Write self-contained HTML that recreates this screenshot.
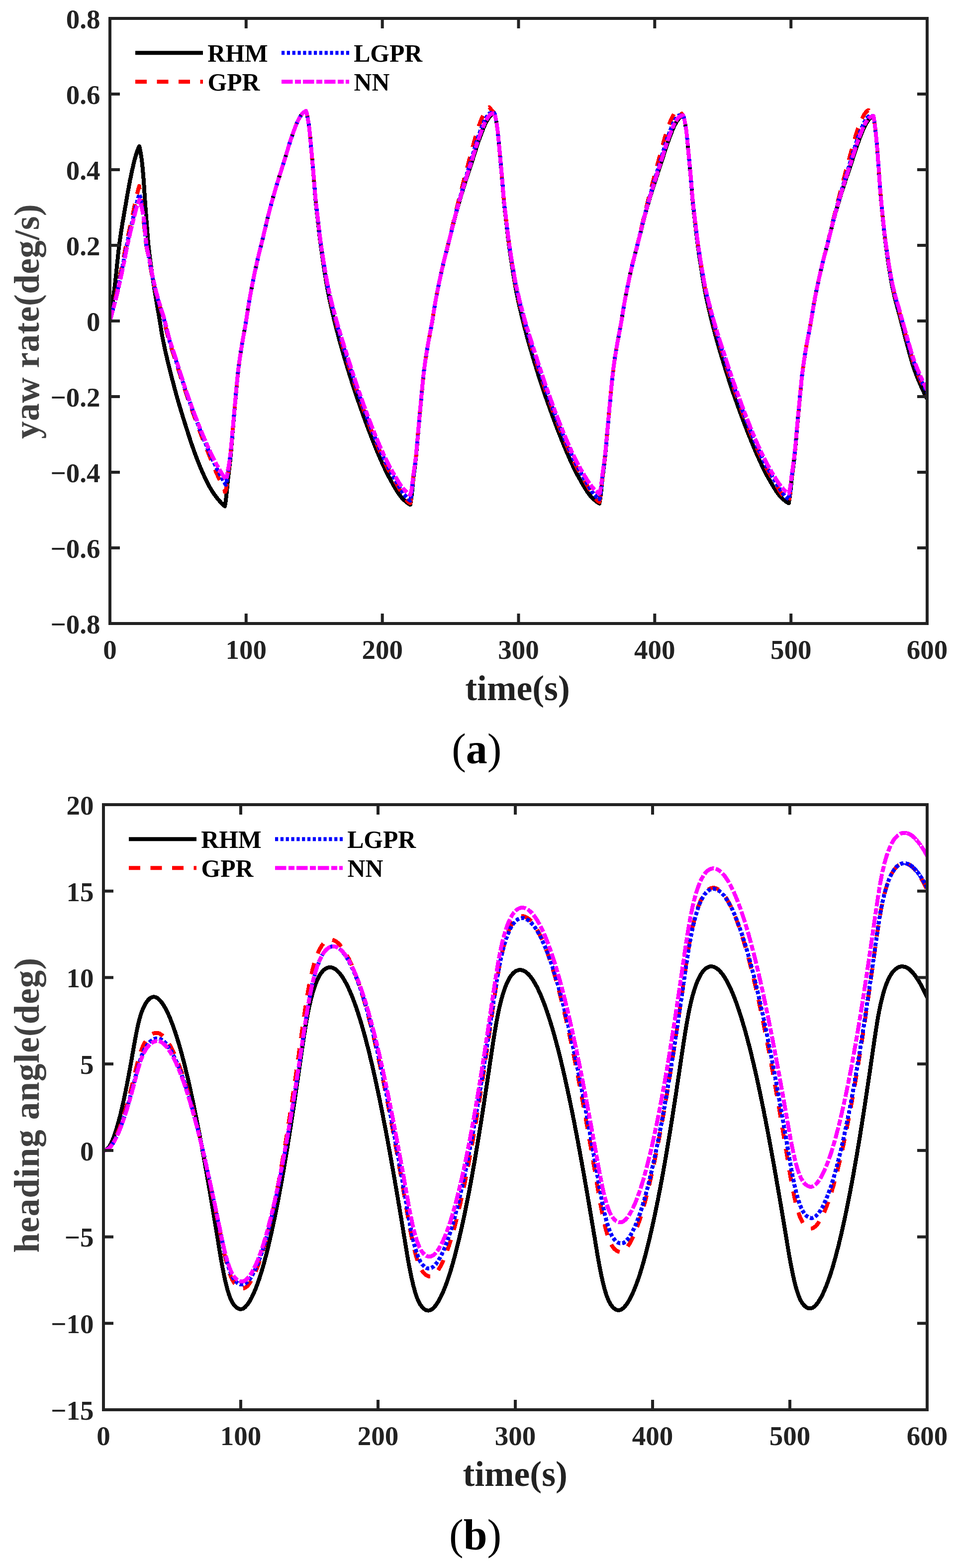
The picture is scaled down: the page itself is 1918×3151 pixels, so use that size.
<!DOCTYPE html>
<html><head><meta charset="utf-8"><title>yaw rate and heading angle</title>
<style>html,body{margin:0;padding:0;background:#fff;}body{width:1918px;height:3151px;overflow:hidden;}svg{display:block;}</style>
</head><body>
<svg width="1918" height="3151" viewBox="0 0 1918 3151">
<defs><clipPath id="ca"><rect x="221.0" y="33.0" width="1643.0" height="1224.0"/></clipPath><clipPath id="cb"><rect x="208.0" y="1613.0" width="1656.0" height="1224.0"/></clipPath></defs>
<path d="M221.0,645.0 L221.6,641.3 L222.1,637.6 L222.7,633.9 L223.2,630.1 L223.8,626.3 L224.3,622.4 L224.9,618.5 L225.4,614.5 L226.0,610.5 L226.6,606.4 L227.1,602.4 L227.7,598.3 L228.2,594.1 L228.8,589.9 L229.3,585.6 L229.9,581.3 L230.4,576.9 L231.0,572.4 L231.6,567.8 L232.1,562.9 L232.7,557.9 L233.2,552.7 L233.8,547.4 L234.3,541.9 L234.9,536.4 L235.4,530.9 L236.0,525.5 L236.6,520.0 L237.1,514.7 L237.7,509.6 L238.2,504.6 L238.8,499.8 L239.3,495.3 L239.9,491.0 L240.4,486.9 L241.0,482.9 L241.6,478.9 L242.1,475.1 L242.7,471.3 L243.2,467.7 L243.8,464.0 L244.3,460.5 L244.9,457.0 L245.4,453.6 L246.0,450.2 L246.5,446.8 L247.1,443.5 L247.7,440.2 L248.2,437.0 L248.8,433.7 L249.3,430.5 L249.9,427.3 L250.4,424.1 L251.0,420.9 L251.5,417.7 L252.1,414.5 L252.7,411.3 L253.2,408.1 L253.8,404.8 L254.3,401.6 L254.9,398.5 L255.4,395.3 L256.0,392.1 L256.5,389.0 L257.1,385.9 L257.7,382.8 L258.2,379.7 L258.8,376.7 L259.3,373.6 L259.9,370.7 L260.4,367.7 L261.0,364.8 L261.5,361.9 L262.1,359.1 L262.7,356.3 L263.2,353.6 L263.8,350.9 L264.3,348.2 L264.9,345.6 L265.4,343.1 L266.0,340.6 L266.5,338.2 L267.1,335.8 L267.7,333.4 L268.2,331.1 L268.8,328.8 L269.3,326.6 L269.9,324.3 L270.4,322.2 L271.0,320.1 L271.5,318.0 L272.1,316.0 L272.7,314.0 L273.2,312.1 L273.8,310.3 L274.3,308.6 L274.9,306.9 L275.4,305.2 L276.0,303.6 L276.5,302.1 L277.1,300.6 L277.7,299.1 L278.2,297.7 L278.8,296.4 L279.3,295.1 L279.9,293.9 L280.4,295.5 L281.0,297.6 L281.5,300.0 L282.1,302.8 L282.6,305.9 L283.2,309.2 L283.7,312.8 L284.3,316.5 L284.8,320.4 L285.4,324.8 L285.9,329.8 L286.5,335.3 L287.0,341.2 L287.6,347.4 L288.1,353.9 L288.7,360.5 L289.2,367.9 L289.8,376.1 L290.3,384.7 L290.9,393.3 L291.4,401.4 L292.0,409.0 L292.5,416.6 L293.1,424.0 L293.6,431.3 L294.2,438.5 L294.7,445.7 L295.3,453.1 L295.8,460.5 L296.4,467.9 L296.9,475.1 L297.5,481.8 L298.0,488.2 L298.6,493.9 L299.1,499.1 L299.7,504.0 L300.2,508.7 L300.8,513.1 L301.3,517.4 L301.9,521.6 L302.4,525.7 L303.0,529.8 L303.5,533.9 L304.1,537.9 L304.6,541.9 L305.2,545.8 L305.7,549.6 L306.3,553.4 L306.8,557.1 L307.4,560.8 L307.9,564.5 L308.5,568.1 L309.0,571.7 L309.6,575.3 L310.1,578.8 L310.7,582.3 L311.2,585.7 L311.8,589.1 L312.3,592.5 L312.9,595.9 L313.4,599.2 L314.0,602.5 L314.5,605.8 L315.1,609.1 L315.6,612.4 L316.2,615.6 L316.7,618.8 L317.3,622.0 L317.8,625.1 L318.4,628.3 L318.9,631.5 L319.5,634.7 L320.0,637.9 L320.6,641.1 L321.1,644.4 L321.7,647.8 L322.2,651.1 L322.8,654.5 L323.3,657.9 L323.9,661.3 L324.4,664.6 L325.0,667.9 L325.5,671.2 L326.1,674.3 L326.6,677.4 L327.2,680.3 L327.7,683.2 L328.3,686.0 L328.9,688.7 L329.4,691.4 L330.0,694.1 L330.5,696.7 L331.1,699.3 L331.6,701.8 L332.2,704.3 L332.7,706.8 L333.3,709.2 L333.8,711.6 L334.4,714.1 L334.9,716.4 L335.5,718.8 L336.0,721.2 L336.6,723.6 L337.1,725.9 L337.7,728.2 L338.2,730.5 L338.8,732.8 L339.3,735.0 L339.9,737.2 L340.4,739.4 L341.0,741.6 L341.5,743.8 L342.1,746.0 L342.6,748.1 L343.2,750.3 L343.7,752.4 L344.3,754.6 L344.8,756.7 L345.4,758.8 L345.9,760.9 L346.5,763.0 L347.0,765.1 L347.6,767.3 L348.1,769.4 L348.7,771.4 L349.2,773.5 L349.8,775.6 L350.3,777.7 L350.9,779.7 L351.4,781.8 L352.0,783.8 L352.5,785.9 L353.1,787.9 L353.6,789.9 L354.2,791.9 L354.7,793.9 L355.3,795.9 L355.8,797.8 L356.4,799.8 L356.9,801.7 L357.5,803.6 L358.0,805.5 L358.6,807.4 L359.1,809.3 L359.7,811.2 L360.2,813.1 L360.8,814.9 L361.3,816.8 L361.9,818.6 L362.4,820.5 L363.0,822.3 L363.5,824.1 L364.1,825.9 L364.6,827.8 L365.2,829.6 L365.7,831.4 L366.3,833.1 L366.8,834.9 L367.4,836.7 L367.9,838.5 L368.5,840.3 L369.0,842.0 L369.6,843.8 L370.1,845.5 L370.7,847.3 L371.2,849.0 L371.8,850.8 L372.3,852.5 L372.9,854.3 L373.4,856.0 L374.0,857.7 L374.5,859.4 L375.1,861.2 L375.6,862.9 L376.2,864.6 L376.7,866.4 L377.3,868.1 L377.8,869.8 L378.4,871.5 L378.9,873.2 L379.5,874.9 L380.0,876.6 L380.6,878.3 L381.1,880.0 L381.7,881.7 L382.2,883.4 L382.8,885.0 L383.3,886.7 L383.9,888.3 L384.4,890.0 L385.0,891.6 L385.5,893.2 L386.1,894.8 L386.6,896.4 L387.2,898.0 L387.7,899.6 L388.3,901.1 L388.8,902.7 L389.4,904.2 L389.9,905.7 L390.5,907.2 L391.0,908.8 L391.6,910.3 L392.1,911.8 L392.7,913.3 L393.2,914.8 L393.8,916.3 L394.3,917.7 L394.9,919.2 L395.4,920.7 L396.0,922.1 L396.5,923.6 L397.1,925.0 L397.6,926.4 L398.2,927.8 L398.7,929.2 L399.3,930.6 L399.8,932.0 L400.4,933.3 L400.9,934.7 L401.5,936.0 L402.0,937.4 L402.6,938.7 L403.1,940.0 L403.7,941.2 L404.2,942.5 L404.8,943.8 L405.3,945.0 L405.9,946.3 L406.4,947.5 L407.0,948.8 L407.5,950.0 L408.1,951.3 L408.6,952.5 L409.2,953.7 L409.7,954.9 L410.3,956.1 L410.8,957.3 L411.4,958.5 L411.9,959.7 L412.5,960.9 L413.0,962.1 L413.6,963.2 L414.1,964.4 L414.7,965.5 L415.2,966.6 L415.8,967.8 L416.3,968.9 L416.9,970.0 L417.4,971.0 L418.0,972.1 L418.5,973.2 L419.1,974.2 L419.6,975.2 L420.2,976.3 L420.7,977.3 L421.3,978.2 L421.8,979.2 L422.4,980.2 L422.9,981.1 L423.5,982.1 L424.1,983.0 L424.6,983.9 L425.2,984.8 L425.7,985.7 L426.3,986.5 L426.8,987.4 L427.4,988.3 L427.9,989.1 L428.5,989.9 L429.0,990.8 L429.6,991.6 L430.1,992.4 L430.7,993.2 L431.2,994.0 L431.8,994.7 L432.3,995.5 L432.9,996.3 L433.4,997.0 L434.0,997.8 L434.5,998.5 L435.1,999.2 L435.6,999.9 L436.2,1000.6 L436.7,1001.3 L437.3,1002.0 L437.8,1002.7 L438.4,1003.3 L438.9,1004.0 L439.5,1004.6 L440.0,1005.3 L440.6,1005.9 L441.1,1006.5 L441.7,1007.1 L442.2,1007.7 L442.8,1008.4 L443.3,1008.9 L443.9,1009.5 L444.4,1010.1 L445.0,1010.7 L445.5,1011.3 L446.1,1011.8 L446.6,1012.4 L447.2,1012.9 L447.7,1013.4 L448.3,1014.0 L448.8,1014.5 L449.4,1015.0 L449.9,1015.5 L450.5,1016.0 L451.0,1016.5 L451.6,1016.9 L452.1,1017.4 L452.6,1014.3 L453.2,1010.9 L453.7,1007.1 L454.2,1003.1 L454.8,998.9 L455.3,994.1 L455.8,988.8 L456.4,983.1 L456.9,977.4 L457.4,971.8 L458.0,966.5 L458.5,961.7 L459.0,957.1 L459.6,952.7 L460.1,948.3 L460.6,944.0 L461.1,939.6 L461.7,935.1 L462.2,930.4 L462.7,925.5 L463.3,920.2 L463.8,914.5 L464.3,908.6 L464.9,902.4 L465.4,896.1 L465.9,889.6 L466.5,883.1 L467.0,876.6 L467.5,870.2 L468.1,863.9 L468.6,857.7 L469.1,851.6 L469.6,845.4 L470.2,839.2 L470.7,833.0 L471.2,826.9 L471.8,820.8 L472.3,814.7 L472.8,808.7 L473.4,802.8 L473.9,796.8 L474.4,790.7 L475.0,784.7 L475.5,778.7 L476.0,772.8 L476.6,767.1 L477.1,761.6 L477.6,756.5 L478.1,751.7 L478.7,747.1 L479.2,742.7 L479.7,738.4 L480.3,734.3 L480.8,730.3 L481.3,726.4 L481.9,722.6 L482.4,718.9 L482.9,715.2 L483.5,711.7 L484.0,708.1 L484.5,704.7 L485.1,701.2 L485.6,697.8 L486.1,694.6 L486.6,691.4 L487.2,688.2 L487.7,685.2 L488.2,682.2 L488.8,679.2 L489.3,676.3 L489.8,673.3 L490.4,670.4 L490.9,667.5 L491.4,664.5 L492.0,661.6 L492.5,658.6 L493.0,655.5 L493.6,652.4 L494.1,649.2 L494.6,646.0 L495.1,642.7 L495.7,639.3 L496.2,635.9 L496.7,632.5 L497.3,629.1 L497.8,625.6 L498.3,622.2 L498.9,618.8 L499.4,615.4 L499.9,612.1 L500.5,608.8 L501.0,605.6 L501.5,602.5 L502.1,599.4 L502.6,596.5 L503.1,593.6 L503.6,590.7 L504.2,587.8 L504.7,584.9 L505.2,582.1 L505.8,579.3 L506.3,576.6 L506.8,573.8 L507.4,571.1 L507.9,568.4 L508.4,565.8 L509.0,563.1 L509.5,560.5 L510.0,557.9 L510.6,555.3 L511.1,552.8 L511.6,550.2 L512.1,547.7 L512.7,545.2 L513.2,542.7 L513.7,540.3 L514.3,537.8 L514.8,535.4 L515.3,533.0 L515.9,530.6 L516.4,528.2 L516.9,525.9 L517.5,523.6 L518.0,521.3 L518.5,519.0 L519.1,516.8 L519.6,514.6 L520.1,512.4 L520.6,510.3 L521.2,508.1 L521.7,506.0 L522.2,503.8 L522.8,501.7 L523.3,499.6 L523.8,497.5 L524.4,495.4 L524.9,493.2 L525.4,491.1 L526.0,489.0 L526.5,486.8 L527.0,484.7 L527.6,482.5 L528.1,480.3 L528.6,478.1 L529.1,475.8 L529.7,473.6 L530.2,471.3 L530.7,469.1 L531.3,466.8 L531.8,464.5 L532.3,462.2 L532.9,459.9 L533.4,457.6 L533.9,455.3 L534.5,453.0 L535.0,450.8 L535.5,448.5 L536.1,446.2 L536.6,444.0 L537.1,441.8 L537.6,439.6 L538.2,437.4 L538.7,435.2 L539.2,433.1 L539.8,431.0 L540.3,428.9 L540.8,426.8 L541.4,424.8 L541.9,422.7 L542.4,420.7 L543.0,418.7 L543.5,416.8 L544.0,414.8 L544.6,412.8 L545.1,410.9 L545.6,409.0 L546.1,407.0 L546.7,405.1 L547.2,403.2 L547.7,401.3 L548.3,399.5 L548.8,397.6 L549.3,395.7 L549.9,393.9 L550.4,392.0 L550.9,390.2 L551.5,388.3 L552.0,386.5 L552.5,384.7 L553.1,382.9 L553.6,381.1 L554.1,379.2 L554.6,377.4 L555.2,375.6 L555.7,373.8 L556.2,372.1 L556.8,370.3 L557.3,368.5 L557.8,366.8 L558.4,365.0 L558.9,363.3 L559.4,361.6 L560.0,359.8 L560.5,358.1 L561.0,356.4 L561.6,354.7 L562.1,353.0 L562.6,351.3 L563.1,349.6 L563.7,347.9 L564.2,346.3 L564.7,344.6 L565.3,342.9 L565.8,341.2 L566.3,339.5 L566.9,337.8 L567.4,336.2 L567.9,334.5 L568.5,332.8 L569.0,331.1 L569.5,329.4 L570.1,327.8 L570.6,326.1 L571.1,324.4 L571.6,322.7 L572.2,321.0 L572.7,319.3 L573.2,317.5 L573.8,315.8 L574.3,314.1 L574.8,312.3 L575.4,310.5 L575.9,308.8 L576.4,307.0 L577.0,305.2 L577.5,303.4 L578.0,301.7 L578.6,299.9 L579.1,298.1 L579.6,296.3 L580.1,294.6 L580.7,292.8 L581.2,291.1 L581.7,289.4 L582.3,287.7 L582.8,286.0 L583.3,284.4 L583.9,282.8 L584.4,281.2 L584.9,279.6 L585.5,278.1 L586.0,276.5 L586.5,275.0 L587.1,273.5 L587.6,272.0 L588.1,270.5 L588.6,269.0 L589.2,267.5 L589.7,266.0 L590.2,264.5 L590.8,263.0 L591.3,261.5 L591.8,260.1 L592.4,258.6 L592.9,257.2 L593.4,255.8 L594.0,254.4 L594.5,253.0 L595.0,251.7 L595.6,250.4 L596.1,249.1 L596.6,247.8 L597.1,246.6 L597.7,245.4 L598.2,244.2 L598.7,243.1 L599.3,242.0 L599.8,240.9 L600.3,239.9 L600.9,238.9 L601.4,238.0 L601.9,237.0 L602.5,236.1 L603.0,235.3 L603.5,234.4 L604.1,233.5 L604.6,232.7 L605.1,231.9 L605.6,231.2 L606.2,230.4 L606.7,229.7 L607.2,229.1 L607.8,228.4 L608.3,227.9 L608.8,227.3 L609.4,226.8 L609.9,226.4 L610.4,225.9 L611.0,225.5 L611.5,225.1 L612.0,224.7 L612.6,224.3 L613.1,224.0 L613.6,223.7 L614.1,223.4 L614.7,223.2 L615.2,223.0 L615.8,224.5 L616.3,226.3 L616.9,228.4 L617.4,230.9 L618.0,233.6 L618.5,236.6 L619.1,239.7 L619.6,243.1 L620.2,246.5 L620.7,250.1 L621.3,254.1 L621.8,258.6 L622.4,263.6 L622.9,269.1 L623.5,274.8 L624.0,280.8 L624.6,286.9 L625.1,293.0 L625.7,299.0 L626.2,304.8 L626.8,310.8 L627.3,316.8 L627.9,323.0 L628.4,329.2 L629.0,335.5 L629.5,341.9 L630.1,348.4 L630.6,354.9 L631.2,361.7 L631.7,368.8 L632.3,375.9 L632.8,383.0 L633.4,389.9 L633.9,396.5 L634.5,402.5 L635.0,408.1 L635.6,413.4 L636.1,418.4 L636.7,423.2 L637.2,428.0 L637.8,432.6 L638.3,437.3 L638.9,442.1 L639.4,447.0 L640.0,452.0 L640.5,457.0 L641.1,462.0 L641.6,466.9 L642.2,471.7 L642.7,476.3 L643.3,480.8 L643.8,485.1 L644.4,489.4 L644.9,493.5 L645.5,497.6 L646.0,501.6 L646.6,505.5 L647.1,509.4 L647.7,513.2 L648.2,516.9 L648.8,520.7 L649.3,524.4 L649.9,528.0 L650.4,531.7 L651.0,535.3 L651.5,539.0 L652.1,542.6 L652.6,546.2 L653.2,549.7 L653.7,553.3 L654.3,556.7 L654.8,560.2 L655.4,563.6 L655.9,566.9 L656.5,570.2 L657.0,573.4 L657.6,576.5 L658.1,579.6 L658.7,582.5 L659.2,585.4 L659.8,588.2 L660.3,591.0 L660.9,593.8 L661.4,596.5 L662.0,599.1 L662.5,601.7 L663.1,604.3 L663.6,606.8 L664.2,609.3 L664.7,611.8 L665.3,614.2 L665.8,616.7 L666.4,619.1 L666.9,621.5 L667.5,623.9 L668.0,626.2 L668.6,628.6 L669.1,631.0 L669.7,633.3 L670.2,635.7 L670.8,638.0 L671.3,640.3 L671.9,642.6 L672.4,644.9 L673.0,647.1 L673.5,649.4 L674.1,651.6 L674.6,653.8 L675.2,656.0 L675.7,658.2 L676.3,660.4 L676.8,662.5 L677.4,664.6 L677.9,666.8 L678.5,668.9 L679.0,671.0 L679.6,673.1 L680.1,675.1 L680.7,677.2 L681.2,679.2 L681.8,681.3 L682.3,683.3 L682.9,685.3 L683.4,687.3 L684.0,689.3 L684.5,691.2 L685.1,693.2 L685.6,695.2 L686.2,697.1 L686.7,699.0 L687.3,701.0 L687.8,702.9 L688.4,704.8 L688.9,706.7 L689.5,708.6 L690.0,710.5 L690.6,712.4 L691.1,714.2 L691.7,716.1 L692.2,718.0 L692.8,719.9 L693.3,721.7 L693.9,723.6 L694.4,725.4 L695.0,727.3 L695.5,729.1 L696.1,730.9 L696.6,732.8 L697.2,734.6 L697.7,736.4 L698.3,738.2 L698.8,740.1 L699.4,741.9 L699.9,743.7 L700.5,745.5 L701.0,747.3 L701.6,749.0 L702.1,750.8 L702.7,752.6 L703.2,754.4 L703.8,756.1 L704.3,757.9 L704.9,759.7 L705.4,761.4 L706.0,763.1 L706.5,764.9 L707.1,766.6 L707.6,768.3 L708.2,770.1 L708.7,771.8 L709.3,773.5 L709.8,775.2 L710.4,776.9 L710.9,778.6 L711.5,780.3 L712.0,781.9 L712.6,783.6 L713.1,785.3 L713.7,786.9 L714.2,788.6 L714.8,790.2 L715.3,791.8 L715.9,793.5 L716.4,795.1 L717.0,796.7 L717.5,798.3 L718.1,799.9 L718.6,801.5 L719.2,803.1 L719.7,804.6 L720.3,806.2 L720.8,807.8 L721.4,809.4 L721.9,810.9 L722.5,812.5 L723.0,814.1 L723.6,815.6 L724.1,817.2 L724.7,818.7 L725.2,820.3 L725.8,821.8 L726.3,823.4 L726.9,824.9 L727.4,826.5 L728.0,828.0 L728.5,829.6 L729.1,831.1 L729.6,832.7 L730.2,834.2 L730.7,835.8 L731.3,837.3 L731.8,838.8 L732.4,840.4 L732.9,841.9 L733.5,843.4 L734.0,844.9 L734.6,846.4 L735.1,847.9 L735.7,849.4 L736.2,850.9 L736.8,852.4 L737.3,853.9 L737.9,855.4 L738.4,856.8 L739.0,858.3 L739.5,859.7 L740.1,861.2 L740.6,862.6 L741.2,864.1 L741.7,865.5 L742.3,866.9 L742.8,868.4 L743.4,869.8 L743.9,871.2 L744.5,872.6 L745.0,874.1 L745.6,875.5 L746.1,876.9 L746.7,878.3 L747.2,879.7 L747.8,881.1 L748.3,882.5 L748.9,884.0 L749.4,885.3 L750.0,886.7 L750.5,888.1 L751.1,889.5 L751.6,890.9 L752.2,892.3 L752.7,893.6 L753.3,895.0 L753.8,896.4 L754.4,897.7 L754.9,899.1 L755.5,900.4 L756.0,901.8 L756.6,903.1 L757.1,904.5 L757.7,905.8 L758.2,907.1 L758.8,908.4 L759.3,909.7 L759.9,911.0 L760.4,912.3 L761.0,913.6 L761.5,914.9 L762.1,916.2 L762.6,917.4 L763.2,918.7 L763.7,919.9 L764.3,921.2 L764.8,922.4 L765.4,923.7 L765.9,924.9 L766.5,926.2 L767.0,927.4 L767.6,928.6 L768.1,929.8 L768.7,931.1 L769.2,932.3 L769.8,933.5 L770.3,934.7 L770.9,935.9 L771.4,937.1 L772.0,938.3 L772.5,939.5 L773.1,940.7 L773.6,941.8 L774.2,943.0 L774.7,944.2 L775.3,945.3 L775.8,946.4 L776.4,947.6 L776.9,948.7 L777.5,949.8 L778.0,950.9 L778.6,952.0 L779.1,953.1 L779.7,954.2 L780.2,955.3 L780.8,956.3 L781.3,957.4 L781.9,958.4 L782.4,959.4 L783.0,960.4 L783.5,961.4 L784.1,962.4 L784.6,963.4 L785.2,964.4 L785.7,965.4 L786.3,966.4 L786.8,967.4 L787.4,968.4 L787.9,969.3 L788.5,970.3 L789.0,971.3 L789.6,972.3 L790.1,973.3 L790.7,974.2 L791.2,975.2 L791.8,976.2 L792.3,977.1 L792.9,978.1 L793.4,979.0 L794.0,980.0 L794.5,980.9 L795.1,981.8 L795.6,982.7 L796.2,983.6 L796.7,984.5 L797.3,985.4 L797.8,986.3 L798.4,987.2 L798.9,988.0 L799.5,988.9 L800.0,989.7 L800.6,990.6 L801.1,991.4 L801.7,992.2 L802.2,993.0 L802.8,993.8 L803.3,994.5 L803.9,995.3 L804.4,996.0 L805.0,996.7 L805.5,997.4 L806.1,998.1 L806.6,998.8 L807.2,999.5 L807.7,1000.1 L808.3,1000.7 L808.8,1001.3 L809.4,1001.9 L809.9,1002.5 L810.5,1003.0 L811.0,1003.6 L811.6,1004.1 L812.1,1004.7 L812.7,1005.2 L813.3,1005.7 L813.8,1006.2 L814.4,1006.7 L814.9,1007.2 L815.5,1007.7 L816.0,1008.2 L816.6,1008.7 L817.1,1009.1 L817.7,1009.6 L818.2,1010.0 L818.8,1010.4 L819.3,1010.8 L819.9,1011.3 L820.4,1011.6 L821.0,1012.0 L821.5,1012.4 L822.1,1012.8 L822.6,1013.1 L823.2,1013.4 L823.7,1013.8 L824.3,1014.1 L824.8,1014.4 L825.4,1011.3 L825.9,1007.9 L826.5,1004.2 L827.0,1000.2 L827.6,996.0 L828.1,991.3 L828.7,986.0 L829.2,980.4 L829.8,974.7 L830.3,969.1 L830.9,963.9 L831.4,959.1 L832.0,954.6 L832.5,950.2 L833.1,945.9 L833.6,941.6 L834.2,937.3 L834.7,932.8 L835.3,928.2 L835.8,923.2 L836.4,918.0 L836.9,912.4 L837.5,906.5 L838.0,900.4 L838.6,894.1 L839.1,887.7 L839.7,881.3 L840.2,874.9 L840.8,868.5 L841.3,862.2 L841.9,856.1 L842.4,850.0 L843.0,843.9 L843.5,837.7 L844.1,831.6 L844.6,825.5 L845.2,819.5 L845.7,813.5 L846.3,807.5 L846.8,801.6 L847.4,795.7 L847.9,789.7 L848.5,783.7 L849.0,777.8 L849.6,771.9 L850.1,766.3 L850.7,760.9 L851.2,755.7 L851.8,751.0 L852.3,746.5 L852.9,742.1 L853.4,737.9 L854.0,733.8 L854.5,729.8 L855.1,725.9 L855.6,722.2 L856.2,718.5 L856.7,714.9 L857.3,711.3 L857.8,707.8 L858.4,704.4 L858.9,701.0 L859.5,697.6 L860.0,694.4 L860.6,691.2 L861.1,688.1 L861.7,685.1 L862.2,682.1 L862.8,679.2 L863.3,676.3 L863.9,673.3 L864.4,670.5 L865.0,667.6 L865.5,664.6 L866.1,661.7 L866.6,658.7 L867.2,655.7 L867.7,652.6 L868.3,649.5 L868.8,646.3 L869.4,643.0 L869.9,639.7 L870.5,636.3 L871.0,632.9 L871.6,629.5 L872.1,626.1 L872.7,622.7 L873.2,619.3 L873.8,615.9 L874.3,612.6 L874.9,609.4 L875.4,606.2 L876.0,603.1 L876.5,600.1 L877.1,597.2 L877.6,594.3 L878.2,591.4 L878.7,588.6 L879.3,585.7 L879.8,583.0 L880.4,580.2 L880.9,577.4 L881.5,574.7 L882.0,572.0 L882.6,569.4 L883.1,566.7 L883.7,564.1 L884.2,561.5 L884.8,558.9 L885.3,556.4 L885.9,553.8 L886.4,551.3 L887.0,548.8 L887.5,546.4 L888.1,543.9 L888.6,541.5 L889.2,539.0 L889.7,536.6 L890.3,534.2 L890.8,531.9 L891.4,529.5 L891.9,527.2 L892.5,524.9 L893.0,522.7 L893.6,520.4 L894.1,518.2 L894.7,516.0 L895.2,513.9 L895.8,511.7 L896.3,509.6 L896.9,507.5 L897.4,505.4 L898.0,503.3 L898.5,501.2 L899.1,499.1 L899.6,497.0 L900.2,494.9 L900.7,492.7 L901.3,490.6 L901.9,488.5 L902.4,486.4 L903.0,484.2 L903.5,482.0 L904.1,479.8 L904.6,477.6 L905.2,475.4 L905.7,473.2 L906.3,470.9 L906.8,468.6 L907.4,466.4 L907.9,464.1 L908.5,461.8 L909.0,459.6 L909.6,457.3 L910.1,455.0 L910.7,452.8 L911.2,450.5 L911.8,448.3 L912.3,446.1 L912.9,443.8 L913.4,441.7 L914.0,439.5 L914.5,437.3 L915.1,435.2 L915.6,433.1 L916.2,431.1 L916.7,429.0 L917.3,427.0 L917.8,425.0 L918.4,423.0 L918.9,421.0 L919.5,419.1 L920.0,417.1 L920.6,415.2 L921.1,413.2 L921.7,411.3 L922.2,409.4 L922.8,407.5 L923.3,405.7 L923.9,403.8 L924.4,401.9 L925.0,400.1 L925.5,398.2 L926.1,396.4 L926.6,394.5 L927.2,392.7 L927.7,390.9 L928.3,389.1 L928.8,387.3 L929.4,385.5 L929.9,383.7 L930.5,381.9 L931.0,380.1 L931.6,378.3 L932.1,376.5 L932.7,374.8 L933.2,373.0 L933.8,371.3 L934.3,369.5 L934.9,367.8 L935.4,366.1 L936.0,364.4 L936.5,362.7 L937.1,361.0 L937.6,359.3 L938.2,357.6 L938.7,355.9 L939.3,354.2 L939.8,352.5 L940.4,350.9 L940.9,349.2 L941.5,347.5 L942.0,345.8 L942.6,344.2 L943.1,342.5 L943.7,340.9 L944.2,339.2 L944.8,337.5 L945.3,335.9 L945.9,334.2 L946.4,332.5 L947.0,330.8 L947.5,329.2 L948.1,327.5 L948.6,325.8 L949.2,324.1 L949.7,322.4 L950.3,320.7 L950.8,319.0 L951.4,317.3 L951.9,315.5 L952.5,313.8 L953.0,312.0 L953.6,310.3 L954.1,308.5 L954.7,306.7 L955.2,305.0 L955.8,303.2 L956.3,301.5 L956.9,299.7 L957.4,298.0 L958.0,296.2 L958.5,294.5 L959.1,292.8 L959.6,291.2 L960.2,289.5 L960.7,287.9 L961.3,286.3 L961.8,284.7 L962.4,283.1 L962.9,281.6 L963.5,280.1 L964.0,278.6 L964.6,277.1 L965.1,275.6 L965.7,274.1 L966.2,272.6 L966.8,271.1 L967.3,269.6 L967.9,268.1 L968.4,266.7 L969.0,265.2 L969.5,263.8 L970.1,262.3 L970.6,260.9 L971.2,259.5 L971.7,258.1 L972.3,256.8 L972.8,255.5 L973.4,254.1 L973.9,252.9 L974.5,251.6 L975.0,250.4 L975.6,249.2 L976.1,248.0 L976.7,246.9 L977.2,245.8 L977.8,244.8 L978.3,243.8 L978.9,242.8 L979.4,241.9 L980.0,240.9 L980.5,240.1 L981.1,239.2 L981.7,238.3 L982.2,237.5 L982.8,236.7 L983.3,235.9 L983.9,235.1 L984.4,234.4 L985.0,233.7 L985.5,233.0 L986.1,232.4 L986.6,231.8 L987.2,231.3 L987.7,230.8 L988.3,230.4 L988.8,229.9 L989.4,229.5 L989.9,229.1 L990.5,228.7 L991.0,228.4 L991.6,228.0 L992.1,227.7 L992.7,227.4 L993.2,227.2 L993.8,227.0 L994.3,228.5 L994.9,230.3 L995.4,232.4 L996.0,234.9 L996.5,237.6 L997.1,240.5 L997.6,243.6 L998.2,246.9 L998.8,250.4 L999.3,253.9 L999.9,257.8 L1000.4,262.3 L1001.0,267.3 L1001.5,272.7 L1002.1,278.4 L1002.6,284.3 L1003.2,290.4 L1003.7,296.4 L1004.3,302.4 L1004.9,308.2 L1005.4,314.1 L1006.0,320.1 L1006.5,326.2 L1007.1,332.4 L1007.6,338.6 L1008.2,344.9 L1008.7,351.3 L1009.3,357.8 L1009.8,364.6 L1010.4,371.6 L1011.0,378.7 L1011.5,385.7 L1012.1,392.5 L1012.6,399.0 L1013.2,405.0 L1013.7,410.6 L1014.3,415.8 L1014.8,420.8 L1015.4,425.6 L1016.0,430.3 L1016.5,434.9 L1017.1,439.6 L1017.6,444.3 L1018.2,449.2 L1018.7,454.1 L1019.3,459.0 L1019.8,464.0 L1020.4,468.8 L1020.9,473.6 L1021.5,478.2 L1022.1,482.7 L1022.6,486.9 L1023.2,491.1 L1023.7,495.2 L1024.3,499.3 L1024.8,503.2 L1025.4,507.1 L1025.9,511.0 L1026.5,514.7 L1027.0,518.5 L1027.6,522.2 L1028.2,525.8 L1028.7,529.5 L1029.3,533.1 L1029.8,536.7 L1030.4,540.3 L1030.9,543.9 L1031.5,547.5 L1032.0,551.0 L1032.6,554.5 L1033.2,557.9 L1033.7,561.4 L1034.3,564.7 L1034.8,568.0 L1035.4,571.3 L1035.9,574.4 L1036.5,577.5 L1037.0,580.6 L1037.6,583.5 L1038.1,586.4 L1038.7,589.2 L1039.3,591.9 L1039.8,594.7 L1040.4,597.3 L1040.9,600.0 L1041.5,602.5 L1042.0,605.1 L1042.6,607.6 L1043.1,610.1 L1043.7,612.5 L1044.2,615.0 L1044.8,617.4 L1045.4,619.8 L1045.9,622.1 L1046.5,624.5 L1047.0,626.9 L1047.6,629.2 L1048.1,631.6 L1048.7,633.9 L1049.2,636.2 L1049.8,638.5 L1050.4,640.8 L1050.9,643.1 L1051.5,645.4 L1052.0,647.6 L1052.6,649.8 L1053.1,652.0 L1053.7,654.2 L1054.2,656.4 L1054.8,658.5 L1055.3,660.7 L1055.9,662.8 L1056.5,664.9 L1057.0,667.0 L1057.6,669.1 L1058.1,671.2 L1058.7,673.3 L1059.2,675.3 L1059.8,677.4 L1060.3,679.4 L1060.9,681.4 L1061.4,683.4 L1062.0,685.4 L1062.6,687.4 L1063.1,689.4 L1063.7,691.3 L1064.2,693.3 L1064.8,695.2 L1065.3,697.1 L1065.9,699.0 L1066.4,701.0 L1067.0,702.9 L1067.6,704.8 L1068.1,706.6 L1068.7,708.5 L1069.2,710.4 L1069.8,712.3 L1070.3,714.1 L1070.9,716.0 L1071.4,717.8 L1072.0,719.7 L1072.5,721.5 L1073.1,723.4 L1073.7,725.2 L1074.2,727.0 L1074.8,728.9 L1075.3,730.7 L1075.9,732.5 L1076.4,734.3 L1077.0,736.1 L1077.5,737.9 L1078.1,739.7 L1078.7,741.5 L1079.2,743.3 L1079.8,745.1 L1080.3,746.9 L1080.9,748.6 L1081.4,750.4 L1082.0,752.2 L1082.5,753.9 L1083.1,755.7 L1083.6,757.4 L1084.2,759.1 L1084.8,760.9 L1085.3,762.6 L1085.9,764.3 L1086.4,766.0 L1087.0,767.8 L1087.5,769.5 L1088.1,771.2 L1088.6,772.9 L1089.2,774.6 L1089.7,776.2 L1090.3,777.9 L1090.9,779.6 L1091.4,781.2 L1092.0,782.9 L1092.5,784.6 L1093.1,786.2 L1093.6,787.8 L1094.2,789.4 L1094.7,791.1 L1095.3,792.7 L1095.9,794.3 L1096.4,795.9 L1097.0,797.5 L1097.5,799.0 L1098.1,800.6 L1098.6,802.2 L1099.2,803.8 L1099.7,805.3 L1100.3,806.9 L1100.8,808.4 L1101.4,810.0 L1102.0,811.5 L1102.5,813.1 L1103.1,814.6 L1103.6,816.2 L1104.2,817.7 L1104.7,819.3 L1105.3,820.8 L1105.8,822.3 L1106.4,823.9 L1106.9,825.4 L1107.5,827.0 L1108.1,828.5 L1108.6,830.0 L1109.2,831.6 L1109.7,833.1 L1110.3,834.6 L1110.8,836.1 L1111.4,837.7 L1111.9,839.2 L1112.5,840.7 L1113.1,842.2 L1113.6,843.7 L1114.2,845.2 L1114.7,846.7 L1115.3,848.2 L1115.8,849.6 L1116.4,851.1 L1116.9,852.6 L1117.5,854.0 L1118.0,855.5 L1118.6,856.9 L1119.2,858.4 L1119.7,859.8 L1120.3,861.2 L1120.8,862.7 L1121.4,864.1 L1121.9,865.5 L1122.5,866.9 L1123.0,868.4 L1123.6,869.8 L1124.1,871.2 L1124.7,872.6 L1125.3,874.0 L1125.8,875.4 L1126.4,876.8 L1126.9,878.2 L1127.5,879.6 L1128.0,881.0 L1128.6,882.4 L1129.1,883.8 L1129.7,885.2 L1130.3,886.5 L1130.8,887.9 L1131.4,889.3 L1131.9,890.6 L1132.5,892.0 L1133.0,893.4 L1133.6,894.7 L1134.1,896.1 L1134.7,897.4 L1135.2,898.7 L1135.8,900.1 L1136.4,901.4 L1136.9,902.7 L1137.5,904.0 L1138.0,905.3 L1138.6,906.6 L1139.1,907.9 L1139.7,909.2 L1140.2,910.5 L1140.8,911.8 L1141.3,913.1 L1141.9,914.3 L1142.5,915.6 L1143.0,916.8 L1143.6,918.1 L1144.1,919.3 L1144.7,920.6 L1145.2,921.8 L1145.8,923.0 L1146.3,924.2 L1146.9,925.5 L1147.5,926.7 L1148.0,927.9 L1148.6,929.1 L1149.1,930.3 L1149.7,931.5 L1150.2,932.7 L1150.8,933.9 L1151.3,935.1 L1151.9,936.3 L1152.4,937.5 L1153.0,938.6 L1153.6,939.8 L1154.1,940.9 L1154.7,942.1 L1155.2,943.2 L1155.8,944.4 L1156.3,945.5 L1156.9,946.6 L1157.4,947.7 L1158.0,948.8 L1158.5,949.9 L1159.1,951.0 L1159.7,952.0 L1160.2,953.1 L1160.8,954.2 L1161.3,955.2 L1161.9,956.2 L1162.4,957.2 L1163.0,958.2 L1163.5,959.2 L1164.1,960.2 L1164.7,961.2 L1165.2,962.2 L1165.8,963.1 L1166.3,964.1 L1166.9,965.1 L1167.4,966.1 L1168.0,967.1 L1168.5,968.0 L1169.1,969.0 L1169.6,970.0 L1170.2,970.9 L1170.8,971.9 L1171.3,972.9 L1171.9,973.8 L1172.4,974.8 L1173.0,975.7 L1173.5,976.7 L1174.1,977.6 L1174.6,978.5 L1175.2,979.4 L1175.7,980.3 L1176.3,981.2 L1176.9,982.1 L1177.4,983.0 L1178.0,983.9 L1178.5,984.8 L1179.1,985.6 L1179.6,986.4 L1180.2,987.3 L1180.7,988.1 L1181.3,988.9 L1181.9,989.7 L1182.4,990.5 L1183.0,991.3 L1183.5,992.0 L1184.1,992.8 L1184.6,993.5 L1185.2,994.2 L1185.7,994.9 L1186.3,995.6 L1186.8,996.3 L1187.4,996.9 L1188.0,997.6 L1188.5,998.2 L1189.1,998.8 L1189.6,999.4 L1190.2,999.9 L1190.7,1000.5 L1191.3,1001.0 L1191.8,1001.6 L1192.4,1002.1 L1193.0,1002.6 L1193.5,1003.1 L1194.1,1003.7 L1194.6,1004.2 L1195.2,1004.6 L1195.7,1005.1 L1196.3,1005.6 L1196.8,1006.1 L1197.4,1006.5 L1197.9,1007.0 L1198.5,1007.4 L1199.1,1007.8 L1199.6,1008.2 L1200.2,1008.6 L1200.7,1009.0 L1201.3,1009.4 L1201.8,1009.8 L1202.4,1010.1 L1202.9,1010.5 L1203.5,1010.8 L1204.0,1011.1 L1204.6,1011.4 L1205.2,1011.7 L1205.7,1008.7 L1206.3,1005.3 L1206.8,1001.6 L1207.4,997.7 L1207.9,993.5 L1208.4,988.9 L1209.0,983.6 L1209.5,978.1 L1210.1,972.4 L1210.6,966.9 L1211.2,961.7 L1211.7,957.0 L1212.3,952.5 L1212.8,948.1 L1213.4,943.9 L1213.9,939.6 L1214.5,935.3 L1215.0,930.9 L1215.6,926.3 L1216.1,921.4 L1216.7,916.2 L1217.2,910.7 L1217.8,904.8 L1218.3,898.8 L1218.9,892.6 L1219.4,886.2 L1220.0,879.9 L1220.5,873.5 L1221.1,867.2 L1221.6,861.0 L1222.2,854.9 L1222.7,848.8 L1223.3,842.8 L1223.8,836.7 L1224.4,830.6 L1224.9,824.6 L1225.5,818.6 L1226.0,812.6 L1226.6,806.8 L1227.1,800.9 L1227.6,795.0 L1228.2,789.1 L1228.7,783.2 L1229.3,777.3 L1229.8,771.5 L1230.4,765.9 L1230.9,760.5 L1231.5,755.5 L1232.0,750.7 L1232.6,746.2 L1233.1,741.9 L1233.7,737.7 L1234.2,733.7 L1234.8,729.7 L1235.3,725.9 L1235.9,722.2 L1236.4,718.5 L1237.0,715.0 L1237.5,711.5 L1238.1,708.0 L1238.6,704.6 L1239.2,701.2 L1239.7,697.9 L1240.3,694.7 L1240.8,691.5 L1241.4,688.5 L1241.9,685.5 L1242.5,682.5 L1243.0,679.6 L1243.6,676.7 L1244.1,673.8 L1244.7,670.9 L1245.2,668.1 L1245.8,665.2 L1246.3,662.3 L1246.8,659.3 L1247.4,656.3 L1247.9,653.3 L1248.5,650.2 L1249.0,647.0 L1249.6,643.7 L1250.1,640.4 L1250.7,637.1 L1251.2,633.7 L1251.8,630.3 L1252.3,627.0 L1252.9,623.6 L1253.4,620.3 L1254.0,616.9 L1254.5,613.7 L1255.1,610.5 L1255.6,607.3 L1256.2,604.2 L1256.7,601.3 L1257.3,598.4 L1257.8,595.5 L1258.4,592.6 L1258.9,589.8 L1259.5,587.0 L1260.0,584.3 L1260.6,581.5 L1261.1,578.8 L1261.7,576.1 L1262.2,573.4 L1262.8,570.8 L1263.3,568.2 L1263.9,565.6 L1264.4,563.0 L1264.9,560.5 L1265.5,557.9 L1266.0,555.4 L1266.6,552.9 L1267.1,550.4 L1267.7,548.0 L1268.2,545.6 L1268.8,543.1 L1269.3,540.7 L1269.9,538.4 L1270.4,536.0 L1271.0,533.6 L1271.5,531.3 L1272.1,529.0 L1272.6,526.7 L1273.2,524.5 L1273.7,522.3 L1274.3,520.1 L1274.8,517.9 L1275.4,515.8 L1275.9,513.7 L1276.5,511.6 L1277.0,509.5 L1277.6,507.4 L1278.1,505.3 L1278.7,503.2 L1279.2,501.1 L1279.8,499.0 L1280.3,497.0 L1280.9,494.9 L1281.4,492.8 L1282.0,490.7 L1282.5,488.5 L1283.1,486.4 L1283.6,484.2 L1284.1,482.1 L1284.7,479.9 L1285.2,477.7 L1285.8,475.5 L1286.3,473.2 L1286.9,471.0 L1287.4,468.7 L1288.0,466.5 L1288.5,464.2 L1289.1,462.0 L1289.6,459.7 L1290.2,457.5 L1290.7,455.3 L1291.3,453.0 L1291.8,450.8 L1292.4,448.6 L1292.9,446.4 L1293.5,444.2 L1294.0,442.1 L1294.6,440.0 L1295.1,437.9 L1295.7,435.8 L1296.2,433.8 L1296.8,431.7 L1297.3,429.7 L1297.9,427.7 L1298.4,425.8 L1299.0,423.8 L1299.5,421.9 L1300.1,419.9 L1300.6,418.0 L1301.2,416.1 L1301.7,414.2 L1302.3,412.3 L1302.8,410.4 L1303.3,408.6 L1303.9,406.7 L1304.4,404.9 L1305.0,403.0 L1305.5,401.2 L1306.1,399.4 L1306.6,397.6 L1307.2,395.8 L1307.7,394.0 L1308.3,392.2 L1308.8,390.4 L1309.4,388.6 L1309.9,386.8 L1310.5,385.0 L1311.0,383.2 L1311.6,381.5 L1312.1,379.7 L1312.7,378.0 L1313.2,376.2 L1313.8,374.5 L1314.3,372.8 L1314.9,371.1 L1315.4,369.4 L1316.0,367.7 L1316.5,366.0 L1317.1,364.3 L1317.6,362.6 L1318.2,360.9 L1318.7,359.3 L1319.3,357.6 L1319.8,355.9 L1320.4,354.3 L1320.9,352.6 L1321.5,351.0 L1322.0,349.3 L1322.5,347.7 L1323.1,346.0 L1323.6,344.4 L1324.2,342.7 L1324.7,341.1 L1325.3,339.4 L1325.8,337.8 L1326.4,336.1 L1326.9,334.5 L1327.5,332.8 L1328.0,331.1 L1328.6,329.5 L1329.1,327.8 L1329.7,326.1 L1330.2,324.4 L1330.8,322.7 L1331.3,321.0 L1331.9,319.3 L1332.4,317.6 L1333.0,315.8 L1333.5,314.1 L1334.1,312.3 L1334.6,310.6 L1335.2,308.8 L1335.7,307.1 L1336.3,305.3 L1336.8,303.6 L1337.4,301.9 L1337.9,300.2 L1338.5,298.5 L1339.0,296.8 L1339.6,295.1 L1340.1,293.5 L1340.7,291.9 L1341.2,290.3 L1341.7,288.7 L1342.3,287.2 L1342.8,285.7 L1343.4,284.2 L1343.9,282.7 L1344.5,281.2 L1345.0,279.7 L1345.6,278.2 L1346.1,276.7 L1346.7,275.3 L1347.2,273.8 L1347.8,272.3 L1348.3,270.9 L1348.9,269.4 L1349.4,268.0 L1350.0,266.6 L1350.5,265.2 L1351.1,263.8 L1351.6,262.4 L1352.2,261.1 L1352.7,259.8 L1353.3,258.5 L1353.8,257.2 L1354.4,255.9 L1354.9,254.7 L1355.5,253.6 L1356.0,252.4 L1356.6,251.3 L1357.1,250.2 L1357.7,249.2 L1358.2,248.2 L1358.8,247.2 L1359.3,246.3 L1359.9,245.4 L1360.4,244.5 L1360.9,243.6 L1361.5,242.8 L1362.0,241.9 L1362.6,241.1 L1363.1,240.4 L1363.7,239.6 L1364.2,238.9 L1364.8,238.2 L1365.3,237.5 L1365.9,236.9 L1366.4,236.4 L1367.0,235.8 L1367.5,235.3 L1368.1,234.9 L1368.6,234.5 L1369.2,234.0 L1369.7,233.6 L1370.3,233.3 L1370.8,232.9 L1371.4,232.6 L1371.9,232.3 L1372.5,232.0 L1373.0,231.8 L1373.6,231.6 L1374.1,233.0 L1374.7,234.8 L1375.2,237.0 L1375.8,239.4 L1376.3,242.0 L1376.9,245.0 L1377.5,248.1 L1378.0,251.4 L1378.6,254.8 L1379.1,258.3 L1379.7,262.2 L1380.2,266.6 L1380.8,271.6 L1381.4,277.0 L1381.9,282.6 L1382.5,288.5 L1383.0,294.5 L1383.6,300.5 L1384.1,306.4 L1384.7,312.2 L1385.3,318.1 L1385.8,324.1 L1386.4,330.1 L1386.9,336.3 L1387.5,342.5 L1388.0,348.8 L1388.6,355.1 L1389.2,361.5 L1389.7,368.3 L1390.3,375.2 L1390.8,382.3 L1391.4,389.3 L1391.9,396.1 L1392.5,402.5 L1393.1,408.5 L1393.6,414.0 L1394.2,419.2 L1394.7,424.1 L1395.3,428.9 L1395.8,433.5 L1396.4,438.1 L1397.0,442.8 L1397.5,447.5 L1398.1,452.3 L1398.6,457.2 L1399.2,462.1 L1399.7,467.0 L1400.3,471.9 L1400.9,476.6 L1401.4,481.2 L1402.0,485.6 L1402.5,489.9 L1403.1,494.0 L1403.6,498.1 L1404.2,502.1 L1404.8,506.0 L1405.3,509.9 L1405.9,513.7 L1406.4,517.5 L1407.0,521.2 L1407.5,524.9 L1408.1,528.5 L1408.7,532.1 L1409.2,535.7 L1409.8,539.3 L1410.3,542.9 L1410.9,546.5 L1411.4,550.0 L1412.0,553.5 L1412.6,557.0 L1413.1,560.4 L1413.7,563.8 L1414.2,567.2 L1414.8,570.4 L1415.3,573.7 L1415.9,576.8 L1416.5,579.9 L1417.0,582.9 L1417.6,585.8 L1418.1,588.7 L1418.7,591.5 L1419.2,594.2 L1419.8,596.9 L1420.4,599.6 L1420.9,602.2 L1421.5,604.7 L1422.0,607.3 L1422.6,609.8 L1423.1,612.2 L1423.7,614.7 L1424.3,617.1 L1424.8,619.5 L1425.4,621.9 L1425.9,624.2 L1426.5,626.6 L1427.0,628.9 L1427.6,631.2 L1428.2,633.6 L1428.7,635.9 L1429.3,638.2 L1429.8,640.5 L1430.4,642.8 L1430.9,645.0 L1431.5,647.3 L1432.1,649.5 L1432.6,651.7 L1433.2,653.9 L1433.7,656.1 L1434.3,658.2 L1434.8,660.4 L1435.4,662.5 L1435.9,664.6 L1436.5,666.7 L1437.1,668.8 L1437.6,670.9 L1438.2,673.0 L1438.7,675.0 L1439.3,677.1 L1439.8,679.1 L1440.4,681.1 L1441.0,683.1 L1441.5,685.1 L1442.1,687.1 L1442.6,689.1 L1443.2,691.0 L1443.7,693.0 L1444.3,694.9 L1444.9,696.8 L1445.4,698.7 L1446.0,700.6 L1446.5,702.5 L1447.1,704.4 L1447.6,706.3 L1448.2,708.2 L1448.8,710.0 L1449.3,711.9 L1449.9,713.8 L1450.4,715.6 L1451.0,717.5 L1451.5,719.3 L1452.1,721.1 L1452.7,723.0 L1453.2,724.8 L1453.8,726.6 L1454.3,728.4 L1454.9,730.3 L1455.4,732.1 L1456.0,733.9 L1456.6,735.7 L1457.1,737.5 L1457.7,739.3 L1458.2,741.0 L1458.8,742.8 L1459.3,744.6 L1459.9,746.4 L1460.5,748.1 L1461.0,749.9 L1461.6,751.7 L1462.1,753.4 L1462.7,755.2 L1463.2,756.9 L1463.8,758.6 L1464.4,760.4 L1464.9,762.1 L1465.5,763.8 L1466.0,765.5 L1466.6,767.2 L1467.1,768.9 L1467.7,770.6 L1468.3,772.3 L1468.8,774.0 L1469.4,775.7 L1469.9,777.3 L1470.5,779.0 L1471.0,780.7 L1471.6,782.3 L1472.2,784.0 L1472.7,785.6 L1473.3,787.2 L1473.8,788.9 L1474.4,790.5 L1474.9,792.1 L1475.5,793.7 L1476.1,795.3 L1476.6,796.8 L1477.2,798.4 L1477.7,800.0 L1478.3,801.6 L1478.8,803.1 L1479.4,804.7 L1480.0,806.2 L1480.5,807.8 L1481.1,809.3 L1481.6,810.9 L1482.2,812.4 L1482.7,814.0 L1483.3,815.5 L1483.9,817.0 L1484.4,818.6 L1485.0,820.1 L1485.5,821.6 L1486.1,823.2 L1486.6,824.7 L1487.2,826.2 L1487.8,827.7 L1488.3,829.3 L1488.9,830.8 L1489.4,832.3 L1490.0,833.8 L1490.5,835.4 L1491.1,836.9 L1491.7,838.4 L1492.2,839.9 L1492.8,841.4 L1493.3,842.9 L1493.9,844.4 L1494.4,845.9 L1495.0,847.3 L1495.5,848.8 L1496.1,850.3 L1496.7,851.7 L1497.2,853.2 L1497.8,854.7 L1498.3,856.1 L1498.9,857.5 L1499.4,859.0 L1500.0,860.4 L1500.6,861.8 L1501.1,863.2 L1501.7,864.6 L1502.2,866.1 L1502.8,867.5 L1503.3,868.9 L1503.9,870.3 L1504.5,871.7 L1505.0,873.1 L1505.6,874.5 L1506.1,875.9 L1506.7,877.3 L1507.2,878.7 L1507.8,880.1 L1508.4,881.4 L1508.9,882.8 L1509.5,884.2 L1510.0,885.6 L1510.6,886.9 L1511.1,888.3 L1511.7,889.7 L1512.3,891.0 L1512.8,892.4 L1513.4,893.7 L1513.9,895.1 L1514.5,896.4 L1515.0,897.7 L1515.6,899.1 L1516.2,900.4 L1516.7,901.7 L1517.3,903.0 L1517.8,904.3 L1518.4,905.6 L1518.9,906.9 L1519.5,908.2 L1520.1,909.5 L1520.6,910.8 L1521.2,912.0 L1521.7,913.3 L1522.3,914.6 L1522.8,915.8 L1523.4,917.1 L1524.0,918.3 L1524.5,919.5 L1525.1,920.7 L1525.6,922.0 L1526.2,923.2 L1526.7,924.4 L1527.3,925.6 L1527.9,926.8 L1528.4,928.0 L1529.0,929.2 L1529.5,930.4 L1530.1,931.6 L1530.6,932.8 L1531.2,934.0 L1531.8,935.2 L1532.3,936.4 L1532.9,937.5 L1533.4,938.7 L1534.0,939.9 L1534.5,941.0 L1535.1,942.1 L1535.7,943.3 L1536.2,944.4 L1536.8,945.5 L1537.3,946.6 L1537.9,947.7 L1538.4,948.8 L1539.0,949.9 L1539.6,951.0 L1540.1,952.0 L1540.7,953.1 L1541.2,954.1 L1541.8,955.2 L1542.3,956.2 L1542.9,957.2 L1543.5,958.2 L1544.0,959.2 L1544.6,960.2 L1545.1,961.1 L1545.7,962.1 L1546.2,963.1 L1546.8,964.0 L1547.4,965.0 L1547.9,966.0 L1548.5,967.0 L1549.0,967.9 L1549.6,968.9 L1550.1,969.9 L1550.7,970.8 L1551.3,971.8 L1551.8,972.7 L1552.4,973.7 L1552.9,974.6 L1553.5,975.6 L1554.0,976.5 L1554.6,977.4 L1555.1,978.3 L1555.7,979.2 L1556.3,980.2 L1556.8,981.0 L1557.4,981.9 L1557.9,982.8 L1558.5,983.7 L1559.0,984.5 L1559.6,985.4 L1560.2,986.2 L1560.7,987.1 L1561.3,987.9 L1561.8,988.7 L1562.4,989.5 L1562.9,990.3 L1563.5,991.0 L1564.1,991.8 L1564.6,992.5 L1565.2,993.2 L1565.7,994.0 L1566.3,994.6 L1566.8,995.3 L1567.4,996.0 L1568.0,996.6 L1568.5,997.3 L1569.1,997.9 L1569.6,998.5 L1570.2,999.1 L1570.7,999.6 L1571.3,1000.2 L1571.9,1000.7 L1572.4,1001.3 L1573.0,1001.8 L1573.5,1002.3 L1574.1,1002.8 L1574.6,1003.3 L1575.2,1003.8 L1575.8,1004.3 L1576.3,1004.8 L1576.9,1005.3 L1577.4,1005.7 L1578.0,1006.2 L1578.5,1006.6 L1579.1,1007.0 L1579.7,1007.5 L1580.2,1007.9 L1580.8,1008.3 L1581.3,1008.6 L1581.9,1009.0 L1582.4,1009.4 L1583.0,1009.7 L1583.6,1010.1 L1584.1,1010.4 L1584.7,1010.7 L1585.2,1011.0 L1585.8,1011.3 L1586.3,1008.3 L1586.9,1004.9 L1587.4,1001.3 L1588.0,997.4 L1588.6,993.2 L1589.1,988.5 L1589.7,983.3 L1590.2,977.8 L1590.8,972.1 L1591.3,966.6 L1591.9,961.5 L1592.4,956.7 L1593.0,952.2 L1593.6,947.9 L1594.1,943.7 L1594.7,939.4 L1595.2,935.1 L1595.8,930.7 L1596.3,926.1 L1596.9,921.3 L1597.4,916.1 L1598.0,910.5 L1598.5,904.7 L1599.1,898.7 L1599.7,892.5 L1600.2,886.2 L1600.8,879.8 L1601.3,873.4 L1601.9,867.1 L1602.4,861.0 L1603.0,854.9 L1603.5,848.9 L1604.1,842.8 L1604.6,836.7 L1605.2,830.7 L1605.8,824.7 L1606.3,818.7 L1606.9,812.7 L1607.4,806.9 L1608.0,801.1 L1608.5,795.2 L1609.1,789.3 L1609.6,783.3 L1610.2,777.5 L1610.8,771.7 L1611.3,766.1 L1611.9,760.8 L1612.4,755.7 L1613.0,751.0 L1613.5,746.5 L1614.1,742.2 L1614.6,738.0 L1615.2,734.0 L1615.7,730.0 L1616.3,726.2 L1616.9,722.5 L1617.4,718.9 L1618.0,715.3 L1618.5,711.8 L1619.1,708.4 L1619.6,704.9 L1620.2,701.6 L1620.7,698.3 L1621.3,695.1 L1621.8,691.9 L1622.4,688.9 L1623.0,685.9 L1623.5,682.9 L1624.1,680.0 L1624.6,677.1 L1625.2,674.3 L1625.7,671.4 L1626.3,668.5 L1626.8,665.7 L1627.4,662.8 L1628.0,659.8 L1628.5,656.8 L1629.1,653.8 L1629.6,650.7 L1630.2,647.5 L1630.7,644.2 L1631.3,641.0 L1631.8,637.6 L1632.4,634.3 L1632.9,630.9 L1633.5,627.5 L1634.1,624.2 L1634.6,620.8 L1635.2,617.5 L1635.7,614.3 L1636.3,611.0 L1636.8,607.9 L1637.4,604.9 L1637.9,601.9 L1638.5,599.0 L1639.0,596.1 L1639.6,593.3 L1640.2,590.5 L1640.7,587.7 L1641.3,584.9 L1641.8,582.2 L1642.4,579.5 L1642.9,576.8 L1643.5,574.1 L1644.0,571.5 L1644.6,568.9 L1645.1,566.3 L1645.7,563.7 L1646.3,561.2 L1646.8,558.6 L1647.4,556.1 L1647.9,553.7 L1648.5,551.2 L1649.0,548.7 L1649.6,546.3 L1650.1,543.9 L1650.7,541.5 L1651.3,539.1 L1651.8,536.8 L1652.4,534.4 L1652.9,532.1 L1653.5,529.8 L1654.0,527.5 L1654.6,525.3 L1655.1,523.1 L1655.7,520.9 L1656.2,518.8 L1656.8,516.6 L1657.4,514.5 L1657.9,512.4 L1658.5,510.3 L1659.0,508.2 L1659.6,506.1 L1660.1,504.1 L1660.7,502.0 L1661.2,499.9 L1661.8,497.8 L1662.3,495.7 L1662.9,493.7 L1663.5,491.6 L1664.0,489.4 L1664.6,487.3 L1665.1,485.2 L1665.7,483.0 L1666.2,480.8 L1666.8,478.6 L1667.3,476.4 L1667.9,474.2 L1668.5,471.9 L1669.0,469.7 L1669.6,467.4 L1670.1,465.2 L1670.7,462.9 L1671.2,460.7 L1671.8,458.5 L1672.3,456.2 L1672.9,454.0 L1673.4,451.8 L1674.0,449.6 L1674.6,447.4 L1675.1,445.2 L1675.7,443.1 L1676.2,441.0 L1676.8,438.9 L1677.3,436.8 L1677.9,434.8 L1678.4,432.8 L1679.0,430.8 L1679.5,428.8 L1680.1,426.8 L1680.7,424.9 L1681.2,422.9 L1681.8,421.0 L1682.3,419.1 L1682.9,417.2 L1683.4,415.3 L1684.0,413.4 L1684.5,411.5 L1685.1,409.7 L1685.6,407.8 L1686.2,406.0 L1686.8,404.1 L1687.3,402.3 L1687.9,400.5 L1688.4,398.7 L1689.0,396.9 L1689.5,395.1 L1690.1,393.3 L1690.6,391.5 L1691.2,389.7 L1691.8,387.9 L1692.3,386.2 L1692.9,384.4 L1693.4,382.6 L1694.0,380.9 L1694.5,379.1 L1695.1,377.4 L1695.6,375.7 L1696.2,374.0 L1696.7,372.2 L1697.3,370.5 L1697.9,368.9 L1698.4,367.2 L1699.0,365.5 L1699.5,363.8 L1700.1,362.1 L1700.6,360.5 L1701.2,358.8 L1701.7,357.2 L1702.3,355.5 L1702.8,353.8 L1703.4,352.2 L1704.0,350.6 L1704.5,348.9 L1705.1,347.3 L1705.6,345.6 L1706.2,344.0 L1706.7,342.3 L1707.3,340.7 L1707.8,339.0 L1708.4,337.4 L1709.0,335.7 L1709.5,334.1 L1710.1,332.4 L1710.6,330.7 L1711.2,329.1 L1711.7,327.4 L1712.3,325.7 L1712.8,324.0 L1713.4,322.3 L1713.9,320.6 L1714.5,318.9 L1715.1,317.1 L1715.6,315.4 L1716.2,313.6 L1716.7,311.9 L1717.3,310.2 L1717.8,308.4 L1718.4,306.7 L1718.9,305.0 L1719.5,303.2 L1720.0,301.5 L1720.6,299.8 L1721.2,298.2 L1721.7,296.5 L1722.3,294.9 L1722.8,293.2 L1723.4,291.7 L1723.9,290.1 L1724.5,288.5 L1725.0,287.0 L1725.6,285.6 L1726.2,284.1 L1726.7,282.6 L1727.3,281.1 L1727.8,279.6 L1728.4,278.1 L1728.9,276.7 L1729.5,275.2 L1730.0,273.7 L1730.6,272.3 L1731.1,270.8 L1731.7,269.4 L1732.3,268.0 L1732.8,266.6 L1733.4,265.2 L1733.9,263.9 L1734.5,262.5 L1735.0,261.2 L1735.6,259.9 L1736.1,258.6 L1736.7,257.4 L1737.2,256.2 L1737.8,255.0 L1738.4,253.9 L1738.9,252.8 L1739.5,251.7 L1740.0,250.6 L1740.6,249.6 L1741.1,248.7 L1741.7,247.8 L1742.2,246.9 L1742.8,246.0 L1743.3,245.1 L1743.9,244.3 L1744.5,243.4 L1745.0,242.6 L1745.6,241.9 L1746.1,241.1 L1746.7,240.4 L1747.2,239.7 L1747.8,239.1 L1748.3,238.4 L1748.9,237.9 L1749.5,237.3 L1750.0,236.9 L1750.6,236.4 L1751.1,236.0 L1751.7,235.6 L1752.2,235.2 L1752.8,234.8 L1753.3,234.4 L1753.9,234.1 L1754.4,233.8 L1755.0,233.5 L1755.6,233.3 L1756.1,233.1 L1756.7,236.1 L1757.2,239.5 L1757.8,243.2 L1758.3,247.1 L1758.9,251.4 L1759.4,255.8 L1760.0,260.5 L1760.5,265.4 L1761.1,270.5 L1761.6,275.8 L1762.2,281.6 L1762.7,288.0 L1763.3,294.7 L1763.9,301.7 L1764.4,308.9 L1765.0,316.3 L1765.5,323.7 L1766.1,331.1 L1766.6,338.6 L1767.2,346.5 L1767.7,354.6 L1768.3,362.7 L1768.8,370.6 L1769.4,378.0 L1769.9,384.9 L1770.5,391.5 L1771.0,398.0 L1771.6,404.3 L1772.2,410.4 L1772.7,416.4 L1773.3,422.2 L1773.8,427.9 L1774.4,433.5 L1774.9,439.0 L1775.5,444.4 L1776.0,449.7 L1776.6,454.9 L1777.1,460.1 L1777.7,465.1 L1778.2,470.1 L1778.8,474.9 L1779.3,479.6 L1779.9,484.2 L1780.5,488.6 L1781.0,492.8 L1781.6,497.0 L1782.1,501.1 L1782.7,505.2 L1783.2,509.2 L1783.8,513.1 L1784.3,517.1 L1784.9,520.9 L1785.4,524.7 L1786.0,528.5 L1786.5,532.2 L1787.1,535.8 L1787.6,539.4 L1788.2,542.9 L1788.8,546.4 L1789.3,549.7 L1789.9,553.1 L1790.4,556.3 L1791.0,559.5 L1791.5,562.6 L1792.1,565.7 L1792.6,568.7 L1793.2,571.6 L1793.7,574.4 L1794.3,577.2 L1794.8,579.8 L1795.4,582.5 L1795.9,585.0 L1796.5,587.5 L1797.1,590.0 L1797.6,592.4 L1798.2,594.7 L1798.7,597.1 L1799.3,599.3 L1799.8,601.6 L1800.4,603.7 L1800.9,605.9 L1801.5,608.0 L1802.0,610.2 L1802.6,612.2 L1803.1,614.3 L1803.7,616.4 L1804.2,618.4 L1804.8,620.4 L1805.4,622.4 L1805.9,624.5 L1806.5,626.5 L1807.0,628.5 L1807.6,630.5 L1808.1,632.5 L1808.7,634.6 L1809.2,636.6 L1809.8,638.7 L1810.3,640.8 L1810.9,642.9 L1811.4,645.1 L1812.0,647.2 L1812.5,649.4 L1813.1,651.5 L1813.7,653.7 L1814.2,655.8 L1814.8,658.0 L1815.3,660.2 L1815.9,662.3 L1816.4,664.5 L1817.0,666.6 L1817.5,668.8 L1818.1,670.9 L1818.6,673.0 L1819.2,675.2 L1819.7,677.3 L1820.3,679.4 L1820.8,681.5 L1821.4,683.6 L1822.0,685.7 L1822.5,687.8 L1823.1,689.8 L1823.6,691.9 L1824.2,693.9 L1824.7,696.0 L1825.3,698.0 L1825.8,700.1 L1826.4,702.1 L1826.9,704.2 L1827.5,706.3 L1828.0,708.3 L1828.6,710.4 L1829.1,712.4 L1829.7,714.5 L1830.2,716.5 L1830.8,718.5 L1831.4,720.5 L1831.9,722.4 L1832.5,724.4 L1833.0,726.3 L1833.6,728.1 L1834.1,730.0 L1834.7,731.8 L1835.2,733.5 L1835.8,735.3 L1836.3,736.9 L1836.9,738.6 L1837.4,740.2 L1838.0,741.8 L1838.5,743.3 L1839.1,744.9 L1839.7,746.4 L1840.2,747.9 L1840.8,749.4 L1841.3,750.8 L1841.9,752.3 L1842.4,753.7 L1843.0,755.1 L1843.5,756.5 L1844.1,757.9 L1844.6,759.2 L1845.2,760.6 L1845.7,761.9 L1846.3,763.3 L1846.8,764.6 L1847.4,765.9 L1848.0,767.2 L1848.5,768.5 L1849.1,769.8 L1849.6,771.1 L1850.2,772.4 L1850.7,773.6 L1851.3,774.9 L1851.8,776.2 L1852.4,777.4 L1852.9,778.7 L1853.5,779.9 L1854.0,781.1 L1854.6,782.3 L1855.1,783.5 L1855.7,784.7 L1856.3,785.9 L1856.8,787.1 L1857.4,788.3 L1857.9,789.4 L1858.5,790.6 L1859.0,791.7 L1859.6,792.9 L1860.1,794.0 L1860.7,795.1 L1861.2,796.2 L1861.8,797.3 L1862.3,798.4 L1862.9,799.5 L1863.4,800.5 L1864.0,801.6" fill="none" stroke="#000000" stroke-width="8" stroke-linejoin="round" shape-rendering="crispEdges" clip-path="url(#ca)"/>
<path d="M221.0,645.0 L221.6,642.8 L222.1,640.5 L222.7,638.3 L223.2,636.0 L223.8,633.7 L224.3,631.4 L224.9,629.1 L225.4,626.8 L226.0,624.5 L226.6,622.1 L227.1,619.8 L227.7,617.4 L228.2,615.1 L228.8,612.7 L229.3,610.3 L229.9,607.9 L230.4,605.5 L231.0,603.1 L231.6,600.7 L232.1,598.3 L232.7,595.9 L233.2,593.4 L233.8,590.9 L234.3,588.4 L234.9,585.8 L235.4,583.3 L236.0,580.6 L236.6,577.9 L237.1,575.2 L237.7,572.5 L238.2,569.7 L238.8,566.9 L239.3,564.2 L239.9,561.4 L240.4,558.7 L241.0,556.0 L241.6,553.3 L242.1,550.6 L242.7,547.9 L243.2,545.2 L243.8,542.5 L244.3,539.8 L244.9,537.1 L245.4,534.4 L246.0,531.6 L246.5,528.9 L247.1,526.1 L247.7,523.2 L248.2,520.4 L248.8,517.4 L249.3,514.4 L249.9,511.4 L250.4,508.3 L251.0,505.2 L251.5,502.2 L252.1,499.2 L252.7,496.3 L253.2,493.5 L253.8,490.8 L254.3,488.1 L254.9,485.4 L255.4,482.9 L256.0,480.3 L256.5,477.8 L257.1,475.3 L257.7,472.8 L258.2,470.4 L258.8,467.9 L259.3,465.5 L259.9,463.1 L260.4,460.7 L261.0,458.2 L261.5,455.8 L262.1,453.4 L262.7,450.9 L263.2,448.5 L263.8,446.0 L264.3,443.4 L264.9,440.9 L265.4,438.3 L266.0,435.6 L266.5,432.9 L267.1,430.2 L267.7,427.5 L268.2,424.8 L268.8,422.0 L269.3,419.3 L269.9,416.6 L270.4,413.8 L271.0,411.1 L271.5,408.5 L272.1,405.8 L272.7,403.2 L273.2,400.7 L273.8,398.1 L274.3,395.7 L274.9,393.3 L275.4,391.0 L276.0,388.7 L276.5,386.5 L277.1,384.3 L277.7,382.1 L278.2,380.0 L278.8,377.9 L279.3,375.9 L279.9,373.8 L280.4,377.3 L281.0,380.9 L281.5,384.6 L282.1,388.4 L282.6,392.3 L283.2,396.3 L283.7,400.5 L284.3,404.7 L284.8,409.1 L285.4,413.5 L285.9,418.0 L286.5,422.6 L287.0,427.2 L287.6,432.0 L288.1,436.7 L288.7,441.5 L289.2,446.6 L289.8,452.1 L290.3,457.7 L290.9,463.5 L291.4,469.2 L292.0,474.9 L292.5,480.2 L293.1,485.2 L293.6,489.6 L294.2,493.4 L294.7,496.8 L295.3,499.8 L295.8,502.7 L296.4,505.3 L296.9,507.8 L297.5,510.2 L298.0,512.6 L298.6,515.0 L299.1,517.5 L299.7,520.1 L300.2,522.8 L300.8,525.8 L301.3,528.8 L301.9,531.9 L302.4,535.0 L303.0,538.2 L303.5,541.4 L304.1,544.5 L304.6,547.7 L305.2,550.7 L305.7,553.7 L306.3,556.6 L306.8,559.3 L307.4,562.0 L307.9,564.5 L308.5,567.1 L309.0,569.5 L309.6,572.0 L310.1,574.4 L310.7,576.8 L311.2,579.1 L311.8,581.4 L312.3,583.6 L312.9,585.8 L313.4,588.0 L314.0,590.2 L314.5,592.3 L315.1,594.5 L315.6,596.5 L316.2,598.6 L316.7,600.7 L317.3,602.7 L317.8,604.6 L318.4,606.5 L318.9,608.4 L319.5,610.2 L320.0,612.0 L320.6,613.8 L321.1,615.5 L321.7,617.3 L322.2,619.0 L322.8,620.7 L323.3,622.5 L323.9,624.2 L324.4,626.0 L325.0,627.7 L325.5,629.5 L326.1,631.3 L326.6,633.1 L327.2,635.0 L327.8,636.9 L328.3,638.8 L328.9,640.8 L329.4,642.9 L330.0,645.0 L330.5,647.2 L331.1,649.4 L331.6,651.7 L332.2,654.0 L332.7,656.3 L333.3,658.6 L333.8,661.0 L334.4,663.3 L334.9,665.6 L335.5,667.9 L336.0,670.1 L336.6,672.3 L337.1,674.5 L337.7,676.6 L338.2,678.6 L338.8,680.6 L339.3,682.5 L339.9,684.4 L340.4,686.2 L341.0,688.0 L341.5,689.8 L342.1,691.6 L342.6,693.3 L343.2,695.0 L343.7,696.7 L344.3,698.4 L344.8,700.0 L345.4,701.7 L345.9,703.3 L346.5,704.9 L347.0,706.5 L347.6,708.2 L348.1,709.8 L348.7,711.4 L349.2,713.1 L349.8,714.7 L350.3,716.4 L350.9,718.0 L351.4,719.7 L352.0,721.5 L352.5,723.2 L353.1,724.9 L353.6,726.6 L354.2,728.4 L354.7,730.1 L355.3,731.9 L355.8,733.6 L356.4,735.3 L356.9,737.1 L357.5,738.8 L358.0,740.6 L358.6,742.3 L359.1,744.1 L359.7,745.8 L360.2,747.6 L360.8,749.3 L361.3,751.1 L361.9,752.8 L362.4,754.5 L363.0,756.2 L363.5,758.0 L364.1,759.7 L364.6,761.4 L365.2,763.1 L365.7,764.8 L366.3,766.5 L366.8,768.2 L367.4,769.9 L367.9,771.6 L368.5,773.2 L369.0,774.9 L369.6,776.6 L370.1,778.3 L370.7,780.0 L371.2,781.7 L371.8,783.3 L372.3,785.0 L372.9,786.7 L373.4,788.3 L374.0,790.0 L374.5,791.6 L375.1,793.2 L375.6,794.9 L376.2,796.5 L376.7,798.1 L377.3,799.7 L377.8,801.3 L378.4,802.9 L378.9,804.5 L379.5,806.0 L380.0,807.6 L380.6,809.1 L381.1,810.7 L381.7,812.2 L382.2,813.8 L382.8,815.3 L383.3,816.8 L383.9,818.3 L384.4,819.8 L385.0,821.3 L385.5,822.8 L386.1,824.3 L386.6,825.8 L387.2,827.3 L387.7,828.8 L388.3,830.3 L388.8,831.8 L389.4,833.3 L389.9,834.8 L390.5,836.2 L391.0,837.7 L391.6,839.2 L392.1,840.7 L392.7,842.2 L393.2,843.7 L393.8,845.2 L394.3,846.7 L394.9,848.2 L395.4,849.7 L396.0,851.2 L396.5,852.7 L397.1,854.2 L397.6,855.7 L398.2,857.2 L398.7,858.7 L399.3,860.2 L399.8,861.7 L400.4,863.2 L400.9,864.6 L401.5,866.1 L402.0,867.6 L402.6,869.1 L403.1,870.5 L403.7,872.0 L404.2,873.4 L404.8,874.9 L405.3,876.3 L405.9,877.8 L406.4,879.2 L407.0,880.6 L407.5,882.0 L408.1,883.4 L408.6,884.8 L409.2,886.3 L409.7,887.7 L410.3,889.1 L410.8,890.4 L411.4,891.8 L411.9,893.2 L412.5,894.6 L413.0,896.0 L413.6,897.4 L414.1,898.7 L414.7,900.1 L415.2,901.5 L415.8,902.8 L416.3,904.2 L416.9,905.6 L417.4,906.9 L418.0,908.3 L418.5,909.7 L419.1,911.0 L419.7,912.4 L420.2,913.8 L420.8,915.1 L421.3,916.5 L421.9,917.8 L422.4,919.2 L423.0,920.6 L423.5,922.0 L424.1,923.3 L424.6,924.7 L425.2,926.1 L425.7,927.4 L426.3,928.8 L426.8,930.2 L427.4,931.5 L427.9,932.9 L428.5,934.3 L429.0,935.6 L429.6,937.0 L430.1,938.3 L430.7,939.6 L431.2,941.0 L431.8,942.3 L432.3,943.6 L432.9,944.9 L433.4,946.2 L434.0,947.5 L434.5,948.8 L435.1,950.1 L435.6,951.4 L436.2,952.6 L436.7,953.9 L437.3,955.1 L437.8,956.4 L438.4,957.6 L438.9,958.8 L439.5,960.0 L440.0,961.3 L440.6,962.5 L441.1,963.7 L441.7,964.9 L442.2,966.1 L442.8,967.3 L443.3,968.4 L443.9,969.6 L444.4,970.8 L445.0,972.0 L445.5,973.1 L446.1,974.3 L446.6,975.4 L447.2,976.6 L447.7,977.7 L448.3,978.8 L448.8,980.0 L449.4,981.1 L449.9,982.2 L450.5,983.3 L451.0,984.4 L451.6,985.5 L452.1,988.5 L452.6,988.1 L453.2,987.1 L453.7,985.6 L454.2,983.5 L454.8,981.1 L455.3,978.0 L455.8,974.2 L456.4,969.8 L456.9,965.3 L457.4,960.8 L458.0,956.6 L458.5,952.7 L459.0,948.9 L459.6,945.2 L460.1,941.6 L460.6,937.9 L461.1,934.1 L461.7,930.1 L462.2,925.9 L462.7,921.3 L463.3,916.4 L463.8,911.1 L464.3,905.5 L464.9,899.6 L465.4,893.5 L465.9,887.3 L466.5,881.0 L467.0,874.7 L467.5,868.5 L468.1,862.3 L468.6,856.3 L469.1,850.3 L469.6,844.2 L470.2,838.1 L470.7,832.0 L471.2,826.0 L471.8,820.0 L472.3,814.0 L472.8,808.0 L473.4,802.2 L473.9,796.2 L474.4,790.2 L475.0,784.2 L475.5,778.3 L476.0,772.4 L476.6,766.7 L477.1,761.3 L477.6,756.2 L478.1,751.4 L478.7,746.9 L479.2,742.5 L479.7,738.2 L480.3,734.1 L480.8,730.1 L481.3,726.2 L481.9,722.5 L482.4,718.8 L482.9,715.1 L483.5,711.6 L484.0,708.0 L484.5,704.6 L485.1,701.1 L485.6,697.8 L486.1,694.5 L486.6,691.3 L487.2,688.2 L487.7,685.1 L488.2,682.1 L488.8,679.2 L489.3,676.2 L489.8,673.3 L490.4,670.4 L490.9,667.5 L491.4,664.5 L492.0,661.6 L492.5,658.6 L493.0,655.5 L493.6,652.4 L494.1,649.2 L494.6,646.0 L495.1,642.7 L495.7,639.3 L496.2,635.9 L496.7,632.5 L497.3,629.1 L497.8,625.6 L498.3,622.2 L498.9,618.8 L499.4,615.4 L499.9,612.1 L500.5,608.8 L501.0,605.6 L501.5,602.5 L502.1,599.4 L502.6,596.5 L503.1,593.6 L503.6,590.7 L504.2,587.8 L504.7,584.9 L505.2,582.1 L505.8,579.3 L506.3,576.6 L506.8,573.8 L507.4,571.1 L507.9,568.4 L508.4,565.8 L509.0,563.1 L509.5,560.5 L510.0,557.9 L510.6,555.3 L511.1,552.8 L511.6,550.2 L512.1,547.7 L512.7,545.2 L513.2,542.7 L513.7,540.3 L514.3,537.8 L514.8,535.4 L515.3,533.0 L515.9,530.6 L516.4,528.2 L516.9,525.9 L517.5,523.6 L518.0,521.3 L518.5,519.0 L519.1,516.8 L519.6,514.6 L520.1,512.4 L520.6,510.3 L521.2,508.1 L521.7,506.0 L522.2,503.8 L522.8,501.7 L523.3,499.6 L523.8,497.5 L524.4,495.4 L524.9,493.2 L525.4,491.1 L526.0,489.0 L526.5,486.8 L527.0,484.7 L527.6,482.5 L528.1,480.3 L528.6,478.1 L529.1,475.8 L529.7,473.6 L530.2,471.3 L530.7,469.1 L531.3,466.8 L531.8,464.5 L532.3,462.2 L532.9,459.9 L533.4,457.6 L533.9,455.3 L534.5,453.0 L535.0,450.8 L535.5,448.5 L536.1,446.2 L536.6,444.0 L537.1,441.8 L537.6,439.6 L538.2,437.4 L538.7,435.2 L539.2,433.1 L539.8,431.0 L540.3,428.9 L540.8,426.8 L541.4,424.8 L541.9,422.7 L542.4,420.7 L543.0,418.7 L543.5,416.8 L544.0,414.8 L544.6,412.8 L545.1,410.9 L545.6,409.0 L546.1,407.0 L546.7,405.1 L547.2,403.2 L547.7,401.3 L548.3,399.5 L548.8,397.6 L549.3,395.7 L549.9,393.9 L550.4,392.0 L550.9,390.2 L551.5,388.3 L552.0,386.5 L552.5,384.7 L553.1,382.9 L553.6,381.1 L554.1,379.2 L554.6,377.4 L555.2,375.6 L555.7,373.8 L556.2,372.1 L556.8,370.3 L557.3,368.5 L557.8,366.8 L558.4,365.0 L558.9,363.3 L559.4,361.6 L560.0,359.8 L560.5,358.1 L561.0,356.4 L561.6,354.7 L562.1,353.0 L562.6,351.3 L563.1,349.6 L563.7,347.9 L564.2,346.3 L564.7,344.6 L565.3,342.9 L565.8,341.2 L566.3,339.5 L566.9,337.8 L567.4,336.2 L567.9,334.5 L568.5,332.8 L569.0,331.1 L569.5,329.4 L570.1,327.8 L570.6,326.1 L571.1,324.4 L571.6,322.7 L572.2,321.0 L572.7,319.3 L573.2,317.5 L573.8,315.8 L574.3,314.1 L574.8,312.3 L575.4,310.5 L575.9,308.8 L576.4,307.0 L577.0,305.2 L577.5,303.4 L578.0,301.7 L578.6,299.9 L579.1,298.1 L579.6,296.3 L580.1,294.6 L580.7,292.8 L581.2,291.1 L581.7,289.4 L582.3,287.7 L582.8,286.0 L583.3,284.4 L583.9,282.8 L584.4,281.2 L584.9,279.6 L585.5,278.1 L586.0,276.5 L586.5,275.0 L587.1,273.5 L587.6,272.0 L588.1,270.5 L588.6,269.0 L589.2,267.5 L589.7,266.0 L590.2,264.5 L590.8,263.0 L591.3,261.5 L591.8,260.1 L592.4,258.6 L592.9,257.2 L593.4,255.8 L594.0,254.4 L594.5,253.0 L595.0,251.7 L595.6,250.4 L596.1,249.1 L596.6,247.8 L597.1,246.6 L597.7,245.4 L598.2,244.2 L598.7,243.1 L599.3,242.0 L599.8,240.9 L600.3,239.9 L600.9,238.9 L601.4,238.0 L601.9,237.0 L602.5,236.1 L603.0,235.3 L603.5,234.4 L604.1,233.5 L604.6,232.7 L605.1,231.9 L605.6,231.2 L606.2,230.4 L606.7,229.7 L607.2,229.1 L607.8,228.4 L608.3,227.9 L608.8,227.3 L609.4,226.8 L609.9,226.4 L610.4,225.9 L611.0,225.5 L611.5,225.1 L612.0,224.7 L612.6,224.3 L613.1,224.0 L613.6,223.7 L614.1,223.4 L614.7,223.2 L615.2,223.0 L615.8,224.5 L616.3,226.3 L616.9,228.4 L617.4,230.9 L618.0,233.6 L618.5,236.5 L619.1,239.7 L619.6,243.0 L620.2,246.4 L620.7,250.0 L621.3,253.9 L621.8,258.4 L622.4,263.4 L622.9,268.8 L623.5,274.5 L624.0,280.5 L624.6,286.5 L625.1,292.6 L625.7,298.5 L626.2,304.4 L626.8,310.3 L627.3,316.3 L627.9,322.4 L628.4,328.5 L629.0,334.8 L629.5,341.1 L630.1,347.5 L630.6,354.0 L631.2,360.7 L631.7,367.7 L632.3,374.8 L632.8,381.8 L633.4,388.7 L633.9,395.2 L634.5,401.1 L635.0,406.6 L635.6,411.8 L636.1,416.8 L636.7,421.5 L637.2,426.2 L637.8,430.8 L638.3,435.4 L638.9,440.1 L639.4,444.9 L640.0,449.8 L640.5,454.7 L641.1,459.6 L641.6,464.4 L642.2,469.1 L642.7,473.7 L643.3,478.1 L643.8,482.3 L644.4,486.4 L644.9,490.5 L645.5,494.4 L646.0,498.3 L646.6,502.1 L647.1,505.9 L647.7,509.6 L648.2,513.3 L648.8,516.9 L649.3,520.5 L649.9,524.1 L650.4,527.6 L651.0,531.2 L651.5,534.7 L652.1,538.2 L652.6,541.7 L653.2,545.1 L653.7,548.5 L654.3,551.9 L654.8,555.3 L655.4,558.5 L655.9,561.8 L656.5,564.9 L657.0,568.0 L657.6,571.0 L658.1,574.0 L658.7,576.8 L659.2,579.6 L659.8,582.3 L660.3,585.0 L660.9,587.6 L661.4,590.2 L662.0,592.7 L662.5,595.2 L663.1,597.7 L663.6,600.1 L664.2,602.5 L664.7,604.9 L665.3,607.2 L665.8,609.5 L666.4,611.8 L666.9,614.1 L667.5,616.4 L668.0,618.6 L668.6,620.9 L669.1,623.1 L669.7,625.4 L670.2,627.6 L670.8,629.8 L671.3,632.0 L671.9,634.2 L672.4,636.4 L673.0,638.5 L673.5,640.7 L674.1,642.8 L674.6,644.9 L675.2,647.0 L675.7,649.1 L676.3,651.1 L676.8,653.2 L677.4,655.2 L677.9,657.2 L678.5,659.2 L679.0,661.2 L679.6,663.2 L680.1,665.2 L680.7,667.2 L681.2,669.1 L681.8,671.0 L682.3,673.0 L682.9,674.9 L683.4,676.8 L684.0,678.7 L684.5,680.6 L685.1,682.4 L685.6,684.3 L686.2,686.2 L686.7,688.0 L687.3,689.9 L687.8,691.7 L688.4,693.5 L688.9,695.4 L689.5,697.2 L690.0,699.0 L690.6,700.8 L691.1,702.6 L691.7,704.4 L692.2,706.2 L692.8,708.0 L693.3,709.8 L693.9,711.6 L694.4,713.4 L695.0,715.2 L695.5,717.0 L696.1,718.7 L696.6,720.5 L697.2,722.3 L697.7,724.1 L698.3,725.8 L698.8,727.6 L699.4,729.4 L699.9,731.1 L700.5,732.9 L701.0,734.6 L701.6,736.4 L702.1,738.1 L702.7,739.9 L703.2,741.6 L703.8,743.4 L704.3,745.1 L704.9,746.8 L705.4,748.6 L706.0,750.3 L706.5,752.0 L707.1,753.7 L707.6,755.4 L708.2,757.2 L708.7,758.9 L709.3,760.6 L709.8,762.3 L710.4,764.0 L710.9,765.7 L711.5,767.3 L712.0,769.0 L712.6,770.7 L713.1,772.4 L713.7,774.0 L714.2,775.7 L714.8,777.3 L715.3,778.9 L715.9,780.5 L716.4,782.2 L717.0,783.8 L717.5,785.4 L718.1,787.0 L718.6,788.6 L719.2,790.1 L719.7,791.7 L720.3,793.3 L720.8,794.9 L721.4,796.4 L721.9,798.0 L722.5,799.6 L723.0,801.1 L723.6,802.7 L724.1,804.3 L724.7,805.8 L725.2,807.4 L725.8,808.9 L726.3,810.5 L726.9,812.0 L727.4,813.6 L728.0,815.1 L728.5,816.7 L729.1,818.2 L729.6,819.8 L730.2,821.3 L730.7,822.8 L731.3,824.4 L731.8,825.9 L732.4,827.4 L732.9,829.0 L733.5,830.5 L734.0,832.0 L734.6,833.5 L735.1,835.0 L735.7,836.5 L736.2,838.0 L736.8,839.5 L737.3,841.0 L737.9,842.4 L738.4,843.9 L739.0,845.4 L739.5,846.8 L740.1,848.3 L740.6,849.7 L741.2,851.1 L741.7,852.6 L742.3,854.0 L742.8,855.4 L743.4,856.9 L743.9,858.3 L744.5,859.7 L745.0,861.1 L745.6,862.6 L746.1,864.0 L746.7,865.4 L747.2,866.8 L747.8,868.2 L748.3,869.6 L748.9,871.0 L749.4,872.4 L750.0,873.8 L750.5,875.2 L751.1,876.6 L751.6,878.0 L752.2,879.4 L752.7,880.7 L753.3,882.1 L753.8,883.5 L754.4,884.8 L754.9,886.2 L755.5,887.5 L756.0,888.9 L756.6,890.2 L757.1,891.5 L757.7,892.9 L758.2,894.2 L758.8,895.5 L759.3,896.8 L759.9,898.1 L760.4,899.4 L761.0,900.7 L761.5,902.0 L762.1,903.2 L762.6,904.5 L763.2,905.8 L763.7,907.0 L764.3,908.3 L764.8,909.5 L765.4,910.8 L765.9,912.0 L766.5,913.2 L767.0,914.5 L767.6,915.7 L768.1,916.9 L768.7,918.1 L769.2,919.4 L769.8,920.6 L770.3,921.8 L770.9,923.0 L771.4,924.2 L772.0,925.4 L772.5,926.6 L773.1,927.7 L773.6,928.9 L774.2,930.1 L774.7,931.2 L775.3,932.4 L775.8,933.5 L776.4,934.7 L776.9,935.8 L777.5,936.9 L778.0,938.0 L778.6,939.1 L779.1,940.2 L779.7,941.3 L780.2,942.3 L780.8,943.4 L781.3,944.5 L781.9,945.5 L782.4,946.5 L783.0,947.5 L783.5,948.5 L784.1,949.5 L784.6,950.5 L785.2,951.5 L785.7,952.5 L786.3,953.5 L786.8,954.5 L787.4,955.4 L787.9,956.4 L788.5,957.4 L789.0,958.4 L789.6,959.4 L790.1,960.3 L790.7,961.3 L791.2,962.3 L791.8,963.2 L792.3,964.2 L792.9,965.1 L793.4,966.1 L794.0,967.0 L794.5,968.0 L795.1,968.9 L795.6,969.8 L796.2,970.7 L796.7,971.7 L797.3,972.6 L797.8,973.6 L798.4,974.5 L798.9,975.5 L799.5,976.5 L800.0,977.5 L800.6,978.4 L801.1,979.4 L801.7,980.4 L802.2,981.4 L802.8,982.4 L803.3,983.4 L803.9,984.3 L804.4,985.3 L805.0,986.3 L805.5,987.2 L806.1,988.2 L806.6,989.1 L807.2,990.0 L807.7,990.9 L808.3,991.8 L808.8,992.7 L809.4,993.6 L809.9,994.4 L810.5,995.3 L811.0,996.1 L811.6,996.9 L812.1,997.7 L812.7,998.5 L813.3,999.3 L813.8,1000.1 L814.4,1000.8 L814.9,1001.6 L815.5,1002.3 L816.0,1003.0 L816.6,1003.7 L817.1,1004.4 L817.7,1005.1 L818.2,1005.7 L818.8,1006.3 L819.3,1006.9 L819.9,1007.5 L820.4,1008.0 L821.0,1008.5 L821.5,1009.0 L822.1,1009.5 L822.6,1009.9 L823.2,1010.3 L823.7,1010.7 L824.3,1011.0 L824.8,1011.3 L825.4,1008.5 L825.9,1005.3 L826.5,1001.8 L827.0,998.0 L827.6,994.0 L828.1,989.4 L828.7,984.3 L829.2,978.8 L829.8,973.2 L830.3,967.8 L830.9,962.7 L831.4,958.0 L832.0,953.5 L832.5,949.2 L833.1,945.0 L833.6,940.8 L834.2,936.5 L834.7,932.1 L835.3,927.5 L835.8,922.6 L836.4,917.4 L836.9,911.9 L837.5,906.0 L838.0,900.0 L838.6,893.7 L839.1,887.4 L839.7,881.0 L840.2,874.5 L840.8,868.2 L841.3,862.0 L841.9,855.9 L842.4,849.8 L843.0,843.7 L843.5,837.5 L844.1,831.4 L844.6,825.4 L845.2,819.3 L845.7,813.3 L846.3,807.4 L846.8,801.5 L847.4,795.6 L847.9,789.6 L848.5,783.6 L849.0,777.7 L849.6,771.8 L850.1,766.2 L850.7,760.8 L851.2,755.7 L851.8,750.9 L852.3,746.4 L852.9,742.0 L853.4,737.8 L854.0,733.7 L854.5,729.7 L855.1,725.9 L855.6,722.1 L856.2,718.5 L856.7,714.8 L857.3,711.3 L857.8,707.8 L858.4,704.4 L858.9,701.0 L859.5,697.6 L860.0,694.4 L860.6,691.2 L861.1,688.1 L861.7,685.1 L862.2,682.1 L862.8,679.2 L863.3,676.2 L863.9,673.3 L864.4,670.4 L865.0,667.5 L865.5,664.6 L866.1,661.7 L866.6,658.7 L867.2,655.7 L867.7,652.6 L868.3,649.5 L868.8,646.2 L869.4,643.0 L869.9,639.6 L870.5,636.3 L871.0,632.9 L871.6,629.5 L872.1,626.0 L872.7,622.6 L873.2,619.3 L873.8,615.9 L874.3,612.6 L874.9,609.4 L875.4,606.2 L876.0,603.1 L876.5,600.1 L877.1,597.1 L877.6,594.2 L878.2,591.4 L878.7,588.5 L879.3,585.7 L879.8,582.9 L880.4,580.1 L880.9,577.4 L881.5,574.7 L882.0,572.0 L882.6,569.3 L883.1,566.6 L883.7,564.0 L884.2,561.4 L884.8,558.8 L885.3,556.2 L885.9,553.7 L886.4,551.2 L887.0,548.7 L887.5,546.2 L888.1,543.7 L888.6,541.2 L889.2,538.8 L889.7,536.4 L890.3,534.0 L890.8,531.6 L891.4,529.2 L891.9,526.9 L892.5,524.6 L893.0,522.3 L893.6,520.0 L894.1,517.8 L894.7,515.6 L895.2,513.4 L895.8,511.2 L896.3,509.0 L896.9,506.9 L897.4,504.7 L898.0,502.6 L898.5,500.4 L899.1,498.3 L899.6,496.1 L900.2,494.0 L900.7,491.8 L901.3,489.6 L901.9,487.4 L902.4,485.2 L903.0,483.0 L903.5,480.8 L904.1,478.5 L904.6,476.2 L905.2,473.9 L905.7,471.6 L906.3,469.2 L906.8,466.9 L907.4,464.5 L907.9,462.1 L908.5,459.8 L909.0,457.4 L909.6,455.0 L910.1,452.6 L910.7,450.2 L911.2,447.8 L911.8,445.5 L912.3,443.1 L912.9,440.7 L913.4,438.4 L914.0,436.1 L914.5,433.8 L915.1,431.5 L915.6,429.2 L916.2,427.0 L916.7,424.7 L917.3,422.5 L917.8,420.3 L918.4,418.1 L918.9,415.9 L919.5,413.7 L920.0,411.5 L920.6,409.4 L921.1,407.2 L921.7,405.0 L922.2,402.9 L922.8,400.7 L923.3,398.6 L923.9,396.4 L924.4,394.3 L925.0,392.1 L925.5,390.0 L926.1,387.8 L926.6,385.7 L927.2,383.5 L927.7,381.4 L928.3,379.3 L928.8,377.1 L929.4,375.0 L929.9,372.8 L930.5,370.7 L931.0,368.5 L931.6,366.4 L932.1,364.2 L932.7,362.1 L933.2,360.0 L933.8,357.8 L934.3,355.7 L934.9,353.6 L935.4,351.5 L936.0,349.4 L936.5,347.3 L937.1,345.2 L937.6,343.1 L938.2,341.0 L938.7,338.9 L939.3,336.8 L939.8,334.7 L940.4,332.7 L940.9,330.6 L941.5,328.5 L942.0,326.5 L942.6,324.4 L943.1,322.3 L943.7,320.3 L944.2,318.2 L944.8,316.2 L945.3,314.1 L945.9,312.1 L946.4,310.0 L947.0,308.0 L947.5,306.0 L948.1,303.9 L948.6,301.9 L949.2,299.9 L949.7,297.9 L950.3,295.9 L950.8,293.8 L951.4,291.8 L951.9,289.8 L952.5,287.8 L953.0,285.7 L953.6,283.7 L954.1,281.7 L954.7,279.7 L955.2,277.7 L955.8,275.7 L956.3,273.8 L956.9,271.9 L957.4,270.0 L958.0,268.1 L958.5,266.2 L959.1,264.4 L959.6,262.6 L960.2,260.9 L960.7,259.2 L961.3,257.5 L961.8,255.9 L962.4,254.3 L962.9,252.7 L963.5,251.2 L964.0,249.7 L964.6,248.3 L965.1,246.8 L965.7,245.3 L966.2,243.9 L966.8,242.5 L967.3,241.1 L967.9,239.8 L968.4,238.4 L969.0,237.1 L969.5,235.8 L970.1,234.6 L970.6,233.3 L971.2,232.2 L971.7,231.0 L972.3,229.9 L972.8,228.8 L973.4,227.7 L973.9,226.7 L974.5,225.7 L975.0,224.8 L975.6,223.9 L976.1,223.0 L976.7,222.2 L977.2,221.4 L977.8,220.7 L978.3,220.0 L978.9,219.4 L979.4,218.8 L980.0,218.3 L980.5,217.8 L981.1,217.3 L981.7,216.8 L982.2,216.3 L982.8,215.9 L983.3,215.5 L983.9,215.6 L984.4,216.3 L985.0,217.0 L985.5,217.7 L986.1,218.5 L986.6,219.2 L987.2,219.9 L987.7,220.6 L988.3,221.3 L988.8,221.9 L989.4,222.6 L989.9,223.2 L990.5,223.8 L991.0,224.3 L991.6,224.9 L992.1,225.4 L992.7,226.0 L993.2,226.5 L993.8,227.0 L994.3,228.5 L994.9,230.3 L995.4,232.4 L996.0,234.8 L996.5,237.5 L997.1,240.4 L997.6,243.6 L998.2,246.8 L998.8,250.3 L999.3,253.8 L999.9,257.7 L1000.4,262.1 L1001.0,267.1 L1001.5,272.4 L1002.1,278.1 L1002.6,284.0 L1003.2,290.0 L1003.7,296.0 L1004.3,301.9 L1004.9,307.7 L1005.4,313.5 L1006.0,319.5 L1006.5,325.5 L1007.1,331.7 L1007.6,337.9 L1008.2,344.1 L1008.7,350.5 L1009.3,356.9 L1009.8,363.6 L1010.4,370.5 L1011.0,377.6 L1011.5,384.5 L1012.1,391.3 L1012.6,397.7 L1013.2,403.7 L1013.7,409.1 L1014.3,414.2 L1014.8,419.1 L1015.4,423.9 L1016.0,428.5 L1016.5,433.0 L1017.1,437.6 L1017.6,442.3 L1018.2,447.0 L1018.7,451.9 L1019.3,456.8 L1019.8,461.6 L1020.4,466.4 L1020.9,471.0 L1021.5,475.6 L1022.1,479.9 L1022.6,484.1 L1023.2,488.2 L1023.7,492.2 L1024.3,496.1 L1024.8,500.0 L1025.4,503.8 L1025.9,507.5 L1026.5,511.2 L1027.0,514.8 L1027.6,518.4 L1028.2,522.0 L1028.7,525.5 L1029.3,529.1 L1029.8,532.6 L1030.4,536.0 L1030.9,539.5 L1031.5,543.0 L1032.0,546.4 L1032.6,549.8 L1033.2,553.1 L1033.7,556.4 L1034.3,559.7 L1034.8,562.9 L1035.4,566.0 L1035.9,569.1 L1036.5,572.1 L1037.0,575.0 L1037.6,577.8 L1038.1,580.6 L1038.7,583.3 L1039.3,585.9 L1039.8,588.5 L1040.4,591.1 L1040.9,593.6 L1041.5,596.0 L1042.0,598.5 L1042.6,600.9 L1043.1,603.3 L1043.7,605.6 L1044.2,607.9 L1044.8,610.2 L1045.4,612.5 L1045.9,614.8 L1046.5,617.0 L1047.0,619.2 L1047.6,621.5 L1048.1,623.7 L1048.7,625.9 L1049.2,628.2 L1049.8,630.4 L1050.4,632.5 L1050.9,634.7 L1051.5,636.9 L1052.0,639.0 L1052.6,641.1 L1053.1,643.2 L1053.7,645.3 L1054.2,647.4 L1054.8,649.4 L1055.3,651.5 L1055.9,653.5 L1056.5,655.5 L1057.0,657.5 L1057.6,659.5 L1058.1,661.5 L1058.7,663.4 L1059.2,665.4 L1059.8,667.3 L1060.3,669.3 L1060.9,671.2 L1061.4,673.1 L1062.0,675.0 L1062.6,676.9 L1063.1,678.8 L1063.7,680.6 L1064.2,682.5 L1064.8,684.3 L1065.3,686.2 L1065.9,688.0 L1066.4,689.9 L1067.0,691.7 L1067.6,693.5 L1068.1,695.3 L1068.7,697.1 L1069.2,698.9 L1069.8,700.7 L1070.3,702.5 L1070.9,704.3 L1071.4,706.1 L1072.0,707.8 L1072.5,709.6 L1073.1,711.4 L1073.7,713.2 L1074.2,714.9 L1074.8,716.7 L1075.3,718.5 L1075.9,720.2 L1076.4,722.0 L1077.0,723.8 L1077.5,725.5 L1078.1,727.3 L1078.7,729.0 L1079.2,730.7 L1079.8,732.5 L1080.3,734.2 L1080.9,736.0 L1081.4,737.7 L1082.0,739.4 L1082.5,741.2 L1083.1,742.9 L1083.6,744.6 L1084.2,746.3 L1084.8,748.0 L1085.3,749.7 L1085.9,751.5 L1086.4,753.2 L1087.0,754.9 L1087.5,756.6 L1088.1,758.3 L1088.6,759.9 L1089.2,761.6 L1089.7,763.3 L1090.3,765.0 L1090.9,766.7 L1091.4,768.3 L1092.0,770.0 L1092.5,771.6 L1093.1,773.3 L1093.6,774.9 L1094.2,776.5 L1094.7,778.1 L1095.3,779.7 L1095.9,781.4 L1096.4,782.9 L1097.0,784.5 L1097.5,786.1 L1098.1,787.7 L1098.6,789.3 L1099.2,790.8 L1099.7,792.4 L1100.3,794.0 L1100.8,795.5 L1101.4,797.1 L1102.0,798.6 L1102.5,800.2 L1103.1,801.7 L1103.6,803.3 L1104.2,804.8 L1104.7,806.3 L1105.3,807.9 L1105.8,809.4 L1106.4,811.0 L1106.9,812.5 L1107.5,814.0 L1108.1,815.6 L1108.6,817.1 L1109.2,818.6 L1109.7,820.2 L1110.3,821.7 L1110.8,823.2 L1111.4,824.7 L1111.9,826.3 L1112.5,827.8 L1113.1,829.3 L1113.6,830.8 L1114.2,832.3 L1114.7,833.8 L1115.3,835.2 L1115.8,836.7 L1116.4,838.2 L1116.9,839.7 L1117.5,841.1 L1118.0,842.6 L1118.6,844.0 L1119.2,845.5 L1119.7,846.9 L1120.3,848.3 L1120.8,849.7 L1121.4,851.2 L1121.9,852.6 L1122.5,854.0 L1123.0,855.4 L1123.6,856.8 L1124.1,858.3 L1124.7,859.7 L1125.3,861.1 L1125.8,862.5 L1126.4,863.9 L1126.9,865.3 L1127.5,866.7 L1128.0,868.1 L1128.6,869.5 L1129.1,870.9 L1129.7,872.2 L1130.3,873.6 L1130.8,875.0 L1131.4,876.4 L1131.9,877.7 L1132.5,879.1 L1133.0,880.4 L1133.6,881.8 L1134.1,883.1 L1134.7,884.5 L1135.2,885.8 L1135.8,887.2 L1136.4,888.5 L1136.9,889.8 L1137.5,891.1 L1138.0,892.4 L1138.6,893.7 L1139.1,895.0 L1139.7,896.3 L1140.2,897.6 L1140.8,898.9 L1141.3,900.1 L1141.9,901.4 L1142.5,902.7 L1143.0,903.9 L1143.6,905.2 L1144.1,906.4 L1144.7,907.6 L1145.2,908.9 L1145.8,910.1 L1146.3,911.3 L1146.9,912.5 L1147.5,913.8 L1148.0,915.0 L1148.6,916.2 L1149.1,917.4 L1149.7,918.6 L1150.2,919.8 L1150.8,921.0 L1151.3,922.2 L1151.9,923.4 L1152.4,924.5 L1153.0,925.7 L1153.6,926.9 L1154.1,928.0 L1154.7,929.2 L1155.2,930.3 L1155.8,931.4 L1156.3,932.6 L1156.9,933.7 L1157.4,934.8 L1158.0,935.9 L1158.5,937.0 L1159.1,938.1 L1159.7,939.1 L1160.2,940.2 L1160.8,941.2 L1161.3,942.3 L1161.9,943.3 L1162.4,944.3 L1163.0,945.3 L1163.5,946.3 L1164.1,947.3 L1164.7,948.3 L1165.2,949.2 L1165.8,950.2 L1166.3,951.2 L1166.9,952.2 L1167.4,953.2 L1168.0,954.1 L1168.5,955.1 L1169.1,956.1 L1169.6,957.1 L1170.2,958.0 L1170.8,959.0 L1171.3,959.9 L1171.9,960.9 L1172.4,961.9 L1173.0,962.8 L1173.5,963.7 L1174.1,964.7 L1174.6,965.6 L1175.2,966.5 L1175.7,967.4 L1176.3,968.3 L1176.9,969.3 L1177.4,970.2 L1178.0,971.2 L1178.5,972.1 L1179.1,973.1 L1179.6,974.0 L1180.2,975.0 L1180.7,976.0 L1181.3,977.0 L1181.9,977.9 L1182.4,978.9 L1183.0,979.9 L1183.5,980.9 L1184.1,981.8 L1184.6,982.8 L1185.2,983.8 L1185.7,984.7 L1186.3,985.6 L1186.8,986.6 L1187.4,987.5 L1188.0,988.4 L1188.5,989.3 L1189.1,990.2 L1189.6,991.0 L1190.2,991.9 L1190.7,992.7 L1191.3,993.5 L1191.8,994.3 L1192.4,995.1 L1193.0,995.9 L1193.5,996.7 L1194.1,997.5 L1194.6,998.2 L1195.2,999.0 L1195.7,999.7 L1196.3,1000.4 L1196.8,1001.1 L1197.4,1001.8 L1197.9,1002.4 L1198.5,1003.1 L1199.1,1003.7 L1199.6,1004.3 L1200.2,1004.8 L1200.7,1005.4 L1201.3,1005.9 L1201.8,1006.4 L1202.4,1006.8 L1202.9,1007.3 L1203.5,1007.7 L1204.0,1008.0 L1204.6,1008.4 L1205.2,1008.7 L1205.7,1005.9 L1206.3,1002.7 L1206.8,999.2 L1207.4,995.5 L1207.9,991.5 L1208.4,987.0 L1209.0,981.9 L1209.5,976.5 L1210.1,970.9 L1210.6,965.5 L1211.2,960.5 L1211.7,955.8 L1212.3,951.4 L1212.8,947.2 L1213.4,943.0 L1213.9,938.8 L1214.5,934.6 L1215.0,930.2 L1215.6,925.7 L1216.1,920.8 L1216.7,915.7 L1217.2,910.2 L1217.8,904.4 L1218.3,898.4 L1218.9,892.2 L1219.4,885.9 L1220.0,879.5 L1220.5,873.2 L1221.1,866.9 L1221.6,860.7 L1222.2,854.7 L1222.7,848.6 L1223.3,842.6 L1223.8,836.5 L1224.4,830.5 L1224.9,824.4 L1225.5,818.4 L1226.0,812.5 L1226.6,806.6 L1227.1,800.8 L1227.6,794.9 L1228.2,789.0 L1228.7,783.1 L1229.3,777.2 L1229.8,771.4 L1230.4,765.8 L1230.9,760.5 L1231.5,755.4 L1232.0,750.7 L1232.6,746.2 L1233.1,741.9 L1233.7,737.7 L1234.2,733.6 L1234.8,729.7 L1235.3,725.9 L1235.9,722.1 L1236.4,718.5 L1237.0,714.9 L1237.5,711.4 L1238.1,708.0 L1238.6,704.6 L1239.2,701.2 L1239.7,697.9 L1240.3,694.6 L1240.8,691.5 L1241.4,688.4 L1241.9,685.4 L1242.5,682.5 L1243.0,679.6 L1243.6,676.7 L1244.1,673.8 L1244.7,670.9 L1245.2,668.1 L1245.8,665.2 L1246.3,662.3 L1246.8,659.3 L1247.4,656.3 L1247.9,653.3 L1248.5,650.2 L1249.0,647.0 L1249.6,643.7 L1250.1,640.4 L1250.7,637.1 L1251.2,633.7 L1251.8,630.3 L1252.3,626.9 L1252.9,623.6 L1253.4,620.2 L1254.0,616.9 L1254.5,613.6 L1255.1,610.4 L1255.6,607.3 L1256.2,604.2 L1256.7,601.2 L1257.3,598.3 L1257.8,595.4 L1258.4,592.6 L1258.9,589.8 L1259.5,587.0 L1260.0,584.2 L1260.6,581.4 L1261.1,578.7 L1261.7,576.0 L1262.2,573.4 L1262.8,570.7 L1263.3,568.1 L1263.9,565.5 L1264.4,562.9 L1264.9,560.3 L1265.5,557.8 L1266.0,555.3 L1266.6,552.8 L1267.1,550.3 L1267.7,547.8 L1268.2,545.4 L1268.8,542.9 L1269.3,540.5 L1269.9,538.1 L1270.4,535.7 L1271.0,533.3 L1271.5,531.0 L1272.1,528.7 L1272.6,526.4 L1273.2,524.1 L1273.7,521.9 L1274.3,519.7 L1274.8,517.5 L1275.4,515.3 L1275.9,513.1 L1276.5,511.0 L1277.0,508.9 L1277.6,506.7 L1278.1,504.6 L1278.7,502.5 L1279.2,500.3 L1279.8,498.2 L1280.3,496.1 L1280.9,493.9 L1281.4,491.8 L1282.0,489.6 L1282.5,487.4 L1283.1,485.2 L1283.6,483.0 L1284.1,480.7 L1284.7,478.5 L1285.2,476.2 L1285.8,473.9 L1286.3,471.6 L1286.9,469.2 L1287.4,466.9 L1288.0,464.5 L1288.5,462.2 L1289.1,459.8 L1289.6,457.4 L1290.2,455.1 L1290.7,452.7 L1291.3,450.4 L1291.8,448.0 L1292.4,445.7 L1292.9,443.3 L1293.5,441.0 L1294.0,438.7 L1294.6,436.4 L1295.1,434.1 L1295.7,431.9 L1296.2,429.6 L1296.8,427.4 L1297.3,425.2 L1297.9,423.0 L1298.4,420.9 L1299.0,418.7 L1299.5,416.5 L1300.1,414.4 L1300.6,412.2 L1301.2,410.0 L1301.7,407.9 L1302.3,405.8 L1302.8,403.6 L1303.3,401.5 L1303.9,399.3 L1304.4,397.2 L1305.0,395.1 L1305.5,393.0 L1306.1,390.8 L1306.6,388.7 L1307.2,386.6 L1307.7,384.5 L1308.3,382.3 L1308.8,380.2 L1309.4,378.1 L1309.9,375.9 L1310.5,373.8 L1311.0,371.7 L1311.6,369.5 L1312.1,367.4 L1312.7,365.3 L1313.2,363.2 L1313.8,361.1 L1314.3,359.0 L1314.9,356.9 L1315.4,354.8 L1316.0,352.7 L1316.5,350.6 L1317.1,348.5 L1317.6,346.4 L1318.2,344.4 L1318.7,342.3 L1319.3,340.2 L1319.8,338.1 L1320.4,336.1 L1320.9,334.0 L1321.5,332.0 L1322.0,329.9 L1322.5,327.9 L1323.1,325.8 L1323.6,323.8 L1324.2,321.8 L1324.7,319.7 L1325.3,317.7 L1325.8,315.7 L1326.4,313.6 L1326.9,311.6 L1327.5,309.6 L1328.0,307.6 L1328.6,305.6 L1329.1,303.6 L1329.7,301.6 L1330.2,299.6 L1330.8,297.6 L1331.3,295.5 L1331.9,293.5 L1332.4,291.5 L1333.0,289.5 L1333.5,287.5 L1334.1,285.5 L1334.6,283.5 L1335.2,281.6 L1335.7,279.6 L1336.3,277.7 L1336.8,275.8 L1337.4,273.9 L1337.9,272.0 L1338.5,270.2 L1339.0,268.4 L1339.6,266.6 L1340.1,264.9 L1340.7,263.2 L1341.2,261.5 L1341.7,259.9 L1342.3,258.3 L1342.8,256.8 L1343.4,255.3 L1343.9,253.8 L1344.5,252.4 L1345.0,250.9 L1345.6,249.5 L1346.1,248.1 L1346.7,246.7 L1347.2,245.3 L1347.8,243.9 L1348.3,242.6 L1348.9,241.3 L1349.4,240.1 L1350.0,238.8 L1350.5,237.6 L1351.1,236.4 L1351.6,235.3 L1352.2,234.1 L1352.7,233.1 L1353.3,232.0 L1353.8,231.0 L1354.4,230.0 L1354.9,229.1 L1355.5,228.2 L1356.0,227.4 L1356.6,226.6 L1357.1,225.8 L1357.7,225.1 L1358.2,224.5 L1358.8,223.8 L1359.3,223.3 L1359.9,222.7 L1360.4,222.2 L1360.9,221.7 L1361.5,221.2 L1362.0,220.8 L1362.6,220.4 L1363.1,220.0 L1363.7,220.1 L1364.2,220.8 L1364.8,221.5 L1365.3,222.2 L1365.9,223.0 L1366.4,223.7 L1367.0,224.4 L1367.5,225.1 L1368.1,225.8 L1368.6,226.5 L1369.2,227.1 L1369.7,227.7 L1370.3,228.3 L1370.8,228.9 L1371.4,229.4 L1371.9,230.0 L1372.5,230.5 L1373.0,231.0 L1373.6,231.6 L1374.1,233.0 L1374.7,234.8 L1375.2,236.9 L1375.8,239.4 L1376.3,242.0 L1376.9,244.9 L1377.5,248.0 L1378.0,251.3 L1378.6,254.7 L1379.1,258.2 L1379.7,262.0 L1380.2,266.5 L1380.8,271.4 L1381.4,276.7 L1381.9,282.4 L1382.5,288.2 L1383.0,294.2 L1383.6,300.1 L1384.1,306.0 L1384.7,311.7 L1385.3,317.6 L1385.8,323.5 L1386.4,329.5 L1386.9,335.6 L1387.5,341.7 L1388.0,348.0 L1388.6,354.2 L1389.2,360.6 L1389.7,367.3 L1390.3,374.2 L1390.8,381.2 L1391.4,388.1 L1391.9,394.8 L1392.5,401.2 L1393.1,407.1 L1393.6,412.5 L1394.2,417.6 L1394.7,422.5 L1395.3,427.2 L1395.8,431.8 L1396.4,436.3 L1397.0,440.8 L1397.5,445.5 L1398.1,450.2 L1398.6,455.0 L1399.2,459.9 L1399.7,464.7 L1400.3,469.4 L1400.9,474.1 L1401.4,478.5 L1402.0,482.9 L1402.5,487.0 L1403.1,491.1 L1403.6,495.1 L1404.2,499.0 L1404.8,502.8 L1405.3,506.6 L1405.9,510.3 L1406.4,514.0 L1407.0,517.6 L1407.5,521.1 L1408.1,524.7 L1408.7,528.2 L1409.2,531.7 L1409.8,535.2 L1410.3,538.6 L1410.9,542.1 L1411.4,545.5 L1412.0,548.9 L1412.6,552.3 L1413.1,555.6 L1413.7,558.9 L1414.2,562.1 L1414.8,565.3 L1415.3,568.4 L1415.9,571.5 L1416.5,574.4 L1417.0,577.3 L1417.6,580.1 L1418.1,582.9 L1418.7,585.5 L1419.2,588.2 L1419.8,590.8 L1420.4,593.3 L1420.9,595.8 L1421.5,598.2 L1422.0,600.7 L1422.6,603.0 L1423.1,605.4 L1423.7,607.7 L1424.3,610.0 L1424.8,612.3 L1425.4,614.6 L1425.9,616.8 L1426.5,619.1 L1427.0,621.3 L1427.6,623.5 L1428.2,625.7 L1428.7,627.9 L1429.3,630.1 L1429.8,632.3 L1430.4,634.5 L1430.9,636.6 L1431.5,638.8 L1432.1,640.9 L1432.6,643.0 L1433.2,645.1 L1433.7,647.2 L1434.3,649.2 L1434.8,651.3 L1435.4,653.3 L1435.9,655.3 L1436.5,657.3 L1437.1,659.3 L1437.6,661.3 L1438.2,663.2 L1438.7,665.2 L1439.3,667.1 L1439.8,669.1 L1440.4,671.0 L1441.0,672.9 L1441.5,674.8 L1442.1,676.7 L1442.6,678.6 L1443.2,680.4 L1443.7,682.3 L1444.3,684.1 L1444.9,686.0 L1445.4,687.8 L1446.0,689.6 L1446.5,691.4 L1447.1,693.2 L1447.6,695.0 L1448.2,696.8 L1448.8,698.6 L1449.3,700.4 L1449.9,702.2 L1450.4,704.0 L1451.0,705.8 L1451.5,707.5 L1452.1,709.3 L1452.7,711.1 L1453.2,712.8 L1453.8,714.6 L1454.3,716.4 L1454.9,718.1 L1455.4,719.9 L1456.0,721.6 L1456.6,723.4 L1457.1,725.1 L1457.7,726.9 L1458.2,728.6 L1458.8,730.3 L1459.3,732.1 L1459.9,733.8 L1460.5,735.5 L1461.0,737.2 L1461.6,739.0 L1462.1,740.7 L1462.7,742.4 L1463.2,744.1 L1463.8,745.8 L1464.4,747.5 L1464.9,749.2 L1465.5,750.9 L1466.0,752.6 L1466.6,754.3 L1467.1,756.0 L1467.7,757.7 L1468.3,759.4 L1468.8,761.1 L1469.4,762.7 L1469.9,764.4 L1470.5,766.1 L1471.0,767.7 L1471.6,769.4 L1472.2,771.0 L1472.7,772.7 L1473.3,774.3 L1473.8,775.9 L1474.4,777.5 L1474.9,779.1 L1475.5,780.7 L1476.1,782.3 L1476.6,783.9 L1477.2,785.5 L1477.7,787.1 L1478.3,788.6 L1478.8,790.2 L1479.4,791.8 L1480.0,793.3 L1480.5,794.9 L1481.1,796.4 L1481.6,798.0 L1482.2,799.5 L1482.7,801.0 L1483.3,802.6 L1483.9,804.1 L1484.4,805.6 L1485.0,807.2 L1485.5,808.7 L1486.1,810.2 L1486.6,811.8 L1487.2,813.3 L1487.8,814.8 L1488.3,816.4 L1488.9,817.9 L1489.4,819.4 L1490.0,820.9 L1490.5,822.4 L1491.1,823.9 L1491.7,825.5 L1492.2,827.0 L1492.8,828.5 L1493.3,830.0 L1493.9,831.4 L1494.4,832.9 L1495.0,834.4 L1495.5,835.9 L1496.1,837.4 L1496.7,838.8 L1497.2,840.3 L1497.8,841.7 L1498.3,843.2 L1498.9,844.6 L1499.4,846.0 L1500.0,847.5 L1500.6,848.9 L1501.1,850.3 L1501.7,851.7 L1502.2,853.1 L1502.8,854.5 L1503.3,856.0 L1503.9,857.4 L1504.5,858.8 L1505.0,860.2 L1505.6,861.6 L1506.1,863.0 L1506.7,864.4 L1507.2,865.8 L1507.8,867.1 L1508.4,868.5 L1508.9,869.9 L1509.5,871.3 L1510.0,872.7 L1510.6,874.0 L1511.1,875.4 L1511.7,876.8 L1512.3,878.1 L1512.8,879.5 L1513.4,880.8 L1513.9,882.2 L1514.5,883.5 L1515.0,884.8 L1515.6,886.2 L1516.2,887.5 L1516.7,888.8 L1517.3,890.1 L1517.8,891.4 L1518.4,892.7 L1518.9,894.0 L1519.5,895.3 L1520.1,896.6 L1520.6,897.9 L1521.2,899.1 L1521.7,900.4 L1522.3,901.6 L1522.8,902.9 L1523.4,904.1 L1524.0,905.4 L1524.5,906.6 L1525.1,907.8 L1525.6,909.1 L1526.2,910.3 L1526.7,911.5 L1527.3,912.7 L1527.9,913.9 L1528.4,915.1 L1529.0,916.3 L1529.5,917.5 L1530.1,918.7 L1530.6,919.9 L1531.2,921.1 L1531.8,922.3 L1532.3,923.5 L1532.9,924.6 L1533.4,925.8 L1534.0,926.9 L1534.5,928.1 L1535.1,929.2 L1535.7,930.4 L1536.2,931.5 L1536.8,932.6 L1537.3,933.7 L1537.9,934.8 L1538.4,935.9 L1539.0,937.0 L1539.6,938.1 L1540.1,939.1 L1540.7,940.2 L1541.2,941.2 L1541.8,942.2 L1542.3,943.3 L1542.9,944.3 L1543.5,945.3 L1544.0,946.3 L1544.6,947.2 L1545.1,948.2 L1545.7,949.2 L1546.2,950.2 L1546.8,951.1 L1547.4,952.1 L1547.9,953.1 L1548.5,954.0 L1549.0,955.0 L1549.6,956.0 L1550.1,956.9 L1550.7,957.9 L1551.3,958.9 L1551.8,959.8 L1552.4,960.8 L1552.9,961.7 L1553.5,962.6 L1554.0,963.6 L1554.6,964.5 L1555.1,965.4 L1555.7,966.3 L1556.3,967.2 L1556.8,968.1 L1557.4,969.1 L1557.9,970.0 L1558.5,970.9 L1559.0,971.9 L1559.6,972.9 L1560.2,973.8 L1560.7,974.8 L1561.3,975.8 L1561.8,976.7 L1562.4,977.7 L1562.9,978.7 L1563.5,979.6 L1564.1,980.6 L1564.6,981.6 L1565.2,982.5 L1565.7,983.5 L1566.3,984.4 L1566.8,985.4 L1567.4,986.3 L1568.0,987.2 L1568.5,988.1 L1569.1,989.0 L1569.6,989.9 L1570.2,990.7 L1570.7,991.6 L1571.3,992.4 L1571.9,993.2 L1572.4,994.0 L1573.0,994.8 L1573.5,995.6 L1574.1,996.4 L1574.6,997.2 L1575.2,997.9 L1575.8,998.7 L1576.3,999.4 L1576.9,1000.1 L1577.4,1000.8 L1578.0,1001.4 L1578.5,1002.1 L1579.1,1002.7 L1579.7,1003.3 L1580.2,1003.9 L1580.8,1004.5 L1581.3,1005.0 L1581.9,1005.5 L1582.4,1006.0 L1583.0,1006.5 L1583.6,1006.9 L1584.1,1007.3 L1584.7,1007.6 L1585.2,1008.0 L1585.8,1008.3 L1586.3,1005.5 L1586.9,1002.3 L1587.4,998.9 L1588.0,995.2 L1588.6,991.2 L1589.1,986.7 L1589.7,981.6 L1590.2,976.2 L1590.8,970.6 L1591.3,965.3 L1591.9,960.2 L1592.4,955.6 L1593.0,951.2 L1593.6,946.9 L1594.1,942.8 L1594.7,938.6 L1595.2,934.4 L1595.8,930.0 L1596.3,925.5 L1596.9,920.7 L1597.4,915.5 L1598.0,910.0 L1598.5,904.2 L1599.1,898.2 L1599.7,892.1 L1600.2,885.8 L1600.8,879.5 L1601.3,873.1 L1601.9,866.8 L1602.4,860.7 L1603.0,854.7 L1603.5,848.6 L1604.1,842.6 L1604.6,836.5 L1605.2,830.5 L1605.8,824.5 L1606.3,818.5 L1606.9,812.6 L1607.4,806.7 L1608.0,800.9 L1608.5,795.1 L1609.1,789.2 L1609.6,783.2 L1610.2,777.4 L1610.8,771.6 L1611.3,766.0 L1611.9,760.7 L1612.4,755.6 L1613.0,750.9 L1613.5,746.5 L1614.1,742.1 L1614.6,738.0 L1615.2,733.9 L1615.7,730.0 L1616.3,726.2 L1616.9,722.5 L1617.4,718.8 L1618.0,715.3 L1618.5,711.8 L1619.1,708.3 L1619.6,704.9 L1620.2,701.5 L1620.7,698.2 L1621.3,695.0 L1621.8,691.9 L1622.4,688.9 L1623.0,685.9 L1623.5,682.9 L1624.1,680.0 L1624.6,677.1 L1625.2,674.2 L1625.7,671.4 L1626.3,668.5 L1626.8,665.6 L1627.4,662.7 L1628.0,659.8 L1628.5,656.8 L1629.1,653.8 L1629.6,650.7 L1630.2,647.5 L1630.7,644.2 L1631.3,640.9 L1631.8,637.6 L1632.4,634.2 L1632.9,630.9 L1633.5,627.5 L1634.1,624.1 L1634.6,620.8 L1635.2,617.5 L1635.7,614.2 L1636.3,611.0 L1636.8,607.9 L1637.4,604.8 L1637.9,601.8 L1638.5,598.9 L1639.0,596.1 L1639.6,593.2 L1640.2,590.4 L1640.7,587.6 L1641.3,584.8 L1641.8,582.1 L1642.4,579.4 L1642.9,576.7 L1643.5,574.0 L1644.0,571.4 L1644.6,568.8 L1645.1,566.2 L1645.7,563.6 L1646.3,561.0 L1646.8,558.5 L1647.4,556.0 L1647.9,553.5 L1648.5,551.0 L1649.0,548.6 L1649.6,546.1 L1650.1,543.7 L1650.7,541.3 L1651.3,538.9 L1651.8,536.5 L1652.4,534.1 L1652.9,531.8 L1653.5,529.5 L1654.0,527.2 L1654.6,524.9 L1655.1,522.7 L1655.7,520.5 L1656.2,518.3 L1656.8,516.1 L1657.4,514.0 L1657.9,511.8 L1658.5,509.7 L1659.0,507.6 L1659.6,505.5 L1660.1,503.3 L1660.7,501.2 L1661.2,499.1 L1661.8,497.0 L1662.3,494.8 L1662.9,492.7 L1663.5,490.5 L1664.0,488.3 L1664.6,486.1 L1665.1,483.9 L1665.7,481.7 L1666.2,479.4 L1666.8,477.1 L1667.3,474.8 L1667.9,472.5 L1668.5,470.2 L1669.0,467.8 L1669.6,465.5 L1670.1,463.1 L1670.7,460.8 L1671.2,458.4 L1671.8,456.0 L1672.3,453.7 L1672.9,451.3 L1673.4,449.0 L1674.0,446.6 L1674.6,444.3 L1675.1,442.0 L1675.7,439.7 L1676.2,437.4 L1676.8,435.1 L1677.3,432.9 L1677.9,430.7 L1678.4,428.5 L1679.0,426.3 L1679.5,424.1 L1680.1,421.9 L1680.7,419.7 L1681.2,417.6 L1681.8,415.4 L1682.3,413.3 L1682.9,411.1 L1683.4,409.0 L1684.0,406.8 L1684.5,404.7 L1685.1,402.6 L1685.6,400.4 L1686.2,398.3 L1686.8,396.2 L1687.3,394.1 L1687.9,391.9 L1688.4,389.8 L1689.0,387.7 L1689.5,385.6 L1690.1,383.5 L1690.6,381.3 L1691.2,379.2 L1691.8,377.1 L1692.3,375.0 L1692.9,372.8 L1693.4,370.7 L1694.0,368.6 L1694.5,366.5 L1695.1,364.4 L1695.6,362.2 L1696.2,360.1 L1696.7,358.1 L1697.3,356.0 L1697.9,353.9 L1698.4,351.8 L1699.0,349.7 L1699.5,347.6 L1700.1,345.6 L1700.6,343.5 L1701.2,341.4 L1701.7,339.4 L1702.3,337.3 L1702.8,335.3 L1703.4,333.2 L1704.0,331.2 L1704.5,329.1 L1705.1,327.1 L1705.6,325.0 L1706.2,323.0 L1706.7,321.0 L1707.3,318.9 L1707.8,316.9 L1708.4,314.9 L1709.0,312.9 L1709.5,310.9 L1710.1,308.9 L1710.6,306.9 L1711.2,304.9 L1711.7,302.9 L1712.3,300.9 L1712.8,298.9 L1713.4,296.8 L1713.9,294.8 L1714.5,292.8 L1715.1,290.8 L1715.6,288.8 L1716.2,286.8 L1716.7,284.9 L1717.3,282.9 L1717.8,280.9 L1718.4,279.0 L1718.9,277.1 L1719.5,275.2 L1720.0,273.4 L1720.6,271.5 L1721.2,269.7 L1721.7,268.0 L1722.3,266.2 L1722.8,264.5 L1723.4,262.9 L1723.9,261.3 L1724.5,259.7 L1725.0,258.2 L1725.6,256.7 L1726.2,255.2 L1726.7,253.8 L1727.3,252.3 L1727.8,250.9 L1728.4,249.5 L1728.9,248.1 L1729.5,246.7 L1730.0,245.4 L1730.6,244.0 L1731.1,242.8 L1731.7,241.5 L1732.3,240.2 L1732.8,239.0 L1733.4,237.9 L1733.9,236.7 L1734.5,235.6 L1735.0,234.5 L1735.6,233.5 L1736.1,232.5 L1736.7,231.5 L1737.2,230.6 L1737.8,229.7 L1738.4,228.9 L1738.9,228.1 L1739.5,227.3 L1740.0,226.6 L1740.6,225.9 L1741.1,225.3 L1741.7,224.8 L1742.2,224.2 L1742.8,223.7 L1743.3,223.2 L1743.9,222.7 L1744.5,222.3 L1745.0,221.9 L1745.6,221.5 L1746.1,221.6 L1746.7,222.3 L1747.2,223.0 L1747.8,223.8 L1748.3,224.5 L1748.9,225.2 L1749.5,225.9 L1750.0,226.6 L1750.6,227.3 L1751.1,228.0 L1751.7,228.6 L1752.2,229.2 L1752.8,229.8 L1753.3,230.4 L1753.9,231.0 L1754.4,231.5 L1755.0,232.0 L1755.6,232.6 L1756.1,233.1 L1756.7,236.1 L1757.2,239.5 L1757.8,243.1 L1758.3,247.1 L1758.9,251.3 L1759.4,255.8 L1760.0,260.5 L1760.5,265.4 L1761.1,270.4 L1761.6,275.7 L1762.2,281.5 L1762.7,287.8 L1763.3,294.5 L1763.9,301.5 L1764.4,308.7 L1765.0,316.0 L1765.5,323.4 L1766.1,330.8 L1766.6,338.2 L1767.2,346.1 L1767.7,354.2 L1768.3,362.3 L1768.8,370.1 L1769.4,377.5 L1769.9,384.3 L1770.5,390.9 L1771.0,397.3 L1771.6,403.6 L1772.2,409.7 L1772.7,415.6 L1773.3,421.4 L1773.8,427.0 L1774.4,432.6 L1774.9,438.0 L1775.5,443.3 L1776.0,448.6 L1776.6,453.8 L1777.1,458.9 L1777.7,463.9 L1778.2,468.8 L1778.8,473.5 L1779.3,478.1 L1779.9,482.6 L1780.5,487.0 L1781.0,491.2 L1781.6,495.3 L1782.1,499.3 L1782.7,503.3 L1783.2,507.3 L1783.8,511.2 L1784.3,515.0 L1784.9,518.8 L1785.4,522.5 L1786.0,526.2 L1786.5,529.8 L1787.1,533.4 L1787.6,536.9 L1788.2,540.3 L1788.8,543.7 L1789.3,547.0 L1789.9,550.3 L1790.4,553.4 L1791.0,556.6 L1791.5,559.6 L1792.1,562.6 L1792.6,565.5 L1793.2,568.3 L1793.7,571.0 L1794.3,573.7 L1794.8,576.3 L1795.4,578.9 L1795.9,581.3 L1796.5,583.8 L1797.1,586.1 L1797.6,588.5 L1798.2,590.7 L1798.7,592.9 L1799.3,595.1 L1799.8,597.3 L1800.4,599.4 L1800.9,601.5 L1801.5,603.5 L1802.0,605.5 L1802.6,607.5 L1803.1,609.5 L1803.7,611.5 L1804.2,613.4 L1804.8,615.4 L1805.4,617.3 L1805.9,619.3 L1806.5,621.2 L1807.0,623.1 L1807.6,625.0 L1808.1,627.0 L1808.7,629.0 L1809.2,630.9 L1809.8,632.9 L1810.3,634.9 L1810.9,637.0 L1811.4,639.0 L1812.0,641.1 L1812.5,643.2 L1813.1,645.2 L1813.7,647.3 L1814.2,649.4 L1814.8,651.5 L1815.3,653.6 L1815.9,655.6 L1816.4,657.7 L1817.0,659.8 L1817.5,661.8 L1818.1,663.9 L1818.6,666.0 L1819.2,668.0 L1819.7,670.0 L1820.3,672.1 L1820.8,674.1 L1821.4,676.1 L1822.0,678.2 L1822.5,680.2 L1823.1,682.2 L1823.6,684.1 L1824.2,686.1 L1824.7,688.1 L1825.3,690.1 L1825.8,692.1 L1826.4,694.1 L1826.9,696.1 L1827.5,698.1 L1828.0,700.1 L1828.6,702.1 L1829.1,704.0 L1829.7,706.0 L1830.2,708.0 L1830.8,709.9 L1831.4,711.9 L1831.9,713.8 L1832.5,715.6 L1833.0,717.5 L1833.6,719.3 L1834.1,721.1 L1834.7,722.9 L1835.2,724.6 L1835.8,726.2 L1836.3,727.9 L1836.9,729.5 L1837.4,731.0 L1838.0,732.6 L1838.5,734.1 L1839.1,735.6 L1839.7,737.1 L1840.2,738.5 L1840.8,740.0 L1841.3,741.4 L1841.9,742.8 L1842.4,744.2 L1843.0,745.6 L1843.5,747.0 L1844.1,748.3 L1844.6,749.7 L1845.2,751.0 L1845.7,752.3 L1846.3,753.6 L1846.8,754.9 L1847.4,756.2 L1848.0,757.5 L1848.5,758.8 L1849.1,760.1 L1849.6,761.4 L1850.2,762.7 L1850.7,763.9 L1851.3,765.2 L1851.8,766.5 L1852.4,767.7 L1852.9,769.0 L1853.5,770.2 L1854.0,771.4 L1854.6,772.6 L1855.1,773.9 L1855.7,775.1 L1856.3,776.2 L1856.8,777.4 L1857.4,778.6 L1857.9,779.8 L1858.5,780.9 L1859.0,782.0 L1859.6,783.2 L1860.1,784.3 L1860.7,785.4 L1861.2,786.5 L1861.8,787.6 L1862.3,788.7 L1862.9,789.8 L1863.4,790.8 L1864.0,791.9" fill="none" stroke="#ff0000" stroke-width="8" stroke-linejoin="round" shape-rendering="crispEdges" stroke-dasharray="23 20.5" clip-path="url(#ca)"/>
<path d="M221.0,645.0 L221.6,642.9 L222.1,640.8 L222.7,638.6 L223.2,636.5 L223.8,634.4 L224.3,632.2 L224.9,630.1 L225.4,627.9 L226.0,625.7 L226.6,623.6 L227.1,621.4 L227.7,619.2 L228.2,617.0 L228.8,614.8 L229.3,612.6 L229.9,610.4 L230.4,608.3 L231.0,606.1 L231.6,603.9 L232.1,601.7 L232.7,599.5 L233.2,597.3 L233.8,595.0 L234.3,592.7 L234.9,590.4 L235.4,588.0 L236.0,585.6 L236.5,583.0 L237.1,580.4 L237.7,577.8 L238.2,575.0 L238.8,572.3 L239.3,569.5 L239.9,566.8 L240.4,564.0 L241.0,561.3 L241.5,558.7 L242.1,556.0 L242.7,553.4 L243.2,550.8 L243.8,548.2 L244.3,545.6 L244.9,543.0 L245.4,540.4 L246.0,537.8 L246.5,535.1 L247.1,532.5 L247.7,529.9 L248.2,527.2 L248.8,524.5 L249.3,521.8 L249.9,519.0 L250.4,516.1 L251.0,513.2 L251.5,510.3 L252.1,507.4 L252.7,504.5 L253.2,501.6 L253.8,498.8 L254.3,496.1 L254.9,493.4 L255.4,490.8 L256.0,488.2 L256.5,485.7 L257.1,483.1 L257.7,480.7 L258.2,478.2 L258.8,475.8 L259.3,473.4 L259.9,471.0 L260.4,468.6 L261.0,466.2 L261.5,463.9 L262.1,461.6 L262.7,459.2 L263.2,456.9 L263.8,454.6 L264.3,452.3 L264.9,450.0 L265.4,447.7 L266.0,445.4 L266.5,443.1 L267.1,440.8 L267.6,438.5 L268.2,436.1 L268.8,433.8 L269.3,431.5 L269.9,429.1 L270.4,426.8 L271.0,424.5 L271.5,422.2 L272.1,419.9 L272.6,417.6 L273.2,415.4 L273.8,413.2 L274.3,411.0 L274.9,408.9 L275.4,406.9 L276.0,404.8 L276.5,402.9 L277.1,400.9 L277.6,399.0 L278.2,397.1 L278.8,395.3 L279.3,393.5 L279.9,391.8 L280.4,390.0 L281.0,392.0 L281.5,394.1 L282.1,396.4 L282.6,398.9 L283.2,401.5 L283.7,404.3 L284.3,407.2 L284.8,410.3 L285.4,413.6 L285.9,417.1 L286.5,420.8 L287.0,424.6 L287.6,428.7 L288.1,432.8 L288.7,437.1 L289.2,441.5 L289.8,446.4 L290.3,451.9 L290.9,457.9 L291.4,464.0 L292.0,470.2 L292.5,476.3 L293.1,482.0 L293.6,487.1 L294.2,491.6 L294.7,495.2 L295.3,498.4 L295.8,501.4 L296.4,504.1 L296.9,506.7 L297.5,509.1 L298.0,511.5 L298.6,513.8 L299.1,516.2 L299.7,518.7 L300.2,521.4 L300.8,524.3 L301.3,527.2 L301.9,530.3 L302.4,533.4 L303.0,536.6 L303.5,539.8 L304.1,542.9 L304.6,546.1 L305.2,549.2 L305.7,552.2 L306.3,555.2 L306.8,558.0 L307.4,560.6 L307.9,563.2 L308.5,565.8 L309.0,568.3 L309.6,570.8 L310.1,573.2 L310.7,575.6 L311.2,578.0 L311.8,580.3 L312.3,582.5 L312.9,584.8 L313.4,587.0 L314.0,589.2 L314.5,591.3 L315.1,593.4 L315.6,595.5 L316.2,597.6 L316.7,599.6 L317.3,601.6 L317.8,603.6 L318.4,605.5 L318.9,607.3 L319.5,609.2 L320.0,610.9 L320.6,612.7 L321.1,614.4 L321.7,616.1 L322.2,617.8 L322.8,619.5 L323.3,621.2 L323.9,622.9 L324.4,624.6 L325.0,626.3 L325.5,628.0 L326.1,629.7 L326.6,631.5 L327.2,633.3 L327.7,635.1 L328.3,637.0 L328.8,638.9 L329.4,640.8 L329.9,642.8 L330.5,644.9 L331.0,647.0 L331.6,649.2 L332.1,651.4 L332.7,653.6 L333.2,655.8 L333.8,658.1 L334.3,660.3 L334.9,662.6 L335.4,664.8 L336.0,667.0 L336.5,669.2 L337.1,671.4 L337.7,673.5 L338.2,675.6 L338.8,677.7 L339.3,679.6 L339.9,681.5 L340.4,683.4 L341.0,685.3 L341.5,687.1 L342.1,688.8 L342.6,690.6 L343.2,692.3 L343.7,694.1 L344.3,695.7 L344.8,697.4 L345.4,699.1 L345.9,700.7 L346.5,702.4 L347.0,704.0 L347.6,705.7 L348.1,707.3 L348.7,708.9 L349.2,710.6 L349.8,712.2 L350.3,713.9 L350.9,715.5 L351.4,717.2 L352.0,718.9 L352.5,720.6 L353.1,722.3 L353.6,724.0 L354.2,725.8 L354.7,727.5 L355.3,729.2 L355.8,731.0 L356.4,732.7 L356.9,734.5 L357.5,736.2 L358.0,738.0 L358.6,739.8 L359.1,741.5 L359.7,743.3 L360.2,745.0 L360.8,746.8 L361.3,748.5 L361.9,750.2 L362.4,752.0 L363.0,753.7 L363.5,755.4 L364.1,757.1 L364.6,758.8 L365.2,760.5 L365.7,762.2 L366.3,763.9 L366.8,765.6 L367.4,767.2 L367.9,768.9 L368.5,770.6 L369.0,772.2 L369.6,773.9 L370.1,775.6 L370.7,777.2 L371.2,778.8 L371.8,780.5 L372.3,782.1 L372.9,783.8 L373.4,785.4 L374.0,787.0 L374.5,788.6 L375.1,790.2 L375.6,791.8 L376.2,793.4 L376.7,795.0 L377.3,796.6 L377.8,798.2 L378.4,799.8 L378.9,801.3 L379.5,802.9 L380.0,804.4 L380.6,806.0 L381.1,807.5 L381.7,809.0 L382.2,810.5 L382.8,812.0 L383.3,813.5 L383.9,815.0 L384.4,816.5 L385.0,818.0 L385.5,819.5 L386.1,821.0 L386.6,822.5 L387.2,823.9 L387.7,825.4 L388.3,826.9 L388.8,828.3 L389.4,829.8 L389.9,831.3 L390.5,832.7 L391.0,834.2 L391.6,835.6 L392.1,837.1 L392.7,838.5 L393.2,840.0 L393.8,841.4 L394.3,842.9 L394.9,844.3 L395.4,845.8 L396.0,847.2 L396.5,848.7 L397.1,850.1 L397.6,851.6 L398.2,853.0 L398.7,854.5 L399.3,855.9 L399.8,857.4 L400.4,858.8 L400.9,860.2 L401.5,861.7 L402.0,863.1 L402.6,864.5 L403.1,865.9 L403.7,867.3 L404.2,868.7 L404.8,870.1 L405.3,871.5 L405.9,872.9 L406.4,874.3 L407.0,875.7 L407.5,877.0 L408.1,878.4 L408.6,879.7 L409.2,881.1 L409.7,882.4 L410.3,883.8 L410.8,885.1 L411.4,886.5 L411.9,887.8 L412.5,889.1 L413.0,890.4 L413.6,891.8 L414.1,893.1 L414.7,894.4 L415.2,895.7 L415.8,897.0 L416.3,898.3 L416.9,899.6 L417.4,900.8 L418.0,902.1 L418.5,903.4 L419.1,904.7 L419.6,905.9 L420.2,907.2 L420.7,908.5 L421.3,909.7 L421.8,910.9 L422.4,912.2 L422.9,913.4 L423.5,914.7 L424.0,915.9 L424.6,917.1 L425.1,918.3 L425.7,919.5 L426.2,920.8 L426.8,922.0 L427.3,923.2 L427.9,924.4 L428.4,925.6 L429.0,926.8 L429.5,928.0 L430.1,929.2 L430.6,930.3 L431.2,931.5 L431.7,932.7 L432.3,933.8 L432.8,935.0 L433.4,936.1 L433.9,937.3 L434.5,938.4 L435.0,939.5 L435.6,940.7 L436.1,941.8 L436.7,942.9 L437.3,944.0 L437.8,945.1 L438.4,946.1 L438.9,947.2 L439.5,948.3 L440.0,949.3 L440.6,950.4 L441.1,951.4 L441.7,952.5 L442.2,953.5 L442.8,954.6 L443.3,955.6 L443.9,956.6 L444.4,957.6 L445.0,958.7 L445.5,959.7 L446.1,960.7 L446.6,961.7 L447.2,962.7 L447.7,963.6 L448.3,964.6 L448.8,965.6 L449.4,966.6 L449.9,967.5 L450.5,968.5 L451.0,969.4 L451.6,970.4 L452.1,971.3 L452.7,972.2 L453.2,973.2 L453.8,974.1 L454.2,973.2 L454.8,971.7 L455.3,969.5 L455.8,966.4 L456.4,962.8 L456.9,958.9 L457.4,955.0 L458.0,951.3 L458.5,947.9 L459.0,944.6 L459.6,941.3 L460.1,938.0 L460.6,934.7 L461.1,931.1 L461.7,927.4 L462.2,923.4 L462.7,919.1 L463.3,914.4 L463.8,909.3 L464.3,903.8 L464.9,898.1 L465.4,892.2 L465.9,886.1 L466.5,879.9 L467.0,873.7 L467.5,867.6 L468.1,861.5 L468.6,855.6 L469.1,849.6 L469.6,843.6 L470.2,837.6 L470.7,831.5 L471.2,825.5 L471.8,819.5 L472.3,813.6 L472.8,807.7 L473.4,801.9 L473.9,796.0 L474.4,790.0 L475.0,784.0 L475.5,778.1 L476.0,772.2 L476.6,766.6 L477.1,761.2 L477.6,756.0 L478.1,751.3 L478.7,746.7 L479.2,742.4 L479.7,738.1 L480.3,734.0 L480.8,730.0 L481.3,726.2 L481.9,722.4 L482.4,718.7 L482.9,715.1 L483.5,711.5 L484.0,708.0 L484.5,704.5 L485.1,701.1 L485.6,697.7 L486.1,694.5 L486.6,691.3 L487.2,688.2 L487.7,685.1 L488.2,682.1 L488.8,679.1 L489.3,676.2 L489.8,673.3 L490.4,670.4 L490.9,667.4 L491.4,664.5 L492.0,661.6 L492.5,658.6 L493.0,655.5 L493.6,652.4 L494.1,649.2 L494.6,646.0 L495.1,642.7 L495.7,639.3 L496.2,635.9 L496.7,632.5 L497.3,629.1 L497.8,625.6 L498.3,622.2 L498.9,618.8 L499.4,615.4 L499.9,612.1 L500.5,608.8 L501.0,605.6 L501.5,602.5 L502.1,599.4 L502.6,596.5 L503.1,593.6 L503.6,590.7 L504.2,587.8 L504.7,584.9 L505.2,582.1 L505.8,579.3 L506.3,576.6 L506.8,573.8 L507.4,571.1 L507.9,568.4 L508.4,565.8 L509.0,563.1 L509.5,560.5 L510.0,557.9 L510.6,555.3 L511.1,552.8 L511.6,550.2 L512.1,547.7 L512.7,545.2 L513.2,542.7 L513.7,540.3 L514.3,537.8 L514.8,535.4 L515.3,533.0 L515.9,530.6 L516.4,528.2 L516.9,525.9 L517.5,523.6 L518.0,521.3 L518.5,519.0 L519.1,516.8 L519.6,514.6 L520.1,512.4 L520.6,510.3 L521.2,508.1 L521.7,506.0 L522.2,503.8 L522.8,501.7 L523.3,499.6 L523.8,497.5 L524.4,495.4 L524.9,493.2 L525.4,491.1 L526.0,489.0 L526.5,486.8 L527.0,484.7 L527.6,482.5 L528.1,480.3 L528.6,478.1 L529.1,475.8 L529.7,473.6 L530.2,471.3 L530.7,469.1 L531.3,466.8 L531.8,464.5 L532.3,462.2 L532.9,459.9 L533.4,457.6 L533.9,455.3 L534.5,453.0 L535.0,450.8 L535.5,448.5 L536.1,446.2 L536.6,444.0 L537.1,441.8 L537.6,439.6 L538.2,437.4 L538.7,435.2 L539.2,433.1 L539.8,431.0 L540.3,428.9 L540.8,426.8 L541.4,424.8 L541.9,422.7 L542.4,420.7 L543.0,418.7 L543.5,416.8 L544.0,414.8 L544.6,412.8 L545.1,410.9 L545.6,409.0 L546.1,407.0 L546.7,405.1 L547.2,403.2 L547.7,401.3 L548.3,399.5 L548.8,397.6 L549.3,395.7 L549.9,393.9 L550.4,392.0 L550.9,390.2 L551.5,388.3 L552.0,386.5 L552.5,384.7 L553.1,382.9 L553.6,381.1 L554.1,379.2 L554.6,377.4 L555.2,375.6 L555.7,373.8 L556.2,372.1 L556.8,370.3 L557.3,368.5 L557.8,366.8 L558.4,365.0 L558.9,363.3 L559.4,361.6 L560.0,359.8 L560.5,358.1 L561.0,356.4 L561.6,354.7 L562.1,353.0 L562.6,351.3 L563.1,349.6 L563.7,347.9 L564.2,346.3 L564.7,344.6 L565.3,342.9 L565.8,341.2 L566.3,339.5 L566.9,337.8 L567.4,336.2 L567.9,334.5 L568.5,332.8 L569.0,331.1 L569.5,329.4 L570.1,327.8 L570.6,326.1 L571.1,324.4 L571.6,322.7 L572.2,321.0 L572.7,319.3 L573.2,317.5 L573.8,315.8 L574.3,314.1 L574.8,312.3 L575.4,310.5 L575.9,308.8 L576.4,307.0 L577.0,305.2 L577.5,303.4 L578.0,301.7 L578.6,299.9 L579.1,298.1 L579.6,296.3 L580.1,294.6 L580.7,292.8 L581.2,291.1 L581.7,289.4 L582.3,287.7 L582.8,286.0 L583.3,284.4 L583.9,282.8 L584.4,281.2 L584.9,279.6 L585.5,278.1 L586.0,276.5 L586.5,275.0 L587.1,273.5 L587.6,272.0 L588.1,270.5 L588.6,269.0 L589.2,267.5 L589.7,266.0 L590.2,264.5 L590.8,263.0 L591.3,261.5 L591.8,260.1 L592.4,258.6 L592.9,257.2 L593.4,255.8 L594.0,254.4 L594.5,253.0 L595.0,251.7 L595.6,250.4 L596.1,249.1 L596.6,247.8 L597.1,246.6 L597.7,245.4 L598.2,244.2 L598.7,243.1 L599.3,242.0 L599.8,240.9 L600.3,239.9 L600.9,238.9 L601.4,238.0 L601.9,237.0 L602.5,236.1 L603.0,235.3 L603.5,234.4 L604.1,233.5 L604.6,232.7 L605.1,231.9 L605.6,231.2 L606.2,230.4 L606.7,229.7 L607.2,229.1 L607.8,228.4 L608.3,227.9 L608.8,227.3 L609.4,226.8 L609.9,226.4 L610.4,225.9 L611.0,225.5 L611.5,225.1 L612.0,224.7 L612.6,224.3 L613.1,224.0 L613.6,223.7 L614.1,223.4 L614.7,223.2 L615.2,223.0 L615.8,224.5 L616.3,226.3 L616.9,228.4 L617.4,230.9 L618.0,233.6 L618.5,236.5 L619.1,239.6 L619.6,243.0 L620.2,246.4 L620.7,250.0 L621.3,253.9 L621.8,258.3 L622.4,263.3 L622.9,268.7 L623.5,274.5 L624.0,280.4 L624.6,286.4 L625.1,292.5 L625.7,298.4 L626.2,304.2 L626.8,310.1 L627.3,316.1 L627.9,322.2 L628.4,328.3 L629.0,334.6 L629.5,340.9 L630.1,347.2 L630.6,353.7 L631.2,360.4 L631.7,367.4 L632.3,374.5 L632.8,381.5 L633.4,388.3 L633.9,394.8 L634.5,400.7 L635.0,406.2 L635.6,411.4 L636.1,416.3 L636.7,421.0 L637.2,425.7 L637.8,430.2 L638.3,434.8 L638.9,439.5 L639.4,444.3 L640.0,449.1 L640.5,454.0 L641.1,458.9 L641.6,463.7 L642.2,468.4 L642.7,472.9 L643.3,477.2 L643.8,481.4 L644.4,485.5 L644.9,489.6 L645.5,493.5 L646.0,497.4 L646.6,501.2 L647.1,504.9 L647.7,508.6 L648.2,512.2 L648.8,515.8 L649.3,519.4 L649.9,522.9 L650.4,526.4 L651.0,529.9 L651.5,533.4 L652.1,536.9 L652.6,540.4 L653.2,543.8 L653.7,547.2 L654.3,550.5 L654.8,553.8 L655.4,557.1 L655.9,560.3 L656.5,563.4 L657.0,566.4 L657.6,569.4 L658.1,572.3 L658.7,575.1 L659.2,577.9 L659.8,580.6 L660.3,583.2 L660.9,585.8 L661.4,588.3 L662.0,590.8 L662.5,593.3 L663.1,595.7 L663.6,598.1 L664.2,600.5 L664.7,602.8 L665.3,605.1 L665.8,607.4 L666.4,609.7 L666.9,611.9 L667.5,614.2 L668.0,616.4 L668.6,618.6 L669.1,620.8 L669.7,623.0 L670.2,625.3 L670.8,627.4 L671.3,629.6 L671.9,631.8 L672.4,633.9 L673.0,636.0 L673.5,638.1 L674.1,640.2 L674.6,642.3 L675.2,644.3 L675.7,646.4 L676.3,648.4 L676.8,650.4 L677.4,652.4 L677.9,654.4 L678.5,656.4 L679.0,658.4 L679.6,660.3 L680.1,662.3 L680.7,664.2 L681.2,666.1 L681.8,668.0 L682.3,669.9 L682.9,671.8 L683.4,673.7 L684.0,675.6 L684.5,677.4 L685.1,679.3 L685.6,681.1 L686.2,683.0 L686.7,684.8 L687.3,686.6 L687.8,688.4 L688.4,690.2 L688.9,692.0 L689.5,693.8 L690.0,695.6 L690.6,697.4 L691.1,699.2 L691.7,701.0 L692.2,702.8 L692.8,704.5 L693.3,706.3 L693.9,708.1 L694.4,709.8 L695.0,711.6 L695.5,713.4 L696.1,715.1 L696.6,716.9 L697.2,718.7 L697.7,720.4 L698.3,722.2 L698.8,723.9 L699.4,725.7 L699.9,727.4 L700.5,729.2 L701.0,730.9 L701.6,732.7 L702.1,734.4 L702.7,736.1 L703.2,737.9 L703.8,739.6 L704.3,741.3 L704.9,743.1 L705.4,744.8 L706.0,746.5 L706.5,748.2 L707.1,749.9 L707.6,751.6 L708.2,753.4 L708.7,755.1 L709.3,756.8 L709.8,758.5 L710.4,760.2 L710.9,761.9 L711.5,763.5 L712.0,765.2 L712.6,766.9 L713.1,768.6 L713.7,770.2 L714.2,771.9 L714.8,773.5 L715.3,775.1 L715.9,776.7 L716.4,778.4 L717.0,780.0 L717.5,781.6 L718.1,783.2 L718.6,784.8 L719.2,786.3 L719.7,787.9 L720.3,789.5 L720.8,791.1 L721.4,792.6 L721.9,794.2 L722.5,795.8 L723.0,797.3 L723.6,798.9 L724.1,800.5 L724.7,802.0 L725.2,803.6 L725.8,805.1 L726.3,806.7 L726.9,808.2 L727.4,809.8 L728.0,811.3 L728.5,812.9 L729.1,814.4 L729.6,816.0 L730.2,817.5 L730.7,819.0 L731.3,820.6 L731.8,822.1 L732.4,823.6 L732.9,825.2 L733.5,826.7 L734.0,828.2 L734.6,829.7 L735.1,831.2 L735.7,832.7 L736.2,834.2 L736.8,835.7 L737.3,837.2 L737.9,838.6 L738.4,840.1 L739.0,841.6 L739.5,843.0 L740.1,844.5 L740.6,845.9 L741.2,847.3 L741.7,848.8 L742.3,850.2 L742.8,851.6 L743.4,853.1 L743.9,854.5 L744.5,855.9 L745.0,857.3 L745.6,858.8 L746.1,860.2 L746.7,861.6 L747.2,863.0 L747.8,864.4 L748.3,865.8 L748.9,867.2 L749.4,868.6 L750.0,870.0 L750.5,871.4 L751.1,872.8 L751.6,874.2 L752.2,875.6 L752.7,876.9 L753.3,878.3 L753.8,879.7 L754.4,881.0 L754.9,882.4 L755.5,883.7 L756.0,885.1 L756.6,886.4 L757.1,887.7 L757.7,889.1 L758.2,890.4 L758.8,891.7 L759.3,893.0 L759.9,894.3 L760.4,895.6 L761.0,896.9 L761.5,898.2 L762.1,899.4 L762.6,900.7 L763.2,902.0 L763.7,903.2 L764.3,904.5 L764.8,905.7 L765.4,907.0 L765.9,908.2 L766.5,909.4 L767.0,910.7 L767.6,911.9 L768.1,913.1 L768.7,914.3 L769.2,915.6 L769.8,916.8 L770.3,918.0 L770.9,919.2 L771.4,920.4 L772.0,921.6 L772.5,922.8 L773.1,923.9 L773.6,925.1 L774.2,926.3 L774.7,927.4 L775.3,928.6 L775.8,929.7 L776.4,930.9 L776.9,932.0 L777.5,933.1 L778.0,934.2 L778.6,935.3 L779.1,936.4 L779.7,937.5 L780.2,938.5 L780.8,939.6 L781.3,940.7 L781.9,941.7 L782.4,942.7 L783.0,943.7 L783.5,944.7 L784.1,945.7 L784.6,946.7 L785.2,947.7 L785.7,948.7 L786.3,949.7 L786.8,950.7 L787.4,951.6 L787.9,952.6 L788.5,953.6 L789.0,954.6 L789.6,955.6 L790.1,956.5 L790.7,957.5 L791.2,958.5 L791.8,959.4 L792.3,960.4 L792.9,961.3 L793.4,962.3 L794.0,963.2 L794.5,964.2 L795.1,965.1 L795.6,966.0 L796.2,966.9 L796.7,967.9 L797.3,968.8 L797.8,969.7 L798.4,970.7 L798.9,971.6 L799.5,972.6 L800.0,973.6 L800.6,974.5 L801.1,975.5 L801.7,976.4 L802.2,977.4 L802.8,978.3 L803.3,979.3 L803.9,980.2 L804.4,981.2 L805.0,982.1 L805.5,983.0 L806.1,983.9 L806.6,984.8 L807.2,985.7 L807.7,986.6 L808.3,987.4 L808.8,988.2 L809.4,989.1 L809.9,989.9 L810.5,990.7 L811.0,991.5 L811.6,992.2 L812.1,993.0 L812.7,993.8 L813.3,994.5 L813.8,995.2 L814.4,996.0 L814.9,996.7 L815.5,997.4 L816.0,998.0 L816.6,998.7 L817.1,999.3 L817.7,1000.0 L818.2,1000.6 L818.8,1001.2 L819.3,1001.7 L819.9,1002.3 L820.4,1002.8 L821.0,1003.3 L821.5,1003.7 L822.1,1004.2 L822.6,1004.6 L823.2,1005.0 L823.7,1005.4 L824.3,1005.7 L824.8,1006.0 L825.4,1003.6 L825.9,1000.8 L826.5,997.6 L827.0,994.2 L827.6,990.5 L828.1,986.2 L828.7,981.3 L829.2,976.0 L829.8,970.7 L830.3,965.4 L830.9,960.5 L831.4,956.0 L832.0,951.7 L832.5,947.5 L833.1,943.4 L833.6,939.3 L834.2,935.2 L834.7,930.9 L835.3,926.4 L835.8,921.6 L836.4,916.5 L836.9,911.0 L837.5,905.2 L838.0,899.2 L838.6,893.0 L839.1,886.7 L839.7,880.4 L840.2,874.0 L840.8,867.7 L841.3,861.5 L841.9,855.5 L842.4,849.4 L843.0,843.3 L843.5,837.2 L844.1,831.1 L844.6,825.1 L845.2,819.1 L845.7,813.1 L846.3,807.2 L846.8,801.3 L847.4,795.4 L847.9,789.4 L848.5,783.4 L849.0,777.5 L849.6,771.7 L850.1,766.1 L850.7,760.7 L851.2,755.6 L851.8,750.8 L852.3,746.3 L852.9,741.9 L853.4,737.7 L854.0,733.6 L854.5,729.7 L855.1,725.8 L855.6,722.1 L856.2,718.4 L856.7,714.8 L857.3,711.3 L857.8,707.8 L858.4,704.3 L858.9,700.9 L859.5,697.6 L860.0,694.3 L860.6,691.2 L861.1,688.1 L861.7,685.1 L862.2,682.1 L862.8,679.1 L863.3,676.2 L863.9,673.3 L864.4,670.4 L865.0,667.5 L865.5,664.6 L866.1,661.7 L866.6,658.7 L867.2,655.7 L867.7,652.6 L868.3,649.5 L868.8,646.2 L869.4,643.0 L869.9,639.6 L870.5,636.3 L871.0,632.9 L871.6,629.5 L872.1,626.1 L872.7,622.7 L873.2,619.3 L873.8,615.9 L874.3,612.6 L874.9,609.4 L875.4,606.2 L876.0,603.1 L876.5,600.1 L877.1,597.2 L877.6,594.3 L878.2,591.4 L878.7,588.5 L879.3,585.7 L879.8,582.9 L880.4,580.2 L880.9,577.4 L881.5,574.7 L882.0,572.0 L882.6,569.3 L883.1,566.7 L883.7,564.1 L884.2,561.5 L884.8,558.9 L885.3,556.3 L885.9,553.8 L886.4,551.3 L887.0,548.8 L887.5,546.3 L888.1,543.8 L888.6,541.4 L889.2,539.0 L889.7,536.5 L890.3,534.1 L890.8,531.8 L891.4,529.4 L891.9,527.1 L892.5,524.8 L893.0,522.5 L893.6,520.3 L894.1,518.1 L894.7,515.9 L895.2,513.7 L895.8,511.5 L896.3,509.4 L896.9,507.3 L897.4,505.1 L898.0,503.0 L898.5,500.9 L899.1,498.8 L899.6,496.7 L900.2,494.5 L900.7,492.4 L901.3,490.3 L901.9,488.1 L902.4,485.9 L903.0,483.8 L903.5,481.6 L904.1,479.3 L904.6,477.1 L905.2,474.8 L905.7,472.6 L906.3,470.3 L906.8,468.0 L907.4,465.7 L907.9,463.4 L908.5,461.1 L909.0,458.8 L909.6,456.4 L910.1,454.1 L910.7,451.8 L911.2,449.5 L911.8,447.2 L912.3,445.0 L912.9,442.7 L913.4,440.5 L914.0,438.2 L914.5,436.0 L915.1,433.8 L915.6,431.7 L916.2,429.6 L916.7,427.4 L917.3,425.3 L917.8,423.3 L918.4,421.2 L918.9,419.1 L919.5,417.1 L920.0,415.1 L920.6,413.0 L921.1,411.0 L921.7,409.0 L922.2,407.0 L922.8,405.0 L923.3,403.0 L923.9,401.1 L924.4,399.1 L925.0,397.1 L925.5,395.2 L926.1,393.2 L926.6,391.3 L927.2,389.3 L927.7,387.4 L928.3,385.5 L928.8,383.5 L929.4,381.6 L929.9,379.7 L930.5,377.8 L931.0,375.8 L931.6,373.9 L932.1,372.0 L932.7,370.1 L933.2,368.2 L933.8,366.3 L934.3,364.4 L934.9,362.6 L935.4,360.7 L936.0,358.8 L936.5,357.0 L937.1,355.1 L937.6,353.3 L938.2,351.5 L938.7,349.6 L939.3,347.8 L939.8,346.0 L940.4,344.2 L940.9,342.3 L941.5,340.5 L942.0,338.7 L942.6,336.9 L943.1,335.1 L943.7,333.3 L944.2,331.5 L944.8,329.7 L945.3,327.9 L945.9,326.0 L946.4,324.2 L947.0,322.4 L947.5,320.6 L948.1,318.8 L948.6,317.0 L949.2,315.2 L949.7,313.4 L950.3,311.6 L950.8,309.7 L951.4,307.9 L951.9,306.1 L952.5,304.2 L953.0,302.3 L953.6,300.5 L954.1,298.6 L954.7,296.8 L955.2,294.9 L955.8,293.1 L956.3,291.3 L956.9,289.5 L957.4,287.7 L958.0,285.9 L958.5,284.1 L959.1,282.4 L959.6,280.6 L960.2,279.0 L960.7,277.3 L961.3,275.7 L961.8,274.1 L962.4,272.5 L962.9,271.0 L963.5,269.5 L964.0,268.0 L964.6,266.5 L965.1,265.0 L965.7,263.5 L966.2,262.0 L966.8,260.6 L967.3,259.1 L967.9,257.7 L968.4,256.3 L969.0,254.9 L969.5,253.5 L970.1,252.1 L970.6,250.8 L971.2,249.4 L971.7,248.1 L972.3,246.9 L972.8,245.6 L973.4,244.4 L973.9,243.2 L974.5,242.1 L975.0,241.0 L975.6,239.9 L976.1,238.8 L976.7,237.8 L977.2,236.8 L977.8,235.9 L978.3,235.0 L978.9,234.2 L979.4,233.4 L980.0,232.6 L980.5,231.8 L981.1,231.1 L981.7,230.4 L982.2,229.7 L982.8,229.0 L983.3,228.4 L983.9,227.9 L984.4,227.7 L985.0,227.6 L985.5,227.4 L986.1,227.3 L986.6,227.2 L987.2,227.1 L987.7,227.0 L988.3,227.0 L988.8,227.0 L989.4,226.9 L989.9,226.9 L990.5,226.9 L991.0,226.9 L991.6,226.9 L992.1,226.9 L992.7,226.9 L993.2,226.9 L993.8,227.0 L994.3,228.5 L994.9,230.3 L995.4,232.4 L996.0,234.8 L996.5,237.5 L997.1,240.4 L997.6,243.5 L998.2,246.8 L998.8,250.2 L999.3,253.8 L999.9,257.6 L1000.4,262.1 L1001.0,267.0 L1001.5,272.4 L1002.1,278.0 L1002.6,283.9 L1003.2,289.9 L1003.7,295.9 L1004.3,301.8 L1004.9,307.5 L1005.4,313.4 L1006.0,319.3 L1006.5,325.4 L1007.1,331.5 L1007.6,337.7 L1008.2,343.9 L1008.7,350.2 L1009.3,356.6 L1009.8,363.3 L1010.4,370.2 L1011.0,377.2 L1011.5,384.2 L1012.1,390.9 L1012.6,397.3 L1013.2,403.2 L1013.7,408.7 L1014.3,413.8 L1014.8,418.7 L1015.4,423.4 L1016.0,427.9 L1016.5,432.5 L1017.1,437.0 L1017.6,441.7 L1018.2,446.4 L1018.7,451.2 L1019.3,456.1 L1019.8,460.9 L1020.4,465.6 L1020.9,470.3 L1021.5,474.8 L1022.1,479.1 L1022.6,483.3 L1023.2,487.3 L1023.7,491.3 L1024.3,495.2 L1024.8,499.0 L1025.4,502.8 L1025.9,506.5 L1026.5,510.2 L1027.0,513.8 L1027.6,517.3 L1028.2,520.9 L1028.7,524.4 L1029.3,527.9 L1029.8,531.3 L1030.4,534.8 L1030.9,538.2 L1031.5,541.7 L1032.0,545.0 L1032.6,548.4 L1033.2,551.7 L1033.7,555.0 L1034.3,558.2 L1034.8,561.4 L1035.4,564.5 L1035.9,567.5 L1036.5,570.5 L1037.0,573.3 L1037.6,576.1 L1038.1,578.8 L1038.7,581.5 L1039.3,584.1 L1039.8,586.7 L1040.4,589.2 L1040.9,591.7 L1041.5,594.1 L1042.0,596.5 L1042.6,598.9 L1043.1,601.2 L1043.7,603.6 L1044.2,605.8 L1044.8,608.1 L1045.4,610.3 L1045.9,612.6 L1046.5,614.8 L1047.0,617.0 L1047.6,619.2 L1048.1,621.4 L1048.7,623.6 L1049.2,625.8 L1049.8,628.0 L1050.4,630.1 L1050.9,632.2 L1051.5,634.4 L1052.0,636.5 L1052.6,638.5 L1053.1,640.6 L1053.7,642.7 L1054.2,644.7 L1054.8,646.7 L1055.3,648.7 L1055.9,650.7 L1056.5,652.7 L1057.0,654.7 L1057.6,656.7 L1058.1,658.6 L1058.7,660.5 L1059.2,662.5 L1059.8,664.4 L1060.3,666.3 L1060.9,668.2 L1061.4,670.1 L1062.0,671.9 L1062.6,673.8 L1063.1,675.7 L1063.7,677.5 L1064.2,679.3 L1064.8,681.2 L1065.3,683.0 L1065.9,684.8 L1066.4,686.6 L1067.0,688.4 L1067.6,690.2 L1068.1,692.0 L1068.7,693.7 L1069.2,695.5 L1069.8,697.3 L1070.3,699.1 L1070.9,700.8 L1071.4,702.6 L1072.0,704.4 L1072.5,706.1 L1073.1,707.9 L1073.7,709.6 L1074.2,711.4 L1074.8,713.1 L1075.3,714.9 L1075.9,716.6 L1076.4,718.4 L1077.0,720.1 L1077.5,721.9 L1078.1,723.6 L1078.7,725.3 L1079.2,727.1 L1079.8,728.8 L1080.3,730.5 L1080.9,732.2 L1081.4,734.0 L1082.0,735.7 L1082.5,737.4 L1083.1,739.1 L1083.6,740.8 L1084.2,742.5 L1084.8,744.3 L1085.3,746.0 L1085.9,747.7 L1086.4,749.4 L1087.0,751.1 L1087.5,752.8 L1088.1,754.5 L1088.6,756.1 L1089.2,757.8 L1089.7,759.5 L1090.3,761.2 L1090.9,762.9 L1091.4,764.5 L1092.0,766.2 L1092.5,767.8 L1093.1,769.5 L1093.6,771.1 L1094.2,772.7 L1094.7,774.3 L1095.3,775.9 L1095.9,777.6 L1096.4,779.1 L1097.0,780.7 L1097.5,782.3 L1098.1,783.9 L1098.6,785.5 L1099.2,787.0 L1099.7,788.6 L1100.3,790.2 L1100.8,791.7 L1101.4,793.3 L1102.0,794.8 L1102.5,796.4 L1103.1,797.9 L1103.6,799.5 L1104.2,801.0 L1104.7,802.5 L1105.3,804.1 L1105.8,805.6 L1106.4,807.2 L1106.9,808.7 L1107.5,810.2 L1108.1,811.8 L1108.6,813.3 L1109.2,814.8 L1109.7,816.4 L1110.3,817.9 L1110.8,819.4 L1111.4,820.9 L1111.9,822.5 L1112.5,824.0 L1113.1,825.5 L1113.6,827.0 L1114.2,828.5 L1114.7,830.0 L1115.3,831.4 L1115.8,832.9 L1116.4,834.4 L1116.9,835.9 L1117.5,837.3 L1118.0,838.8 L1118.6,840.2 L1119.2,841.7 L1119.7,843.1 L1120.3,844.5 L1120.8,845.9 L1121.4,847.4 L1121.9,848.8 L1122.5,850.2 L1123.0,851.6 L1123.6,853.0 L1124.1,854.5 L1124.7,855.9 L1125.3,857.3 L1125.8,858.7 L1126.4,860.1 L1126.9,861.5 L1127.5,862.9 L1128.0,864.3 L1128.6,865.7 L1129.1,867.1 L1129.7,868.4 L1130.3,869.8 L1130.8,871.2 L1131.4,872.6 L1131.9,873.9 L1132.5,875.3 L1133.0,876.6 L1133.6,878.0 L1134.1,879.3 L1134.7,880.7 L1135.2,882.0 L1135.8,883.4 L1136.4,884.7 L1136.9,886.0 L1137.5,887.3 L1138.0,888.6 L1138.6,889.9 L1139.1,891.2 L1139.7,892.5 L1140.2,893.8 L1140.8,895.1 L1141.3,896.3 L1141.9,897.6 L1142.5,898.9 L1143.0,900.1 L1143.6,901.4 L1144.1,902.6 L1144.7,903.8 L1145.2,905.1 L1145.8,906.3 L1146.3,907.5 L1146.9,908.7 L1147.5,910.0 L1148.0,911.2 L1148.6,912.4 L1149.1,913.6 L1149.7,914.8 L1150.2,916.0 L1150.8,917.2 L1151.3,918.4 L1151.9,919.6 L1152.4,920.7 L1153.0,921.9 L1153.6,923.1 L1154.1,924.2 L1154.7,925.4 L1155.2,926.5 L1155.8,927.6 L1156.3,928.8 L1156.9,929.9 L1157.4,931.0 L1158.0,932.1 L1158.5,933.2 L1159.1,934.3 L1159.7,935.3 L1160.2,936.4 L1160.8,937.4 L1161.3,938.5 L1161.9,939.5 L1162.4,940.5 L1163.0,941.5 L1163.5,942.5 L1164.1,943.5 L1164.7,944.5 L1165.2,945.4 L1165.8,946.4 L1166.3,947.4 L1166.9,948.4 L1167.4,949.4 L1168.0,950.3 L1168.5,951.3 L1169.1,952.3 L1169.6,953.3 L1170.2,954.2 L1170.8,955.2 L1171.3,956.1 L1171.9,957.1 L1172.4,958.1 L1173.0,959.0 L1173.5,959.9 L1174.1,960.9 L1174.6,961.8 L1175.2,962.7 L1175.7,963.6 L1176.3,964.5 L1176.9,965.5 L1177.4,966.4 L1178.0,967.3 L1178.5,968.3 L1179.1,969.2 L1179.6,970.2 L1180.2,971.1 L1180.7,972.1 L1181.3,973.0 L1181.9,974.0 L1182.4,974.9 L1183.0,975.9 L1183.5,976.8 L1184.1,977.7 L1184.6,978.7 L1185.2,979.6 L1185.7,980.5 L1186.3,981.4 L1186.8,982.3 L1187.4,983.2 L1188.0,984.0 L1188.5,984.9 L1189.1,985.7 L1189.6,986.5 L1190.2,987.3 L1190.7,988.1 L1191.3,988.9 L1191.8,989.7 L1192.4,990.4 L1193.0,991.2 L1193.5,991.9 L1194.1,992.7 L1194.6,993.4 L1195.2,994.1 L1195.7,994.8 L1196.3,995.4 L1196.8,996.1 L1197.4,996.7 L1197.9,997.3 L1198.5,997.9 L1199.1,998.5 L1199.6,999.1 L1200.2,999.6 L1200.7,1000.1 L1201.3,1000.6 L1201.8,1001.1 L1202.4,1001.5 L1202.9,1002.0 L1203.5,1002.3 L1204.0,1002.7 L1204.6,1003.0 L1205.2,1003.3 L1205.7,1000.9 L1206.3,998.2 L1206.8,995.1 L1207.4,991.7 L1207.9,988.0 L1208.4,983.7 L1209.0,978.9 L1209.5,973.7 L1210.1,968.4 L1210.6,963.2 L1211.2,958.3 L1211.7,953.8 L1212.3,949.6 L1212.8,945.5 L1213.4,941.4 L1213.9,937.4 L1214.5,933.2 L1215.0,929.0 L1215.6,924.5 L1216.1,919.8 L1216.7,914.7 L1217.2,909.3 L1217.8,903.6 L1218.3,897.6 L1218.9,891.5 L1219.4,885.2 L1220.0,878.9 L1220.5,872.6 L1221.1,866.4 L1221.6,860.2 L1222.2,854.2 L1222.7,848.2 L1223.3,842.2 L1223.8,836.2 L1224.4,830.1 L1224.9,824.1 L1225.5,818.2 L1226.0,812.3 L1226.6,806.4 L1227.1,800.6 L1227.6,794.8 L1228.2,788.8 L1228.7,782.9 L1229.3,777.0 L1229.8,771.3 L1230.4,765.7 L1230.9,760.3 L1231.5,755.3 L1232.0,750.6 L1232.6,746.1 L1233.1,741.8 L1233.7,737.6 L1234.2,733.6 L1234.8,729.6 L1235.3,725.8 L1235.9,722.1 L1236.4,718.5 L1237.0,714.9 L1237.5,711.4 L1238.1,707.9 L1238.6,704.5 L1239.2,701.1 L1239.7,697.8 L1240.3,694.6 L1240.8,691.5 L1241.4,688.4 L1241.9,685.4 L1242.5,682.5 L1243.0,679.5 L1243.6,676.7 L1244.1,673.8 L1244.7,670.9 L1245.2,668.1 L1245.8,665.2 L1246.3,662.3 L1246.8,659.3 L1247.4,656.3 L1247.9,653.3 L1248.5,650.2 L1249.0,647.0 L1249.6,643.7 L1250.1,640.4 L1250.7,637.1 L1251.2,633.7 L1251.8,630.3 L1252.3,627.0 L1252.9,623.6 L1253.4,620.2 L1254.0,616.9 L1254.5,613.6 L1255.1,610.4 L1255.6,607.3 L1256.2,604.2 L1256.7,601.2 L1257.3,598.3 L1257.8,595.5 L1258.4,592.6 L1258.9,589.8 L1259.5,587.0 L1260.0,584.2 L1260.6,581.5 L1261.1,578.8 L1261.7,576.1 L1262.2,573.4 L1262.8,570.8 L1263.3,568.1 L1263.9,565.5 L1264.4,563.0 L1264.9,560.4 L1265.5,557.9 L1266.0,555.4 L1266.6,552.9 L1267.1,550.4 L1267.7,547.9 L1268.2,545.5 L1268.8,543.1 L1269.3,540.6 L1269.9,538.3 L1270.4,535.9 L1271.0,533.5 L1271.5,531.2 L1272.1,528.9 L1272.6,526.6 L1273.2,524.4 L1273.7,522.1 L1274.3,520.0 L1274.8,517.8 L1275.4,515.6 L1275.9,513.5 L1276.5,511.4 L1277.0,509.2 L1277.6,507.1 L1278.1,505.0 L1278.7,502.9 L1279.2,500.8 L1279.8,498.7 L1280.3,496.6 L1280.9,494.5 L1281.4,492.4 L1282.0,490.3 L1282.5,488.1 L1283.1,486.0 L1283.6,483.8 L1284.1,481.6 L1284.7,479.4 L1285.2,477.1 L1285.8,474.9 L1286.3,472.6 L1286.9,470.3 L1287.4,468.1 L1288.0,465.8 L1288.5,463.5 L1289.1,461.2 L1289.6,458.9 L1290.2,456.6 L1290.7,454.3 L1291.3,452.0 L1291.8,449.8 L1292.4,447.5 L1292.9,445.3 L1293.5,443.0 L1294.0,440.8 L1294.6,438.7 L1295.1,436.5 L1295.7,434.4 L1296.2,432.2 L1296.8,430.2 L1297.3,428.1 L1297.9,426.0 L1298.4,424.0 L1299.0,421.9 L1299.5,419.9 L1300.1,417.9 L1300.6,415.9 L1301.2,413.9 L1301.7,411.9 L1302.3,409.9 L1302.8,407.9 L1303.3,406.0 L1303.9,404.0 L1304.4,402.1 L1305.0,400.1 L1305.5,398.2 L1306.1,396.2 L1306.6,394.3 L1307.2,392.4 L1307.7,390.5 L1308.3,388.5 L1308.8,386.6 L1309.4,384.7 L1309.9,382.8 L1310.5,380.9 L1311.0,379.0 L1311.6,377.1 L1312.1,375.2 L1312.7,373.3 L1313.2,371.4 L1313.8,369.6 L1314.3,367.7 L1314.9,365.8 L1315.4,364.0 L1316.0,362.1 L1316.5,360.3 L1317.1,358.5 L1317.6,356.6 L1318.2,354.8 L1318.7,353.0 L1319.3,351.2 L1319.8,349.4 L1320.4,347.6 L1320.9,345.8 L1321.5,344.0 L1322.0,342.2 L1322.5,340.4 L1323.1,338.6 L1323.6,336.8 L1324.2,335.0 L1324.7,333.2 L1325.3,331.4 L1325.8,329.6 L1326.4,327.8 L1326.9,326.0 L1327.5,324.3 L1328.0,322.5 L1328.6,320.7 L1329.1,318.9 L1329.7,317.1 L1330.2,315.3 L1330.8,313.5 L1331.3,311.6 L1331.9,309.8 L1332.4,308.0 L1333.0,306.1 L1333.5,304.3 L1334.1,302.4 L1334.6,300.6 L1335.2,298.8 L1335.7,297.0 L1336.3,295.1 L1336.8,293.3 L1337.4,291.6 L1337.9,289.8 L1338.5,288.0 L1339.0,286.3 L1339.6,284.6 L1340.1,282.9 L1340.7,281.3 L1341.2,279.7 L1341.7,278.1 L1342.3,276.5 L1342.8,275.0 L1343.4,273.5 L1343.9,272.0 L1344.5,270.6 L1345.0,269.1 L1345.6,267.6 L1346.1,266.2 L1346.7,264.7 L1347.2,263.3 L1347.8,261.9 L1348.3,260.5 L1348.9,259.1 L1349.4,257.7 L1350.0,256.3 L1350.5,255.0 L1351.1,253.7 L1351.6,252.4 L1352.2,251.2 L1352.7,249.9 L1353.3,248.7 L1353.8,247.5 L1354.4,246.4 L1354.9,245.3 L1355.5,244.2 L1356.0,243.2 L1356.6,242.2 L1357.1,241.2 L1357.7,240.3 L1358.2,239.4 L1358.8,238.6 L1359.3,237.8 L1359.9,237.0 L1360.4,236.3 L1360.9,235.5 L1361.5,234.8 L1362.0,234.1 L1362.6,233.5 L1363.1,232.8 L1363.7,232.4 L1364.2,232.2 L1364.8,232.1 L1365.3,231.9 L1365.9,231.8 L1366.4,231.7 L1367.0,231.6 L1367.5,231.6 L1368.1,231.5 L1368.6,231.5 L1369.2,231.5 L1369.7,231.5 L1370.3,231.4 L1370.8,231.4 L1371.4,231.4 L1371.9,231.4 L1372.5,231.5 L1373.0,231.5 L1373.6,231.6 L1374.1,233.0 L1374.7,234.8 L1375.2,236.9 L1375.8,239.3 L1376.3,242.0 L1376.9,244.9 L1377.5,248.0 L1378.0,251.2 L1378.6,254.7 L1379.1,258.2 L1379.7,262.0 L1380.2,266.4 L1380.8,271.3 L1381.4,276.7 L1381.9,282.3 L1382.5,288.1 L1383.0,294.1 L1383.6,300.0 L1384.1,305.9 L1384.7,311.6 L1385.3,317.4 L1385.8,323.3 L1386.4,329.3 L1386.9,335.4 L1387.5,341.5 L1388.0,347.7 L1388.6,354.0 L1389.2,360.3 L1389.7,367.0 L1390.3,373.9 L1390.8,380.8 L1391.4,387.7 L1391.9,394.4 L1392.5,400.8 L1393.1,406.7 L1393.6,412.1 L1394.2,417.2 L1394.7,422.0 L1395.3,426.7 L1395.8,431.2 L1396.4,435.7 L1397.0,440.3 L1397.5,444.9 L1398.1,449.6 L1398.6,454.4 L1399.2,459.2 L1399.7,464.0 L1400.3,468.7 L1400.9,473.3 L1401.4,477.8 L1402.0,482.0 L1402.5,486.2 L1403.1,490.2 L1403.6,494.2 L1404.2,498.1 L1404.8,501.9 L1405.3,505.6 L1405.9,509.3 L1406.4,512.9 L1407.0,516.5 L1407.5,520.0 L1408.1,523.6 L1408.7,527.0 L1409.2,530.5 L1409.8,533.9 L1410.3,537.4 L1410.9,540.8 L1411.4,544.2 L1412.0,547.6 L1412.6,550.9 L1413.1,554.2 L1413.7,557.4 L1414.2,560.6 L1414.8,563.8 L1415.3,566.9 L1415.9,569.9 L1416.5,572.8 L1417.0,575.7 L1417.6,578.4 L1418.1,581.1 L1418.7,583.8 L1419.2,586.4 L1419.8,588.9 L1420.4,591.4 L1420.9,593.9 L1421.5,596.3 L1422.0,598.7 L1422.6,601.1 L1423.1,603.4 L1423.7,605.7 L1424.3,608.0 L1424.8,610.2 L1425.4,612.4 L1425.9,614.7 L1426.5,616.9 L1427.0,619.0 L1427.6,621.2 L1428.2,623.4 L1428.7,625.6 L1429.3,627.8 L1429.8,629.9 L1430.4,632.1 L1430.9,634.2 L1431.5,636.3 L1432.1,638.4 L1432.6,640.4 L1433.2,642.5 L1433.7,644.5 L1434.3,646.6 L1434.8,648.6 L1435.4,650.6 L1435.9,652.6 L1436.5,654.5 L1437.1,656.5 L1437.6,658.4 L1438.2,660.4 L1438.7,662.3 L1439.3,664.2 L1439.8,666.1 L1440.4,668.0 L1441.0,669.9 L1441.5,671.8 L1442.1,673.6 L1442.6,675.5 L1443.2,677.3 L1443.7,679.1 L1444.3,681.0 L1444.9,682.8 L1445.4,684.6 L1446.0,686.4 L1446.5,688.2 L1447.1,689.9 L1447.6,691.7 L1448.2,693.5 L1448.8,695.3 L1449.3,697.0 L1449.9,698.8 L1450.4,700.6 L1451.0,702.3 L1451.5,704.1 L1452.1,705.8 L1452.7,707.6 L1453.2,709.3 L1453.8,711.1 L1454.3,712.8 L1454.9,714.5 L1455.4,716.3 L1456.0,718.0 L1456.6,719.7 L1457.1,721.5 L1457.7,723.2 L1458.2,724.9 L1458.8,726.6 L1459.3,728.4 L1459.9,730.1 L1460.5,731.8 L1461.0,733.5 L1461.6,735.2 L1462.1,736.9 L1462.7,738.6 L1463.2,740.4 L1463.8,742.1 L1464.4,743.8 L1464.9,745.5 L1465.5,747.1 L1466.0,748.8 L1466.6,750.5 L1467.1,752.2 L1467.7,753.9 L1468.3,755.6 L1468.8,757.3 L1469.4,758.9 L1469.9,760.6 L1470.5,762.3 L1471.0,763.9 L1471.6,765.6 L1472.2,767.2 L1472.7,768.9 L1473.3,770.5 L1473.8,772.1 L1474.4,773.7 L1474.9,775.3 L1475.5,776.9 L1476.1,778.5 L1476.6,780.1 L1477.2,781.7 L1477.7,783.3 L1478.3,784.8 L1478.8,786.4 L1479.4,788.0 L1480.0,789.5 L1480.5,791.1 L1481.1,792.6 L1481.6,794.2 L1482.2,795.7 L1482.7,797.2 L1483.3,798.8 L1483.9,800.3 L1484.4,801.8 L1485.0,803.4 L1485.5,804.9 L1486.1,806.4 L1486.6,808.0 L1487.2,809.5 L1487.8,811.0 L1488.3,812.6 L1488.9,814.1 L1489.4,815.6 L1490.0,817.1 L1490.5,818.6 L1491.1,820.1 L1491.7,821.7 L1492.2,823.2 L1492.8,824.7 L1493.3,826.2 L1493.9,827.6 L1494.4,829.1 L1495.0,830.6 L1495.5,832.1 L1496.1,833.6 L1496.7,835.0 L1497.2,836.5 L1497.8,837.9 L1498.3,839.4 L1498.9,840.8 L1499.4,842.2 L1500.0,843.7 L1500.6,845.1 L1501.1,846.5 L1501.7,847.9 L1502.2,849.3 L1502.8,850.7 L1503.3,852.2 L1503.9,853.6 L1504.5,855.0 L1505.0,856.4 L1505.6,857.8 L1506.1,859.2 L1506.7,860.6 L1507.2,862.0 L1507.8,863.3 L1508.4,864.7 L1508.9,866.1 L1509.5,867.5 L1510.0,868.9 L1510.6,870.2 L1511.1,871.6 L1511.7,873.0 L1512.3,874.3 L1512.8,875.7 L1513.4,877.0 L1513.9,878.4 L1514.5,879.7 L1515.0,881.0 L1515.6,882.4 L1516.2,883.7 L1516.7,885.0 L1517.3,886.3 L1517.8,887.6 L1518.4,888.9 L1518.9,890.2 L1519.5,891.5 L1520.1,892.8 L1520.6,894.1 L1521.2,895.3 L1521.7,896.6 L1522.3,897.8 L1522.8,899.1 L1523.4,900.3 L1524.0,901.6 L1524.5,902.8 L1525.1,904.0 L1525.6,905.3 L1526.2,906.5 L1526.7,907.7 L1527.3,908.9 L1527.9,910.1 L1528.4,911.3 L1529.0,912.5 L1529.5,913.7 L1530.1,914.9 L1530.6,916.1 L1531.2,917.3 L1531.8,918.5 L1532.3,919.7 L1532.9,920.8 L1533.4,922.0 L1534.0,923.1 L1534.5,924.3 L1535.1,925.4 L1535.7,926.6 L1536.2,927.7 L1536.8,928.8 L1537.3,929.9 L1537.9,931.0 L1538.4,932.1 L1539.0,933.2 L1539.6,934.3 L1540.1,935.3 L1540.7,936.4 L1541.2,937.4 L1541.8,938.4 L1542.3,939.5 L1542.9,940.5 L1543.5,941.5 L1544.0,942.5 L1544.6,943.4 L1545.1,944.4 L1545.7,945.4 L1546.2,946.4 L1546.8,947.3 L1547.4,948.3 L1547.9,949.3 L1548.5,950.2 L1549.0,951.2 L1549.6,952.2 L1550.1,953.1 L1550.7,954.1 L1551.3,955.1 L1551.8,956.0 L1552.4,957.0 L1552.9,957.9 L1553.5,958.8 L1554.0,959.8 L1554.6,960.7 L1555.1,961.6 L1555.7,962.5 L1556.3,963.4 L1556.8,964.3 L1557.4,965.3 L1557.9,966.2 L1558.5,967.1 L1559.0,968.1 L1559.6,969.0 L1560.2,969.9 L1560.7,970.9 L1561.3,971.8 L1561.8,972.8 L1562.4,973.7 L1562.9,974.7 L1563.5,975.6 L1564.1,976.5 L1564.6,977.5 L1565.2,978.4 L1565.7,979.3 L1566.3,980.2 L1566.8,981.1 L1567.4,982.0 L1568.0,982.9 L1568.5,983.7 L1569.1,984.6 L1569.6,985.4 L1570.2,986.2 L1570.7,987.0 L1571.3,987.8 L1571.9,988.6 L1572.4,989.3 L1573.0,990.1 L1573.5,990.9 L1574.1,991.6 L1574.6,992.3 L1575.2,993.0 L1575.8,993.7 L1576.3,994.4 L1576.9,995.1 L1577.4,995.7 L1578.0,996.4 L1578.5,997.0 L1579.1,997.6 L1579.7,998.2 L1580.2,998.7 L1580.8,999.3 L1581.3,999.8 L1581.9,1000.3 L1582.4,1000.7 L1583.0,1001.2 L1583.6,1001.6 L1584.1,1002.0 L1584.7,1002.3 L1585.2,1002.7 L1585.8,1003.0 L1586.3,1000.6 L1586.9,997.8 L1587.4,994.7 L1588.0,991.3 L1588.6,987.6 L1589.1,983.4 L1589.7,978.6 L1590.2,973.4 L1590.8,968.1 L1591.3,962.9 L1591.9,958.1 L1592.4,953.6 L1593.0,949.3 L1593.6,945.2 L1594.1,941.2 L1594.7,937.1 L1595.2,933.0 L1595.8,928.8 L1596.3,924.3 L1596.9,919.6 L1597.4,914.6 L1598.0,909.1 L1598.5,903.4 L1599.1,897.5 L1599.7,891.4 L1600.2,885.2 L1600.8,878.9 L1601.3,872.6 L1601.9,866.3 L1602.4,860.2 L1603.0,854.2 L1603.5,848.2 L1604.1,842.2 L1604.6,836.2 L1605.2,830.2 L1605.8,824.2 L1606.3,818.3 L1606.9,812.4 L1607.4,806.5 L1608.0,800.7 L1608.5,794.9 L1609.1,789.0 L1609.6,783.1 L1610.2,777.2 L1610.8,771.5 L1611.3,765.9 L1611.9,760.6 L1612.4,755.5 L1613.0,750.8 L1613.5,746.4 L1614.1,742.1 L1614.6,737.9 L1615.2,733.9 L1615.7,729.9 L1616.3,726.1 L1616.9,722.4 L1617.4,718.8 L1618.0,715.2 L1618.5,711.7 L1619.1,708.3 L1619.6,704.9 L1620.2,701.5 L1620.7,698.2 L1621.3,695.0 L1621.8,691.9 L1622.4,688.8 L1623.0,685.8 L1623.5,682.9 L1624.1,680.0 L1624.6,677.1 L1625.2,674.2 L1625.7,671.4 L1626.3,668.5 L1626.8,665.6 L1627.4,662.7 L1628.0,659.8 L1628.5,656.8 L1629.1,653.8 L1629.6,650.7 L1630.2,647.5 L1630.7,644.2 L1631.3,640.9 L1631.8,637.6 L1632.4,634.3 L1632.9,630.9 L1633.5,627.5 L1634.1,624.1 L1634.6,620.8 L1635.2,617.5 L1635.7,614.2 L1636.3,611.0 L1636.8,607.9 L1637.4,604.8 L1637.9,601.9 L1638.5,599.0 L1639.0,596.1 L1639.6,593.3 L1640.2,590.4 L1640.7,587.6 L1641.3,584.9 L1641.8,582.2 L1642.4,579.4 L1642.9,576.8 L1643.5,574.1 L1644.0,571.5 L1644.6,568.8 L1645.1,566.2 L1645.7,563.7 L1646.3,561.1 L1646.8,558.6 L1647.4,556.1 L1647.9,553.6 L1648.5,551.1 L1649.0,548.7 L1649.6,546.2 L1650.1,543.8 L1650.7,541.4 L1651.3,539.0 L1651.8,536.7 L1652.4,534.3 L1652.9,532.0 L1653.5,529.7 L1654.0,527.4 L1654.6,525.2 L1655.1,523.0 L1655.7,520.8 L1656.2,518.6 L1656.8,516.4 L1657.4,514.3 L1657.9,512.2 L1658.5,510.1 L1659.0,508.0 L1659.6,505.9 L1660.1,503.8 L1660.7,501.7 L1661.2,499.6 L1661.8,497.5 L1662.3,495.4 L1662.9,493.3 L1663.5,491.2 L1664.0,489.0 L1664.6,486.9 L1665.1,484.7 L1665.7,482.5 L1666.2,480.3 L1666.8,478.0 L1667.3,475.8 L1667.9,473.5 L1668.5,471.3 L1669.0,469.0 L1669.6,466.7 L1670.1,464.4 L1670.7,462.1 L1671.2,459.9 L1671.8,457.6 L1672.3,455.3 L1672.9,453.0 L1673.4,450.8 L1674.0,448.5 L1674.6,446.3 L1675.1,444.1 L1675.7,441.8 L1676.2,439.7 L1676.8,437.5 L1677.3,435.4 L1677.9,433.3 L1678.4,431.2 L1679.0,429.1 L1679.5,427.1 L1680.1,425.0 L1680.7,423.0 L1681.2,421.0 L1681.8,418.9 L1682.3,416.9 L1682.9,414.9 L1683.4,413.0 L1684.0,411.0 L1684.5,409.0 L1685.1,407.1 L1685.6,405.1 L1686.2,403.1 L1686.8,401.2 L1687.3,399.3 L1687.9,397.3 L1688.4,395.4 L1689.0,393.5 L1689.5,391.6 L1690.1,389.7 L1690.6,387.8 L1691.2,385.8 L1691.8,383.9 L1692.3,382.0 L1692.9,380.1 L1693.4,378.2 L1694.0,376.3 L1694.5,374.5 L1695.1,372.6 L1695.6,370.7 L1696.2,368.9 L1696.7,367.0 L1697.3,365.2 L1697.9,363.3 L1698.4,361.5 L1699.0,359.7 L1699.5,357.9 L1700.1,356.0 L1700.6,354.2 L1701.2,352.4 L1701.7,350.6 L1702.3,348.8 L1702.8,347.0 L1703.4,345.2 L1704.0,343.4 L1704.5,341.6 L1705.1,339.8 L1705.6,338.0 L1706.2,336.2 L1706.7,334.5 L1707.3,332.7 L1707.8,330.9 L1708.4,329.1 L1709.0,327.3 L1709.5,325.5 L1710.1,323.7 L1710.6,321.9 L1711.2,320.2 L1711.7,318.4 L1712.3,316.6 L1712.8,314.8 L1713.4,312.9 L1713.9,311.1 L1714.5,309.3 L1715.1,307.4 L1715.6,305.6 L1716.2,303.8 L1716.7,301.9 L1717.3,300.1 L1717.8,298.3 L1718.4,296.5 L1718.9,294.7 L1719.5,292.9 L1720.0,291.1 L1720.6,289.4 L1721.2,287.7 L1721.7,286.0 L1722.3,284.3 L1722.8,282.7 L1723.4,281.0 L1723.9,279.5 L1724.5,277.9 L1725.0,276.4 L1725.6,274.9 L1726.2,273.4 L1726.7,272.0 L1727.3,270.5 L1727.8,269.0 L1728.4,267.6 L1728.9,266.1 L1729.5,264.7 L1730.0,263.3 L1730.6,261.9 L1731.1,260.5 L1731.7,259.1 L1732.3,257.8 L1732.8,256.4 L1733.4,255.1 L1733.9,253.9 L1734.5,252.6 L1735.0,251.4 L1735.6,250.2 L1736.1,249.0 L1736.7,247.9 L1737.2,246.8 L1737.8,245.7 L1738.4,244.7 L1738.9,243.7 L1739.5,242.7 L1740.0,241.8 L1740.6,240.9 L1741.1,240.1 L1741.7,239.3 L1742.2,238.5 L1742.8,237.8 L1743.3,237.0 L1743.9,236.3 L1744.5,235.6 L1745.0,235.0 L1745.6,234.3 L1746.1,233.9 L1746.7,233.7 L1747.2,233.6 L1747.8,233.4 L1748.3,233.3 L1748.9,233.2 L1749.5,233.1 L1750.0,233.1 L1750.6,233.1 L1751.1,233.0 L1751.7,233.0 L1752.2,233.0 L1752.8,233.0 L1753.3,232.9 L1753.9,232.9 L1754.4,232.9 L1755.0,233.0 L1755.6,233.0 L1756.1,233.1 L1756.7,236.1 L1757.2,239.5 L1757.8,243.1 L1758.3,247.1 L1758.9,251.3 L1759.4,255.8 L1760.0,260.5 L1760.5,265.4 L1761.1,270.4 L1761.6,275.7 L1762.2,281.5 L1762.7,287.8 L1763.3,294.5 L1763.9,301.4 L1764.4,308.6 L1765.0,316.0 L1765.5,323.4 L1766.1,330.7 L1766.6,338.1 L1767.2,346.0 L1767.7,354.1 L1768.3,362.1 L1768.8,370.0 L1769.4,377.3 L1769.9,384.1 L1770.5,390.7 L1771.0,397.1 L1771.6,403.4 L1772.2,409.4 L1772.7,415.4 L1773.3,421.1 L1773.8,426.8 L1774.4,432.3 L1774.9,437.7 L1775.5,443.0 L1776.0,448.3 L1776.6,453.5 L1777.1,458.5 L1777.7,463.5 L1778.2,468.4 L1778.8,473.1 L1779.3,477.7 L1779.9,482.2 L1780.5,486.5 L1781.0,490.7 L1781.6,494.8 L1782.1,498.8 L1782.7,502.8 L1783.2,506.7 L1783.8,510.6 L1784.3,514.4 L1784.9,518.2 L1785.4,521.9 L1786.0,525.5 L1786.5,529.1 L1787.1,532.7 L1787.6,536.2 L1788.2,539.6 L1788.8,542.9 L1789.3,546.2 L1789.9,549.4 L1790.4,552.6 L1791.0,555.7 L1791.5,558.7 L1792.1,561.7 L1792.6,564.5 L1793.2,567.3 L1793.7,570.1 L1794.3,572.7 L1794.8,575.3 L1795.4,577.8 L1795.9,580.3 L1796.5,582.7 L1797.1,585.0 L1797.6,587.3 L1798.2,589.5 L1798.7,591.7 L1799.3,593.9 L1799.8,596.0 L1800.4,598.1 L1800.9,600.2 L1801.5,602.2 L1802.0,604.2 L1802.6,606.2 L1803.1,608.1 L1803.7,610.1 L1804.2,612.0 L1804.8,613.9 L1805.4,615.8 L1805.9,617.7 L1806.5,619.6 L1807.0,621.5 L1807.6,623.4 L1808.1,625.4 L1808.7,627.3 L1809.2,629.2 L1809.8,631.2 L1810.3,633.2 L1810.9,635.2 L1811.4,637.2 L1812.0,639.3 L1812.5,641.3 L1813.1,643.4 L1813.7,645.4 L1814.2,647.5 L1814.8,649.6 L1815.3,651.6 L1815.9,653.7 L1816.4,655.7 L1817.0,657.8 L1817.5,659.8 L1818.1,661.8 L1818.6,663.9 L1819.2,665.9 L1819.7,667.9 L1820.3,669.9 L1820.8,671.9 L1821.4,673.9 L1822.0,675.9 L1822.5,677.9 L1823.1,679.9 L1823.6,681.9 L1824.2,683.8 L1824.7,685.8 L1825.3,687.7 L1825.8,689.7 L1826.4,691.7 L1826.9,693.7 L1827.5,695.6 L1828.0,697.6 L1828.6,699.6 L1829.1,701.6 L1829.7,703.5 L1830.2,705.5 L1830.8,707.4 L1831.4,709.3 L1831.9,711.2 L1832.5,713.1 L1833.0,714.9 L1833.6,716.7 L1834.1,718.5 L1834.7,720.2 L1835.2,721.9 L1835.8,723.6 L1836.3,725.2 L1836.9,726.8 L1837.4,728.3 L1838.0,729.9 L1838.5,731.4 L1839.1,732.9 L1839.7,734.3 L1840.2,735.8 L1840.8,737.2 L1841.3,738.7 L1841.9,740.1 L1842.4,741.4 L1843.0,742.8 L1843.5,744.2 L1844.1,745.5 L1844.6,746.9 L1845.2,748.2 L1845.7,749.5 L1846.3,750.8 L1846.8,752.1 L1847.4,753.4 L1848.0,754.7 L1848.5,756.0 L1849.1,757.3 L1849.6,758.5 L1850.2,759.8 L1850.7,761.1 L1851.3,762.4 L1851.8,763.6 L1852.4,764.9 L1852.9,766.1 L1853.5,767.4 L1854.0,768.6 L1854.6,769.8 L1855.1,771.0 L1855.7,772.2 L1856.3,773.4 L1856.8,774.6 L1857.4,775.7 L1857.9,776.9 L1858.5,778.1 L1859.0,779.2 L1859.6,780.3 L1860.1,781.5 L1860.7,782.6 L1861.2,783.7 L1861.8,784.8 L1862.3,785.8 L1862.9,786.9 L1863.4,788.0 L1864.0,789.0" fill="none" stroke="#0000ff" stroke-width="8" stroke-linejoin="round" shape-rendering="crispEdges" stroke-dasharray="7 4" clip-path="url(#ca)"/>
<path d="M221.0,645.0 L221.6,643.0 L222.1,641.0 L222.7,639.0 L223.2,637.0 L223.8,635.0 L224.3,632.9 L224.9,630.9 L225.4,628.8 L226.0,626.8 L226.5,624.7 L227.1,622.6 L227.6,620.6 L228.2,618.5 L228.7,616.4 L229.3,614.3 L229.8,612.2 L230.4,610.1 L231.0,608.0 L231.5,605.9 L232.1,603.8 L232.6,601.7 L233.2,599.6 L233.7,597.4 L234.3,595.3 L234.8,593.1 L235.4,590.8 L235.9,588.6 L236.5,586.3 L237.0,583.9 L237.6,581.5 L238.1,579.1 L238.7,576.7 L239.2,574.2 L239.8,571.7 L240.3,569.2 L240.9,566.7 L241.5,564.2 L242.0,561.7 L242.6,559.1 L243.1,556.6 L243.7,554.0 L244.2,551.5 L244.8,548.9 L245.3,546.3 L245.9,543.7 L246.4,541.1 L247.0,538.4 L247.5,535.8 L248.1,533.1 L248.6,530.5 L249.2,527.8 L249.7,525.1 L250.3,522.3 L250.9,519.6 L251.4,516.8 L252.0,513.9 L252.5,511.0 L253.1,508.1 L253.6,505.2 L254.2,502.3 L254.7,499.5 L255.3,496.7 L255.8,494.1 L256.4,491.5 L256.9,488.9 L257.5,486.4 L258.0,483.9 L258.6,481.5 L259.1,479.1 L259.7,476.7 L260.2,474.3 L260.8,471.9 L261.4,469.6 L261.9,467.3 L262.5,465.0 L263.0,462.7 L263.6,460.4 L264.1,458.2 L264.7,456.0 L265.2,453.7 L265.8,451.5 L266.3,449.3 L266.9,447.1 L267.4,444.9 L268.0,442.7 L268.5,440.5 L269.1,438.3 L269.6,436.1 L270.2,433.8 L270.8,431.6 L271.3,429.4 L271.9,427.2 L272.4,425.1 L273.0,423.0 L273.5,420.9 L274.1,418.9 L274.6,416.9 L275.2,415.1 L275.7,413.3 L276.3,411.6 L276.8,410.0 L277.4,408.4 L277.9,406.9 L278.5,405.5 L279.0,404.1 L279.6,402.7 L280.1,401.4 L280.7,402.7 L281.2,404.2 L281.8,405.7 L282.3,407.5 L282.9,409.3 L283.4,411.2 L284.0,413.2 L284.5,415.4 L285.1,417.6 L285.6,420.0 L286.2,422.6 L286.7,425.2 L287.3,428.1 L287.8,431.1 L288.4,434.3 L288.9,437.7 L289.5,441.4 L290.0,445.7 L290.6,450.8 L291.1,456.7 L291.7,462.9 L292.2,469.2 L292.8,475.5 L293.3,481.4 L293.9,486.8 L294.4,491.4 L295.0,495.1 L295.5,498.3 L296.1,501.3 L296.6,504.0 L297.2,506.6 L297.7,509.1 L298.3,511.4 L298.8,513.8 L299.4,516.2 L299.9,518.7 L300.5,521.3 L301.0,524.1 L301.6,527.0 L302.1,529.9 L302.7,532.9 L303.2,535.9 L303.8,539.0 L304.3,542.0 L304.9,545.0 L305.4,548.0 L306.0,550.9 L306.5,553.8 L307.1,556.5 L307.6,559.2 L308.2,561.7 L308.7,564.2 L309.3,566.6 L309.8,569.1 L310.4,571.4 L310.9,573.8 L311.5,576.1 L312.0,578.3 L312.6,580.6 L313.1,582.8 L313.7,584.9 L314.2,587.1 L314.8,589.2 L315.3,591.3 L315.9,593.4 L316.4,595.4 L317.0,597.4 L317.5,599.4 L318.1,601.4 L318.6,603.3 L319.2,605.2 L319.7,607.1 L320.3,608.9 L320.8,610.7 L321.4,612.4 L321.9,614.2 L322.5,615.9 L323.0,617.6 L323.6,619.3 L324.1,620.9 L324.6,622.6 L325.2,624.3 L325.7,626.0 L326.3,627.8 L326.8,629.5 L327.4,631.2 L327.9,633.0 L328.5,634.9 L329.0,636.7 L329.6,638.6 L330.1,640.5 L330.7,642.5 L331.2,644.6 L331.8,646.7 L332.3,648.9 L332.9,651.0 L333.4,653.2 L334.0,655.5 L334.5,657.7 L335.1,660.0 L335.6,662.2 L336.2,664.5 L336.7,666.7 L337.3,668.9 L337.8,671.1 L338.4,673.2 L338.9,675.3 L339.5,677.3 L340.0,679.3 L340.6,681.2 L341.1,683.1 L341.7,684.9 L342.2,686.8 L342.8,688.5 L343.3,690.3 L343.9,692.0 L344.4,693.7 L345.0,695.4 L345.5,697.1 L346.1,698.8 L346.6,700.4 L347.2,702.1 L347.7,703.7 L348.3,705.4 L348.8,707.0 L349.4,708.6 L349.9,710.3 L350.5,711.9 L351.0,713.5 L351.6,715.2 L352.1,716.9 L352.7,718.5 L353.2,720.2 L353.8,722.0 L354.3,723.7 L354.9,725.4 L355.4,727.1 L356.0,728.9 L356.5,730.6 L357.1,732.4 L357.6,734.1 L358.2,735.9 L358.7,737.6 L359.3,739.4 L359.8,741.1 L360.4,742.9 L360.9,744.6 L361.5,746.4 L362.0,748.1 L362.6,749.8 L363.1,751.6 L363.7,753.3 L364.2,755.0 L364.8,756.7 L365.3,758.4 L365.9,760.1 L366.4,761.8 L367.0,763.5 L367.5,765.2 L368.1,766.8 L368.6,768.5 L369.1,770.2 L369.7,771.8 L370.2,773.5 L370.8,775.1 L371.3,776.8 L371.9,778.4 L372.4,780.1 L373.0,781.7 L373.5,783.3 L374.1,785.0 L374.6,786.6 L375.2,788.2 L375.7,789.8 L376.3,791.4 L376.8,793.0 L377.4,794.6 L377.9,796.2 L378.5,797.7 L379.0,799.3 L379.6,800.9 L380.1,802.4 L380.7,804.0 L381.2,805.5 L381.8,807.1 L382.3,808.6 L382.9,810.1 L383.4,811.6 L384.0,813.1 L384.5,814.7 L385.1,816.2 L385.6,817.7 L386.2,819.1 L386.7,820.6 L387.3,822.1 L387.8,823.6 L388.4,825.1 L388.9,826.5 L389.5,828.0 L390.0,829.4 L390.6,830.9 L391.1,832.3 L391.7,833.8 L392.2,835.2 L392.8,836.7 L393.3,838.1 L393.9,839.5 L394.4,840.9 L395.0,842.4 L395.5,843.8 L396.1,845.2 L396.6,846.6 L397.2,848.0 L397.7,849.4 L398.3,850.8 L398.8,852.2 L399.4,853.6 L399.9,855.0 L400.5,856.4 L401.0,857.7 L401.6,859.1 L402.1,860.5 L402.7,861.8 L403.2,863.2 L403.8,864.6 L404.3,865.9 L404.9,867.2 L405.4,868.6 L406.0,869.9 L406.5,871.2 L407.1,872.5 L407.6,873.9 L408.2,875.2 L408.7,876.5 L409.3,877.8 L409.8,879.0 L410.4,880.3 L410.9,881.6 L411.5,882.9 L412.0,884.2 L412.6,885.4 L413.1,886.7 L413.7,887.9 L414.2,889.2 L414.7,890.4 L415.3,891.7 L415.8,892.9 L416.4,894.2 L416.9,895.4 L417.5,896.6 L418.0,897.8 L418.6,899.0 L419.1,900.2 L419.7,901.4 L420.2,902.6 L420.8,903.8 L421.3,905.0 L421.9,906.2 L422.4,907.3 L423.0,908.5 L423.5,909.7 L424.1,910.8 L424.6,911.9 L425.2,913.1 L425.7,914.2 L426.3,915.4 L426.8,916.5 L427.4,917.6 L427.9,918.8 L428.5,919.9 L429.0,921.0 L429.6,922.1 L430.1,923.2 L430.7,924.3 L431.2,925.4 L431.8,926.5 L432.3,927.6 L432.9,928.6 L433.4,929.7 L434.0,930.8 L434.5,931.8 L435.1,932.8 L435.6,933.9 L436.2,934.9 L436.7,935.9 L437.3,936.9 L437.8,937.9 L438.4,938.8 L438.9,939.8 L439.5,940.7 L440.0,941.7 L440.6,942.6 L441.1,943.6 L441.7,944.5 L442.2,945.4 L442.8,946.3 L443.3,947.2 L443.9,948.1 L444.4,949.0 L445.0,949.9 L445.5,950.7 L446.1,951.6 L446.6,952.5 L447.2,953.3 L447.7,954.2 L448.3,955.0 L448.8,955.8 L449.4,956.7 L449.9,957.5 L450.5,958.3 L451.0,959.1 L451.6,959.9 L452.1,960.6 L452.7,961.4 L453.2,962.2 L453.8,962.9 L454.3,963.7 L454.8,963.1 L455.3,961.7 L455.8,959.3 L456.4,956.4 L456.9,953.1 L457.4,949.7 L458.0,946.5 L458.5,943.5 L459.0,940.6 L459.6,937.7 L460.1,934.8 L460.6,931.7 L461.1,928.5 L461.7,925.0 L462.2,921.2 L462.7,917.1 L463.3,912.6 L463.8,907.6 L464.3,902.3 L464.9,896.7 L465.4,890.9 L465.9,885.0 L466.5,878.9 L467.0,872.8 L467.5,866.7 L468.1,860.7 L468.6,854.9 L469.1,849.0 L469.6,843.0 L470.2,837.0 L470.7,831.1 L471.2,825.1 L471.8,819.2 L472.3,813.2 L472.8,807.4 L473.4,801.6 L473.9,795.7 L474.4,789.7 L475.0,783.8 L475.5,777.9 L476.0,772.0 L476.6,766.4 L477.1,761.0 L477.6,755.9 L478.1,751.2 L478.7,746.6 L479.2,742.3 L479.7,738.0 L480.3,733.9 L480.8,730.0 L481.3,726.1 L481.9,722.3 L482.4,718.6 L482.9,715.0 L483.5,711.5 L484.0,708.0 L484.5,704.5 L485.1,701.1 L485.6,697.7 L486.1,694.4 L486.6,691.3 L487.2,688.1 L487.7,685.1 L488.2,682.1 L488.8,679.1 L489.3,676.2 L489.8,673.3 L490.4,670.4 L490.9,667.4 L491.4,664.5 L492.0,661.5 L492.5,658.5 L493.0,655.5 L493.6,652.4 L494.1,649.2 L494.6,646.0 L495.1,642.7 L495.7,639.3 L496.2,635.9 L496.7,632.5 L497.3,629.0 L497.8,625.6 L498.3,622.2 L498.9,618.8 L499.4,615.4 L499.9,612.1 L500.5,608.8 L501.0,605.6 L501.5,602.5 L502.1,599.4 L502.6,596.5 L503.1,593.6 L503.6,590.7 L504.2,587.8 L504.7,584.9 L505.2,582.1 L505.8,579.3 L506.3,576.6 L506.8,573.8 L507.4,571.1 L507.9,568.4 L508.4,565.8 L509.0,563.1 L509.5,560.5 L510.0,557.9 L510.6,555.3 L511.1,552.8 L511.6,550.2 L512.1,547.7 L512.7,545.2 L513.2,542.7 L513.7,540.3 L514.3,537.8 L514.8,535.4 L515.3,533.0 L515.9,530.6 L516.4,528.2 L516.9,525.9 L517.5,523.6 L518.0,521.3 L518.5,519.0 L519.1,516.8 L519.6,514.6 L520.1,512.4 L520.6,510.3 L521.2,508.1 L521.7,506.0 L522.2,503.8 L522.8,501.7 L523.3,499.6 L523.8,497.5 L524.4,495.4 L524.9,493.2 L525.4,491.1 L526.0,489.0 L526.5,486.8 L527.0,484.7 L527.6,482.5 L528.1,480.3 L528.6,478.1 L529.1,475.8 L529.7,473.6 L530.2,471.3 L530.7,469.1 L531.3,466.8 L531.8,464.5 L532.3,462.2 L532.9,459.9 L533.4,457.6 L533.9,455.3 L534.5,453.0 L535.0,450.8 L535.5,448.5 L536.1,446.2 L536.6,444.0 L537.1,441.8 L537.6,439.6 L538.2,437.4 L538.7,435.2 L539.2,433.1 L539.8,431.0 L540.3,428.9 L540.8,426.8 L541.4,424.8 L541.9,422.7 L542.4,420.7 L543.0,418.7 L543.5,416.8 L544.0,414.8 L544.6,412.8 L545.1,410.9 L545.6,409.0 L546.1,407.0 L546.7,405.1 L547.2,403.2 L547.7,401.3 L548.3,399.5 L548.8,397.6 L549.3,395.7 L549.9,393.9 L550.4,392.0 L550.9,390.2 L551.5,388.3 L552.0,386.5 L552.5,384.7 L553.1,382.9 L553.6,381.1 L554.1,379.2 L554.6,377.4 L555.2,375.6 L555.7,373.8 L556.2,372.1 L556.8,370.3 L557.3,368.5 L557.8,366.8 L558.4,365.0 L558.9,363.3 L559.4,361.6 L560.0,359.8 L560.5,358.1 L561.0,356.4 L561.6,354.7 L562.1,353.0 L562.6,351.3 L563.1,349.6 L563.7,347.9 L564.2,346.3 L564.7,344.6 L565.3,342.9 L565.8,341.2 L566.3,339.5 L566.9,337.8 L567.4,336.2 L567.9,334.5 L568.5,332.8 L569.0,331.1 L569.5,329.4 L570.1,327.8 L570.6,326.1 L571.1,324.4 L571.6,322.7 L572.2,321.0 L572.7,319.3 L573.2,317.5 L573.8,315.8 L574.3,314.1 L574.8,312.3 L575.4,310.5 L575.9,308.8 L576.4,307.0 L577.0,305.2 L577.5,303.4 L578.0,301.7 L578.6,299.9 L579.1,298.1 L579.6,296.3 L580.1,294.6 L580.7,292.8 L581.2,291.1 L581.7,289.4 L582.3,287.7 L582.8,286.0 L583.3,284.4 L583.9,282.8 L584.4,281.2 L584.9,279.6 L585.5,278.1 L586.0,276.5 L586.5,275.0 L587.1,273.5 L587.6,272.0 L588.1,270.5 L588.6,269.0 L589.2,267.5 L589.7,266.0 L590.2,264.5 L590.8,263.0 L591.3,261.5 L591.8,260.1 L592.4,258.6 L592.9,257.2 L593.4,255.8 L594.0,254.4 L594.5,253.0 L595.0,251.7 L595.6,250.4 L596.1,249.1 L596.6,247.8 L597.1,246.6 L597.7,245.4 L598.2,244.2 L598.7,243.1 L599.3,242.0 L599.8,240.9 L600.3,239.9 L600.9,238.9 L601.4,238.0 L601.9,237.0 L602.5,236.1 L603.0,235.3 L603.5,234.4 L604.1,233.5 L604.6,232.7 L605.1,231.9 L605.6,231.2 L606.2,230.4 L606.7,229.7 L607.2,229.1 L607.8,228.4 L608.3,227.9 L608.8,227.3 L609.4,226.8 L609.9,226.4 L610.4,225.9 L611.0,225.5 L611.5,225.1 L612.0,224.7 L612.6,224.3 L613.1,224.0 L613.6,223.7 L614.1,223.4 L614.7,223.2 L615.2,223.0 L615.8,224.5 L616.3,226.3 L616.9,228.4 L617.4,230.9 L618.0,233.6 L618.5,236.5 L619.1,239.6 L619.6,242.9 L620.2,246.4 L620.7,249.9 L621.3,253.8 L621.8,258.2 L622.4,263.2 L622.9,268.6 L623.5,274.3 L624.0,280.2 L624.6,286.2 L625.1,292.3 L625.7,298.2 L626.2,304.0 L626.8,309.8 L627.3,315.8 L627.9,321.8 L628.4,328.0 L629.0,334.2 L629.5,340.5 L630.1,346.8 L630.6,353.2 L631.2,359.9 L631.7,366.9 L632.3,373.9 L632.8,380.9 L633.4,387.6 L633.9,394.1 L634.5,400.0 L635.0,405.4 L635.6,410.6 L636.1,415.4 L636.7,420.1 L637.2,424.7 L637.8,429.2 L638.3,433.8 L638.9,438.4 L639.4,443.2 L640.0,448.0 L640.5,452.8 L641.1,457.6 L641.6,462.4 L642.2,467.0 L642.7,471.5 L643.3,475.8 L643.8,479.9 L644.4,484.0 L644.9,488.0 L645.5,491.8 L646.0,495.7 L646.6,499.4 L647.1,503.1 L647.7,506.7 L648.2,510.3 L648.8,513.8 L649.3,517.4 L649.9,520.8 L650.4,524.3 L651.0,527.7 L651.5,531.2 L652.1,534.6 L652.6,538.0 L653.2,541.3 L653.7,544.7 L654.3,548.0 L654.8,551.2 L655.4,554.4 L655.9,557.5 L656.5,560.6 L657.0,563.6 L657.6,566.5 L658.1,569.4 L658.7,572.1 L659.2,574.8 L659.8,577.4 L660.3,580.0 L660.9,582.5 L661.4,585.0 L662.0,587.5 L662.5,589.9 L663.1,592.2 L663.6,594.6 L664.2,596.9 L664.7,599.1 L665.3,601.4 L665.8,603.6 L666.4,605.8 L666.9,608.0 L667.5,610.2 L668.0,612.4 L668.6,614.5 L669.1,616.7 L669.7,618.8 L670.2,621.0 L670.8,623.1 L671.3,625.2 L671.9,627.3 L672.4,629.4 L673.0,631.5 L673.5,633.5 L674.1,635.5 L674.6,637.6 L675.2,639.6 L675.7,641.5 L676.3,643.5 L676.8,645.5 L677.4,647.4 L677.9,649.4 L678.5,651.3 L679.0,653.2 L679.6,655.1 L680.1,657.0 L680.7,658.9 L681.2,660.8 L681.8,662.6 L682.3,664.5 L682.9,666.3 L683.4,668.1 L684.0,670.0 L684.5,671.8 L685.1,673.6 L685.6,675.4 L686.2,677.2 L686.7,678.9 L687.3,680.7 L687.8,682.5 L688.4,684.3 L688.9,686.0 L689.5,687.8 L690.0,689.5 L690.6,691.3 L691.1,693.0 L691.7,694.8 L692.2,696.5 L692.8,698.3 L693.3,700.0 L693.9,701.7 L694.4,703.5 L695.0,705.2 L695.5,707.0 L696.1,708.7 L696.6,710.4 L697.2,712.2 L697.7,713.9 L698.3,715.6 L698.8,717.3 L699.4,719.1 L699.9,720.8 L700.5,722.5 L701.0,724.2 L701.6,726.0 L702.1,727.7 L702.7,729.4 L703.2,731.1 L703.8,732.8 L704.3,734.5 L704.9,736.3 L705.4,738.0 L706.0,739.7 L706.5,741.4 L707.1,743.1 L707.6,744.8 L708.2,746.5 L708.7,748.2 L709.3,749.9 L709.8,751.6 L710.4,753.3 L710.9,755.0 L711.5,756.7 L712.0,758.4 L712.6,760.1 L713.1,761.7 L713.7,763.4 L714.2,765.0 L714.8,766.7 L715.3,768.3 L715.9,769.9 L716.4,771.5 L717.0,773.1 L717.5,774.7 L718.1,776.3 L718.6,777.9 L719.2,779.5 L719.7,781.1 L720.3,782.7 L720.8,784.2 L721.4,785.8 L721.9,787.4 L722.5,788.9 L723.0,790.5 L723.6,792.1 L724.1,793.6 L724.7,795.2 L725.2,796.7 L725.8,798.3 L726.3,799.8 L726.9,801.4 L727.4,802.9 L728.0,804.5 L728.5,806.0 L729.1,807.6 L729.6,809.1 L730.2,810.7 L730.7,812.2 L731.3,813.7 L731.8,815.3 L732.4,816.8 L732.9,818.3 L733.5,819.8 L734.0,821.4 L734.6,822.9 L735.1,824.4 L735.7,825.9 L736.2,827.4 L736.8,828.8 L737.3,830.3 L737.9,831.8 L738.4,833.3 L739.0,834.7 L739.5,836.2 L740.1,837.6 L740.6,839.1 L741.2,840.5 L741.7,841.9 L742.3,843.4 L742.8,844.8 L743.4,846.2 L743.9,847.7 L744.5,849.1 L745.0,850.5 L745.6,851.9 L746.1,853.3 L746.7,854.8 L747.2,856.2 L747.8,857.6 L748.3,859.0 L748.9,860.4 L749.4,861.8 L750.0,863.2 L750.5,864.6 L751.1,866.0 L751.6,867.3 L752.2,868.7 L752.7,870.1 L753.3,871.5 L753.8,872.8 L754.4,874.2 L754.9,875.5 L755.5,876.9 L756.0,878.2 L756.6,879.6 L757.1,880.9 L757.7,882.2 L758.2,883.5 L758.8,884.9 L759.3,886.2 L759.9,887.5 L760.4,888.8 L761.0,890.0 L761.5,891.3 L762.1,892.6 L762.6,893.9 L763.2,895.1 L763.7,896.4 L764.3,897.6 L764.8,898.9 L765.4,900.1 L765.9,901.4 L766.5,902.6 L767.0,903.8 L767.6,905.1 L768.1,906.3 L768.7,907.5 L769.2,908.7 L769.8,909.9 L770.3,911.1 L770.9,912.3 L771.4,913.5 L772.0,914.7 L772.5,915.9 L773.1,917.1 L773.6,918.3 L774.2,919.4 L774.7,920.6 L775.3,921.7 L775.8,922.9 L776.4,924.0 L776.9,925.1 L777.5,926.3 L778.0,927.4 L778.6,928.5 L779.1,929.6 L779.7,930.6 L780.2,931.7 L780.8,932.8 L781.3,933.8 L781.9,934.8 L782.4,935.9 L783.0,936.9 L783.5,937.9 L784.1,938.9 L784.6,939.9 L785.2,940.8 L785.7,941.8 L786.3,942.8 L786.8,943.8 L787.4,944.8 L787.9,945.8 L788.5,946.8 L789.0,947.7 L789.6,948.7 L790.1,949.7 L790.7,950.7 L791.2,951.6 L791.8,952.6 L792.3,953.6 L792.9,954.5 L793.4,955.5 L794.0,956.4 L794.5,957.3 L795.1,958.2 L795.6,959.2 L796.2,960.1 L796.7,961.0 L797.3,961.9 L797.8,962.8 L798.4,963.7 L798.9,964.6 L799.5,965.5 L800.0,966.4 L800.6,967.3 L801.1,968.2 L801.7,969.1 L802.2,969.9 L802.8,970.8 L803.3,971.6 L803.9,972.5 L804.4,973.3 L805.0,974.1 L805.5,974.9 L806.1,975.7 L806.6,976.5 L807.2,977.2 L807.7,978.0 L808.3,978.7 L808.8,979.4 L809.4,980.1 L809.9,980.8 L810.5,981.5 L811.0,982.1 L811.6,982.8 L812.1,983.4 L812.7,984.0 L813.3,984.7 L813.8,985.3 L814.4,985.9 L814.9,986.5 L815.5,987.1 L816.0,987.6 L816.6,988.2 L817.1,988.7 L817.7,989.2 L818.2,989.8 L818.8,990.3 L819.3,990.7 L819.9,991.2 L820.4,991.7 L821.0,992.1 L821.5,992.5 L822.1,992.9 L822.6,993.3 L823.2,993.6 L823.7,994.0 L824.3,994.3 L824.8,994.6 L825.4,993.1 L825.9,991.1 L826.5,988.7 L827.0,986.0 L827.6,982.9 L828.1,979.2 L828.7,974.8 L829.2,970.1 L829.8,965.2 L830.3,960.4 L830.9,955.9 L831.4,951.7 L832.0,947.7 L832.5,943.9 L833.1,940.1 L833.6,936.2 L834.2,932.3 L834.7,928.3 L835.3,924.0 L835.8,919.4 L836.4,914.4 L836.9,909.1 L837.5,903.5 L838.0,897.6 L838.6,891.5 L839.1,885.4 L839.7,879.1 L840.2,872.8 L840.8,866.6 L841.3,860.5 L841.9,854.5 L842.4,848.5 L843.0,842.5 L843.5,836.5 L844.1,830.5 L844.6,824.5 L845.2,818.5 L845.7,812.6 L846.3,806.7 L846.8,800.9 L847.4,795.0 L847.9,789.1 L848.5,783.1 L849.0,777.2 L849.6,771.4 L850.1,765.8 L850.7,760.4 L851.2,755.3 L851.8,750.6 L852.3,746.1 L852.9,741.8 L853.4,737.6 L854.0,733.5 L854.5,729.5 L855.1,725.7 L855.6,722.0 L856.2,718.3 L856.7,714.7 L857.3,711.2 L857.8,707.7 L858.4,704.3 L858.9,700.8 L859.5,697.5 L860.0,694.3 L860.6,691.1 L861.1,688.0 L861.7,685.0 L862.2,682.0 L862.8,679.1 L863.3,676.2 L863.9,673.3 L864.4,670.4 L865.0,667.5 L865.5,664.6 L866.1,661.7 L866.6,658.7 L867.2,655.7 L867.7,652.6 L868.3,649.4 L868.8,646.2 L869.4,643.0 L869.9,639.6 L870.5,636.3 L871.0,632.9 L871.6,629.5 L872.1,626.0 L872.7,622.6 L873.2,619.3 L873.8,615.9 L874.3,612.6 L874.9,609.4 L875.4,606.2 L876.0,603.1 L876.5,600.1 L877.1,597.2 L877.6,594.3 L878.2,591.4 L878.7,588.6 L879.3,585.7 L879.8,582.9 L880.4,580.2 L880.9,577.4 L881.5,574.7 L882.0,572.0 L882.6,569.4 L883.1,566.7 L883.7,564.1 L884.2,561.5 L884.8,558.9 L885.3,556.4 L885.9,553.8 L886.4,551.3 L887.0,548.8 L887.5,546.3 L888.1,543.9 L888.6,541.4 L889.2,539.0 L889.7,536.6 L890.3,534.2 L890.8,531.8 L891.4,529.5 L891.9,527.1 L892.5,524.9 L893.0,522.6 L893.6,520.4 L894.1,518.2 L894.7,516.0 L895.2,513.8 L895.8,511.6 L896.3,509.5 L896.9,507.4 L897.4,505.3 L898.0,503.1 L898.5,501.0 L899.1,498.9 L899.6,496.8 L900.2,494.7 L900.7,492.6 L901.3,490.5 L901.9,488.3 L902.4,486.2 L903.0,484.0 L903.5,481.8 L904.1,479.6 L904.6,477.4 L905.2,475.2 L905.7,472.9 L906.3,470.6 L906.8,468.4 L907.4,466.1 L907.9,463.8 L908.5,461.5 L909.0,459.2 L909.6,456.9 L910.1,454.6 L910.7,452.4 L911.2,450.1 L911.8,447.8 L912.3,445.6 L912.9,443.4 L913.4,441.1 L914.0,438.9 L914.5,436.8 L915.1,434.6 L915.6,432.5 L916.2,430.4 L916.7,428.3 L917.3,426.3 L917.8,424.3 L918.4,422.2 L918.9,420.2 L919.5,418.2 L920.0,416.2 L920.6,414.3 L921.1,412.3 L921.7,410.3 L922.2,408.4 L922.8,406.5 L923.3,404.5 L923.9,402.6 L924.4,400.7 L925.0,398.8 L925.5,396.9 L926.1,395.0 L926.6,393.1 L927.2,391.3 L927.7,389.4 L928.3,387.5 L928.8,385.7 L929.4,383.8 L929.9,382.0 L930.5,380.1 L931.0,378.3 L931.6,376.4 L932.1,374.6 L932.7,372.8 L933.2,371.0 L933.8,369.1 L934.3,367.3 L934.9,365.6 L935.4,363.8 L936.0,362.0 L936.5,360.2 L937.1,358.5 L937.6,356.7 L938.2,355.0 L938.7,353.2 L939.3,351.5 L939.8,349.7 L940.4,348.0 L940.9,346.2 L941.5,344.5 L942.0,342.8 L942.6,341.1 L943.1,339.3 L943.7,337.6 L944.2,335.9 L944.8,334.2 L945.3,332.4 L945.9,330.7 L946.4,329.0 L947.0,327.2 L947.5,325.5 L948.1,323.8 L948.6,322.0 L949.2,320.3 L949.7,318.6 L950.3,316.8 L950.8,315.0 L951.4,313.3 L951.9,311.5 L952.5,309.7 L953.0,307.9 L953.6,306.1 L954.1,304.3 L954.7,302.5 L955.2,300.7 L955.8,298.9 L956.3,297.1 L956.9,295.3 L957.4,293.6 L958.0,291.8 L958.5,290.1 L959.1,288.3 L959.6,286.7 L960.2,285.0 L960.7,283.3 L961.3,281.7 L961.8,280.1 L962.4,278.6 L962.9,277.0 L963.5,275.5 L964.0,274.0 L964.6,272.5 L965.1,271.0 L965.7,269.5 L966.2,268.1 L966.8,266.6 L967.3,265.1 L967.9,263.7 L968.4,262.2 L969.0,260.8 L969.5,259.3 L970.1,257.9 L970.6,256.6 L971.2,255.2 L971.7,253.9 L972.3,252.5 L972.8,251.2 L973.4,250.0 L973.9,248.7 L974.5,247.5 L975.0,246.3 L975.6,245.2 L976.1,244.1 L976.7,243.0 L977.2,242.0 L977.8,241.0 L978.3,240.0 L978.9,239.1 L979.4,238.2 L980.0,237.4 L980.5,236.5 L981.1,235.7 L981.7,234.9 L982.2,234.1 L982.8,233.4 L983.3,232.7 L983.9,232.0 L984.4,231.5 L985.0,231.1 L985.5,230.6 L986.1,230.2 L986.6,229.8 L987.2,229.5 L987.7,229.2 L988.3,228.9 L988.8,228.7 L989.4,228.4 L989.9,228.2 L990.5,227.9 L991.0,227.7 L991.6,227.5 L992.1,227.4 L992.7,227.2 L993.2,227.1 L993.8,227.0 L994.3,228.5 L994.9,230.3 L995.4,232.4 L996.0,234.8 L996.5,237.5 L997.1,240.4 L997.6,243.5 L998.2,246.8 L998.8,250.2 L999.3,253.7 L999.9,257.5 L1000.4,262.0 L1001.0,266.9 L1001.5,272.2 L1002.1,277.9 L1002.6,283.8 L1003.2,289.7 L1003.7,295.7 L1004.3,301.6 L1004.9,307.3 L1005.4,313.1 L1006.0,319.0 L1006.5,325.0 L1007.1,331.1 L1007.6,337.3 L1008.2,343.5 L1008.7,349.8 L1009.3,356.1 L1009.8,362.8 L1010.4,369.7 L1011.0,376.6 L1011.5,383.6 L1012.1,390.3 L1012.6,396.6 L1013.2,402.5 L1013.7,407.9 L1014.3,413.0 L1014.8,417.8 L1015.4,422.5 L1016.0,427.0 L1016.5,431.5 L1017.1,436.0 L1017.6,440.6 L1018.2,445.3 L1018.7,450.1 L1019.3,454.9 L1019.8,459.6 L1020.4,464.3 L1020.9,468.9 L1021.5,473.4 L1022.1,477.6 L1022.6,481.8 L1023.2,485.8 L1023.7,489.7 L1024.3,493.5 L1024.8,497.3 L1025.4,501.0 L1025.9,504.7 L1026.5,508.3 L1027.0,511.8 L1027.6,515.4 L1028.2,518.8 L1028.7,522.3 L1029.3,525.7 L1029.8,529.1 L1030.4,532.5 L1030.9,535.9 L1031.5,539.3 L1032.0,542.6 L1032.6,545.9 L1033.2,549.2 L1033.7,552.4 L1034.3,555.5 L1034.8,558.7 L1035.4,561.7 L1035.9,564.7 L1036.5,567.6 L1037.0,570.4 L1037.6,573.1 L1038.1,575.8 L1038.7,578.4 L1039.3,580.9 L1039.8,583.4 L1040.4,585.9 L1040.9,588.3 L1041.5,590.7 L1042.0,593.0 L1042.6,595.3 L1043.1,597.6 L1043.7,599.9 L1044.2,602.1 L1044.8,604.3 L1045.4,606.5 L1045.9,608.7 L1046.5,610.8 L1047.0,613.0 L1047.6,615.1 L1048.1,617.3 L1048.7,619.4 L1049.2,621.5 L1049.8,623.6 L1050.4,625.7 L1050.9,627.8 L1051.5,629.9 L1052.0,631.9 L1052.6,633.9 L1053.1,635.9 L1053.7,637.9 L1054.2,639.9 L1054.8,641.9 L1055.3,643.8 L1055.9,645.8 L1056.5,647.7 L1057.0,649.6 L1057.6,651.6 L1058.1,653.5 L1058.7,655.3 L1059.2,657.2 L1059.8,659.1 L1060.3,660.9 L1060.9,662.8 L1061.4,664.6 L1062.0,666.4 L1062.6,668.2 L1063.1,670.0 L1063.7,671.8 L1064.2,673.6 L1064.8,675.4 L1065.3,677.2 L1065.9,679.0 L1066.4,680.7 L1067.0,682.5 L1067.6,684.2 L1068.1,686.0 L1068.7,687.7 L1069.2,689.4 L1069.8,691.2 L1070.3,692.9 L1070.9,694.6 L1071.4,696.4 L1072.0,698.1 L1072.5,699.8 L1073.1,701.5 L1073.7,703.3 L1074.2,705.0 L1074.8,706.7 L1075.3,708.4 L1075.9,710.1 L1076.4,711.9 L1077.0,713.6 L1077.5,715.3 L1078.1,717.0 L1078.7,718.7 L1079.2,720.4 L1079.8,722.1 L1080.3,723.8 L1080.9,725.5 L1081.4,727.2 L1082.0,728.9 L1082.5,730.7 L1083.1,732.4 L1083.6,734.1 L1084.2,735.8 L1084.8,737.4 L1085.3,739.1 L1085.9,740.8 L1086.4,742.5 L1087.0,744.2 L1087.5,745.9 L1088.1,747.6 L1088.6,749.3 L1089.2,751.0 L1089.7,752.7 L1090.3,754.4 L1090.9,756.0 L1091.4,757.7 L1092.0,759.3 L1092.5,761.0 L1093.1,762.6 L1093.6,764.3 L1094.2,765.9 L1094.7,767.5 L1095.3,769.1 L1095.9,770.7 L1096.4,772.3 L1097.0,773.9 L1097.5,775.5 L1098.1,777.1 L1098.6,778.6 L1099.2,780.2 L1099.7,781.8 L1100.3,783.3 L1100.8,784.9 L1101.4,786.4 L1102.0,788.0 L1102.5,789.5 L1103.1,791.1 L1103.6,792.6 L1104.2,794.2 L1104.7,795.7 L1105.3,797.2 L1105.8,798.8 L1106.4,800.3 L1106.9,801.9 L1107.5,803.4 L1108.1,804.9 L1108.6,806.5 L1109.2,808.0 L1109.7,809.5 L1110.3,811.1 L1110.8,812.6 L1111.4,814.1 L1111.9,815.6 L1112.5,817.1 L1113.1,818.6 L1113.6,820.1 L1114.2,821.6 L1114.7,823.1 L1115.3,824.6 L1115.8,826.1 L1116.4,827.6 L1116.9,829.0 L1117.5,830.5 L1118.0,831.9 L1118.6,833.4 L1119.2,834.8 L1119.7,836.2 L1120.3,837.7 L1120.8,839.1 L1121.4,840.5 L1121.9,842.0 L1122.5,843.4 L1123.0,844.8 L1123.6,846.2 L1124.1,847.6 L1124.7,849.0 L1125.3,850.4 L1125.8,851.9 L1126.4,853.3 L1126.9,854.7 L1127.5,856.1 L1128.0,857.4 L1128.6,858.8 L1129.1,860.2 L1129.7,861.6 L1130.3,863.0 L1130.8,864.4 L1131.4,865.7 L1131.9,867.1 L1132.5,868.4 L1133.0,869.8 L1133.6,871.2 L1134.1,872.5 L1134.7,873.8 L1135.2,875.2 L1135.8,876.5 L1136.4,877.8 L1136.9,879.2 L1137.5,880.5 L1138.0,881.8 L1138.6,883.1 L1139.1,884.4 L1139.7,885.7 L1140.2,887.0 L1140.8,888.2 L1141.3,889.5 L1141.9,890.8 L1142.5,892.0 L1143.0,893.3 L1143.6,894.5 L1144.1,895.8 L1144.7,897.0 L1145.2,898.2 L1145.8,899.5 L1146.3,900.7 L1146.9,901.9 L1147.5,903.1 L1148.0,904.3 L1148.6,905.5 L1149.1,906.8 L1149.7,908.0 L1150.2,909.2 L1150.8,910.3 L1151.3,911.5 L1151.9,912.7 L1152.4,913.9 L1153.0,915.1 L1153.6,916.2 L1154.1,917.4 L1154.7,918.5 L1155.2,919.7 L1155.8,920.8 L1156.3,921.9 L1156.9,923.0 L1157.4,924.2 L1158.0,925.3 L1158.5,926.3 L1159.1,927.4 L1159.7,928.5 L1160.2,929.5 L1160.8,930.6 L1161.3,931.6 L1161.9,932.7 L1162.4,933.7 L1163.0,934.7 L1163.5,935.7 L1164.1,936.6 L1164.7,937.6 L1165.2,938.6 L1165.8,939.6 L1166.3,940.6 L1166.9,941.6 L1167.4,942.5 L1168.0,943.5 L1168.5,944.5 L1169.1,945.5 L1169.6,946.4 L1170.2,947.4 L1170.8,948.4 L1171.3,949.3 L1171.9,950.3 L1172.4,951.2 L1173.0,952.2 L1173.5,953.1 L1174.1,954.0 L1174.6,954.9 L1175.2,955.9 L1175.7,956.8 L1176.3,957.7 L1176.9,958.6 L1177.4,959.5 L1178.0,960.4 L1178.5,961.3 L1179.1,962.2 L1179.6,963.1 L1180.2,964.0 L1180.7,964.9 L1181.3,965.7 L1181.9,966.6 L1182.4,967.5 L1183.0,968.3 L1183.5,969.1 L1184.1,970.0 L1184.6,970.8 L1185.2,971.6 L1185.7,972.4 L1186.3,973.2 L1186.8,974.0 L1187.4,974.7 L1188.0,975.4 L1188.5,976.2 L1189.1,976.9 L1189.6,977.6 L1190.2,978.2 L1190.7,978.9 L1191.3,979.6 L1191.8,980.2 L1192.4,980.8 L1193.0,981.5 L1193.5,982.1 L1194.1,982.7 L1194.6,983.3 L1195.2,983.9 L1195.7,984.5 L1196.3,985.0 L1196.8,985.6 L1197.4,986.1 L1197.9,986.6 L1198.5,987.1 L1199.1,987.6 L1199.6,988.1 L1200.2,988.6 L1200.7,989.0 L1201.3,989.4 L1201.8,989.9 L1202.4,990.3 L1202.9,990.6 L1203.5,991.0 L1204.0,991.3 L1204.6,991.6 L1205.2,991.9 L1205.7,990.4 L1206.3,988.5 L1206.8,986.2 L1207.4,983.4 L1207.9,980.4 L1208.4,976.7 L1209.0,972.4 L1209.5,967.8 L1210.1,962.9 L1210.6,958.1 L1211.2,953.7 L1211.7,949.6 L1212.3,945.6 L1212.8,941.8 L1213.4,938.0 L1213.9,934.3 L1214.5,930.4 L1215.0,926.3 L1215.6,922.1 L1216.1,917.5 L1216.7,912.6 L1217.2,907.4 L1217.8,901.8 L1218.3,896.0 L1218.9,890.0 L1219.4,883.9 L1220.0,877.7 L1220.5,871.5 L1221.1,865.3 L1221.6,859.3 L1222.2,853.3 L1222.7,847.4 L1223.3,841.4 L1223.8,835.5 L1224.4,829.5 L1224.9,823.5 L1225.5,817.6 L1226.0,811.7 L1226.6,805.9 L1227.1,800.2 L1227.6,794.3 L1228.2,788.5 L1228.7,782.6 L1229.3,776.7 L1229.8,771.0 L1230.4,765.4 L1230.9,760.1 L1231.5,755.1 L1232.0,750.4 L1232.6,745.9 L1233.1,741.6 L1233.7,737.4 L1234.2,733.4 L1234.8,729.5 L1235.3,725.7 L1235.9,722.0 L1236.4,718.3 L1237.0,714.8 L1237.5,711.3 L1238.1,707.8 L1238.6,704.4 L1239.2,701.1 L1239.7,697.8 L1240.3,694.6 L1240.8,691.4 L1241.4,688.4 L1241.9,685.4 L1242.5,682.4 L1243.0,679.5 L1243.6,676.6 L1244.1,673.8 L1244.7,670.9 L1245.2,668.0 L1245.8,665.1 L1246.3,662.2 L1246.8,659.3 L1247.4,656.3 L1247.9,653.3 L1248.5,650.1 L1249.0,646.9 L1249.6,643.7 L1250.1,640.4 L1250.7,637.1 L1251.2,633.7 L1251.8,630.3 L1252.3,626.9 L1252.9,623.6 L1253.4,620.2 L1254.0,616.9 L1254.5,613.6 L1255.1,610.4 L1255.6,607.3 L1256.2,604.2 L1256.7,601.3 L1257.3,598.3 L1257.8,595.5 L1258.4,592.6 L1258.9,589.8 L1259.5,587.0 L1260.0,584.2 L1260.6,581.5 L1261.1,578.8 L1261.7,576.1 L1262.2,573.4 L1262.8,570.8 L1263.3,568.2 L1263.9,565.6 L1264.4,563.0 L1264.9,560.4 L1265.5,557.9 L1266.0,555.4 L1266.6,552.9 L1267.1,550.4 L1267.7,548.0 L1268.2,545.5 L1268.8,543.1 L1269.3,540.7 L1269.9,538.3 L1270.4,535.9 L1271.0,533.6 L1271.5,531.2 L1272.1,528.9 L1272.6,526.7 L1273.2,524.4 L1273.7,522.2 L1274.3,520.0 L1274.8,517.9 L1275.4,515.7 L1275.9,513.6 L1276.5,511.5 L1277.0,509.4 L1277.6,507.3 L1278.1,505.2 L1278.7,503.1 L1279.2,501.0 L1279.8,498.9 L1280.3,496.8 L1280.9,494.7 L1281.4,492.6 L1282.0,490.5 L1282.5,488.4 L1283.1,486.2 L1283.6,484.1 L1284.1,481.9 L1284.7,479.7 L1285.2,477.4 L1285.8,475.2 L1286.3,473.0 L1286.9,470.7 L1287.4,468.4 L1288.0,466.2 L1288.5,463.9 L1289.1,461.6 L1289.6,459.4 L1290.2,457.1 L1290.7,454.9 L1291.3,452.6 L1291.8,450.4 L1292.4,448.1 L1292.9,445.9 L1293.5,443.7 L1294.0,441.6 L1294.6,439.4 L1295.1,437.3 L1295.7,435.2 L1296.2,433.1 L1296.8,431.1 L1297.3,429.0 L1297.9,427.0 L1298.4,425.0 L1299.0,423.0 L1299.5,421.0 L1300.1,419.1 L1300.6,417.1 L1301.2,415.1 L1301.7,413.2 L1302.3,411.3 L1302.8,409.4 L1303.3,407.5 L1303.9,405.6 L1304.4,403.7 L1305.0,401.8 L1305.5,399.9 L1306.1,398.0 L1306.6,396.2 L1307.2,394.3 L1307.7,392.5 L1308.3,390.6 L1308.8,388.8 L1309.4,386.9 L1309.9,385.1 L1310.5,383.3 L1311.0,381.4 L1311.6,379.6 L1312.1,377.8 L1312.7,376.0 L1313.2,374.2 L1313.8,372.4 L1314.3,370.6 L1314.9,368.8 L1315.4,367.1 L1316.0,365.3 L1316.5,363.5 L1317.1,361.8 L1317.6,360.1 L1318.2,358.3 L1318.7,356.6 L1319.3,354.9 L1319.8,353.1 L1320.4,351.4 L1320.9,349.7 L1321.5,348.0 L1322.0,346.3 L1322.5,344.5 L1323.1,342.8 L1323.6,341.1 L1324.2,339.4 L1324.7,337.7 L1325.3,336.0 L1325.8,334.3 L1326.4,332.6 L1326.9,330.9 L1327.5,329.1 L1328.0,327.4 L1328.6,325.7 L1329.1,324.0 L1329.7,322.2 L1330.2,320.5 L1330.8,318.8 L1331.3,317.0 L1331.9,315.2 L1332.4,313.4 L1333.0,311.7 L1333.5,309.9 L1334.1,308.1 L1334.6,306.3 L1335.2,304.5 L1335.7,302.7 L1336.3,301.0 L1336.8,299.2 L1337.4,297.5 L1337.9,295.7 L1338.5,294.0 L1339.0,292.3 L1339.6,290.6 L1340.1,289.0 L1340.7,287.3 L1341.2,285.7 L1341.7,284.2 L1342.3,282.6 L1342.8,281.1 L1343.4,279.6 L1343.9,278.1 L1344.5,276.6 L1345.0,275.2 L1345.6,273.7 L1346.1,272.2 L1346.7,270.7 L1347.2,269.3 L1347.8,267.8 L1348.3,266.4 L1348.9,265.0 L1349.4,263.6 L1350.0,262.2 L1350.5,260.8 L1351.1,259.5 L1351.6,258.1 L1352.2,256.8 L1352.7,255.5 L1353.3,254.3 L1353.8,253.1 L1354.4,251.9 L1354.9,250.7 L1355.5,249.6 L1356.0,248.5 L1356.6,247.4 L1357.1,246.4 L1357.7,245.4 L1358.2,244.4 L1358.8,243.5 L1359.3,242.6 L1359.9,241.8 L1360.4,241.0 L1360.9,240.2 L1361.5,239.4 L1362.0,238.6 L1362.6,237.9 L1363.1,237.1 L1363.7,236.5 L1364.2,236.0 L1364.8,235.6 L1365.3,235.1 L1365.9,234.7 L1366.4,234.4 L1367.0,234.0 L1367.5,233.7 L1368.1,233.5 L1368.6,233.2 L1369.2,232.9 L1369.7,232.7 L1370.3,232.5 L1370.8,232.3 L1371.4,232.1 L1371.9,231.9 L1372.5,231.8 L1373.0,231.6 L1373.6,231.6 L1374.1,233.0 L1374.7,234.8 L1375.2,236.9 L1375.8,239.3 L1376.3,242.0 L1376.9,244.9 L1377.5,248.0 L1378.0,251.2 L1378.6,254.6 L1379.1,258.1 L1379.7,261.9 L1380.2,266.3 L1380.8,271.2 L1381.4,276.5 L1381.9,282.1 L1382.5,288.0 L1383.0,293.9 L1383.6,299.8 L1384.1,305.6 L1384.7,311.3 L1385.3,317.1 L1385.8,323.0 L1386.4,329.0 L1386.9,335.0 L1387.5,341.1 L1388.0,347.3 L1388.6,353.5 L1389.2,359.8 L1389.7,366.5 L1390.3,373.3 L1390.8,380.2 L1391.4,387.1 L1391.9,393.8 L1392.5,400.1 L1393.1,405.9 L1393.6,411.3 L1394.2,416.3 L1394.7,421.2 L1395.3,425.8 L1395.8,430.3 L1396.4,434.7 L1397.0,439.2 L1397.5,443.8 L1398.1,448.5 L1398.6,453.2 L1399.2,458.0 L1399.7,462.7 L1400.3,467.4 L1400.9,471.9 L1401.4,476.4 L1402.0,480.6 L1402.5,484.7 L1403.1,488.7 L1403.6,492.6 L1404.2,496.4 L1404.8,500.1 L1405.3,503.8 L1405.9,507.5 L1406.4,511.0 L1407.0,514.6 L1407.5,518.1 L1408.1,521.5 L1408.7,524.9 L1409.2,528.3 L1409.8,531.7 L1410.3,535.1 L1410.9,538.5 L1411.4,541.8 L1412.0,545.1 L1412.6,548.4 L1413.1,551.6 L1413.7,554.8 L1414.2,558.0 L1414.8,561.1 L1415.3,564.1 L1415.9,567.0 L1416.5,569.9 L1417.0,572.7 L1417.6,575.4 L1418.1,578.1 L1418.7,580.7 L1419.2,583.2 L1419.8,585.7 L1420.4,588.1 L1420.9,590.5 L1421.5,592.9 L1422.0,595.2 L1422.6,597.5 L1423.1,599.8 L1423.7,602.0 L1424.3,604.2 L1424.8,606.4 L1425.4,608.6 L1425.9,610.7 L1426.5,612.9 L1427.0,615.0 L1427.6,617.1 L1428.2,619.3 L1428.7,621.4 L1429.3,623.5 L1429.8,625.6 L1430.4,627.7 L1430.9,629.7 L1431.5,631.8 L1432.1,633.8 L1432.6,635.8 L1433.2,637.8 L1433.7,639.8 L1434.3,641.8 L1434.8,643.7 L1435.4,645.7 L1435.9,647.6 L1436.5,649.5 L1437.1,651.4 L1437.6,653.3 L1438.2,655.2 L1438.7,657.1 L1439.3,659.0 L1439.8,660.8 L1440.4,662.6 L1441.0,664.5 L1441.5,666.3 L1442.1,668.1 L1442.6,669.9 L1443.2,671.7 L1443.7,673.5 L1444.3,675.3 L1444.9,677.0 L1445.4,678.8 L1446.0,680.5 L1446.5,682.3 L1447.1,684.0 L1447.6,685.8 L1448.2,687.5 L1448.8,689.2 L1449.3,691.0 L1449.9,692.7 L1450.4,694.4 L1451.0,696.1 L1451.5,697.8 L1452.1,699.5 L1452.7,701.3 L1453.2,703.0 L1453.8,704.7 L1454.3,706.4 L1454.9,708.1 L1455.4,709.8 L1456.0,711.5 L1456.6,713.2 L1457.1,714.9 L1457.7,716.6 L1458.2,718.3 L1458.8,720.0 L1459.3,721.7 L1459.9,723.4 L1460.5,725.1 L1461.0,726.8 L1461.6,728.5 L1462.1,730.2 L1462.7,731.9 L1463.2,733.6 L1463.8,735.3 L1464.4,737.0 L1464.9,738.6 L1465.5,740.3 L1466.0,742.0 L1466.6,743.7 L1467.1,745.4 L1467.7,747.1 L1468.3,748.7 L1468.8,750.4 L1469.4,752.1 L1469.9,753.8 L1470.5,755.4 L1471.0,757.1 L1471.6,758.8 L1472.2,760.4 L1472.7,762.0 L1473.3,763.7 L1473.8,765.3 L1474.4,766.9 L1474.9,768.5 L1475.5,770.1 L1476.1,771.7 L1476.6,773.3 L1477.2,774.9 L1477.7,776.4 L1478.3,778.0 L1478.8,779.6 L1479.4,781.1 L1480.0,782.7 L1480.5,784.2 L1481.1,785.8 L1481.6,787.3 L1482.2,788.9 L1482.7,790.4 L1483.3,791.9 L1483.9,793.5 L1484.4,795.0 L1485.0,796.5 L1485.5,798.1 L1486.1,799.6 L1486.6,801.1 L1487.2,802.7 L1487.8,804.2 L1488.3,805.7 L1488.9,807.2 L1489.4,808.8 L1490.0,810.3 L1490.5,811.8 L1491.1,813.3 L1491.7,814.8 L1492.2,816.3 L1492.8,817.8 L1493.3,819.3 L1493.9,820.8 L1494.4,822.3 L1495.0,823.8 L1495.5,825.3 L1496.1,826.7 L1496.7,828.2 L1497.2,829.6 L1497.8,831.1 L1498.3,832.5 L1498.9,834.0 L1499.4,835.4 L1500.0,836.8 L1500.6,838.2 L1501.1,839.7 L1501.7,841.1 L1502.2,842.5 L1502.8,843.9 L1503.3,845.3 L1503.9,846.7 L1504.5,848.1 L1505.0,849.5 L1505.6,850.9 L1506.1,852.3 L1506.7,853.7 L1507.2,855.1 L1507.8,856.5 L1508.4,857.9 L1508.9,859.3 L1509.5,860.6 L1510.0,862.0 L1510.6,863.4 L1511.1,864.8 L1511.7,866.1 L1512.3,867.5 L1512.8,868.8 L1513.4,870.2 L1513.9,871.5 L1514.5,872.9 L1515.0,874.2 L1515.6,875.5 L1516.2,876.8 L1516.7,878.2 L1517.3,879.5 L1517.8,880.8 L1518.4,882.1 L1518.9,883.4 L1519.5,884.7 L1520.1,885.9 L1520.6,887.2 L1521.2,888.5 L1521.7,889.8 L1522.3,891.0 L1522.8,892.3 L1523.4,893.5 L1524.0,894.7 L1524.5,896.0 L1525.1,897.2 L1525.6,898.4 L1526.2,899.6 L1526.7,900.8 L1527.3,902.1 L1527.9,903.3 L1528.4,904.5 L1529.0,905.7 L1529.5,906.9 L1530.1,908.1 L1530.6,909.3 L1531.2,910.5 L1531.8,911.6 L1532.3,912.8 L1532.9,914.0 L1533.4,915.1 L1534.0,916.3 L1534.5,917.4 L1535.1,918.6 L1535.7,919.7 L1536.2,920.8 L1536.8,922.0 L1537.3,923.1 L1537.9,924.2 L1538.4,925.3 L1539.0,926.3 L1539.6,927.4 L1540.1,928.5 L1540.7,929.5 L1541.2,930.6 L1541.8,931.6 L1542.3,932.6 L1542.9,933.6 L1543.5,934.6 L1544.0,935.6 L1544.6,936.6 L1545.1,937.6 L1545.7,938.5 L1546.2,939.5 L1546.8,940.5 L1547.4,941.5 L1547.9,942.4 L1548.5,943.4 L1549.0,944.4 L1549.6,945.3 L1550.1,946.3 L1550.7,947.3 L1551.3,948.2 L1551.8,949.2 L1552.4,950.1 L1552.9,951.1 L1553.5,952.0 L1554.0,952.9 L1554.6,953.9 L1555.1,954.8 L1555.7,955.7 L1556.3,956.6 L1556.8,957.5 L1557.4,958.4 L1557.9,959.3 L1558.5,960.2 L1559.0,961.1 L1559.6,962.0 L1560.2,962.9 L1560.7,963.7 L1561.3,964.6 L1561.8,965.5 L1562.4,966.4 L1562.9,967.2 L1563.5,968.1 L1564.1,968.9 L1564.6,969.7 L1565.2,970.5 L1565.7,971.3 L1566.3,972.1 L1566.8,972.9 L1567.4,973.7 L1568.0,974.4 L1568.5,975.2 L1569.1,975.9 L1569.6,976.6 L1570.2,977.3 L1570.7,977.9 L1571.3,978.6 L1571.9,979.2 L1572.4,979.9 L1573.0,980.5 L1573.5,981.1 L1574.1,981.8 L1574.6,982.4 L1575.2,983.0 L1575.8,983.5 L1576.3,984.1 L1576.9,984.7 L1577.4,985.2 L1578.0,985.8 L1578.5,986.3 L1579.1,986.8 L1579.7,987.3 L1580.2,987.8 L1580.8,988.2 L1581.3,988.7 L1581.9,989.1 L1582.4,989.5 L1583.0,989.9 L1583.6,990.3 L1584.1,990.6 L1584.7,990.9 L1585.2,991.3 L1585.8,991.6 L1586.3,990.1 L1586.9,988.1 L1587.4,985.8 L1588.0,983.1 L1588.6,980.0 L1589.1,976.4 L1589.7,972.1 L1590.2,967.5 L1590.8,962.6 L1591.3,957.9 L1591.9,953.4 L1592.4,949.3 L1593.0,945.4 L1593.6,941.6 L1594.1,937.8 L1594.7,934.0 L1595.2,930.2 L1595.8,926.2 L1596.3,921.9 L1596.9,917.4 L1597.4,912.5 L1598.0,907.2 L1598.5,901.7 L1599.1,895.9 L1599.7,889.9 L1600.2,883.8 L1600.8,877.6 L1601.3,871.4 L1601.9,865.3 L1602.4,859.2 L1603.0,853.3 L1603.5,847.4 L1604.1,841.5 L1604.6,835.5 L1605.2,829.5 L1605.8,823.6 L1606.3,817.7 L1606.9,811.9 L1607.4,806.0 L1608.0,800.3 L1608.5,794.5 L1609.1,788.6 L1609.6,782.7 L1610.2,776.9 L1610.8,771.2 L1611.3,765.6 L1611.9,760.3 L1612.4,755.3 L1613.0,750.6 L1613.5,746.2 L1614.1,741.9 L1614.6,737.7 L1615.2,733.7 L1615.7,729.8 L1616.3,726.0 L1616.9,722.3 L1617.4,718.7 L1618.0,715.1 L1618.5,711.6 L1619.1,708.2 L1619.6,704.8 L1620.2,701.4 L1620.7,698.1 L1621.3,694.9 L1621.8,691.8 L1622.4,688.8 L1623.0,685.8 L1623.5,682.8 L1624.1,679.9 L1624.6,677.1 L1625.2,674.2 L1625.7,671.3 L1626.3,668.5 L1626.8,665.6 L1627.4,662.7 L1628.0,659.8 L1628.5,656.8 L1629.1,653.7 L1629.6,650.6 L1630.2,647.5 L1630.7,644.2 L1631.3,640.9 L1631.8,637.6 L1632.4,634.2 L1632.9,630.9 L1633.5,627.5 L1634.1,624.1 L1634.6,620.8 L1635.2,617.5 L1635.7,614.2 L1636.3,611.0 L1636.8,607.9 L1637.4,604.8 L1637.9,601.9 L1638.5,599.0 L1639.0,596.1 L1639.6,593.3 L1640.2,590.4 L1640.7,587.7 L1641.3,584.9 L1641.8,582.2 L1642.4,579.5 L1642.9,576.8 L1643.5,574.1 L1644.0,571.5 L1644.6,568.9 L1645.1,566.3 L1645.7,563.7 L1646.3,561.2 L1646.8,558.6 L1647.4,556.1 L1647.9,553.6 L1648.5,551.2 L1649.0,548.7 L1649.6,546.3 L1650.1,543.9 L1650.7,541.5 L1651.3,539.1 L1651.8,536.7 L1652.4,534.4 L1652.9,532.0 L1653.5,529.7 L1654.0,527.5 L1654.6,525.2 L1655.1,523.0 L1655.7,520.9 L1656.2,518.7 L1656.8,516.6 L1657.4,514.4 L1657.9,512.3 L1658.5,510.2 L1659.0,508.1 L1659.6,506.0 L1660.1,503.9 L1660.7,501.9 L1661.2,499.8 L1661.8,497.7 L1662.3,495.6 L1662.9,493.5 L1663.5,491.4 L1664.0,489.3 L1664.6,487.1 L1665.1,485.0 L1665.7,482.8 L1666.2,480.6 L1666.8,478.4 L1667.3,476.1 L1667.9,473.9 L1668.5,471.6 L1669.0,469.4 L1669.6,467.1 L1670.1,464.9 L1670.7,462.6 L1671.2,460.3 L1671.8,458.1 L1672.3,455.8 L1672.9,453.6 L1673.4,451.3 L1674.0,449.1 L1674.6,446.9 L1675.1,444.7 L1675.7,442.6 L1676.2,440.4 L1676.8,438.3 L1677.3,436.2 L1677.9,434.1 L1678.4,432.1 L1679.0,430.1 L1679.5,428.0 L1680.1,426.0 L1680.7,424.1 L1681.2,422.1 L1681.8,420.1 L1682.3,418.2 L1682.9,416.2 L1683.4,414.3 L1684.0,412.4 L1684.5,410.4 L1685.1,408.5 L1685.6,406.6 L1686.2,404.8 L1686.8,402.9 L1687.3,401.0 L1687.9,399.1 L1688.4,397.3 L1689.0,395.4 L1689.5,393.6 L1690.1,391.7 L1690.6,389.9 L1691.2,388.1 L1691.8,386.2 L1692.3,384.4 L1692.9,382.6 L1693.4,380.7 L1694.0,378.9 L1694.5,377.1 L1695.1,375.3 L1695.6,373.6 L1696.2,371.8 L1696.7,370.0 L1697.3,368.2 L1697.9,366.5 L1698.4,364.7 L1699.0,363.0 L1699.5,361.3 L1700.1,359.5 L1700.6,357.8 L1701.2,356.1 L1701.7,354.3 L1702.3,352.6 L1702.8,350.9 L1703.4,349.2 L1704.0,347.5 L1704.5,345.8 L1705.1,344.1 L1705.6,342.4 L1706.2,340.7 L1706.7,339.0 L1707.3,337.2 L1707.8,335.5 L1708.4,333.8 L1709.0,332.1 L1709.5,330.4 L1710.1,328.7 L1710.6,327.0 L1711.2,325.3 L1711.7,323.5 L1712.3,321.8 L1712.8,320.1 L1713.4,318.3 L1713.9,316.5 L1714.5,314.8 L1715.1,313.0 L1715.6,311.2 L1716.2,309.4 L1716.7,307.6 L1717.3,305.9 L1717.8,304.1 L1718.4,302.3 L1718.9,300.6 L1719.5,298.8 L1720.0,297.1 L1720.6,295.4 L1721.2,293.7 L1721.7,292.0 L1722.3,290.3 L1722.8,288.7 L1723.4,287.1 L1723.9,285.5 L1724.5,284.0 L1725.0,282.5 L1725.6,281.0 L1726.2,279.5 L1726.7,278.0 L1727.3,276.6 L1727.8,275.1 L1728.4,273.6 L1728.9,272.2 L1729.5,270.7 L1730.0,269.3 L1730.6,267.8 L1731.1,266.4 L1731.7,265.0 L1732.3,263.6 L1732.8,262.2 L1733.4,260.9 L1733.9,259.6 L1734.5,258.3 L1735.0,257.0 L1735.6,255.7 L1736.1,254.5 L1736.7,253.3 L1737.2,252.2 L1737.8,251.0 L1738.4,249.9 L1738.9,248.9 L1739.5,247.8 L1740.0,246.8 L1740.6,245.9 L1741.1,245.0 L1741.7,244.1 L1742.2,243.3 L1742.8,242.5 L1743.3,241.7 L1743.9,240.9 L1744.5,240.1 L1745.0,239.4 L1745.6,238.6 L1746.1,238.0 L1746.7,237.5 L1747.2,237.1 L1747.8,236.6 L1748.3,236.2 L1748.9,235.9 L1749.5,235.5 L1750.0,235.2 L1750.6,235.0 L1751.1,234.7 L1751.7,234.5 L1752.2,234.2 L1752.8,234.0 L1753.3,233.8 L1753.9,233.6 L1754.4,233.4 L1755.0,233.3 L1755.6,233.2 L1756.1,233.1 L1756.7,236.1 L1757.2,239.5 L1757.8,243.1 L1758.3,247.1 L1758.9,251.3 L1759.4,255.8 L1760.0,260.5 L1760.5,265.3 L1761.1,270.4 L1761.6,275.6 L1762.2,281.4 L1762.7,287.7 L1763.3,294.4 L1763.9,301.3 L1764.4,308.5 L1765.0,315.8 L1765.5,323.2 L1766.1,330.6 L1766.6,338.0 L1767.2,345.8 L1767.7,353.9 L1768.3,361.9 L1768.8,369.7 L1769.4,377.1 L1769.9,383.9 L1770.5,390.4 L1771.0,396.8 L1771.6,403.0 L1772.2,409.1 L1772.7,414.9 L1773.3,420.7 L1773.8,426.3 L1774.4,431.8 L1774.9,437.2 L1775.5,442.5 L1776.0,447.7 L1776.6,452.8 L1777.1,457.9 L1777.7,462.8 L1778.2,467.7 L1778.8,472.4 L1779.3,476.9 L1779.9,481.4 L1780.5,485.7 L1781.0,489.8 L1781.6,493.9 L1782.1,497.9 L1782.7,501.8 L1783.2,505.7 L1783.8,509.5 L1784.3,513.3 L1784.9,517.0 L1785.4,520.7 L1786.0,524.3 L1786.5,527.9 L1787.1,531.4 L1787.6,534.8 L1788.2,538.2 L1788.8,541.5 L1789.3,544.8 L1789.9,548.0 L1790.4,551.1 L1791.0,554.1 L1791.5,557.1 L1792.1,560.0 L1792.6,562.8 L1793.2,565.6 L1793.7,568.3 L1794.3,570.9 L1794.8,573.4 L1795.4,575.9 L1795.9,578.3 L1796.5,580.7 L1797.1,583.0 L1797.6,585.2 L1798.2,587.4 L1798.7,589.6 L1799.3,591.7 L1799.8,593.8 L1800.4,595.8 L1800.9,597.8 L1801.5,599.8 L1802.0,601.7 L1802.6,603.7 L1803.1,605.6 L1803.7,607.5 L1804.2,609.4 L1804.8,611.2 L1805.4,613.1 L1805.9,615.0 L1806.5,616.8 L1807.0,618.7 L1807.6,620.6 L1808.1,622.4 L1808.7,624.3 L1809.2,626.2 L1809.8,628.1 L1810.3,630.1 L1810.9,632.0 L1811.4,634.0 L1812.0,636.0 L1812.5,638.1 L1813.1,640.1 L1813.7,642.1 L1814.2,644.1 L1814.8,646.1 L1815.3,648.1 L1815.9,650.1 L1816.4,652.1 L1817.0,654.1 L1817.5,656.1 L1818.1,658.1 L1818.6,660.1 L1819.2,662.1 L1819.7,664.1 L1820.3,666.1 L1820.8,668.0 L1821.4,670.0 L1822.0,672.0 L1822.5,673.9 L1823.1,675.8 L1823.6,677.8 L1824.2,679.7 L1824.7,681.6 L1825.3,683.5 L1825.8,685.5 L1826.4,687.4 L1826.9,689.4 L1827.5,691.3 L1828.0,693.3 L1828.6,695.2 L1829.1,697.1 L1829.7,699.1 L1830.2,701.0 L1830.8,702.9 L1831.4,704.8 L1831.9,706.6 L1832.5,708.5 L1833.0,710.3 L1833.6,712.0 L1834.1,713.8 L1834.7,715.5 L1835.2,717.2 L1835.8,718.8 L1836.3,720.4 L1836.9,722.0 L1837.4,723.5 L1838.0,725.0 L1838.5,726.5 L1839.1,728.0 L1839.7,729.4 L1840.2,730.9 L1840.8,732.3 L1841.3,733.7 L1841.9,735.1 L1842.4,736.4 L1843.0,737.8 L1843.5,739.1 L1844.1,740.5 L1844.6,741.8 L1845.2,743.1 L1845.7,744.4 L1846.3,745.7 L1846.8,747.0 L1847.4,748.3 L1848.0,749.6 L1848.5,750.9 L1849.1,752.1 L1849.6,753.4 L1850.2,754.7 L1850.7,756.0 L1851.3,757.2 L1851.8,758.5 L1852.4,759.7 L1852.9,761.0 L1853.5,762.2 L1854.0,763.4 L1854.6,764.7 L1855.1,765.9 L1855.7,767.1 L1856.3,768.3 L1856.8,769.4 L1857.4,770.6 L1857.9,771.8 L1858.5,772.9 L1859.0,774.1 L1859.6,775.2 L1860.1,776.3 L1860.7,777.4 L1861.2,778.5 L1861.8,779.6 L1862.3,780.7 L1862.9,781.8 L1863.4,782.8 L1864.0,783.9" fill="none" stroke="#ff00ff" stroke-width="8" stroke-linejoin="round" shape-rendering="crispEdges" stroke-dasharray="23 3.8 12.5 3.8" clip-path="url(#ca)"/>
<g stroke="#222222" stroke-width="6" stroke-linecap="butt"><line x1="221.0" y1="37.0" x2="241.0" y2="37.0"/><line x1="1864.0" y1="37.0" x2="1844.0" y2="37.0"/><line x1="221.0" y1="189.0" x2="241.0" y2="189.0"/><line x1="1864.0" y1="189.0" x2="1844.0" y2="189.0"/><line x1="221.0" y1="341.0" x2="241.0" y2="341.0"/><line x1="1864.0" y1="341.0" x2="1844.0" y2="341.0"/><line x1="221.0" y1="493.0" x2="241.0" y2="493.0"/><line x1="1864.0" y1="493.0" x2="1844.0" y2="493.0"/><line x1="221.0" y1="645.0" x2="241.0" y2="645.0"/><line x1="1864.0" y1="645.0" x2="1844.0" y2="645.0"/><line x1="221.0" y1="797.0" x2="241.0" y2="797.0"/><line x1="1864.0" y1="797.0" x2="1844.0" y2="797.0"/><line x1="221.0" y1="949.0" x2="241.0" y2="949.0"/><line x1="1864.0" y1="949.0" x2="1844.0" y2="949.0"/><line x1="221.0" y1="1101.0" x2="241.0" y2="1101.0"/><line x1="1864.0" y1="1101.0" x2="1844.0" y2="1101.0"/><line x1="221.0" y1="1253.0" x2="241.0" y2="1253.0"/><line x1="1864.0" y1="1253.0" x2="1844.0" y2="1253.0"/><line x1="221.0" y1="1253.0" x2="221.0" y2="1233.0"/><line x1="221.0" y1="37.0" x2="221.0" y2="57.0"/><line x1="494.8" y1="1253.0" x2="494.8" y2="1233.0"/><line x1="494.8" y1="37.0" x2="494.8" y2="57.0"/><line x1="768.7" y1="1253.0" x2="768.7" y2="1233.0"/><line x1="768.7" y1="37.0" x2="768.7" y2="57.0"/><line x1="1042.5" y1="1253.0" x2="1042.5" y2="1233.0"/><line x1="1042.5" y1="37.0" x2="1042.5" y2="57.0"/><line x1="1316.3" y1="1253.0" x2="1316.3" y2="1233.0"/><line x1="1316.3" y1="37.0" x2="1316.3" y2="57.0"/><line x1="1590.2" y1="1253.0" x2="1590.2" y2="1233.0"/><line x1="1590.2" y1="37.0" x2="1590.2" y2="57.0"/><line x1="1864.0" y1="1253.0" x2="1864.0" y2="1233.0"/><line x1="1864.0" y1="37.0" x2="1864.0" y2="57.0"/></g><rect x="221.0" y="37.0" width="1643.0" height="1216.0" fill="none" stroke="#222222" stroke-width="6"/><g font-family="'Liberation Serif', 'Times New Roman', serif" font-weight="bold" font-size="55" fill="#222222"><text x="201.5" y="56.8" text-anchor="end">0.8</text><text x="201.5" y="208.8" text-anchor="end">0.6</text><text x="201.5" y="360.8" text-anchor="end">0.4</text><text x="201.5" y="512.8" text-anchor="end">0.2</text><text x="201.5" y="664.8" text-anchor="end">0</text><text x="201.5" y="816.8" text-anchor="end">−0.2</text><text x="201.5" y="968.8" text-anchor="end">−0.4</text><text x="201.5" y="1120.8" text-anchor="end">−0.6</text><text x="201.5" y="1272.8" text-anchor="end">−0.8</text><text x="221.0" y="1324.3" text-anchor="middle">0</text><text x="494.8" y="1324.3" text-anchor="middle">100</text><text x="768.7" y="1324.3" text-anchor="middle">200</text><text x="1042.5" y="1324.3" text-anchor="middle">300</text><text x="1316.3" y="1324.3" text-anchor="middle">400</text><text x="1590.2" y="1324.3" text-anchor="middle">500</text><text x="1864.0" y="1324.3" text-anchor="middle">600</text></g>
<line x1="272.0" y1="106.3" x2="408.0" y2="106.3" stroke="#000000" stroke-width="8"/><line x1="272.0" y1="164.3" x2="408.0" y2="164.3" stroke="#ff0000" stroke-width="8" stroke-dasharray="23 20.5"/><line x1="566.0" y1="106.3" x2="702.0" y2="106.3" stroke="#0000ff" stroke-width="8" stroke-dasharray="6.2 4.63"/><line x1="566.0" y1="164.3" x2="702.0" y2="164.3" stroke="#ff00ff" stroke-width="8" stroke-dasharray="22.5 4.5 12 4"/><g font-family="'Liberation Serif', 'Times New Roman', serif" font-weight="bold" font-size="49.7" fill="#000"><text x="417.3" y="123.7">RHM</text><text x="417.6" y="181.7">GPR</text><text x="711.2" y="123.7">LGPR</text><text x="711.5" y="181.7">NN</text></g>
<path d="M208.0,2311.9 L208.9,2311.8 L209.9,2311.7 L210.8,2311.4 L211.7,2311.1 L212.6,2310.7 L213.6,2310.1 L214.5,2309.5 L215.4,2308.8 L216.4,2307.9 L217.3,2307.0 L218.2,2305.9 L219.2,2304.7 L220.1,2303.4 L221.0,2302.0 L221.9,2300.4 L222.9,2298.7 L223.8,2296.9 L224.7,2294.9 L225.7,2292.8 L226.6,2290.6 L227.5,2288.2 L228.4,2285.8 L229.4,2283.2 L230.3,2280.6 L231.2,2277.9 L232.2,2275.0 L233.1,2272.1 L234.0,2269.1 L234.9,2266.1 L235.9,2262.9 L236.8,2259.7 L237.7,2256.3 L238.7,2252.9 L239.6,2249.5 L240.5,2245.9 L241.5,2242.3 L242.4,2238.5 L243.3,2234.7 L244.2,2230.8 L245.2,2226.9 L246.1,2222.8 L247.0,2218.7 L248.0,2214.5 L248.9,2210.3 L249.8,2205.9 L250.7,2201.5 L251.7,2197.0 L252.6,2192.5 L253.5,2187.9 L254.5,2183.2 L255.4,2178.5 L256.3,2173.7 L257.3,2168.9 L258.2,2164.0 L259.1,2159.0 L260.0,2154.0 L261.0,2149.0 L261.9,2143.9 L262.8,2138.7 L263.8,2133.5 L264.7,2128.3 L265.6,2123.0 L266.5,2117.7 L267.5,2112.4 L268.4,2107.1 L269.3,2101.8 L270.3,2096.6 L271.2,2091.5 L272.1,2086.5 L273.0,2081.5 L274.0,2076.7 L274.9,2072.1 L275.8,2067.5 L276.8,2063.2 L277.7,2059.0 L278.6,2055.1 L279.6,2051.4 L280.5,2047.8 L281.4,2044.5 L282.3,2041.3 L283.3,2038.4 L284.2,2035.6 L285.1,2033.0 L286.1,2030.5 L287.0,2028.3 L287.9,2026.1 L288.8,2024.1 L289.8,2022.1 L290.7,2020.3 L291.6,2018.6 L292.6,2017.0 L293.5,2015.5 L294.4,2014.0 L295.4,2012.7 L296.3,2011.5 L297.2,2010.3 L298.1,2009.3 L299.1,2008.3 L300.0,2007.5 L300.9,2006.7 L301.9,2006.0 L302.8,2005.4 L303.7,2004.8 L304.6,2004.4 L305.6,2004.0 L306.5,2003.7 L307.4,2003.5 L308.4,2003.4 L309.3,2003.3 L310.2,2003.4 L311.1,2003.5 L312.1,2003.7 L313.0,2004.0 L313.9,2004.4 L314.9,2004.9 L315.8,2005.4 L316.7,2006.0 L317.6,2006.7 L318.6,2007.5 L319.5,2008.3 L320.4,2009.2 L321.4,2010.2 L322.3,2011.2 L323.2,2012.3 L324.1,2013.4 L325.1,2014.6 L326.0,2015.9 L326.9,2017.2 L327.8,2018.6 L328.8,2020.0 L329.7,2021.5 L330.6,2023.1 L331.6,2024.7 L332.5,2026.3 L333.4,2028.0 L334.3,2029.8 L335.3,2031.6 L336.2,2033.5 L337.1,2035.5 L338.1,2037.4 L339.0,2039.5 L339.9,2041.6 L340.8,2043.7 L341.8,2045.9 L342.7,2048.2 L343.6,2050.5 L344.5,2052.8 L345.5,2055.3 L346.4,2057.7 L347.3,2060.2 L348.3,2062.8 L349.2,2065.4 L350.1,2068.0 L351.0,2070.7 L352.0,2073.4 L352.9,2076.2 L353.8,2079.1 L354.8,2082.0 L355.7,2084.9 L356.6,2087.9 L357.5,2090.9 L358.5,2094.0 L359.4,2097.1 L360.3,2100.2 L361.3,2103.4 L362.2,2106.7 L363.1,2110.0 L364.0,2113.3 L365.0,2116.7 L365.9,2120.1 L366.8,2123.6 L367.7,2127.1 L368.7,2130.6 L369.6,2134.2 L370.5,2137.9 L371.5,2141.6 L372.4,2145.3 L373.3,2149.1 L374.2,2152.9 L375.2,2156.8 L376.1,2160.7 L377.0,2164.6 L378.0,2168.6 L378.9,2172.6 L379.8,2176.6 L380.7,2180.7 L381.7,2184.9 L382.6,2189.0 L383.5,2193.3 L384.4,2197.5 L385.4,2201.8 L386.3,2206.1 L387.2,2210.5 L388.2,2214.9 L389.1,2219.3 L390.0,2223.8 L390.9,2228.3 L391.9,2232.8 L392.8,2237.4 L393.7,2242.0 L394.7,2246.6 L395.6,2251.3 L396.5,2256.0 L397.4,2260.7 L398.4,2265.4 L399.3,2270.2 L400.2,2275.1 L401.1,2279.9 L402.1,2284.8 L403.0,2289.7 L403.9,2294.7 L404.9,2299.6 L405.8,2304.6 L406.7,2309.6 L407.6,2314.7 L408.6,2319.8 L409.5,2324.9 L410.4,2330.0 L411.4,2335.2 L412.3,2340.4 L413.2,2345.6 L414.1,2350.8 L415.1,2356.1 L416.0,2361.3 L416.9,2366.6 L417.8,2371.9 L418.8,2377.3 L419.7,2382.6 L420.6,2388.0 L421.6,2393.4 L422.5,2398.9 L423.4,2404.3 L424.3,2409.7 L425.3,2415.2 L426.2,2420.7 L427.1,2426.2 L428.1,2431.8 L429.0,2437.3 L429.9,2442.9 L430.8,2448.4 L431.8,2454.0 L432.7,2459.6 L433.6,2465.3 L434.5,2470.9 L435.5,2476.5 L436.4,2482.2 L437.3,2487.9 L438.3,2493.6 L439.2,2499.3 L440.1,2505.0 L441.0,2510.7 L442.0,2516.4 L442.9,2522.0 L443.8,2527.5 L444.8,2532.8 L445.7,2538.0 L446.6,2543.0 L447.5,2547.9 L448.5,2552.7 L449.4,2557.4 L450.3,2561.9 L451.2,2566.4 L452.2,2570.6 L453.1,2574.8 L454.0,2578.8 L455.0,2582.6 L455.9,2586.2 L456.8,2589.7 L457.7,2593.0 L458.7,2596.1 L459.6,2599.1 L460.5,2601.9 L461.5,2604.5 L462.4,2607.0 L463.3,2609.3 L464.2,2611.5 L465.2,2613.5 L466.1,2615.3 L467.0,2617.0 L468.0,2618.6 L468.9,2620.1 L469.8,2621.4 L470.7,2622.7 L471.7,2623.8 L472.6,2624.9 L473.5,2625.8 L474.4,2626.7 L475.4,2627.5 L476.3,2628.2 L477.2,2628.8 L478.2,2629.3 L479.1,2629.7 L480.0,2630.1 L480.9,2630.4 L481.9,2630.6 L482.8,2630.8 L483.7,2630.8 L484.7,2630.8 L485.6,2630.6 L486.5,2630.4 L487.4,2630.1 L488.4,2629.7 L489.3,2629.2 L490.2,2628.6 L491.1,2628.0 L492.1,2627.2 L493.0,2626.4 L493.9,2625.5 L494.8,2624.5 L495.8,2623.5 L496.7,2622.4 L497.6,2621.2 L498.5,2620.0 L499.5,2618.6 L500.4,2617.2 L501.3,2615.8 L502.2,2614.3 L503.2,2612.7 L504.1,2611.0 L505.0,2609.3 L506.0,2607.5 L506.9,2605.7 L507.8,2603.8 L508.7,2601.8 L509.7,2599.8 L510.6,2597.7 L511.5,2595.6 L512.4,2593.4 L513.4,2591.2 L514.3,2588.9 L515.2,2586.5 L516.1,2584.1 L517.1,2581.6 L518.0,2579.1 L518.9,2576.5 L519.8,2573.9 L520.8,2571.2 L521.7,2568.4 L522.6,2565.6 L523.5,2562.7 L524.5,2559.7 L525.4,2556.7 L526.3,2553.7 L527.3,2550.5 L528.2,2547.4 L529.1,2544.1 L530.0,2540.8 L531.0,2537.5 L531.9,2534.1 L532.8,2530.6 L533.7,2527.1 L534.7,2523.6 L535.6,2520.0 L536.5,2516.3 L537.4,2512.6 L538.4,2508.8 L539.3,2505.0 L540.2,2501.2 L541.1,2497.2 L542.1,2493.3 L543.0,2489.3 L543.9,2485.2 L544.9,2481.1 L545.8,2477.0 L546.7,2472.8 L547.6,2468.6 L548.6,2464.3 L549.5,2459.9 L550.4,2455.6 L551.3,2451.1 L552.3,2446.7 L553.2,2442.2 L554.1,2437.6 L555.0,2433.0 L556.0,2428.4 L556.9,2423.7 L557.8,2418.9 L558.7,2414.2 L559.7,2409.3 L560.6,2404.5 L561.5,2399.6 L562.4,2394.6 L563.4,2389.6 L564.3,2384.6 L565.2,2379.5 L566.2,2374.3 L567.1,2369.1 L568.0,2363.9 L568.9,2358.6 L569.9,2353.3 L570.8,2347.9 L571.7,2342.5 L572.6,2337.0 L573.6,2331.5 L574.5,2326.0 L575.4,2320.4 L576.3,2314.8 L577.3,2309.1 L578.2,2303.4 L579.1,2297.6 L580.0,2291.8 L581.0,2286.0 L581.9,2280.1 L582.8,2274.2 L583.7,2268.3 L584.7,2262.3 L585.6,2256.3 L586.5,2250.2 L587.5,2244.1 L588.4,2238.0 L589.3,2231.9 L590.2,2225.7 L591.2,2219.5 L592.1,2213.3 L593.0,2207.0 L593.9,2200.7 L594.9,2194.4 L595.8,2188.1 L596.7,2181.8 L597.6,2175.4 L598.6,2169.0 L599.5,2162.6 L600.4,2156.2 L601.3,2149.8 L602.3,2143.4 L603.2,2137.0 L604.1,2130.5 L605.1,2124.1 L606.0,2117.6 L606.9,2111.2 L607.8,2104.9 L608.8,2098.6 L609.7,2092.4 L610.6,2086.2 L611.5,2080.2 L612.5,2074.3 L613.4,2068.5 L614.3,2062.8 L615.2,2057.3 L616.2,2051.9 L617.1,2046.7 L618.0,2041.7 L618.9,2036.8 L619.9,2032.1 L620.8,2027.5 L621.7,2023.1 L622.6,2018.9 L623.6,2014.8 L624.5,2011.0 L625.4,2007.2 L626.4,2003.7 L627.3,2000.2 L628.2,1996.9 L629.1,1993.7 L630.1,1990.6 L631.0,1987.7 L631.9,1984.9 L632.8,1982.2 L633.8,1979.6 L634.7,1977.1 L635.6,1974.7 L636.5,1972.5 L637.5,1970.3 L638.4,1968.3 L639.3,1966.3 L640.2,1964.4 L641.2,1962.7 L642.1,1961.0 L643.0,1959.4 L644.0,1957.9 L644.9,1956.5 L645.8,1955.2 L646.7,1954.0 L647.7,1952.8 L648.6,1951.8 L649.5,1950.8 L650.4,1949.9 L651.4,1949.0 L652.3,1948.2 L653.2,1947.5 L654.1,1946.9 L655.1,1946.3 L656.0,1945.8 L656.9,1945.4 L657.8,1945.0 L658.8,1944.7 L659.7,1944.4 L660.6,1944.2 L661.5,1944.0 L662.5,1944.0 L663.4,1943.9 L664.3,1944.0 L665.3,1944.1 L666.2,1944.2 L667.1,1944.4 L668.0,1944.7 L669.0,1945.0 L669.9,1945.3 L670.8,1945.8 L671.7,1946.2 L672.7,1946.8 L673.6,1947.3 L674.5,1948.0 L675.5,1948.7 L676.4,1949.4 L677.3,1950.2 L678.2,1951.0 L679.2,1951.9 L680.1,1952.8 L681.0,1953.8 L682.0,1954.9 L682.9,1955.9 L683.8,1957.1 L684.7,1958.2 L685.7,1959.5 L686.6,1960.7 L687.5,1962.1 L688.4,1963.4 L689.4,1964.8 L690.3,1966.3 L691.2,1967.8 L692.2,1969.4 L693.1,1971.0 L694.0,1972.6 L694.9,1974.3 L695.9,1976.0 L696.8,1977.8 L697.7,1979.6 L698.7,1981.5 L699.6,1983.4 L700.5,1985.4 L701.4,1987.4 L702.4,1989.5 L703.3,1991.5 L704.2,1993.7 L705.1,1995.9 L706.1,1998.1 L707.0,2000.3 L707.9,2002.7 L708.9,2005.0 L709.8,2007.4 L710.7,2009.8 L711.6,2012.3 L712.6,2014.8 L713.5,2017.4 L714.4,2019.9 L715.4,2022.6 L716.3,2025.2 L717.2,2028.0 L718.1,2030.7 L719.1,2033.5 L720.0,2036.3 L720.9,2039.2 L721.8,2042.1 L722.8,2045.1 L723.7,2048.1 L724.6,2051.1 L725.6,2054.2 L726.5,2057.3 L727.4,2060.4 L728.3,2063.6 L729.3,2066.8 L730.2,2070.1 L731.1,2073.4 L732.1,2076.7 L733.0,2080.1 L733.9,2083.5 L734.8,2087.0 L735.8,2090.5 L736.7,2094.0 L737.6,2097.5 L738.5,2101.1 L739.5,2104.8 L740.4,2108.4 L741.3,2112.1 L742.3,2115.9 L743.2,2119.7 L744.1,2123.5 L745.0,2127.3 L746.0,2131.2 L746.9,2135.1 L747.8,2139.1 L748.8,2143.0 L749.7,2147.1 L750.6,2151.1 L751.5,2155.2 L752.5,2159.3 L753.4,2163.5 L754.3,2167.7 L755.2,2171.9 L756.2,2176.2 L757.1,2180.4 L758.0,2184.8 L759.0,2189.1 L759.9,2193.5 L760.8,2197.9 L761.7,2202.3 L762.7,2206.8 L763.6,2211.3 L764.5,2215.9 L765.5,2220.4 L766.4,2225.0 L767.3,2229.6 L768.2,2234.3 L769.2,2239.0 L770.1,2243.7 L771.0,2248.4 L771.9,2253.2 L772.9,2258.0 L773.8,2262.8 L774.7,2267.7 L775.7,2272.6 L776.6,2277.5 L777.5,2282.4 L778.4,2287.3 L779.4,2292.3 L780.3,2297.3 L781.2,2302.3 L782.2,2307.4 L783.1,2312.5 L784.0,2317.6 L784.9,2322.7 L785.9,2327.9 L786.8,2333.0 L787.7,2338.2 L788.6,2343.5 L789.6,2348.7 L790.5,2354.0 L791.4,2359.3 L792.4,2364.6 L793.3,2369.9 L794.2,2375.3 L795.1,2380.7 L796.1,2386.0 L797.0,2391.5 L797.9,2396.9 L798.9,2402.3 L799.8,2407.8 L800.7,2413.3 L801.6,2418.8 L802.6,2424.3 L803.5,2429.8 L804.4,2435.4 L805.3,2440.9 L806.3,2446.5 L807.2,2452.1 L808.1,2457.7 L809.1,2463.3 L810.0,2468.9 L810.9,2474.5 L811.8,2480.1 L812.8,2485.8 L813.7,2491.4 L814.6,2497.1 L815.6,2502.8 L816.5,2508.5 L817.4,2514.1 L818.3,2519.7 L819.3,2525.1 L820.2,2530.5 L821.1,2535.7 L822.0,2540.8 L823.0,2545.7 L823.9,2550.5 L824.8,2555.2 L825.8,2559.8 L826.7,2564.3 L827.6,2568.6 L828.5,2572.8 L829.5,2576.9 L830.4,2580.8 L831.3,2584.6 L832.3,2588.1 L833.2,2591.6 L834.1,2594.8 L835.0,2597.9 L836.0,2600.9 L836.9,2603.6 L837.8,2606.3 L838.7,2608.8 L839.7,2611.1 L840.6,2613.3 L841.5,2615.3 L842.5,2617.1 L843.4,2618.9 L844.3,2620.5 L845.2,2622.0 L846.2,2623.4 L847.1,2624.6 L848.0,2625.8 L849.0,2626.9 L849.9,2627.9 L850.8,2628.8 L851.7,2629.7 L852.7,2630.4 L853.6,2631.1 L854.5,2631.6 L855.4,2632.1 L856.4,2632.6 L857.3,2632.9 L858.2,2633.2 L859.2,2633.4 L860.1,2633.5 L861.0,2633.6 L861.9,2633.5 L862.9,2633.4 L863.8,2633.2 L864.7,2632.9 L865.7,2632.5 L866.6,2632.1 L867.5,2631.5 L868.4,2630.9 L869.4,2630.2 L870.3,2629.5 L871.2,2628.6 L872.2,2627.7 L873.1,2626.7 L874.0,2625.7 L874.9,2624.6 L875.9,2623.4 L876.8,2622.1 L877.7,2620.8 L878.6,2619.5 L879.6,2618.0 L880.5,2616.5 L881.4,2615.0 L882.4,2613.4 L883.3,2611.7 L884.2,2610.0 L885.1,2608.2 L886.1,2606.3 L887.0,2604.4 L887.9,2602.5 L888.9,2600.4 L889.8,2598.4 L890.7,2596.3 L891.6,2594.1 L892.6,2591.9 L893.5,2589.6 L894.4,2587.3 L895.3,2584.9 L896.3,2582.5 L897.2,2580.0 L898.1,2577.4 L899.1,2574.8 L900.0,2572.2 L900.9,2569.5 L901.8,2566.7 L902.8,2563.9 L903.7,2561.0 L904.6,2558.0 L905.6,2555.0 L906.5,2552.0 L907.4,2548.9 L908.3,2545.7 L909.3,2542.5 L910.2,2539.3 L911.1,2536.0 L912.0,2532.6 L913.0,2529.2 L913.9,2525.8 L914.8,2522.3 L915.8,2518.7 L916.7,2515.1 L917.6,2511.5 L918.5,2507.8 L919.5,2504.0 L920.4,2500.3 L921.3,2496.4 L922.3,2492.6 L923.2,2488.6 L924.1,2484.7 L925.0,2480.7 L926.0,2476.6 L926.9,2472.5 L927.8,2468.4 L928.7,2464.2 L929.7,2460.0 L930.6,2455.7 L931.5,2451.4 L932.5,2447.1 L933.4,2442.7 L934.3,2438.3 L935.2,2433.8 L936.2,2429.3 L937.1,2424.7 L938.0,2420.1 L939.0,2415.5 L939.9,2410.8 L940.8,2406.1 L941.7,2401.3 L942.7,2396.5 L943.6,2391.7 L944.5,2386.8 L945.5,2381.8 L946.4,2376.9 L947.3,2371.8 L948.2,2366.8 L949.2,2361.7 L950.1,2356.5 L951.0,2351.3 L951.9,2346.1 L952.9,2340.8 L953.8,2335.5 L954.7,2330.1 L955.7,2324.7 L956.6,2319.3 L957.5,2313.8 L958.4,2308.3 L959.4,2302.7 L960.3,2297.1 L961.2,2291.5 L962.2,2285.8 L963.1,2280.1 L964.0,2274.4 L964.9,2268.6 L965.9,2262.8 L966.8,2257.0 L967.7,2251.1 L968.6,2245.2 L969.6,2239.3 L970.5,2233.3 L971.4,2227.3 L972.4,2221.3 L973.3,2215.3 L974.2,2209.2 L975.1,2203.1 L976.1,2197.0 L977.0,2190.9 L977.9,2184.7 L978.9,2178.6 L979.8,2172.4 L980.7,2166.2 L981.6,2160.0 L982.6,2153.8 L983.5,2147.6 L984.4,2141.4 L985.3,2135.1 L986.3,2128.9 L987.2,2122.6 L988.1,2116.4 L989.1,2110.2 L990.0,2104.0 L990.9,2097.9 L991.8,2092.0 L992.8,2086.0 L993.7,2080.2 L994.6,2074.5 L995.6,2068.9 L996.5,2063.5 L997.4,2058.2 L998.3,2053.0 L999.3,2048.0 L1000.2,2043.2 L1001.1,2038.5 L1002.1,2033.9 L1003.0,2029.5 L1003.9,2025.3 L1004.8,2021.3 L1005.8,2017.4 L1006.7,2013.7 L1007.6,2010.1 L1008.5,2006.7 L1009.5,2003.4 L1010.4,2000.2 L1011.3,1997.1 L1012.3,1994.1 L1013.2,1991.3 L1014.1,1988.6 L1015.0,1986.0 L1016.0,1983.5 L1016.9,1981.1 L1017.8,1978.8 L1018.8,1976.7 L1019.7,1974.6 L1020.6,1972.6 L1021.5,1970.7 L1022.5,1968.9 L1023.4,1967.2 L1024.3,1965.6 L1025.2,1964.1 L1026.2,1962.6 L1027.1,1961.3 L1028.0,1960.0 L1029.0,1958.8 L1029.9,1957.7 L1030.8,1956.7 L1031.7,1955.7 L1032.7,1954.9 L1033.6,1954.0 L1034.5,1953.3 L1035.5,1952.6 L1036.4,1952.0 L1037.3,1951.5 L1038.2,1951.0 L1039.2,1950.5 L1040.1,1950.2 L1041.0,1949.8 L1041.9,1949.6 L1042.9,1949.4 L1043.8,1949.3 L1044.7,1949.2 L1045.7,1949.1 L1046.6,1949.2 L1047.5,1949.3 L1048.4,1949.4 L1049.4,1949.6 L1050.3,1949.9 L1051.2,1950.2 L1052.1,1950.5 L1053.1,1950.9 L1054.0,1951.4 L1054.9,1951.9 L1055.8,1952.5 L1056.8,1953.1 L1057.7,1953.8 L1058.6,1954.5 L1059.5,1955.3 L1060.5,1956.1 L1061.4,1957.0 L1062.3,1957.9 L1063.2,1958.8 L1064.2,1959.8 L1065.1,1960.9 L1066.0,1962.0 L1066.9,1963.2 L1067.9,1964.4 L1068.8,1965.6 L1069.7,1966.9 L1070.6,1968.2 L1071.6,1969.6 L1072.5,1971.1 L1073.4,1972.5 L1074.3,1974.1 L1075.3,1975.6 L1076.2,1977.3 L1077.1,1978.9 L1078.0,1980.6 L1079.0,1982.4 L1079.9,1984.2 L1080.8,1986.0 L1081.7,1987.9 L1082.6,1989.8 L1083.6,1991.8 L1084.5,1993.8 L1085.4,1995.8 L1086.3,1997.9 L1087.3,2000.1 L1088.2,2002.2 L1089.1,2004.5 L1090.0,2006.7 L1091.0,2009.0 L1091.9,2011.4 L1092.8,2013.8 L1093.7,2016.2 L1094.7,2018.6 L1095.6,2021.1 L1096.5,2023.7 L1097.4,2026.3 L1098.4,2028.9 L1099.3,2031.5 L1100.2,2034.2 L1101.1,2037.0 L1102.1,2039.8 L1103.0,2042.6 L1103.9,2045.4 L1104.8,2048.3 L1105.8,2051.3 L1106.7,2054.2 L1107.6,2057.3 L1108.5,2060.3 L1109.5,2063.4 L1110.4,2066.5 L1111.3,2069.7 L1112.2,2072.9 L1113.2,2076.1 L1114.1,2079.4 L1115.0,2082.7 L1115.9,2086.1 L1116.9,2089.4 L1117.8,2092.9 L1118.7,2096.3 L1119.6,2099.8 L1120.6,2103.3 L1121.5,2106.9 L1122.4,2110.5 L1123.3,2114.1 L1124.3,2117.8 L1125.2,2121.5 L1126.1,2125.2 L1127.0,2129.0 L1128.0,2132.8 L1128.9,2136.7 L1129.8,2140.5 L1130.7,2144.5 L1131.7,2148.4 L1132.6,2152.4 L1133.5,2156.4 L1134.4,2160.4 L1135.4,2164.5 L1136.3,2168.6 L1137.2,2172.8 L1138.1,2176.9 L1139.1,2181.2 L1140.0,2185.4 L1140.9,2189.7 L1141.8,2194.0 L1142.8,2198.3 L1143.7,2202.6 L1144.6,2207.0 L1145.5,2211.5 L1146.5,2215.9 L1147.4,2220.4 L1148.3,2224.9 L1149.2,2229.5 L1150.2,2234.0 L1151.1,2238.6 L1152.0,2243.3 L1152.9,2247.9 L1153.9,2252.6 L1154.8,2257.3 L1155.7,2262.0 L1156.6,2266.8 L1157.6,2271.6 L1158.5,2276.4 L1159.4,2281.2 L1160.3,2286.1 L1161.3,2291.0 L1162.2,2295.9 L1163.1,2300.9 L1164.0,2305.8 L1165.0,2310.8 L1165.9,2315.8 L1166.8,2320.9 L1167.7,2325.9 L1168.6,2331.0 L1169.6,2336.1 L1170.5,2341.3 L1171.4,2346.4 L1172.3,2351.6 L1173.3,2356.8 L1174.2,2362.0 L1175.1,2367.3 L1176.0,2372.5 L1177.0,2377.8 L1177.9,2383.1 L1178.8,2388.4 L1179.7,2393.8 L1180.7,2399.1 L1181.6,2404.5 L1182.5,2409.9 L1183.4,2415.3 L1184.4,2420.7 L1185.3,2426.2 L1186.2,2431.6 L1187.1,2437.1 L1188.1,2442.6 L1189.0,2448.0 L1189.9,2453.6 L1190.8,2459.1 L1191.8,2464.6 L1192.7,2470.1 L1193.6,2475.7 L1194.5,2481.2 L1195.5,2486.8 L1196.4,2492.4 L1197.3,2498.0 L1198.2,2503.6 L1199.2,2509.2 L1200.1,2514.8 L1201.0,2520.3 L1201.9,2525.7 L1202.9,2531.0 L1203.8,2536.1 L1204.7,2541.1 L1205.6,2546.0 L1206.6,2550.8 L1207.5,2555.4 L1208.4,2559.9 L1209.3,2564.3 L1210.3,2568.6 L1211.2,2572.8 L1212.1,2576.8 L1213.0,2580.7 L1214.0,2584.4 L1214.9,2588.0 L1215.8,2591.4 L1216.7,2594.6 L1217.7,2597.6 L1218.6,2600.6 L1219.5,2603.3 L1220.4,2605.9 L1221.4,2608.4 L1222.3,2610.7 L1223.2,2612.8 L1224.1,2614.8 L1225.1,2616.6 L1226.0,2618.3 L1226.9,2619.9 L1227.8,2621.4 L1228.8,2622.8 L1229.7,2624.1 L1230.6,2625.2 L1231.5,2626.3 L1232.5,2627.3 L1233.4,2628.2 L1234.3,2629.0 L1235.2,2629.7 L1236.2,2630.4 L1237.1,2631.0 L1238.0,2631.5 L1238.9,2631.9 L1239.9,2632.2 L1240.8,2632.5 L1241.7,2632.7 L1242.6,2632.8 L1243.6,2632.9 L1244.5,2632.8 L1245.4,2632.7 L1246.3,2632.5 L1247.3,2632.2 L1248.2,2631.8 L1249.1,2631.4 L1250.0,2630.8 L1251.0,2630.2 L1251.9,2629.5 L1252.8,2628.8 L1253.8,2628.0 L1254.7,2627.1 L1255.6,2626.1 L1256.5,2625.1 L1257.5,2623.9 L1258.4,2622.8 L1259.3,2621.6 L1260.3,2620.3 L1261.2,2618.9 L1262.1,2617.5 L1263.0,2616.0 L1264.0,2614.5 L1264.9,2612.9 L1265.8,2611.2 L1266.8,2609.5 L1267.7,2607.7 L1268.6,2605.9 L1269.5,2604.0 L1270.5,2602.1 L1271.4,2600.1 L1272.3,2598.0 L1273.3,2595.9 L1274.2,2593.8 L1275.1,2591.6 L1276.0,2589.3 L1277.0,2587.0 L1277.9,2584.7 L1278.8,2582.3 L1279.8,2579.8 L1280.7,2577.3 L1281.6,2574.7 L1282.5,2572.1 L1283.5,2569.4 L1284.4,2566.7 L1285.3,2563.9 L1286.3,2561.0 L1287.2,2558.1 L1288.1,2555.1 L1289.0,2552.1 L1290.0,2549.1 L1290.9,2545.9 L1291.8,2542.8 L1292.7,2539.5 L1293.7,2536.3 L1294.6,2532.9 L1295.5,2529.6 L1296.5,2526.1 L1297.4,2522.7 L1298.3,2519.2 L1299.2,2515.6 L1300.2,2512.0 L1301.1,2508.3 L1302.0,2504.6 L1303.0,2500.9 L1303.9,2497.1 L1304.8,2493.3 L1305.7,2489.4 L1306.7,2485.5 L1307.6,2481.5 L1308.5,2477.5 L1309.5,2473.4 L1310.4,2469.3 L1311.3,2465.2 L1312.2,2461.0 L1313.2,2456.8 L1314.1,2452.5 L1315.0,2448.2 L1316.0,2443.9 L1316.9,2439.5 L1317.8,2435.0 L1318.7,2430.6 L1319.7,2426.0 L1320.6,2421.5 L1321.5,2416.9 L1322.5,2412.3 L1323.4,2407.6 L1324.3,2402.9 L1325.2,2398.1 L1326.2,2393.3 L1327.1,2388.5 L1328.0,2383.6 L1328.9,2378.6 L1329.9,2373.7 L1330.8,2368.6 L1331.7,2363.6 L1332.7,2358.5 L1333.6,2353.3 L1334.5,2348.1 L1335.4,2342.9 L1336.4,2337.6 L1337.3,2332.3 L1338.2,2327.0 L1339.2,2321.6 L1340.1,2316.1 L1341.0,2310.7 L1341.9,2305.2 L1342.9,2299.6 L1343.8,2294.0 L1344.7,2288.4 L1345.7,2282.8 L1346.6,2277.1 L1347.5,2271.4 L1348.4,2265.6 L1349.4,2259.8 L1350.3,2254.0 L1351.2,2248.1 L1352.2,2242.2 L1353.1,2236.3 L1354.0,2230.4 L1354.9,2224.4 L1355.9,2218.4 L1356.8,2212.4 L1357.7,2206.3 L1358.7,2200.3 L1359.6,2194.2 L1360.5,2188.1 L1361.4,2181.9 L1362.4,2175.8 L1363.3,2169.6 L1364.2,2163.5 L1365.2,2157.3 L1366.1,2151.1 L1367.0,2144.9 L1367.9,2138.6 L1368.9,2132.4 L1369.8,2126.2 L1370.7,2119.9 L1371.6,2113.7 L1372.6,2107.5 L1373.5,2101.3 L1374.4,2095.2 L1375.4,2089.2 L1376.3,2083.3 L1377.2,2077.4 L1378.1,2071.7 L1379.1,2066.0 L1380.0,2060.5 L1380.9,2055.1 L1381.9,2049.9 L1382.8,2044.8 L1383.7,2039.9 L1384.6,2035.1 L1385.6,2030.5 L1386.5,2026.0 L1387.4,2021.7 L1388.4,2017.5 L1389.3,2013.5 L1390.2,2009.7 L1391.1,2006.1 L1392.1,2002.5 L1393.0,1999.2 L1393.9,1995.9 L1394.9,1992.7 L1395.8,1989.7 L1396.7,1986.8 L1397.6,1983.9 L1398.6,1981.3 L1399.5,1978.7 L1400.4,1976.2 L1401.4,1973.9 L1402.3,1971.6 L1403.2,1969.5 L1404.1,1967.4 L1405.1,1965.5 L1406.0,1963.6 L1406.9,1961.8 L1407.9,1960.1 L1408.8,1958.5 L1409.7,1957.0 L1410.6,1955.6 L1411.6,1954.2 L1412.5,1953.0 L1413.4,1951.8 L1414.3,1950.7 L1415.3,1949.7 L1416.2,1948.7 L1417.1,1947.9 L1418.1,1947.1 L1419.0,1946.3 L1419.9,1945.6 L1420.8,1945.0 L1421.8,1944.5 L1422.7,1944.0 L1423.6,1943.6 L1424.6,1943.2 L1425.5,1942.9 L1426.4,1942.6 L1427.3,1942.4 L1428.3,1942.3 L1429.2,1942.2 L1430.1,1942.2 L1431.1,1942.2 L1432.0,1942.3 L1432.9,1942.5 L1433.8,1942.7 L1434.8,1942.9 L1435.7,1943.2 L1436.6,1943.6 L1437.5,1944.0 L1438.5,1944.5 L1439.4,1945.0 L1440.3,1945.6 L1441.2,1946.2 L1442.2,1946.9 L1443.1,1947.6 L1444.0,1948.4 L1444.9,1949.2 L1445.9,1950.1 L1446.8,1951.0 L1447.7,1952.0 L1448.6,1953.0 L1449.6,1954.1 L1450.5,1955.2 L1451.4,1956.3 L1452.4,1957.5 L1453.3,1958.8 L1454.2,1960.1 L1455.1,1961.5 L1456.1,1962.9 L1457.0,1964.3 L1457.9,1965.8 L1458.8,1967.3 L1459.8,1968.9 L1460.7,1970.5 L1461.6,1972.2 L1462.5,1973.9 L1463.5,1975.7 L1464.4,1977.5 L1465.3,1979.3 L1466.2,1981.2 L1467.2,1983.2 L1468.1,1985.2 L1469.0,1987.2 L1469.9,1989.2 L1470.9,1991.4 L1471.8,1993.5 L1472.7,1995.7 L1473.7,1997.9 L1474.6,2000.2 L1475.5,2002.5 L1476.4,2004.9 L1477.4,2007.3 L1478.3,2009.7 L1479.2,2012.2 L1480.1,2014.7 L1481.1,2017.3 L1482.0,2019.9 L1482.9,2022.6 L1483.8,2025.2 L1484.8,2028.0 L1485.7,2030.7 L1486.6,2033.5 L1487.5,2036.3 L1488.5,2039.2 L1489.4,2042.1 L1490.3,2045.1 L1491.2,2048.1 L1492.2,2051.1 L1493.1,2054.2 L1494.0,2057.3 L1494.9,2060.5 L1495.9,2063.6 L1496.8,2066.9 L1497.7,2070.1 L1498.7,2073.4 L1499.6,2076.8 L1500.5,2080.1 L1501.4,2083.5 L1502.4,2087.0 L1503.3,2090.5 L1504.2,2094.0 L1505.1,2097.5 L1506.1,2101.1 L1507.0,2104.7 L1507.9,2108.4 L1508.8,2112.1 L1509.8,2115.8 L1510.7,2119.6 L1511.6,2123.4 L1512.5,2127.2 L1513.5,2131.1 L1514.4,2135.0 L1515.3,2138.9 L1516.2,2142.9 L1517.2,2146.9 L1518.1,2150.9 L1519.0,2155.0 L1520.0,2159.1 L1520.9,2163.3 L1521.8,2167.4 L1522.7,2171.6 L1523.7,2175.9 L1524.6,2180.1 L1525.5,2184.4 L1526.4,2188.8 L1527.4,2193.1 L1528.3,2197.5 L1529.2,2201.9 L1530.1,2206.4 L1531.1,2210.9 L1532.0,2215.4 L1532.9,2219.9 L1533.8,2224.5 L1534.8,2229.1 L1535.7,2233.7 L1536.6,2238.4 L1537.5,2243.1 L1538.5,2247.8 L1539.4,2252.5 L1540.3,2257.3 L1541.3,2262.1 L1542.2,2266.9 L1543.1,2271.7 L1544.0,2276.6 L1545.0,2281.5 L1545.9,2286.4 L1546.8,2291.4 L1547.7,2296.3 L1548.7,2301.3 L1549.6,2306.4 L1550.5,2311.4 L1551.4,2316.5 L1552.4,2321.6 L1553.3,2326.7 L1554.2,2331.8 L1555.1,2337.0 L1556.1,2342.2 L1557.0,2347.4 L1557.9,2352.6 L1558.8,2357.9 L1559.8,2363.2 L1560.7,2368.5 L1561.6,2373.8 L1562.5,2379.1 L1563.5,2384.5 L1564.4,2389.8 L1565.3,2395.2 L1566.3,2400.6 L1567.2,2406.1 L1568.1,2411.5 L1569.0,2417.0 L1570.0,2422.4 L1570.9,2427.9 L1571.8,2433.4 L1572.7,2438.9 L1573.7,2444.4 L1574.6,2450.0 L1575.5,2455.5 L1576.4,2461.1 L1577.4,2466.7 L1578.3,2472.2 L1579.2,2477.8 L1580.1,2483.4 L1581.1,2489.0 L1582.0,2494.7 L1582.9,2500.3 L1583.8,2505.9 L1584.8,2511.5 L1585.7,2517.0 L1586.6,2522.4 L1587.6,2527.7 L1588.5,2532.9 L1589.4,2537.9 L1590.3,2542.8 L1591.3,2547.5 L1592.2,2552.2 L1593.1,2556.7 L1594.0,2561.1 L1595.0,2565.4 L1595.9,2569.6 L1596.8,2573.6 L1597.7,2577.4 L1598.7,2581.1 L1599.6,2584.7 L1600.5,2588.0 L1601.4,2591.2 L1602.4,2594.3 L1603.3,2597.2 L1604.2,2599.9 L1605.1,2602.5 L1606.1,2605.0 L1607.0,2607.3 L1607.9,2609.4 L1608.8,2611.4 L1609.8,2613.2 L1610.7,2614.9 L1611.6,2616.5 L1612.6,2618.0 L1613.5,2619.3 L1614.4,2620.6 L1615.3,2621.8 L1616.3,2622.8 L1617.2,2623.8 L1618.1,2624.7 L1619.0,2625.5 L1620.0,2626.3 L1620.9,2626.9 L1621.8,2627.5 L1622.7,2628.0 L1623.7,2628.4 L1624.6,2628.8 L1625.5,2629.0 L1626.4,2629.2 L1627.4,2629.4 L1628.3,2629.4 L1629.2,2629.4 L1630.2,2629.2 L1631.1,2629.0 L1632.0,2628.7 L1632.9,2628.3 L1633.9,2627.9 L1634.8,2627.3 L1635.7,2626.7 L1636.6,2626.0 L1637.6,2625.2 L1638.5,2624.4 L1639.4,2623.5 L1640.4,2622.5 L1641.3,2621.4 L1642.2,2620.3 L1643.1,2619.1 L1644.1,2617.9 L1645.0,2616.6 L1645.9,2615.2 L1646.8,2613.8 L1647.8,2612.3 L1648.7,2610.7 L1649.6,2609.1 L1650.6,2607.4 L1651.5,2605.7 L1652.4,2603.9 L1653.3,2602.0 L1654.3,2600.1 L1655.2,2598.1 L1656.1,2596.1 L1657.0,2594.0 L1658.0,2591.9 L1658.9,2589.7 L1659.8,2587.5 L1660.8,2585.2 L1661.7,2582.9 L1662.6,2580.5 L1663.5,2578.0 L1664.5,2575.5 L1665.4,2573.0 L1666.3,2570.4 L1667.2,2567.7 L1668.2,2565.0 L1669.1,2562.2 L1670.0,2559.4 L1671.0,2556.5 L1671.9,2553.6 L1672.8,2550.5 L1673.7,2547.5 L1674.7,2544.4 L1675.6,2541.2 L1676.5,2538.0 L1677.4,2534.7 L1678.4,2531.4 L1679.3,2528.0 L1680.2,2524.6 L1681.2,2521.1 L1682.1,2517.6 L1683.0,2514.0 L1683.9,2510.4 L1684.9,2506.8 L1685.8,2503.1 L1686.7,2499.3 L1687.6,2495.5 L1688.6,2491.7 L1689.5,2487.8 L1690.4,2483.8 L1691.4,2479.9 L1692.3,2475.8 L1693.2,2471.8 L1694.1,2467.6 L1695.1,2463.5 L1696.0,2459.3 L1696.9,2455.0 L1697.8,2450.8 L1698.8,2446.4 L1699.7,2442.1 L1700.6,2437.6 L1701.6,2433.2 L1702.5,2428.7 L1703.4,2424.1 L1704.3,2419.6 L1705.3,2414.9 L1706.2,2410.3 L1707.1,2405.6 L1708.0,2400.8 L1709.0,2396.0 L1709.9,2391.2 L1710.8,2386.3 L1711.8,2381.4 L1712.7,2376.5 L1713.6,2371.4 L1714.5,2366.4 L1715.5,2361.3 L1716.4,2356.2 L1717.3,2351.0 L1718.2,2345.8 L1719.2,2340.5 L1720.1,2335.2 L1721.0,2329.9 L1722.0,2324.5 L1722.9,2319.0 L1723.8,2313.6 L1724.7,2308.0 L1725.7,2302.5 L1726.6,2296.9 L1727.5,2291.3 L1728.5,2285.6 L1729.4,2279.9 L1730.3,2274.2 L1731.2,2268.4 L1732.2,2262.6 L1733.1,2256.7 L1734.0,2250.8 L1734.9,2244.9 L1735.9,2239.0 L1736.8,2233.0 L1737.7,2227.0 L1738.7,2220.9 L1739.6,2214.9 L1740.5,2208.8 L1741.4,2202.6 L1742.4,2196.5 L1743.3,2190.3 L1744.2,2184.1 L1745.1,2177.9 L1746.1,2171.6 L1747.0,2165.4 L1747.9,2159.1 L1748.9,2152.8 L1749.8,2146.5 L1750.7,2140.2 L1751.6,2133.9 L1752.6,2127.5 L1753.5,2121.2 L1754.4,2114.8 L1755.3,2108.4 L1756.3,2102.0 L1757.2,2095.6 L1758.1,2089.3 L1759.1,2083.1 L1760.0,2076.9 L1760.9,2070.9 L1761.8,2065.0 L1762.8,2059.2 L1763.7,2053.6 L1764.6,2048.1 L1765.5,2042.8 L1766.5,2037.7 L1767.4,2032.7 L1768.3,2028.0 L1769.3,2023.5 L1770.2,2019.1 L1771.1,2015.0 L1772.0,2011.0 L1773.0,2007.2 L1773.9,2003.6 L1774.8,2000.1 L1775.7,1996.7 L1776.7,1993.5 L1777.6,1990.4 L1778.5,1987.5 L1779.5,1984.7 L1780.4,1982.0 L1781.3,1979.4 L1782.2,1977.0 L1783.2,1974.6 L1784.1,1972.4 L1785.0,1970.2 L1785.9,1968.2 L1786.9,1966.3 L1787.8,1964.4 L1788.7,1962.7 L1789.7,1961.0 L1790.6,1959.5 L1791.5,1958.0 L1792.4,1956.6 L1793.4,1955.3 L1794.3,1954.0 L1795.2,1952.9 L1796.1,1951.8 L1797.1,1950.8 L1798.0,1949.8 L1798.9,1948.9 L1799.9,1948.1 L1800.8,1947.3 L1801.7,1946.6 L1802.6,1946.0 L1803.6,1945.4 L1804.5,1944.8 L1805.4,1944.3 L1806.3,1943.9 L1807.3,1943.5 L1808.2,1943.1 L1809.1,1942.9 L1810.1,1942.6 L1811.0,1942.4 L1811.9,1942.3 L1812.8,1942.2 L1813.8,1942.2 L1813.8,1942.2 L1813.9,1942.2 L1814.0,1942.2 L1814.0,1942.2 L1814.1,1942.2 L1814.2,1942.2 L1814.3,1942.2 L1814.3,1942.2 L1814.4,1942.2 L1814.5,1942.2 L1814.5,1942.2 L1814.6,1942.2 L1814.7,1942.2 L1814.7,1942.2 L1814.8,1942.2 L1814.9,1942.2 L1814.9,1942.2 L1815.0,1942.2 L1815.1,1942.2 L1815.1,1942.2 L1815.2,1942.3 L1815.3,1942.3 L1815.4,1942.3 L1815.4,1942.3 L1815.5,1942.3 L1815.6,1942.3 L1815.6,1942.3 L1815.7,1942.3 L1815.8,1942.3 L1815.8,1942.3 L1815.9,1942.3 L1816.0,1942.3 L1816.0,1942.3 L1816.1,1942.3 L1816.2,1942.4 L1816.3,1942.4 L1816.3,1942.4 L1816.4,1942.4 L1816.5,1942.4 L1816.5,1942.4 L1816.6,1942.4 L1816.7,1942.4 L1816.7,1942.4 L1816.8,1942.5 L1816.9,1942.5 L1816.9,1942.5 L1817.0,1942.5 L1817.1,1942.5 L1817.1,1942.5 L1817.2,1942.5 L1817.3,1942.5 L1817.4,1942.6 L1817.4,1942.6 L1817.5,1942.6 L1817.6,1942.6 L1817.6,1942.6 L1817.7,1942.6 L1817.8,1942.6 L1817.8,1942.7 L1817.9,1942.7 L1818.0,1942.7 L1818.0,1942.7 L1818.1,1942.7 L1818.2,1942.7 L1818.3,1942.8 L1818.3,1942.8 L1818.4,1942.8 L1818.5,1942.8 L1818.5,1942.8 L1818.6,1942.8 L1818.7,1942.9 L1818.7,1942.9 L1818.8,1942.9 L1818.9,1942.9 L1818.9,1942.9 L1819.0,1943.0 L1819.1,1943.0 L1819.1,1943.0 L1819.2,1943.0 L1819.3,1943.0 L1819.4,1943.1 L1819.4,1943.1 L1819.5,1943.1 L1819.6,1943.1 L1819.6,1943.2 L1819.7,1943.2 L1819.8,1943.2 L1819.8,1943.2 L1819.9,1943.2 L1820.0,1943.3 L1820.0,1943.3 L1820.1,1943.3 L1820.2,1943.3 L1820.3,1943.4 L1820.3,1943.4 L1820.4,1943.4 L1820.5,1943.4 L1820.5,1943.5 L1820.6,1943.5 L1820.7,1943.5 L1820.7,1943.5 L1820.8,1943.6 L1820.9,1943.6 L1820.9,1943.6 L1821.0,1943.7 L1821.1,1943.7 L1821.2,1943.7 L1821.2,1943.7 L1821.3,1943.8 L1821.4,1943.8 L1821.4,1943.8 L1821.5,1943.9 L1821.6,1943.9 L1821.6,1943.9 L1821.7,1943.9 L1821.8,1944.0 L1821.8,1944.0 L1821.9,1944.0 L1822.0,1944.1 L1822.0,1944.1 L1822.1,1944.1 L1822.2,1944.2 L1822.3,1944.2 L1822.3,1944.2 L1822.4,1944.3 L1822.5,1944.3 L1822.5,1944.3 L1822.6,1944.4 L1822.7,1944.4 L1822.7,1944.4 L1822.8,1944.5 L1822.9,1944.5 L1822.9,1944.5 L1823.0,1944.6 L1823.1,1944.6 L1823.2,1944.6 L1823.2,1944.7 L1823.3,1944.7 L1823.4,1944.8 L1823.4,1944.8 L1823.5,1944.8 L1823.6,1944.9 L1823.6,1944.9 L1823.7,1944.9 L1823.8,1945.0 L1823.8,1945.0 L1823.9,1945.1 L1824.0,1945.1 L1824.0,1945.1 L1824.1,1945.2 L1824.2,1945.2 L1824.3,1945.3 L1824.3,1945.3 L1824.4,1945.3 L1824.5,1945.4 L1824.5,1945.4 L1824.6,1945.5 L1824.7,1945.5 L1824.7,1945.5 L1824.8,1945.6 L1824.9,1945.6 L1824.9,1945.7 L1825.0,1945.7 L1825.1,1945.7 L1825.2,1945.8 L1825.2,1945.8 L1825.3,1945.9 L1825.4,1945.9 L1825.4,1946.0 L1825.5,1946.0 L1825.6,1946.1 L1825.6,1946.1 L1825.7,1946.1 L1825.8,1946.2 L1825.8,1946.2 L1825.9,1946.3 L1826.0,1946.3 L1826.0,1946.4 L1826.1,1946.4 L1826.2,1946.5 L1826.3,1946.5 L1826.3,1946.6 L1826.4,1946.6 L1826.5,1946.7 L1826.5,1946.7 L1826.6,1946.8 L1826.7,1946.8 L1826.7,1946.9 L1826.8,1946.9 L1826.9,1947.0 L1826.9,1947.0 L1827.0,1947.1 L1827.1,1947.1 L1827.2,1947.2 L1827.2,1947.2 L1827.3,1947.3 L1827.4,1947.3 L1827.4,1947.4 L1827.5,1947.4 L1827.6,1947.5 L1827.6,1947.5 L1827.7,1947.6 L1827.8,1947.6 L1827.8,1947.7 L1827.9,1947.7 L1828.0,1947.8 L1828.1,1947.8 L1828.1,1947.9 L1828.2,1947.9 L1828.3,1948.0 L1828.3,1948.1 L1828.4,1948.1 L1828.5,1948.2 L1828.5,1948.2 L1828.6,1948.3 L1828.7,1948.3 L1828.7,1948.4 L1828.8,1948.4 L1828.9,1948.5 L1828.9,1948.6 L1829.0,1948.6 L1829.1,1948.7 L1829.2,1948.7 L1829.2,1948.8 L1829.3,1948.8 L1829.4,1948.9 L1829.4,1949.0 L1829.5,1949.0 L1829.6,1949.1 L1829.6,1949.1 L1829.7,1949.2 L1829.8,1949.3 L1829.8,1949.3 L1829.9,1949.4 L1830.0,1949.4 L1830.1,1949.5 L1830.1,1949.6 L1830.2,1949.6 L1830.3,1949.7 L1830.3,1949.8 L1830.4,1949.8 L1830.5,1949.9 L1830.5,1949.9 L1830.6,1950.0 L1830.7,1950.1 L1830.7,1950.1 L1830.8,1950.2 L1830.9,1950.3 L1830.9,1950.3 L1831.0,1950.4 L1831.1,1950.5 L1831.2,1950.5 L1831.2,1950.6 L1831.3,1950.6 L1831.4,1950.7 L1831.4,1950.8 L1831.5,1950.8 L1831.6,1950.9 L1831.6,1951.0 L1831.7,1951.0 L1831.8,1951.1 L1831.8,1951.2 L1831.9,1951.3 L1832.0,1951.3 L1832.1,1951.4 L1832.1,1951.5 L1832.2,1951.5 L1832.3,1951.6 L1832.3,1951.7 L1832.4,1951.7 L1832.5,1951.8 L1832.5,1951.9 L1832.6,1951.9 L1832.7,1952.0 L1832.7,1952.1 L1832.8,1952.2 L1832.9,1952.2 L1832.9,1952.3 L1833.0,1952.4 L1833.1,1952.4 L1833.2,1952.5 L1833.2,1952.6 L1833.3,1952.7 L1833.4,1952.7 L1833.4,1952.8 L1833.5,1952.9 L1833.6,1953.0 L1833.6,1953.0 L1833.7,1953.1 L1833.8,1953.2 L1833.8,1953.3 L1833.9,1953.3 L1834.0,1953.4 L1834.1,1953.5 L1834.1,1953.6 L1834.2,1953.6 L1834.3,1953.7 L1834.3,1953.8 L1834.4,1953.9 L1834.5,1953.9 L1834.5,1954.0 L1834.6,1954.1 L1834.7,1954.2 L1834.7,1954.3 L1834.8,1954.3 L1834.9,1954.4 L1835.0,1954.5 L1835.0,1954.6 L1835.1,1954.6 L1835.2,1954.7 L1835.2,1954.8 L1835.3,1954.9 L1835.4,1955.0 L1835.4,1955.0 L1835.5,1955.1 L1835.6,1955.2 L1835.6,1955.3 L1835.7,1955.4 L1835.8,1955.5 L1835.8,1955.5 L1835.9,1955.6 L1836.0,1955.7 L1836.1,1955.8 L1836.1,1955.9 L1836.2,1955.9 L1836.3,1956.0 L1836.3,1956.1 L1836.4,1956.2 L1836.5,1956.3 L1836.5,1956.4 L1836.6,1956.4 L1836.7,1956.5 L1836.7,1956.6 L1836.8,1956.7 L1836.9,1956.8 L1837.0,1956.9 L1837.0,1957.0 L1837.1,1957.0 L1837.2,1957.1 L1837.2,1957.2 L1837.3,1957.3 L1837.4,1957.4 L1837.4,1957.5 L1837.5,1957.6 L1837.6,1957.7 L1837.6,1957.7 L1837.7,1957.8 L1837.8,1957.9 L1837.8,1958.0 L1837.9,1958.1 L1838.0,1958.2 L1838.1,1958.3 L1838.1,1958.4 L1838.2,1958.4 L1838.3,1958.5 L1838.3,1958.6 L1838.4,1958.7 L1838.5,1958.8 L1838.5,1958.9 L1838.6,1959.0 L1838.7,1959.1 L1838.7,1959.2 L1838.8,1959.3 L1838.9,1959.4 L1839.0,1959.4 L1839.0,1959.5 L1839.1,1959.6 L1839.2,1959.7 L1839.2,1959.8 L1839.3,1959.9 L1839.4,1960.0 L1839.4,1960.1 L1839.5,1960.2 L1839.6,1960.3 L1839.6,1960.4 L1839.7,1960.5 L1839.8,1960.6 L1839.8,1960.7 L1839.9,1960.7 L1840.0,1960.8 L1840.1,1960.9 L1840.1,1961.0 L1840.2,1961.1 L1840.3,1961.2 L1840.3,1961.3 L1840.4,1961.4 L1840.5,1961.5 L1840.5,1961.6 L1840.6,1961.7 L1840.7,1961.8 L1840.7,1961.9 L1840.8,1962.0 L1840.9,1962.1 L1841.0,1962.2 L1841.0,1962.3 L1841.1,1962.4 L1841.2,1962.5 L1841.2,1962.6 L1841.3,1962.7 L1841.4,1962.8 L1841.4,1962.9 L1841.5,1963.0 L1841.6,1963.1 L1841.6,1963.2 L1841.7,1963.3 L1841.8,1963.4 L1841.9,1963.5 L1841.9,1963.6 L1842.0,1963.7 L1842.1,1963.8 L1842.1,1963.9 L1842.2,1964.0 L1842.3,1964.1 L1842.3,1964.2 L1842.4,1964.3 L1842.5,1964.4 L1842.5,1964.5 L1842.6,1964.6 L1842.7,1964.7 L1842.7,1964.8 L1842.8,1964.9 L1842.9,1965.0 L1843.0,1965.1 L1843.0,1965.2 L1843.1,1965.3 L1843.2,1965.4 L1843.2,1965.5 L1843.3,1965.6 L1843.4,1965.7 L1843.4,1965.8 L1843.5,1965.9 L1843.6,1966.0 L1843.6,1966.1 L1843.7,1966.2 L1843.8,1966.3 L1843.9,1966.4 L1843.9,1966.5 L1844.0,1966.7 L1844.1,1966.8 L1844.1,1966.9 L1844.2,1967.0 L1844.3,1967.1 L1844.3,1967.2 L1844.4,1967.3 L1844.5,1967.4 L1844.5,1967.5 L1844.6,1967.6 L1844.7,1967.7 L1844.7,1967.8 L1844.8,1967.9 L1844.9,1968.0 L1845.0,1968.1 L1845.0,1968.3 L1845.1,1968.4 L1845.2,1968.5 L1845.2,1968.6 L1845.3,1968.7 L1845.4,1968.8 L1845.4,1968.9 L1845.5,1969.0 L1845.6,1969.1 L1845.6,1969.2 L1845.7,1969.3 L1845.8,1969.5 L1845.9,1969.6 L1845.9,1969.7 L1846.0,1969.8 L1846.1,1969.9 L1846.1,1970.0 L1846.2,1970.1 L1846.3,1970.2 L1846.3,1970.3 L1846.4,1970.5 L1846.5,1970.6 L1846.5,1970.7 L1846.6,1970.8 L1846.7,1970.9 L1846.7,1971.0 L1846.8,1971.1 L1846.9,1971.2 L1847.0,1971.3 L1847.0,1971.5 L1847.1,1971.6 L1847.2,1971.7 L1847.2,1971.8 L1847.3,1971.9 L1847.4,1972.0 L1847.4,1972.1 L1847.5,1972.3 L1847.6,1972.4 L1847.6,1972.5 L1847.7,1972.6 L1847.8,1972.7 L1847.9,1972.8 L1847.9,1972.9 L1848.0,1973.1 L1848.1,1973.2 L1848.1,1973.3 L1848.2,1973.4 L1848.3,1973.5 L1848.3,1973.6 L1848.4,1973.8 L1848.5,1973.9 L1848.5,1974.0 L1848.6,1974.1 L1848.7,1974.2 L1848.8,1974.3 L1848.8,1974.5 L1848.9,1974.6 L1849.0,1974.7 L1849.0,1974.8 L1849.1,1974.9 L1849.2,1975.0 L1849.2,1975.2 L1849.3,1975.3 L1849.4,1975.4 L1849.4,1975.5 L1849.5,1975.6 L1849.6,1975.8 L1849.6,1975.9 L1849.7,1976.0 L1849.8,1976.1 L1849.9,1976.2 L1849.9,1976.4 L1850.0,1976.5 L1850.1,1976.6 L1850.1,1976.7 L1850.2,1976.8 L1850.3,1977.0 L1850.3,1977.1 L1850.4,1977.2 L1850.5,1977.3 L1850.5,1977.4 L1850.6,1977.6 L1850.7,1977.7 L1850.8,1977.8 L1850.8,1977.9 L1850.9,1978.1 L1851.0,1978.2 L1851.0,1978.3 L1851.1,1978.4 L1851.2,1978.5 L1851.2,1978.7 L1851.3,1978.8 L1851.4,1978.9 L1851.4,1979.0 L1851.5,1979.2 L1851.6,1979.3 L1851.6,1979.4 L1851.7,1979.5 L1851.8,1979.7 L1851.9,1979.8 L1851.9,1979.9 L1852.0,1980.0 L1852.1,1980.2 L1852.1,1980.3 L1852.2,1980.4 L1852.3,1980.5 L1852.3,1980.7 L1852.4,1980.8 L1852.5,1980.9 L1852.5,1981.0 L1852.6,1981.2 L1852.7,1981.3 L1852.8,1981.4 L1852.8,1981.5 L1852.9,1981.7 L1853.0,1981.8 L1853.0,1981.9 L1853.1,1982.0 L1853.2,1982.2 L1853.2,1982.3 L1853.3,1982.4 L1853.4,1982.6 L1853.4,1982.7 L1853.5,1982.8 L1853.6,1982.9 L1853.6,1983.1 L1853.7,1983.2 L1853.8,1983.3 L1853.9,1983.5 L1853.9,1983.6 L1854.0,1983.7 L1854.1,1983.8 L1854.1,1984.0 L1854.2,1984.1 L1854.3,1984.2 L1854.3,1984.4 L1854.4,1984.5 L1854.5,1984.6 L1854.5,1984.8 L1854.6,1984.9 L1854.7,1985.0 L1854.8,1985.1 L1854.8,1985.3 L1854.9,1985.4 L1855.0,1985.5 L1855.0,1985.7 L1855.1,1985.8 L1855.2,1985.9 L1855.2,1986.1 L1855.3,1986.2 L1855.4,1986.3 L1855.4,1986.5 L1855.5,1986.6 L1855.6,1986.7 L1855.7,1986.9 L1855.7,1987.0 L1855.8,1987.1 L1855.9,1987.3 L1855.9,1987.4 L1856.0,1987.5 L1856.1,1987.7 L1856.1,1987.8 L1856.2,1987.9 L1856.3,1988.1 L1856.3,1988.2 L1856.4,1988.3 L1856.5,1988.5 L1856.5,1988.6 L1856.6,1988.7 L1856.7,1988.9 L1856.8,1989.0 L1856.8,1989.1 L1856.9,1989.3 L1857.0,1989.4 L1857.0,1989.6 L1857.1,1989.7 L1857.2,1989.8 L1857.2,1990.0 L1857.3,1990.1 L1857.4,1990.2 L1857.4,1990.4 L1857.5,1990.5 L1857.6,1990.6 L1857.7,1990.8 L1857.7,1990.9 L1857.8,1991.1 L1857.9,1991.2 L1857.9,1991.3 L1858.0,1991.5 L1858.1,1991.6 L1858.1,1991.8 L1858.2,1991.9 L1858.3,1992.0 L1858.3,1992.2 L1858.4,1992.3 L1858.5,1992.4 L1858.5,1992.6 L1858.6,1992.7 L1858.7,1992.9 L1858.8,1993.0 L1858.8,1993.1 L1858.9,1993.3 L1859.0,1993.4 L1859.0,1993.6 L1859.1,1993.7 L1859.2,1993.8 L1859.2,1994.0 L1859.3,1994.1 L1859.4,1994.3 L1859.4,1994.4 L1859.5,1994.5 L1859.6,1994.7 L1859.7,1994.8 L1859.7,1995.0 L1859.8,1995.1 L1859.9,1995.3 L1859.9,1995.4 L1860.0,1995.5 L1860.1,1995.7 L1860.1,1995.8 L1860.2,1996.0 L1860.3,1996.1 L1860.3,1996.3 L1860.4,1996.4 L1860.5,1996.5 L1860.5,1996.7 L1860.6,1996.8 L1860.7,1997.0 L1860.8,1997.1 L1860.8,1997.3 L1860.9,1997.4 L1861.0,1997.5 L1861.0,1997.7 L1861.1,1997.8 L1861.2,1998.0 L1861.2,1998.1 L1861.3,1998.3 L1861.4,1998.4 L1861.4,1998.6 L1861.5,1998.7 L1861.6,1998.9 L1861.7,1999.0 L1861.7,1999.1 L1861.8,1999.3 L1861.9,1999.4 L1861.9,1999.6 L1862.0,1999.7 L1862.1,1999.9 L1862.1,2000.0 L1862.2,2000.2 L1862.3,2000.3 L1862.3,2000.5 L1862.4,2000.6 L1862.5,2000.8 L1862.6,2000.9 L1862.6,2001.1 L1862.7,2001.2 L1862.8,2001.3 L1862.8,2001.5 L1862.9,2001.6 L1863.0,2001.8 L1863.0,2001.9 L1863.1,2002.1 L1863.2,2002.2 L1863.2,2002.4 L1863.3,2002.5 L1863.4,2002.7 L1863.4,2002.8 L1863.5,2003.0 L1863.6,2003.1 L1863.7,2003.3 L1863.7,2003.4 L1863.8,2003.6 L1863.9,2003.7 L1863.9,2003.9 L1864.0,2004.0 L1864.0,2004.0" fill="none" stroke="#000000" stroke-width="8" stroke-linejoin="round" shape-rendering="crispEdges" clip-path="url(#cb)"/>
<path d="M208.0,2311.9 L208.9,2311.8 L209.9,2311.7 L210.8,2311.6 L211.7,2311.3 L212.6,2311.0 L213.6,2310.7 L214.5,2310.2 L215.4,2309.7 L216.4,2309.2 L217.3,2308.5 L218.2,2307.8 L219.1,2307.0 L220.1,2306.1 L221.0,2305.1 L221.9,2304.1 L222.9,2302.9 L223.8,2301.6 L224.7,2300.3 L225.6,2298.9 L226.6,2297.3 L227.5,2295.7 L228.4,2294.0 L229.4,2292.3 L230.3,2290.4 L231.2,2288.5 L232.1,2286.6 L233.1,2284.6 L234.0,2282.5 L234.9,2280.3 L235.9,2278.1 L236.8,2275.9 L237.7,2273.6 L238.7,2271.2 L239.6,2268.8 L240.5,2266.3 L241.4,2263.7 L242.4,2261.2 L243.3,2258.5 L244.2,2255.8 L245.2,2253.0 L246.1,2250.2 L247.0,2247.4 L247.9,2244.4 L248.9,2241.5 L249.8,2238.4 L250.7,2235.4 L251.7,2232.2 L252.6,2229.1 L253.5,2225.8 L254.4,2222.6 L255.4,2219.3 L256.3,2215.9 L257.2,2212.5 L258.2,2209.1 L259.1,2205.6 L260.0,2202.1 L260.9,2198.5 L261.9,2194.9 L262.8,2191.3 L263.7,2187.6 L264.7,2183.9 L265.6,2180.2 L266.5,2176.4 L267.4,2172.7 L268.4,2168.9 L269.3,2165.0 L270.2,2161.2 L271.2,2157.3 L272.1,2153.4 L273.0,2149.6 L273.9,2145.9 L274.9,2142.2 L275.8,2138.5 L276.7,2135.0 L277.7,2131.5 L278.6,2128.1 L279.5,2124.8 L280.4,2121.7 L281.4,2118.6 L282.3,2115.8 L283.2,2113.0 L284.2,2110.4 L285.1,2107.9 L286.0,2105.6 L286.9,2103.4 L287.9,2101.3 L288.8,2099.4 L289.7,2097.5 L290.7,2095.8 L291.6,2094.2 L292.5,2092.6 L293.4,2091.2 L294.4,2089.8 L295.3,2088.5 L296.2,2087.2 L297.2,2086.1 L298.1,2084.9 L299.0,2083.9 L300.0,2082.9 L300.9,2082.0 L301.8,2081.2 L302.7,2080.4 L303.7,2079.7 L304.6,2079.0 L305.5,2078.4 L306.5,2077.9 L307.4,2077.4 L308.3,2077.0 L309.2,2076.6 L310.2,2076.3 L311.1,2076.1 L312.0,2075.9 L313.0,2075.7 L313.9,2075.6 L314.8,2075.6 L315.7,2075.6 L316.7,2075.7 L317.6,2075.9 L318.5,2076.2 L319.4,2076.5 L320.4,2076.9 L321.3,2077.4 L322.2,2077.9 L323.2,2078.4 L324.1,2079.1 L325.0,2079.8 L325.9,2080.5 L326.9,2081.3 L327.8,2082.2 L328.7,2083.1 L329.7,2084.0 L330.6,2085.0 L331.5,2086.1 L332.4,2087.2 L333.4,2088.3 L334.3,2089.5 L335.2,2090.8 L336.1,2092.1 L337.1,2093.4 L338.0,2094.8 L338.9,2096.2 L339.9,2097.7 L340.8,2099.2 L341.7,2100.8 L342.6,2102.4 L343.6,2104.1 L344.5,2105.8 L345.4,2107.5 L346.3,2109.3 L347.3,2111.2 L348.2,2113.1 L349.1,2115.0 L350.1,2116.9 L351.0,2119.0 L351.9,2121.0 L352.8,2123.1 L353.8,2125.2 L354.7,2127.4 L355.6,2129.6 L356.5,2131.9 L357.5,2134.1 L358.4,2136.5 L359.3,2138.8 L360.3,2141.2 L361.2,2143.7 L362.1,2146.2 L363.0,2148.7 L364.0,2151.3 L364.9,2153.9 L365.8,2156.5 L366.7,2159.2 L367.7,2161.9 L368.6,2164.6 L369.5,2167.4 L370.5,2170.2 L371.4,2173.1 L372.3,2176.0 L373.2,2178.9 L374.2,2181.9 L375.1,2184.9 L376.0,2187.9 L376.9,2191.0 L377.9,2194.1 L378.8,2197.3 L379.7,2200.5 L380.7,2203.7 L381.6,2206.9 L382.5,2210.2 L383.4,2213.5 L384.4,2216.9 L385.3,2220.3 L386.2,2223.7 L387.2,2227.1 L388.1,2230.6 L389.0,2234.1 L389.9,2237.7 L390.9,2241.2 L391.8,2244.8 L392.7,2248.5 L393.6,2252.1 L394.6,2255.8 L395.5,2259.6 L396.4,2263.3 L397.4,2267.1 L398.3,2270.9 L399.2,2274.7 L400.1,2278.6 L401.1,2282.5 L402.0,2286.4 L402.9,2290.3 L403.8,2294.3 L404.8,2298.3 L405.7,2302.3 L406.6,2306.4 L407.6,2310.4 L408.5,2314.5 L409.4,2318.6 L410.3,2322.8 L411.3,2326.9 L412.2,2331.1 L413.1,2335.3 L414.0,2339.6 L415.0,2343.8 L415.9,2348.1 L416.8,2352.4 L417.8,2356.7 L418.7,2361.0 L419.6,2365.4 L420.5,2369.8 L421.5,2374.1 L422.4,2378.6 L423.3,2383.0 L424.2,2387.4 L425.2,2391.9 L426.1,2396.4 L427.0,2400.8 L428.0,2405.3 L428.9,2409.9 L429.8,2414.4 L430.7,2419.0 L431.7,2423.5 L432.6,2428.1 L433.5,2432.7 L434.4,2437.3 L435.4,2441.9 L436.3,2446.6 L437.2,2451.2 L438.2,2455.9 L439.1,2460.5 L440.0,2465.2 L440.9,2469.9 L441.9,2474.6 L442.8,2479.3 L443.7,2484.1 L444.7,2488.8 L445.6,2493.5 L446.5,2498.2 L447.4,2502.8 L448.4,2507.2 L449.3,2511.6 L450.2,2515.8 L451.1,2519.9 L452.1,2523.9 L453.0,2527.8 L453.9,2531.6 L454.9,2535.3 L455.8,2538.9 L456.7,2542.4 L457.6,2545.7 L458.6,2548.9 L459.5,2552.0 L460.4,2554.9 L461.3,2557.7 L462.3,2560.3 L463.2,2562.8 L464.1,2565.2 L465.1,2567.4 L466.0,2569.5 L466.9,2571.4 L467.8,2573.2 L468.8,2574.9 L469.7,2576.5 L470.6,2577.9 L471.5,2579.2 L472.5,2580.5 L473.4,2581.6 L474.3,2582.7 L475.3,2583.6 L476.2,2584.5 L477.1,2585.3 L478.0,2586.0 L479.0,2586.7 L479.9,2587.3 L480.8,2587.8 L481.7,2588.2 L482.7,2588.6 L483.6,2588.9 L484.5,2589.1 L485.5,2589.3 L486.4,2589.4 L487.3,2589.5 L488.2,2589.4 L489.2,2589.3 L490.1,2589.0 L491.0,2588.7 L492.0,2588.3 L492.9,2587.8 L493.8,2587.2 L494.7,2586.5 L495.7,2585.7 L496.6,2584.8 L497.5,2583.9 L498.5,2582.9 L499.4,2581.8 L500.3,2580.6 L501.2,2579.4 L502.2,2578.1 L503.1,2576.7 L504.0,2575.2 L505.0,2573.7 L505.9,2572.1 L506.8,2570.4 L507.8,2568.7 L508.7,2566.9 L509.6,2565.0 L510.5,2563.1 L511.5,2561.1 L512.4,2559.0 L513.3,2556.9 L514.3,2554.7 L515.2,2552.5 L516.1,2550.2 L517.0,2547.8 L518.0,2545.4 L518.9,2542.9 L519.8,2540.4 L520.8,2537.8 L521.7,2535.2 L522.6,2532.4 L523.5,2529.7 L524.5,2526.8 L525.4,2523.9 L526.3,2520.9 L527.3,2517.9 L528.2,2514.8 L529.1,2511.7 L530.1,2508.4 L531.0,2505.1 L531.9,2501.8 L532.8,2498.4 L533.8,2494.9 L534.7,2491.4 L535.6,2487.9 L536.6,2484.2 L537.5,2480.5 L538.4,2476.8 L539.3,2473.0 L540.3,2469.2 L541.2,2465.3 L542.1,2461.3 L543.1,2457.3 L544.0,2453.3 L544.9,2449.2 L545.8,2445.0 L546.8,2440.8 L547.7,2436.6 L548.6,2432.3 L549.6,2427.9 L550.5,2423.6 L551.4,2419.1 L552.4,2414.6 L553.3,2410.1 L554.2,2405.5 L555.1,2400.8 L556.1,2396.2 L557.0,2391.4 L557.9,2386.6 L558.9,2381.8 L559.8,2376.9 L560.7,2372.0 L561.6,2367.1 L562.6,2362.1 L563.5,2357.0 L564.4,2351.9 L565.4,2346.7 L566.3,2341.5 L567.2,2336.3 L568.1,2331.0 L569.1,2325.6 L570.0,2320.2 L570.9,2314.8 L571.9,2309.3 L572.8,2303.8 L573.7,2298.2 L574.7,2292.5 L575.6,2286.8 L576.5,2281.1 L577.4,2275.3 L578.4,2269.5 L579.3,2263.6 L580.2,2257.7 L581.2,2251.8 L582.1,2245.8 L583.0,2239.8 L583.9,2233.7 L584.9,2227.6 L585.8,2221.4 L586.7,2215.2 L587.7,2209.0 L588.6,2202.8 L589.5,2196.5 L590.4,2190.1 L591.4,2183.8 L592.3,2177.4 L593.2,2170.9 L594.2,2164.5 L595.1,2158.0 L596.0,2151.5 L597.0,2145.0 L597.9,2138.4 L598.8,2131.9 L599.7,2125.3 L600.7,2118.7 L601.6,2112.0 L602.5,2105.4 L603.5,2098.8 L604.4,2092.1 L605.3,2085.4 L606.2,2078.7 L607.2,2072.1 L608.1,2065.4 L609.0,2058.7 L610.0,2052.1 L610.9,2045.6 L611.8,2039.2 L612.7,2032.8 L613.7,2026.6 L614.6,2020.5 L615.5,2014.5 L616.5,2008.6 L617.4,2002.9 L618.3,1997.4 L619.3,1992.1 L620.2,1986.9 L621.1,1981.8 L622.0,1977.0 L623.0,1972.3 L623.9,1967.8 L624.8,1963.5 L625.8,1959.3 L626.7,1955.4 L627.6,1951.6 L628.5,1947.9 L629.5,1944.4 L630.4,1941.0 L631.3,1937.8 L632.3,1934.6 L633.2,1931.6 L634.1,1928.8 L635.0,1926.0 L636.0,1923.4 L636.9,1920.9 L637.8,1918.5 L638.8,1916.2 L639.7,1914.1 L640.6,1912.0 L641.6,1910.0 L642.5,1908.1 L643.4,1906.4 L644.3,1904.7 L645.3,1903.1 L646.2,1901.6 L647.1,1900.2 L648.1,1898.9 L649.0,1897.7 L649.9,1896.6 L650.8,1895.5 L651.8,1894.6 L652.7,1893.7 L653.6,1892.9 L654.6,1892.1 L655.5,1891.5 L656.4,1890.9 L657.3,1890.3 L658.3,1889.9 L659.2,1889.4 L660.1,1889.1 L661.1,1888.8 L662.0,1888.6 L662.9,1888.5 L663.9,1888.4 L664.8,1888.3 L665.7,1888.4 L666.6,1888.5 L667.6,1888.6 L668.5,1888.8 L669.4,1889.0 L670.3,1889.3 L671.3,1889.7 L672.2,1890.1 L673.1,1890.5 L674.0,1891.0 L675.0,1891.6 L675.9,1892.2 L676.8,1892.9 L677.7,1893.6 L678.7,1894.3 L679.6,1895.1 L680.5,1896.0 L681.4,1896.8 L682.4,1897.8 L683.3,1898.8 L684.2,1899.8 L685.1,1900.9 L686.1,1902.0 L687.0,1903.2 L687.9,1904.4 L688.8,1905.7 L689.8,1907.0 L690.7,1908.3 L691.6,1909.7 L692.5,1911.2 L693.5,1912.6 L694.4,1914.2 L695.3,1915.7 L696.2,1917.4 L697.2,1919.0 L698.1,1920.7 L699.0,1922.5 L699.9,1924.3 L700.9,1926.1 L701.8,1928.0 L702.7,1929.9 L703.6,1931.8 L704.6,1933.8 L705.5,1935.9 L706.4,1938.0 L707.3,1940.1 L708.3,1942.3 L709.2,1944.5 L710.1,1946.7 L711.0,1949.0 L712.0,1951.3 L712.9,1953.7 L713.8,1956.1 L714.7,1958.5 L715.7,1961.0 L716.6,1963.5 L717.5,1966.1 L718.4,1968.7 L719.4,1971.3 L720.3,1974.0 L721.2,1976.7 L722.1,1979.4 L723.1,1982.2 L724.0,1985.0 L724.9,1987.9 L725.8,1990.8 L726.8,1993.7 L727.7,1996.7 L728.6,1999.7 L729.5,2002.8 L730.5,2005.8 L731.4,2009.0 L732.3,2012.1 L733.2,2015.3 L734.2,2018.5 L735.1,2021.8 L736.0,2025.1 L736.9,2028.4 L737.9,2031.8 L738.8,2035.2 L739.7,2038.6 L740.6,2042.1 L741.6,2045.6 L742.5,2049.2 L743.4,2052.8 L744.3,2056.4 L745.3,2060.0 L746.2,2063.7 L747.1,2067.4 L748.0,2071.2 L749.0,2074.9 L749.9,2078.8 L750.8,2082.6 L751.7,2086.5 L752.7,2090.4 L753.6,2094.3 L754.5,2098.3 L755.4,2102.3 L756.4,2106.4 L757.3,2110.4 L758.2,2114.5 L759.1,2118.7 L760.1,2122.8 L761.0,2127.0 L761.9,2131.3 L762.8,2135.5 L763.8,2139.8 L764.7,2144.1 L765.6,2148.5 L766.5,2152.8 L767.5,2157.2 L768.4,2161.7 L769.3,2166.1 L770.2,2170.6 L771.2,2175.1 L772.1,2179.7 L773.0,2184.3 L773.9,2188.9 L774.9,2193.5 L775.8,2198.1 L776.7,2202.8 L777.6,2207.5 L778.6,2212.2 L779.5,2217.0 L780.4,2221.8 L781.3,2226.6 L782.3,2231.4 L783.2,2236.2 L784.1,2241.1 L785.0,2246.0 L786.0,2250.9 L786.9,2255.9 L787.8,2260.8 L788.7,2265.8 L789.7,2270.8 L790.6,2275.9 L791.5,2280.9 L792.4,2286.0 L793.4,2291.1 L794.3,2296.2 L795.2,2301.4 L796.1,2306.5 L797.1,2311.7 L798.0,2316.9 L798.9,2322.1 L799.8,2327.4 L800.8,2332.6 L801.7,2337.9 L802.6,2343.2 L803.5,2348.5 L804.5,2353.8 L805.4,2359.2 L806.3,2364.5 L807.2,2369.9 L808.2,2375.2 L809.1,2380.6 L810.0,2386.0 L810.9,2391.4 L811.9,2396.8 L812.8,2402.3 L813.7,2407.7 L814.6,2413.2 L815.6,2418.6 L816.5,2424.1 L817.4,2429.6 L818.3,2435.1 L819.3,2440.6 L820.2,2446.1 L821.1,2451.5 L822.0,2456.8 L823.0,2462.0 L823.9,2467.1 L824.8,2472.1 L825.7,2476.9 L826.7,2481.6 L827.6,2486.2 L828.5,2490.7 L829.4,2495.0 L830.4,2499.3 L831.3,2503.5 L832.2,2507.5 L833.2,2511.3 L834.1,2515.0 L835.0,2518.6 L835.9,2522.0 L836.9,2525.2 L837.8,2528.3 L838.7,2531.3 L839.6,2534.1 L840.6,2536.7 L841.5,2539.2 L842.4,2541.6 L843.3,2543.8 L844.3,2545.8 L845.2,2547.7 L846.1,2549.5 L847.0,2551.1 L848.0,2552.7 L848.9,2554.1 L849.8,2555.4 L850.7,2556.6 L851.7,2557.7 L852.6,2558.8 L853.5,2559.7 L854.4,2560.6 L855.4,2561.4 L856.3,2562.1 L857.2,2562.7 L858.1,2563.3 L859.1,2563.8 L860.0,2564.2 L860.9,2564.5 L861.8,2564.8 L862.8,2565.0 L863.7,2565.1 L864.6,2565.1 L865.5,2565.1 L866.5,2565.0 L867.4,2564.7 L868.3,2564.4 L869.2,2564.0 L870.2,2563.6 L871.1,2563.0 L872.0,2562.3 L872.9,2561.6 L873.9,2560.8 L874.8,2559.9 L875.7,2559.0 L876.6,2558.0 L877.6,2556.9 L878.5,2555.7 L879.4,2554.5 L880.3,2553.2 L881.3,2551.8 L882.2,2550.3 L883.1,2548.8 L884.0,2547.3 L885.0,2545.6 L885.9,2544.0 L886.8,2542.2 L887.8,2540.4 L888.7,2538.5 L889.6,2536.6 L890.5,2534.6 L891.5,2532.5 L892.4,2530.4 L893.3,2528.2 L894.2,2526.0 L895.2,2523.8 L896.1,2521.4 L897.0,2519.0 L897.9,2516.6 L898.9,2514.1 L899.8,2511.6 L900.7,2508.9 L901.6,2506.3 L902.6,2503.6 L903.5,2500.8 L904.4,2497.9 L905.3,2495.0 L906.3,2492.1 L907.2,2489.0 L908.1,2486.0 L909.1,2482.8 L910.0,2479.6 L910.9,2476.4 L911.8,2473.1 L912.8,2469.7 L913.7,2466.3 L914.6,2462.8 L915.5,2459.3 L916.5,2455.7 L917.4,2452.1 L918.3,2448.4 L919.2,2444.7 L920.2,2441.0 L921.1,2437.1 L922.0,2433.3 L922.9,2429.4 L923.9,2425.4 L924.8,2421.4 L925.7,2417.3 L926.6,2413.2 L927.6,2409.1 L928.5,2404.9 L929.4,2400.6 L930.3,2396.3 L931.3,2392.0 L932.2,2387.6 L933.1,2383.2 L934.1,2378.7 L935.0,2374.2 L935.9,2369.6 L936.8,2365.0 L937.8,2360.4 L938.7,2355.7 L939.6,2351.0 L940.5,2346.2 L941.5,2341.4 L942.4,2336.5 L943.3,2331.6 L944.2,2326.6 L945.2,2321.6 L946.1,2316.6 L947.0,2311.5 L947.9,2306.4 L948.9,2301.2 L949.8,2296.0 L950.7,2290.7 L951.6,2285.4 L952.6,2280.1 L953.5,2274.7 L954.4,2269.2 L955.4,2263.7 L956.3,2258.2 L957.2,2252.6 L958.1,2247.0 L959.1,2241.3 L960.0,2235.6 L960.9,2229.8 L961.8,2224.1 L962.8,2218.2 L963.7,2212.4 L964.6,2206.5 L965.5,2200.5 L966.5,2194.5 L967.4,2188.5 L968.3,2182.5 L969.2,2176.4 L970.2,2170.2 L971.1,2164.1 L972.0,2157.9 L972.9,2151.7 L973.9,2145.4 L974.8,2139.1 L975.7,2132.8 L976.6,2126.5 L977.6,2120.1 L978.5,2113.7 L979.4,2107.3 L980.4,2100.9 L981.3,2094.4 L982.2,2088.0 L983.1,2081.5 L984.1,2075.0 L985.0,2068.4 L985.9,2061.9 L986.8,2055.4 L987.8,2048.8 L988.7,2042.2 L989.6,2035.7 L990.5,2029.1 L991.5,2022.5 L992.4,2016.0 L993.3,2009.4 L994.2,2003.0 L995.2,1996.6 L996.1,1990.3 L997.0,1984.1 L997.9,1978.0 L998.9,1972.1 L999.8,1966.2 L1000.7,1960.5 L1001.6,1955.0 L1002.6,1949.6 L1003.5,1944.4 L1004.4,1939.3 L1005.4,1934.4 L1006.3,1929.7 L1007.2,1925.1 L1008.1,1920.7 L1009.1,1916.5 L1010.0,1912.4 L1010.9,1908.6 L1011.8,1904.8 L1012.8,1901.2 L1013.7,1897.8 L1014.6,1894.4 L1015.5,1891.2 L1016.5,1888.1 L1017.4,1885.2 L1018.3,1882.3 L1019.2,1879.6 L1020.2,1877.0 L1021.1,1874.5 L1022.0,1872.2 L1022.9,1869.9 L1023.9,1867.7 L1024.8,1865.6 L1025.7,1863.7 L1026.7,1861.8 L1027.6,1860.0 L1028.5,1858.3 L1029.4,1856.7 L1030.4,1855.2 L1031.3,1853.8 L1032.2,1852.5 L1033.1,1851.2 L1034.1,1850.1 L1035.0,1849.0 L1035.9,1848.0 L1036.8,1847.1 L1037.8,1846.2 L1038.7,1845.4 L1039.6,1844.7 L1040.5,1844.1 L1041.5,1843.5 L1042.4,1843.0 L1043.3,1842.5 L1044.2,1842.2 L1045.2,1841.8 L1046.1,1841.6 L1047.0,1841.4 L1047.9,1841.2 L1048.9,1841.1 L1049.8,1841.1 L1050.7,1841.1 L1051.7,1841.2 L1052.6,1841.3 L1053.5,1841.5 L1054.4,1841.8 L1055.4,1842.1 L1056.3,1842.5 L1057.2,1842.9 L1058.1,1843.3 L1059.1,1843.9 L1060.0,1844.4 L1060.9,1845.0 L1061.8,1845.7 L1062.8,1846.4 L1063.7,1847.2 L1064.6,1848.0 L1065.5,1848.9 L1066.5,1849.8 L1067.4,1850.7 L1068.3,1851.7 L1069.2,1852.8 L1070.2,1853.9 L1071.1,1855.1 L1072.0,1856.3 L1072.9,1857.5 L1073.9,1858.8 L1074.8,1860.1 L1075.7,1861.5 L1076.6,1862.9 L1077.6,1864.4 L1078.5,1865.9 L1079.4,1867.5 L1080.3,1869.1 L1081.3,1870.7 L1082.2,1872.4 L1083.1,1874.2 L1084.0,1876.0 L1085.0,1877.8 L1085.9,1879.7 L1086.8,1881.6 L1087.7,1883.5 L1088.7,1885.5 L1089.6,1887.6 L1090.5,1889.7 L1091.4,1891.8 L1092.4,1894.0 L1093.3,1896.2 L1094.2,1898.4 L1095.1,1900.7 L1096.1,1903.0 L1097.0,1905.4 L1097.9,1907.8 L1098.8,1910.3 L1099.8,1912.8 L1100.7,1915.3 L1101.6,1917.9 L1102.5,1920.5 L1103.5,1923.1 L1104.4,1925.8 L1105.3,1928.5 L1106.2,1931.3 L1107.2,1934.1 L1108.1,1937.0 L1109.0,1939.8 L1109.9,1942.8 L1110.9,1945.7 L1111.8,1948.7 L1112.7,1951.8 L1113.6,1954.8 L1114.6,1957.9 L1115.5,1961.1 L1116.4,1964.3 L1117.3,1967.5 L1118.3,1970.8 L1119.2,1974.0 L1120.1,1977.4 L1121.0,1980.7 L1122.0,1984.2 L1122.9,1987.6 L1123.8,1991.1 L1124.7,1994.6 L1125.7,1998.1 L1126.6,2001.7 L1127.5,2005.3 L1128.4,2009.0 L1129.4,2012.7 L1130.3,2016.4 L1131.2,2020.1 L1132.1,2023.9 L1133.1,2027.8 L1134.0,2031.6 L1134.9,2035.5 L1135.8,2039.4 L1136.8,2043.4 L1137.7,2047.4 L1138.6,2051.4 L1139.5,2055.5 L1140.5,2059.6 L1141.4,2063.7 L1142.3,2067.8 L1143.2,2072.0 L1144.2,2076.2 L1145.1,2080.5 L1146.0,2084.8 L1146.9,2089.1 L1147.9,2093.4 L1148.8,2097.8 L1149.7,2102.2 L1150.6,2106.6 L1151.6,2111.1 L1152.5,2115.6 L1153.4,2120.1 L1154.3,2124.6 L1155.3,2129.2 L1156.2,2133.8 L1157.1,2138.4 L1158.0,2143.1 L1159.0,2147.8 L1159.9,2152.5 L1160.8,2157.2 L1161.7,2162.0 L1162.7,2166.8 L1163.6,2171.6 L1164.5,2176.4 L1165.4,2181.3 L1166.4,2186.2 L1167.3,2191.1 L1168.2,2196.0 L1169.1,2201.0 L1170.1,2206.0 L1171.0,2211.0 L1171.9,2216.0 L1172.8,2221.1 L1173.8,2226.1 L1174.7,2231.2 L1175.6,2236.4 L1176.6,2241.5 L1177.5,2246.7 L1178.4,2251.9 L1179.3,2257.1 L1180.3,2262.3 L1181.2,2267.6 L1182.1,2272.8 L1183.0,2278.1 L1184.0,2283.4 L1184.9,2288.8 L1185.8,2294.1 L1186.7,2299.5 L1187.7,2304.8 L1188.6,2310.2 L1189.5,2315.6 L1190.4,2321.0 L1191.4,2326.5 L1192.3,2331.9 L1193.2,2337.4 L1194.1,2342.8 L1195.1,2348.3 L1196.0,2353.8 L1196.9,2359.3 L1197.8,2364.8 L1198.8,2370.3 L1199.7,2375.8 L1200.6,2381.4 L1201.5,2386.9 L1202.5,2392.5 L1203.4,2398.0 L1204.3,2403.5 L1205.2,2408.9 L1206.2,2414.2 L1207.1,2419.3 L1208.0,2424.3 L1208.9,2429.2 L1209.9,2433.9 L1210.8,2438.5 L1211.7,2443.0 L1212.6,2447.4 L1213.6,2451.7 L1214.5,2455.9 L1215.4,2459.9 L1216.3,2463.7 L1217.3,2467.4 L1218.2,2471.0 L1219.1,2474.4 L1220.0,2477.6 L1221.0,2480.6 L1221.9,2483.5 L1222.8,2486.3 L1223.7,2488.9 L1224.7,2491.3 L1225.6,2493.6 L1226.5,2495.8 L1227.4,2497.8 L1228.4,2499.6 L1229.3,2501.3 L1230.2,2502.9 L1231.1,2504.4 L1232.1,2505.7 L1233.0,2507.0 L1233.9,2508.2 L1234.8,2509.2 L1235.8,2510.2 L1236.7,2511.1 L1237.6,2511.9 L1238.5,2512.7 L1239.5,2513.3 L1240.4,2513.9 L1241.3,2514.4 L1242.2,2514.8 L1243.2,2515.2 L1244.1,2515.4 L1245.0,2515.6 L1245.9,2515.8 L1246.9,2515.8 L1247.8,2515.8 L1248.7,2515.6 L1249.6,2515.4 L1250.6,2515.1 L1251.5,2514.7 L1252.4,2514.2 L1253.4,2513.7 L1254.3,2513.0 L1255.2,2512.3 L1256.1,2511.5 L1257.1,2510.6 L1258.0,2509.7 L1258.9,2508.7 L1259.9,2507.6 L1260.8,2506.4 L1261.7,2505.2 L1262.6,2503.9 L1263.6,2502.6 L1264.5,2501.1 L1265.4,2499.6 L1266.3,2498.1 L1267.3,2496.5 L1268.2,2494.8 L1269.1,2493.0 L1270.1,2491.2 L1271.0,2489.4 L1271.9,2487.5 L1272.8,2485.5 L1273.8,2483.4 L1274.7,2481.4 L1275.6,2479.2 L1276.6,2477.0 L1277.5,2474.8 L1278.4,2472.4 L1279.3,2470.1 L1280.3,2467.7 L1281.2,2465.2 L1282.1,2462.7 L1283.0,2460.1 L1284.0,2457.4 L1284.9,2454.7 L1285.8,2452.0 L1286.8,2449.2 L1287.7,2446.3 L1288.6,2443.3 L1289.5,2440.4 L1290.5,2437.3 L1291.4,2434.2 L1292.3,2431.0 L1293.3,2427.8 L1294.2,2424.5 L1295.1,2421.2 L1296.0,2417.8 L1297.0,2414.4 L1297.9,2410.9 L1298.8,2407.3 L1299.7,2403.7 L1300.7,2400.1 L1301.6,2396.4 L1302.5,2392.7 L1303.5,2388.9 L1304.4,2385.0 L1305.3,2381.2 L1306.2,2377.2 L1307.2,2373.2 L1308.1,2369.2 L1309.0,2365.1 L1310.0,2361.0 L1310.9,2356.9 L1311.8,2352.7 L1312.7,2348.4 L1313.7,2344.1 L1314.6,2339.7 L1315.5,2335.4 L1316.4,2330.9 L1317.4,2326.4 L1318.3,2321.9 L1319.2,2317.3 L1320.2,2312.7 L1321.1,2308.1 L1322.0,2303.4 L1322.9,2298.6 L1323.9,2293.9 L1324.8,2289.0 L1325.7,2284.2 L1326.6,2279.2 L1327.6,2274.3 L1328.5,2269.3 L1329.4,2264.2 L1330.4,2259.2 L1331.3,2254.0 L1332.2,2248.8 L1333.1,2243.6 L1334.1,2238.4 L1335.0,2233.0 L1335.9,2227.7 L1336.9,2222.3 L1337.8,2216.8 L1338.7,2211.3 L1339.6,2205.8 L1340.6,2200.2 L1341.5,2194.6 L1342.4,2188.9 L1343.3,2183.2 L1344.3,2177.5 L1345.2,2171.7 L1346.1,2165.9 L1347.1,2160.0 L1348.0,2154.1 L1348.9,2148.2 L1349.8,2142.2 L1350.8,2136.2 L1351.7,2130.1 L1352.6,2124.0 L1353.6,2117.9 L1354.5,2111.8 L1355.4,2105.6 L1356.3,2099.4 L1357.3,2093.1 L1358.2,2086.8 L1359.1,2080.5 L1360.0,2074.2 L1361.0,2067.8 L1361.9,2061.5 L1362.8,2055.0 L1363.8,2048.6 L1364.7,2042.2 L1365.6,2035.7 L1366.5,2029.2 L1367.5,2022.7 L1368.4,2016.2 L1369.3,2009.7 L1370.3,2003.2 L1371.2,1996.6 L1372.1,1990.0 L1373.0,1983.5 L1374.0,1976.9 L1374.9,1970.3 L1375.8,1963.7 L1376.7,1957.2 L1377.7,1950.7 L1378.6,1944.3 L1379.5,1938.0 L1380.5,1931.8 L1381.4,1925.6 L1382.3,1919.6 L1383.2,1913.7 L1384.2,1907.9 L1385.1,1902.3 L1386.0,1896.8 L1387.0,1891.5 L1387.9,1886.4 L1388.8,1881.4 L1389.7,1876.5 L1390.7,1871.8 L1391.6,1867.3 L1392.5,1863.0 L1393.4,1858.8 L1394.4,1854.8 L1395.3,1851.0 L1396.2,1847.3 L1397.2,1843.8 L1398.1,1840.3 L1399.0,1837.0 L1399.9,1833.8 L1400.9,1830.8 L1401.8,1827.8 L1402.7,1825.0 L1403.7,1822.3 L1404.6,1819.8 L1405.5,1817.3 L1406.4,1815.0 L1407.4,1812.7 L1408.3,1810.6 L1409.2,1808.5 L1410.1,1806.5 L1411.1,1804.7 L1412.0,1802.9 L1412.9,1801.2 L1413.9,1799.6 L1414.8,1798.1 L1415.7,1796.7 L1416.6,1795.4 L1417.6,1794.2 L1418.5,1793.0 L1419.4,1792.0 L1420.4,1791.0 L1421.3,1790.1 L1422.2,1789.2 L1423.1,1788.4 L1424.1,1787.7 L1425.0,1787.1 L1425.9,1786.5 L1426.8,1786.0 L1427.8,1785.6 L1428.7,1785.2 L1429.6,1784.8 L1430.6,1784.6 L1431.5,1784.4 L1432.4,1784.2 L1433.3,1784.1 L1434.3,1784.1 L1435.2,1784.1 L1436.1,1784.2 L1437.1,1784.4 L1438.0,1784.6 L1438.9,1784.8 L1439.8,1785.2 L1440.8,1785.5 L1441.7,1786.0 L1442.6,1786.4 L1443.5,1787.0 L1444.5,1787.6 L1445.4,1788.2 L1446.3,1788.9 L1447.3,1789.6 L1448.2,1790.4 L1449.1,1791.3 L1450.0,1792.2 L1451.0,1793.1 L1451.9,1794.1 L1452.8,1795.2 L1453.7,1796.3 L1454.7,1797.4 L1455.6,1798.6 L1456.5,1799.8 L1457.5,1801.1 L1458.4,1802.5 L1459.3,1803.8 L1460.2,1805.3 L1461.2,1806.7 L1462.1,1808.3 L1463.0,1809.8 L1463.9,1811.5 L1464.9,1813.1 L1465.8,1814.8 L1466.7,1816.6 L1467.7,1818.4 L1468.6,1820.2 L1469.5,1822.1 L1470.4,1824.1 L1471.4,1826.1 L1472.3,1828.1 L1473.2,1830.2 L1474.1,1832.3 L1475.1,1834.4 L1476.0,1836.6 L1476.9,1838.9 L1477.9,1841.2 L1478.8,1843.5 L1479.7,1845.9 L1480.6,1848.3 L1481.6,1850.8 L1482.5,1853.3 L1483.4,1855.8 L1484.3,1858.4 L1485.3,1861.0 L1486.2,1863.6 L1487.1,1866.3 L1488.1,1869.1 L1489.0,1871.9 L1489.9,1874.7 L1490.8,1877.6 L1491.8,1880.5 L1492.7,1883.4 L1493.6,1886.4 L1494.5,1889.4 L1495.5,1892.5 L1496.4,1895.6 L1497.3,1898.7 L1498.3,1901.9 L1499.2,1905.1 L1500.1,1908.4 L1501.0,1911.7 L1502.0,1915.0 L1502.9,1918.4 L1503.8,1921.8 L1504.8,1925.2 L1505.7,1928.7 L1506.6,1932.2 L1507.5,1935.8 L1508.5,1939.4 L1509.4,1943.0 L1510.3,1946.7 L1511.2,1950.4 L1512.2,1954.1 L1513.1,1957.9 L1514.0,1961.7 L1515.0,1965.6 L1515.9,1969.4 L1516.8,1973.4 L1517.7,1977.3 L1518.7,1981.3 L1519.6,1985.3 L1520.5,1989.4 L1521.4,1993.5 L1522.4,1997.6 L1523.3,2001.8 L1524.2,2006.0 L1525.2,2010.2 L1526.1,2014.5 L1527.0,2018.7 L1527.9,2023.1 L1528.9,2027.4 L1529.8,2031.8 L1530.7,2036.2 L1531.6,2040.7 L1532.6,2045.2 L1533.5,2049.7 L1534.4,2054.2 L1535.4,2058.8 L1536.3,2063.4 L1537.2,2068.1 L1538.1,2072.7 L1539.1,2077.4 L1540.0,2082.1 L1540.9,2086.9 L1541.8,2091.7 L1542.8,2096.5 L1543.7,2101.3 L1544.6,2106.2 L1545.6,2111.1 L1546.5,2116.0 L1547.4,2120.9 L1548.3,2125.9 L1549.3,2130.9 L1550.2,2135.9 L1551.1,2140.9 L1552.0,2146.0 L1553.0,2151.1 L1553.9,2156.2 L1554.8,2161.4 L1555.8,2166.5 L1556.7,2171.7 L1557.6,2177.0 L1558.5,2182.2 L1559.5,2187.5 L1560.4,2192.7 L1561.3,2198.1 L1562.3,2203.4 L1563.2,2208.7 L1564.1,2214.1 L1565.0,2219.5 L1566.0,2224.9 L1566.9,2230.3 L1567.8,2235.8 L1568.7,2241.3 L1569.7,2246.7 L1570.6,2252.2 L1571.5,2257.8 L1572.5,2263.3 L1573.4,2268.8 L1574.3,2274.4 L1575.2,2280.0 L1576.2,2285.5 L1577.1,2291.1 L1578.0,2296.8 L1578.9,2302.4 L1579.9,2308.0 L1580.8,2313.7 L1581.7,2319.3 L1582.7,2325.0 L1583.6,2330.6 L1584.5,2336.3 L1585.4,2342.0 L1586.4,2347.7 L1587.3,2353.3 L1588.2,2358.9 L1589.1,2364.3 L1590.1,2369.6 L1591.0,2374.7 L1591.9,2379.7 L1592.9,2384.6 L1593.8,2389.4 L1594.7,2394.0 L1595.6,2398.5 L1596.6,2402.9 L1597.5,2407.2 L1598.4,2411.3 L1599.3,2415.3 L1600.3,2419.1 L1601.2,2422.8 L1602.1,2426.3 L1603.1,2429.6 L1604.0,2432.7 L1604.9,2435.7 L1605.8,2438.5 L1606.8,2441.2 L1607.7,2443.7 L1608.6,2446.1 L1609.5,2448.3 L1610.5,2450.3 L1611.4,2452.2 L1612.3,2454.0 L1613.3,2455.6 L1614.2,2457.1 L1615.1,2458.6 L1616.0,2459.9 L1617.0,2461.1 L1617.9,2462.2 L1618.8,2463.2 L1619.8,2464.1 L1620.7,2464.9 L1621.6,2465.7 L1622.5,2466.3 L1623.5,2466.9 L1624.4,2467.4 L1625.3,2467.9 L1626.2,2468.2 L1627.2,2468.5 L1628.1,2468.7 L1629.0,2468.9 L1630.0,2468.9 L1630.9,2468.8 L1631.8,2468.7 L1632.7,2468.5 L1633.7,2468.2 L1634.6,2467.8 L1635.5,2467.3 L1636.4,2466.7 L1637.3,2466.1 L1638.3,2465.4 L1639.2,2464.6 L1640.1,2463.7 L1641.0,2462.7 L1642.0,2461.7 L1642.9,2460.6 L1643.8,2459.5 L1644.7,2458.2 L1645.7,2456.9 L1646.6,2455.6 L1647.5,2454.1 L1648.4,2452.6 L1649.4,2451.1 L1650.3,2449.5 L1651.2,2447.8 L1652.1,2446.0 L1653.1,2444.2 L1654.0,2442.3 L1654.9,2440.4 L1655.8,2438.4 L1656.8,2436.4 L1657.7,2434.3 L1658.6,2432.1 L1659.5,2429.9 L1660.5,2427.6 L1661.4,2425.3 L1662.3,2423.0 L1663.2,2420.5 L1664.2,2418.0 L1665.1,2415.5 L1666.0,2412.9 L1666.9,2410.3 L1667.9,2407.5 L1668.8,2404.8 L1669.7,2401.9 L1670.6,2399.1 L1671.6,2396.1 L1672.5,2393.1 L1673.4,2390.1 L1674.3,2386.9 L1675.3,2383.8 L1676.2,2380.5 L1677.1,2377.2 L1678.0,2373.9 L1679.0,2370.5 L1679.9,2367.0 L1680.8,2363.5 L1681.7,2360.0 L1682.7,2356.4 L1683.6,2352.7 L1684.5,2349.0 L1685.4,2345.2 L1686.3,2341.4 L1687.3,2337.6 L1688.2,2333.7 L1689.1,2329.7 L1690.0,2325.7 L1691.0,2321.7 L1691.9,2317.6 L1692.8,2313.4 L1693.7,2309.2 L1694.7,2305.0 L1695.6,2300.7 L1696.5,2296.4 L1697.4,2292.0 L1698.4,2287.6 L1699.3,2283.1 L1700.2,2278.6 L1701.1,2274.1 L1702.1,2269.5 L1703.0,2264.8 L1703.9,2260.1 L1704.8,2255.4 L1705.8,2250.7 L1706.7,2245.8 L1707.6,2241.0 L1708.5,2236.1 L1709.5,2231.1 L1710.4,2226.2 L1711.3,2221.1 L1712.2,2216.1 L1713.2,2210.9 L1714.1,2205.8 L1715.0,2200.6 L1715.9,2195.3 L1716.9,2190.0 L1717.8,2184.7 L1718.7,2179.3 L1719.6,2173.9 L1720.6,2168.4 L1721.5,2162.9 L1722.4,2157.3 L1723.3,2151.7 L1724.3,2146.1 L1725.2,2140.4 L1726.1,2134.6 L1727.0,2128.9 L1728.0,2123.0 L1728.9,2117.2 L1729.8,2111.3 L1730.7,2105.3 L1731.7,2099.4 L1732.6,2093.3 L1733.5,2087.3 L1734.4,2081.2 L1735.3,2075.1 L1736.3,2068.9 L1737.2,2062.7 L1738.1,2056.5 L1739.0,2050.2 L1740.0,2043.9 L1740.9,2037.5 L1741.8,2031.2 L1742.7,2024.8 L1743.7,2018.3 L1744.6,2011.9 L1745.5,2005.4 L1746.4,1998.9 L1747.4,1992.4 L1748.3,1985.8 L1749.2,1979.3 L1750.1,1972.7 L1751.1,1966.1 L1752.0,1959.4 L1752.9,1952.8 L1753.8,1946.2 L1754.8,1939.5 L1755.7,1932.8 L1756.6,1926.1 L1757.5,1919.4 L1758.5,1912.7 L1759.4,1906.0 L1760.3,1899.3 L1761.2,1892.6 L1762.2,1886.0 L1763.1,1879.5 L1764.0,1873.2 L1764.9,1866.9 L1765.9,1860.8 L1766.8,1854.9 L1767.7,1849.1 L1768.6,1843.4 L1769.6,1838.0 L1770.5,1832.8 L1771.4,1827.7 L1772.3,1822.9 L1773.3,1818.3 L1774.2,1813.9 L1775.1,1809.6 L1776.0,1805.6 L1777.0,1801.7 L1777.9,1797.9 L1778.8,1794.4 L1779.7,1790.9 L1780.7,1787.6 L1781.6,1784.5 L1782.5,1781.5 L1783.4,1778.6 L1784.3,1775.8 L1785.3,1773.2 L1786.2,1770.7 L1787.1,1768.2 L1788.0,1765.9 L1789.0,1763.7 L1789.9,1761.6 L1790.8,1759.6 L1791.7,1757.8 L1792.7,1756.0 L1793.6,1754.2 L1794.5,1752.6 L1795.4,1751.1 L1796.4,1749.7 L1797.3,1748.3 L1798.2,1747.0 L1799.1,1745.8 L1800.1,1744.7 L1801.0,1743.7 L1801.9,1742.7 L1802.8,1741.7 L1803.8,1740.9 L1804.7,1740.1 L1805.6,1739.4 L1806.5,1738.7 L1807.5,1738.1 L1808.4,1737.5 L1809.3,1737.0 L1810.2,1736.5 L1811.2,1736.1 L1812.1,1735.8 L1813.0,1735.5 L1813.9,1735.2 L1814.9,1735.0 L1815.8,1734.9 L1816.7,1734.8 L1817.6,1734.8 L1817.7,1734.8 L1817.8,1734.8 L1817.8,1734.8 L1817.9,1734.8 L1818.0,1734.8 L1818.0,1734.8 L1818.1,1734.8 L1818.2,1734.8 L1818.3,1734.8 L1818.3,1734.8 L1818.4,1734.8 L1818.5,1734.8 L1818.5,1734.8 L1818.6,1734.8 L1818.7,1734.8 L1818.7,1734.8 L1818.8,1734.8 L1818.9,1734.8 L1818.9,1734.8 L1819.0,1734.8 L1819.1,1734.8 L1819.2,1734.8 L1819.2,1734.8 L1819.3,1734.9 L1819.4,1734.9 L1819.4,1734.9 L1819.5,1734.9 L1819.6,1734.9 L1819.6,1734.9 L1819.7,1734.9 L1819.8,1734.9 L1819.8,1734.9 L1819.9,1734.9 L1820.0,1734.9 L1820.0,1734.9 L1820.1,1734.9 L1820.2,1735.0 L1820.3,1735.0 L1820.3,1735.0 L1820.4,1735.0 L1820.5,1735.0 L1820.5,1735.0 L1820.6,1735.0 L1820.7,1735.0 L1820.7,1735.0 L1820.8,1735.1 L1820.9,1735.1 L1820.9,1735.1 L1821.0,1735.1 L1821.1,1735.1 L1821.2,1735.1 L1821.2,1735.1 L1821.3,1735.1 L1821.4,1735.2 L1821.4,1735.2 L1821.5,1735.2 L1821.6,1735.2 L1821.6,1735.2 L1821.7,1735.2 L1821.8,1735.2 L1821.8,1735.3 L1821.9,1735.3 L1822.0,1735.3 L1822.0,1735.3 L1822.1,1735.3 L1822.2,1735.3 L1822.3,1735.4 L1822.3,1735.4 L1822.4,1735.4 L1822.5,1735.4 L1822.5,1735.4 L1822.6,1735.5 L1822.7,1735.5 L1822.7,1735.5 L1822.8,1735.5 L1822.9,1735.5 L1822.9,1735.6 L1823.0,1735.6 L1823.1,1735.6 L1823.2,1735.6 L1823.2,1735.6 L1823.3,1735.7 L1823.4,1735.7 L1823.4,1735.7 L1823.5,1735.7 L1823.6,1735.7 L1823.6,1735.8 L1823.7,1735.8 L1823.8,1735.8 L1823.8,1735.8 L1823.9,1735.9 L1824.0,1735.9 L1824.0,1735.9 L1824.1,1735.9 L1824.2,1736.0 L1824.3,1736.0 L1824.3,1736.0 L1824.4,1736.0 L1824.5,1736.1 L1824.5,1736.1 L1824.6,1736.1 L1824.7,1736.1 L1824.7,1736.2 L1824.8,1736.2 L1824.9,1736.2 L1824.9,1736.2 L1825.0,1736.3 L1825.1,1736.3 L1825.2,1736.3 L1825.2,1736.4 L1825.3,1736.4 L1825.4,1736.4 L1825.4,1736.4 L1825.5,1736.5 L1825.6,1736.5 L1825.6,1736.5 L1825.7,1736.6 L1825.8,1736.6 L1825.8,1736.6 L1825.9,1736.7 L1826.0,1736.7 L1826.0,1736.7 L1826.1,1736.8 L1826.2,1736.8 L1826.3,1736.8 L1826.3,1736.9 L1826.4,1736.9 L1826.5,1736.9 L1826.5,1736.9 L1826.6,1737.0 L1826.7,1737.0 L1826.7,1737.1 L1826.8,1737.1 L1826.9,1737.1 L1826.9,1737.2 L1827.0,1737.2 L1827.1,1737.2 L1827.2,1737.3 L1827.2,1737.3 L1827.3,1737.3 L1827.4,1737.4 L1827.4,1737.4 L1827.5,1737.4 L1827.6,1737.5 L1827.6,1737.5 L1827.7,1737.6 L1827.8,1737.6 L1827.8,1737.6 L1827.9,1737.7 L1828.0,1737.7 L1828.1,1737.7 L1828.1,1737.8 L1828.2,1737.8 L1828.3,1737.9 L1828.3,1737.9 L1828.4,1737.9 L1828.5,1738.0 L1828.5,1738.0 L1828.6,1738.1 L1828.7,1738.1 L1828.7,1738.2 L1828.8,1738.2 L1828.9,1738.2 L1828.9,1738.3 L1829.0,1738.3 L1829.1,1738.4 L1829.2,1738.4 L1829.2,1738.5 L1829.3,1738.5 L1829.4,1738.5 L1829.4,1738.6 L1829.5,1738.6 L1829.6,1738.7 L1829.6,1738.7 L1829.7,1738.8 L1829.8,1738.8 L1829.8,1738.9 L1829.9,1738.9 L1830.0,1738.9 L1830.1,1739.0 L1830.1,1739.0 L1830.2,1739.1 L1830.3,1739.1 L1830.3,1739.2 L1830.4,1739.2 L1830.5,1739.3 L1830.5,1739.3 L1830.6,1739.4 L1830.7,1739.4 L1830.7,1739.5 L1830.8,1739.5 L1830.9,1739.6 L1830.9,1739.6 L1831.0,1739.7 L1831.1,1739.7 L1831.2,1739.8 L1831.2,1739.8 L1831.3,1739.9 L1831.4,1739.9 L1831.4,1740.0 L1831.5,1740.0 L1831.6,1740.1 L1831.6,1740.1 L1831.7,1740.2 L1831.8,1740.2 L1831.8,1740.3 L1831.9,1740.3 L1832.0,1740.4 L1832.1,1740.4 L1832.1,1740.5 L1832.2,1740.5 L1832.3,1740.6 L1832.3,1740.7 L1832.4,1740.7 L1832.5,1740.8 L1832.5,1740.8 L1832.6,1740.9 L1832.7,1740.9 L1832.7,1741.0 L1832.8,1741.0 L1832.9,1741.1 L1833.0,1741.2 L1833.0,1741.2 L1833.1,1741.3 L1833.2,1741.3 L1833.2,1741.4 L1833.3,1741.4 L1833.4,1741.5 L1833.4,1741.6 L1833.5,1741.6 L1833.6,1741.7 L1833.6,1741.7 L1833.7,1741.8 L1833.8,1741.9 L1833.8,1741.9 L1833.9,1742.0 L1834.0,1742.0 L1834.1,1742.1 L1834.1,1742.2 L1834.2,1742.2 L1834.3,1742.3 L1834.3,1742.3 L1834.4,1742.4 L1834.5,1742.5 L1834.5,1742.5 L1834.6,1742.6 L1834.7,1742.7 L1834.7,1742.7 L1834.8,1742.8 L1834.9,1742.8 L1835.0,1742.9 L1835.0,1743.0 L1835.1,1743.0 L1835.2,1743.1 L1835.2,1743.2 L1835.3,1743.2 L1835.4,1743.3 L1835.4,1743.4 L1835.5,1743.4 L1835.6,1743.5 L1835.6,1743.6 L1835.7,1743.6 L1835.8,1743.7 L1835.8,1743.8 L1835.9,1743.8 L1836.0,1743.9 L1836.1,1744.0 L1836.1,1744.0 L1836.2,1744.1 L1836.3,1744.2 L1836.3,1744.2 L1836.4,1744.3 L1836.5,1744.4 L1836.5,1744.5 L1836.6,1744.5 L1836.7,1744.6 L1836.7,1744.7 L1836.8,1744.7 L1836.9,1744.8 L1837.0,1744.9 L1837.0,1744.9 L1837.1,1745.0 L1837.2,1745.1 L1837.2,1745.2 L1837.3,1745.2 L1837.4,1745.3 L1837.4,1745.4 L1837.5,1745.5 L1837.6,1745.5 L1837.6,1745.6 L1837.7,1745.7 L1837.8,1745.7 L1837.8,1745.8 L1837.9,1745.9 L1838.0,1746.0 L1838.1,1746.0 L1838.1,1746.1 L1838.2,1746.2 L1838.3,1746.3 L1838.3,1746.3 L1838.4,1746.4 L1838.5,1746.5 L1838.5,1746.6 L1838.6,1746.7 L1838.7,1746.7 L1838.7,1746.8 L1838.8,1746.9 L1838.9,1747.0 L1839.0,1747.0 L1839.0,1747.1 L1839.1,1747.2 L1839.2,1747.3 L1839.2,1747.4 L1839.3,1747.4 L1839.4,1747.5 L1839.4,1747.6 L1839.5,1747.7 L1839.6,1747.8 L1839.6,1747.8 L1839.7,1747.9 L1839.8,1748.0 L1839.8,1748.1 L1839.9,1748.2 L1840.0,1748.2 L1840.1,1748.3 L1840.1,1748.4 L1840.2,1748.5 L1840.3,1748.6 L1840.3,1748.6 L1840.4,1748.7 L1840.5,1748.8 L1840.5,1748.9 L1840.6,1749.0 L1840.7,1749.1 L1840.7,1749.1 L1840.8,1749.2 L1840.9,1749.3 L1841.0,1749.4 L1841.0,1749.5 L1841.1,1749.6 L1841.2,1749.7 L1841.2,1749.7 L1841.3,1749.8 L1841.4,1749.9 L1841.4,1750.0 L1841.5,1750.1 L1841.6,1750.2 L1841.6,1750.3 L1841.7,1750.3 L1841.8,1750.4 L1841.9,1750.5 L1841.9,1750.6 L1842.0,1750.7 L1842.1,1750.8 L1842.1,1750.9 L1842.2,1751.0 L1842.3,1751.0 L1842.3,1751.1 L1842.4,1751.2 L1842.5,1751.3 L1842.5,1751.4 L1842.6,1751.5 L1842.7,1751.6 L1842.7,1751.7 L1842.8,1751.8 L1842.9,1751.9 L1843.0,1751.9 L1843.0,1752.0 L1843.1,1752.1 L1843.2,1752.2 L1843.2,1752.3 L1843.3,1752.4 L1843.4,1752.5 L1843.4,1752.6 L1843.5,1752.7 L1843.6,1752.8 L1843.6,1752.9 L1843.7,1753.0 L1843.8,1753.0 L1843.9,1753.1 L1843.9,1753.2 L1844.0,1753.3 L1844.1,1753.4 L1844.1,1753.5 L1844.2,1753.6 L1844.3,1753.7 L1844.3,1753.8 L1844.4,1753.9 L1844.5,1754.0 L1844.5,1754.1 L1844.6,1754.2 L1844.7,1754.3 L1844.7,1754.4 L1844.8,1754.5 L1844.9,1754.6 L1845.0,1754.7 L1845.0,1754.8 L1845.1,1754.8 L1845.2,1754.9 L1845.2,1755.0 L1845.3,1755.1 L1845.4,1755.2 L1845.4,1755.3 L1845.5,1755.4 L1845.6,1755.5 L1845.6,1755.6 L1845.7,1755.7 L1845.8,1755.8 L1845.9,1755.9 L1845.9,1756.0 L1846.0,1756.1 L1846.1,1756.2 L1846.1,1756.3 L1846.2,1756.4 L1846.3,1756.5 L1846.3,1756.6 L1846.4,1756.7 L1846.5,1756.8 L1846.5,1756.9 L1846.6,1757.0 L1846.7,1757.1 L1846.8,1757.2 L1846.8,1757.3 L1846.9,1757.4 L1847.0,1757.5 L1847.0,1757.6 L1847.1,1757.7 L1847.2,1757.8 L1847.2,1757.9 L1847.3,1758.0 L1847.4,1758.1 L1847.4,1758.2 L1847.5,1758.3 L1847.6,1758.4 L1847.6,1758.5 L1847.7,1758.7 L1847.8,1758.8 L1847.9,1758.9 L1847.9,1759.0 L1848.0,1759.1 L1848.1,1759.2 L1848.1,1759.3 L1848.2,1759.4 L1848.3,1759.5 L1848.3,1759.6 L1848.4,1759.7 L1848.5,1759.8 L1848.5,1759.9 L1848.6,1760.0 L1848.7,1760.1 L1848.8,1760.2 L1848.8,1760.3 L1848.9,1760.4 L1849.0,1760.5 L1849.0,1760.7 L1849.1,1760.8 L1849.2,1760.9 L1849.2,1761.0 L1849.3,1761.1 L1849.4,1761.2 L1849.4,1761.3 L1849.5,1761.4 L1849.6,1761.5 L1849.6,1761.6 L1849.7,1761.7 L1849.8,1761.8 L1849.9,1761.9 L1849.9,1762.1 L1850.0,1762.2 L1850.1,1762.3 L1850.1,1762.4 L1850.2,1762.5 L1850.3,1762.6 L1850.3,1762.7 L1850.4,1762.8 L1850.5,1762.9 L1850.5,1763.0 L1850.6,1763.2 L1850.7,1763.3 L1850.8,1763.4 L1850.8,1763.5 L1850.9,1763.6 L1851.0,1763.7 L1851.0,1763.8 L1851.1,1763.9 L1851.2,1764.0 L1851.2,1764.2 L1851.3,1764.3 L1851.4,1764.4 L1851.4,1764.5 L1851.5,1764.6 L1851.6,1764.7 L1851.6,1764.8 L1851.7,1764.9 L1851.8,1765.1 L1851.9,1765.2 L1851.9,1765.3 L1852.0,1765.4 L1852.1,1765.5 L1852.1,1765.6 L1852.2,1765.7 L1852.3,1765.9 L1852.3,1766.0 L1852.4,1766.1 L1852.5,1766.2 L1852.5,1766.3 L1852.6,1766.4 L1852.7,1766.5 L1852.8,1766.7 L1852.8,1766.8 L1852.9,1766.9 L1853.0,1767.0 L1853.0,1767.1 L1853.1,1767.2 L1853.2,1767.4 L1853.2,1767.5 L1853.3,1767.6 L1853.4,1767.7 L1853.4,1767.8 L1853.5,1767.9 L1853.6,1768.1 L1853.7,1768.2 L1853.7,1768.3 L1853.8,1768.4 L1853.9,1768.5 L1853.9,1768.7 L1854.0,1768.8 L1854.1,1768.9 L1854.1,1769.0 L1854.2,1769.1 L1854.3,1769.2 L1854.3,1769.4 L1854.4,1769.5 L1854.5,1769.6 L1854.5,1769.7 L1854.6,1769.8 L1854.7,1770.0 L1854.8,1770.1 L1854.8,1770.2 L1854.9,1770.3 L1855.0,1770.4 L1855.0,1770.6 L1855.1,1770.7 L1855.2,1770.8 L1855.2,1770.9 L1855.3,1771.1 L1855.4,1771.2 L1855.4,1771.3 L1855.5,1771.4 L1855.6,1771.5 L1855.7,1771.7 L1855.7,1771.8 L1855.8,1771.9 L1855.9,1772.0 L1855.9,1772.2 L1856.0,1772.3 L1856.1,1772.4 L1856.1,1772.5 L1856.2,1772.6 L1856.3,1772.8 L1856.3,1772.9 L1856.4,1773.0 L1856.5,1773.1 L1856.5,1773.3 L1856.6,1773.4 L1856.7,1773.5 L1856.8,1773.6 L1856.8,1773.8 L1856.9,1773.9 L1857.0,1774.0 L1857.0,1774.1 L1857.1,1774.3 L1857.2,1774.4 L1857.2,1774.5 L1857.3,1774.6 L1857.4,1774.8 L1857.4,1774.9 L1857.5,1775.0 L1857.6,1775.2 L1857.7,1775.3 L1857.7,1775.4 L1857.8,1775.5 L1857.9,1775.7 L1857.9,1775.8 L1858.0,1775.9 L1858.1,1776.0 L1858.1,1776.2 L1858.2,1776.3 L1858.3,1776.4 L1858.3,1776.6 L1858.4,1776.7 L1858.5,1776.8 L1858.5,1776.9 L1858.6,1777.1 L1858.7,1777.2 L1858.8,1777.3 L1858.8,1777.5 L1858.9,1777.6 L1859.0,1777.7 L1859.0,1777.8 L1859.1,1778.0 L1859.2,1778.1 L1859.2,1778.2 L1859.3,1778.4 L1859.4,1778.5 L1859.4,1778.6 L1859.5,1778.8 L1859.6,1778.9 L1859.7,1779.0 L1859.7,1779.2 L1859.8,1779.3 L1859.9,1779.4 L1859.9,1779.6 L1860.0,1779.7 L1860.1,1779.8 L1860.1,1779.9 L1860.2,1780.1 L1860.3,1780.2 L1860.3,1780.3 L1860.4,1780.5 L1860.5,1780.6 L1860.5,1780.7 L1860.6,1780.9 L1860.7,1781.0 L1860.8,1781.1 L1860.8,1781.3 L1860.9,1781.4 L1861.0,1781.5 L1861.0,1781.7 L1861.1,1781.8 L1861.2,1781.9 L1861.2,1782.1 L1861.3,1782.2 L1861.4,1782.4 L1861.4,1782.5 L1861.5,1782.6 L1861.6,1782.8 L1861.7,1782.9 L1861.7,1783.0 L1861.8,1783.2 L1861.9,1783.3 L1861.9,1783.4 L1862.0,1783.6 L1862.1,1783.7 L1862.1,1783.8 L1862.2,1784.0 L1862.3,1784.1 L1862.3,1784.3 L1862.4,1784.4 L1862.5,1784.5 L1862.6,1784.7 L1862.6,1784.8 L1862.7,1784.9 L1862.8,1785.1 L1862.8,1785.2 L1862.9,1785.4 L1863.0,1785.5 L1863.0,1785.6 L1863.1,1785.8 L1863.2,1785.9 L1863.2,1786.1 L1863.3,1786.2 L1863.4,1786.3 L1863.4,1786.5 L1863.5,1786.6 L1863.6,1786.7 L1863.7,1786.9 L1863.7,1787.0 L1863.8,1787.2 L1863.9,1787.3 L1863.9,1787.4 L1864.0,1787.6" fill="none" stroke="#ff0000" stroke-width="8" stroke-linejoin="round" shape-rendering="crispEdges" stroke-dasharray="23 20.5" clip-path="url(#cb)"/>
<path d="M208.0,2311.9 L208.9,2311.8 L209.9,2311.7 L210.8,2311.6 L211.7,2311.4 L212.6,2311.1 L213.6,2310.8 L214.5,2310.4 L215.4,2309.9 L216.4,2309.4 L217.3,2308.8 L218.2,2308.1 L219.2,2307.4 L220.1,2306.6 L221.0,2305.7 L221.9,2304.7 L222.9,2303.6 L223.8,2302.5 L224.7,2301.2 L225.7,2299.9 L226.6,2298.5 L227.5,2297.0 L228.4,2295.5 L229.4,2293.9 L230.3,2292.2 L231.2,2290.4 L232.2,2288.6 L233.1,2286.7 L234.0,2284.8 L235.0,2282.8 L235.9,2280.8 L236.8,2278.7 L237.7,2276.6 L238.7,2274.4 L239.6,2272.1 L240.5,2269.9 L241.5,2267.5 L242.4,2265.1 L243.3,2262.7 L244.2,2260.2 L245.2,2257.6 L246.1,2255.0 L247.0,2252.4 L248.0,2249.7 L248.9,2246.9 L249.8,2244.1 L250.8,2241.3 L251.7,2238.4 L252.6,2235.5 L253.5,2232.5 L254.5,2229.4 L255.4,2226.4 L256.3,2223.3 L257.3,2220.1 L258.2,2216.9 L259.1,2213.7 L260.0,2210.4 L261.0,2207.1 L261.9,2203.8 L262.8,2200.4 L263.8,2197.0 L264.7,2193.6 L265.6,2190.2 L266.6,2186.7 L267.5,2183.2 L268.4,2179.6 L269.3,2176.0 L270.3,2172.5 L271.2,2168.9 L272.1,2165.2 L273.1,2161.6 L274.0,2158.0 L274.9,2154.5 L275.8,2151.0 L276.8,2147.6 L277.7,2144.2 L278.6,2141.0 L279.6,2137.8 L280.5,2134.7 L281.4,2131.7 L282.4,2128.8 L283.3,2126.0 L284.2,2123.4 L285.1,2120.9 L286.1,2118.6 L287.0,2116.3 L287.9,2114.2 L288.9,2112.2 L289.8,2110.3 L290.7,2108.5 L291.6,2106.8 L292.6,2105.3 L293.5,2103.8 L294.4,2102.4 L295.4,2101.0 L296.3,2099.8 L297.2,2098.5 L298.2,2097.4 L299.1,2096.3 L300.0,2095.3 L300.9,2094.4 L301.9,2093.5 L302.8,2092.6 L303.7,2091.9 L304.7,2091.1 L305.6,2090.5 L306.5,2089.9 L307.4,2089.3 L308.4,2088.8 L309.3,2088.4 L310.2,2088.0 L311.2,2087.7 L312.1,2087.4 L313.0,2087.1 L314.0,2087.0 L314.9,2086.8 L315.8,2086.8 L316.7,2086.7 L317.7,2086.8 L318.6,2086.9 L319.5,2087.0 L320.5,2087.3 L321.4,2087.6 L322.3,2088.0 L323.2,2088.5 L324.2,2089.0 L325.1,2089.5 L326.0,2090.2 L327.0,2090.9 L327.9,2091.6 L328.8,2092.4 L329.8,2093.2 L330.7,2094.1 L331.6,2095.1 L332.5,2096.1 L333.5,2097.1 L334.4,2098.2 L335.3,2099.4 L336.3,2100.5 L337.2,2101.8 L338.1,2103.1 L339.0,2104.4 L340.0,2105.8 L340.9,2107.2 L341.8,2108.7 L342.8,2110.2 L343.7,2111.7 L344.6,2113.3 L345.5,2115.0 L346.5,2116.7 L347.4,2118.4 L348.3,2120.2 L349.3,2122.0 L350.2,2123.9 L351.1,2125.8 L352.0,2127.7 L353.0,2129.7 L353.9,2131.7 L354.8,2133.8 L355.8,2135.9 L356.7,2138.1 L357.6,2140.3 L358.6,2142.5 L359.5,2144.8 L360.4,2147.1 L361.3,2149.4 L362.3,2151.8 L363.2,2154.2 L364.1,2156.7 L365.1,2159.2 L366.0,2161.7 L366.9,2164.3 L367.8,2166.9 L368.8,2169.6 L369.7,2172.3 L370.6,2175.0 L371.6,2177.7 L372.5,2180.5 L373.4,2183.4 L374.3,2186.2 L375.3,2189.1 L376.2,2192.1 L377.1,2195.1 L378.1,2198.1 L379.0,2201.1 L379.9,2204.2 L380.8,2207.3 L381.8,2210.5 L382.7,2213.7 L383.6,2216.9 L384.6,2220.2 L385.5,2223.4 L386.4,2226.8 L387.4,2230.1 L388.3,2233.5 L389.2,2236.9 L390.1,2240.4 L391.1,2243.8 L392.0,2247.3 L392.9,2250.9 L393.9,2254.4 L394.8,2258.0 L395.7,2261.7 L396.6,2265.3 L397.6,2269.0 L398.5,2272.7 L399.4,2276.4 L400.4,2280.2 L401.3,2284.0 L402.2,2287.8 L403.1,2291.7 L404.1,2295.5 L405.0,2299.4 L405.9,2303.3 L406.9,2307.3 L407.8,2311.3 L408.7,2315.3 L409.6,2319.3 L410.6,2323.3 L411.5,2327.4 L412.4,2331.5 L413.4,2335.6 L414.3,2339.7 L415.2,2343.9 L416.2,2348.1 L417.1,2352.3 L418.0,2356.5 L418.9,2360.7 L419.9,2365.0 L420.8,2369.2 L421.7,2373.5 L422.7,2377.8 L423.6,2382.2 L424.5,2386.5 L425.4,2390.9 L426.4,2395.3 L427.3,2399.7 L428.2,2404.1 L429.2,2408.5 L430.1,2412.9 L431.0,2417.4 L431.9,2421.9 L432.9,2426.3 L433.8,2430.8 L434.7,2435.3 L435.7,2439.9 L436.6,2444.4 L437.5,2449.0 L438.4,2453.5 L439.4,2458.1 L440.3,2462.7 L441.2,2467.3 L442.2,2471.9 L443.1,2476.5 L444.0,2481.1 L445.0,2485.8 L445.9,2490.4 L446.8,2494.9 L447.7,2499.4 L448.7,2503.7 L449.6,2507.9 L450.5,2512.0 L451.5,2516.0 L452.4,2519.9 L453.3,2523.6 L454.2,2527.3 L455.2,2530.9 L456.1,2534.4 L457.0,2537.7 L458.0,2540.9 L458.9,2544.0 L459.8,2546.9 L460.7,2549.7 L461.7,2552.3 L462.6,2554.8 L463.5,2557.2 L464.5,2559.4 L465.4,2561.5 L466.3,2563.4 L467.2,2565.3 L468.2,2567.0 L469.1,2568.5 L470.0,2570.0 L471.0,2571.3 L471.9,2572.5 L472.8,2573.7 L473.8,2574.7 L474.7,2575.7 L475.6,2576.5 L476.5,2577.3 L477.5,2578.1 L478.4,2578.7 L479.3,2579.3 L480.3,2579.8 L481.2,2580.2 L482.1,2580.6 L483.0,2580.9 L484.0,2581.1 L484.9,2581.3 L485.8,2581.4 L486.8,2581.5 L487.7,2581.4 L488.6,2581.3 L489.5,2581.1 L490.5,2580.8 L491.4,2580.4 L492.3,2579.9 L493.2,2579.4 L494.2,2578.8 L495.1,2578.1 L496.0,2577.3 L496.9,2576.4 L497.9,2575.5 L498.8,2574.5 L499.7,2573.5 L500.6,2572.3 L501.6,2571.1 L502.5,2569.9 L503.4,2568.6 L504.3,2567.2 L505.3,2565.7 L506.2,2564.2 L507.1,2562.6 L508.0,2561.0 L509.0,2559.3 L509.9,2557.5 L510.8,2555.7 L511.8,2553.9 L512.7,2551.9 L513.6,2550.0 L514.5,2547.9 L515.5,2545.8 L516.4,2543.7 L517.3,2541.5 L518.2,2539.3 L519.2,2537.0 L520.1,2534.6 L521.0,2532.2 L521.9,2529.7 L522.9,2527.2 L523.8,2524.6 L524.7,2522.0 L525.6,2519.3 L526.6,2516.6 L527.5,2513.8 L528.4,2510.9 L529.3,2508.0 L530.3,2505.0 L531.2,2502.0 L532.1,2498.9 L533.0,2495.7 L534.0,2492.6 L534.9,2489.3 L535.8,2486.0 L536.7,2482.7 L537.7,2479.3 L538.6,2475.8 L539.5,2472.3 L540.4,2468.8 L541.4,2465.2 L542.3,2461.6 L543.2,2457.9 L544.1,2454.2 L545.1,2450.4 L546.0,2446.6 L546.9,2442.7 L547.8,2438.8 L548.8,2434.8 L549.7,2430.8 L550.6,2426.8 L551.6,2422.7 L552.5,2418.6 L553.4,2414.4 L554.3,2410.1 L555.3,2405.9 L556.2,2401.6 L557.1,2397.2 L558.0,2392.8 L559.0,2388.4 L559.9,2383.9 L560.8,2379.4 L561.7,2374.8 L562.7,2370.2 L563.6,2365.6 L564.5,2360.9 L565.4,2356.2 L566.4,2351.4 L567.3,2346.6 L568.2,2341.7 L569.1,2336.8 L570.1,2331.9 L571.0,2326.9 L571.9,2321.8 L572.8,2316.8 L573.8,2311.6 L574.7,2306.5 L575.6,2301.3 L576.5,2296.0 L577.5,2290.7 L578.4,2285.4 L579.3,2280.0 L580.2,2274.6 L581.2,2269.1 L582.1,2263.6 L583.0,2258.1 L583.9,2252.5 L584.9,2246.9 L585.8,2241.3 L586.7,2235.6 L587.6,2229.8 L588.6,2224.1 L589.5,2218.3 L590.4,2212.5 L591.4,2206.6 L592.3,2200.7 L593.2,2194.8 L594.1,2188.9 L595.1,2182.9 L596.0,2176.9 L596.9,2170.8 L597.8,2164.8 L598.8,2158.7 L599.7,2152.6 L600.6,2146.5 L601.5,2140.4 L602.5,2134.2 L603.4,2128.0 L604.3,2121.9 L605.2,2115.7 L606.2,2109.5 L607.1,2103.2 L608.0,2097.0 L608.9,2090.8 L609.9,2084.5 L610.8,2078.3 L611.7,2072.0 L612.6,2065.8 L613.6,2059.7 L614.5,2053.6 L615.4,2047.6 L616.3,2041.6 L617.3,2035.8 L618.2,2030.1 L619.1,2024.5 L620.0,2019.0 L621.0,2013.7 L621.9,2008.5 L622.8,2003.4 L623.7,1998.6 L624.7,1993.8 L625.6,1989.2 L626.5,1984.8 L627.4,1980.5 L628.4,1976.4 L629.3,1972.5 L630.2,1968.7 L631.1,1965.1 L632.1,1961.6 L633.0,1958.2 L633.9,1955.0 L634.9,1951.9 L635.8,1948.9 L636.7,1946.0 L637.6,1943.2 L638.6,1940.5 L639.5,1938.0 L640.4,1935.6 L641.3,1933.2 L642.3,1931.0 L643.2,1928.9 L644.1,1926.8 L645.0,1924.9 L646.0,1923.1 L646.9,1921.3 L647.8,1919.6 L648.7,1918.0 L649.7,1916.5 L650.6,1915.1 L651.5,1913.8 L652.4,1912.6 L653.4,1911.4 L654.3,1910.3 L655.2,1909.3 L656.1,1908.4 L657.1,1907.5 L658.0,1906.7 L658.9,1906.0 L659.8,1905.3 L660.8,1904.7 L661.7,1904.2 L662.6,1903.7 L663.5,1903.3 L664.5,1902.9 L665.4,1902.6 L666.3,1902.3 L667.2,1902.1 L668.2,1902.0 L669.1,1901.9 L670.0,1901.9 L670.9,1901.9 L671.9,1902.0 L672.8,1902.2 L673.7,1902.4 L674.6,1902.6 L675.6,1902.9 L676.5,1903.3 L677.4,1903.7 L678.3,1904.2 L679.3,1904.7 L680.2,1905.2 L681.1,1905.9 L682.0,1906.5 L683.0,1907.3 L683.9,1908.0 L684.8,1908.9 L685.7,1909.7 L686.7,1910.6 L687.6,1911.6 L688.5,1912.6 L689.4,1913.7 L690.4,1914.8 L691.3,1916.0 L692.2,1917.2 L693.1,1918.4 L694.1,1919.7 L695.0,1921.0 L695.9,1922.4 L696.8,1923.9 L697.8,1925.3 L698.7,1926.9 L699.6,1928.4 L700.5,1930.1 L701.5,1931.7 L702.4,1933.4 L703.3,1935.2 L704.2,1937.0 L705.2,1938.8 L706.1,1940.7 L707.0,1942.6 L707.9,1944.6 L708.9,1946.6 L709.8,1948.7 L710.7,1950.8 L711.6,1952.9 L712.6,1955.1 L713.5,1957.3 L714.4,1959.6 L715.3,1961.9 L716.3,1964.2 L717.2,1966.6 L718.1,1969.0 L719.0,1971.5 L720.0,1974.0 L720.9,1976.5 L721.8,1979.1 L722.7,1981.7 L723.7,1984.4 L724.6,1987.1 L725.5,1989.8 L726.4,1992.6 L727.4,1995.4 L728.3,1998.3 L729.2,2001.2 L730.1,2004.1 L731.1,2007.1 L732.0,2010.1 L732.9,2013.1 L733.8,2016.2 L734.8,2019.3 L735.7,2022.5 L736.6,2025.7 L737.5,2028.9 L738.5,2032.2 L739.4,2035.5 L740.3,2038.8 L741.2,2042.2 L742.2,2045.6 L743.1,2049.1 L744.0,2052.6 L744.9,2056.1 L745.9,2059.7 L746.8,2063.3 L747.7,2066.9 L748.6,2070.5 L749.6,2074.2 L750.5,2078.0 L751.4,2081.7 L752.3,2085.6 L753.3,2089.4 L754.2,2093.3 L755.1,2097.2 L756.0,2101.1 L757.0,2105.1 L757.9,2109.1 L758.8,2113.1 L759.7,2117.2 L760.7,2121.3 L761.6,2125.4 L762.5,2129.6 L763.4,2133.7 L764.4,2138.0 L765.3,2142.2 L766.2,2146.5 L767.1,2150.8 L768.1,2155.2 L769.0,2159.6 L769.9,2164.0 L770.8,2168.4 L771.8,2172.9 L772.7,2177.3 L773.6,2181.9 L774.5,2186.4 L775.5,2191.0 L776.4,2195.6 L777.3,2200.2 L778.2,2204.9 L779.2,2209.6 L780.1,2214.3 L781.0,2219.0 L781.9,2223.8 L782.9,2228.5 L783.8,2233.4 L784.7,2238.2 L785.6,2243.0 L786.6,2247.9 L787.5,2252.8 L788.4,2257.8 L789.3,2262.7 L790.3,2267.7 L791.2,2272.7 L792.1,2277.7 L793.0,2282.8 L794.0,2287.8 L794.9,2292.9 L795.8,2298.0 L796.7,2303.2 L797.7,2308.3 L798.6,2313.5 L799.5,2318.7 L800.4,2323.9 L801.4,2329.1 L802.3,2334.4 L803.2,2339.6 L804.1,2344.9 L805.1,2350.2 L806.0,2355.5 L806.9,2360.8 L807.8,2366.2 L808.8,2371.5 L809.7,2376.9 L810.6,2382.2 L811.5,2387.6 L812.5,2393.0 L813.4,2398.4 L814.3,2403.8 L815.2,2409.2 L816.2,2414.7 L817.1,2420.1 L818.0,2425.6 L818.9,2431.0 L819.9,2436.5 L820.8,2441.8 L821.7,2447.1 L822.6,2452.2 L823.6,2457.3 L824.5,2462.1 L825.4,2466.9 L826.3,2471.5 L827.3,2476.0 L828.2,2480.4 L829.1,2484.6 L830.0,2488.8 L831.0,2492.8 L831.9,2496.7 L832.8,2500.4 L833.7,2504.0 L834.7,2507.4 L835.6,2510.7 L836.5,2513.7 L837.4,2516.7 L838.3,2519.4 L839.3,2522.1 L840.2,2524.5 L841.1,2526.8 L842.0,2529.0 L843.0,2531.0 L843.9,2532.9 L844.8,2534.6 L845.7,2536.2 L846.7,2537.7 L847.6,2539.1 L848.5,2540.3 L849.4,2541.5 L850.4,2542.6 L851.3,2543.6 L852.2,2544.5 L853.1,2545.3 L854.1,2546.0 L855.0,2546.7 L855.9,2547.2 L856.8,2547.7 L857.8,2548.2 L858.7,2548.5 L859.6,2548.8 L860.5,2549.0 L861.5,2549.1 L862.4,2549.2 L863.3,2549.1 L864.2,2549.0 L865.2,2548.8 L866.1,2548.5 L867.0,2548.1 L867.9,2547.7 L868.9,2547.1 L869.8,2546.5 L870.7,2545.8 L871.6,2545.1 L872.6,2544.2 L873.5,2543.3 L874.4,2542.4 L875.3,2541.3 L876.3,2540.2 L877.2,2539.1 L878.1,2537.8 L879.0,2536.5 L880.0,2535.2 L880.9,2533.7 L881.8,2532.3 L882.7,2530.7 L883.7,2529.1 L884.6,2527.5 L885.5,2525.7 L886.4,2524.0 L887.4,2522.1 L888.3,2520.2 L889.2,2518.3 L890.1,2516.3 L891.1,2514.2 L892.0,2512.1 L892.9,2510.0 L893.8,2507.8 L894.8,2505.5 L895.7,2503.2 L896.6,2500.9 L897.5,2498.4 L898.5,2496.0 L899.4,2493.4 L900.3,2490.9 L901.2,2488.2 L902.2,2485.5 L903.1,2482.8 L904.0,2480.0 L904.9,2477.1 L905.8,2474.2 L906.8,2471.3 L907.7,2468.2 L908.6,2465.2 L909.5,2462.0 L910.5,2458.9 L911.4,2455.6 L912.3,2452.3 L913.2,2449.0 L914.2,2445.6 L915.1,2442.2 L916.0,2438.7 L916.9,2435.2 L917.9,2431.6 L918.8,2428.0 L919.7,2424.3 L920.6,2420.6 L921.6,2416.9 L922.5,2413.1 L923.4,2409.2 L924.3,2405.3 L925.3,2401.4 L926.2,2397.4 L927.1,2393.4 L928.0,2389.3 L929.0,2385.2 L929.9,2381.1 L930.8,2376.9 L931.7,2372.6 L932.7,2368.4 L933.6,2364.0 L934.5,2359.7 L935.4,2355.3 L936.4,2350.8 L937.3,2346.3 L938.2,2341.8 L939.1,2337.2 L940.1,2332.6 L941.0,2328.0 L941.9,2323.3 L942.8,2318.6 L943.8,2313.8 L944.7,2309.0 L945.6,2304.1 L946.5,2299.2 L947.5,2294.3 L948.4,2289.3 L949.3,2284.2 L950.2,2279.2 L951.2,2274.1 L952.1,2268.9 L953.0,2263.7 L953.9,2258.5 L954.8,2253.2 L955.8,2247.8 L956.7,2242.5 L957.6,2237.1 L958.5,2231.6 L959.5,2226.1 L960.4,2220.6 L961.3,2215.0 L962.2,2209.4 L963.2,2203.8 L964.1,2198.1 L965.0,2192.4 L965.9,2186.7 L966.9,2180.9 L967.8,2175.1 L968.7,2169.2 L969.6,2163.4 L970.6,2157.4 L971.5,2151.5 L972.4,2145.5 L973.3,2139.5 L974.3,2133.5 L975.2,2127.4 L976.1,2121.4 L977.0,2115.3 L978.0,2109.1 L978.9,2103.0 L979.8,2096.8 L980.7,2090.6 L981.7,2084.4 L982.6,2078.2 L983.5,2072.0 L984.4,2065.7 L985.4,2059.5 L986.3,2053.2 L987.2,2046.9 L988.1,2040.6 L989.1,2034.3 L990.0,2028.0 L990.9,2021.7 L991.8,2015.4 L992.8,2009.2 L993.7,2003.0 L994.6,1996.9 L995.5,1990.9 L996.5,1984.9 L997.4,1979.0 L998.3,1973.3 L999.2,1967.7 L1000.2,1962.2 L1001.1,1956.9 L1002.0,1951.7 L1002.9,1946.6 L1003.8,1941.7 L1004.8,1937.0 L1005.7,1932.4 L1006.6,1928.0 L1007.5,1923.7 L1008.5,1919.6 L1009.4,1915.7 L1010.3,1911.9 L1011.2,1908.3 L1012.2,1904.8 L1013.1,1901.4 L1014.0,1898.2 L1014.9,1895.0 L1015.9,1892.0 L1016.8,1889.1 L1017.7,1886.3 L1018.6,1883.7 L1019.6,1881.1 L1020.5,1878.7 L1021.4,1876.4 L1022.3,1874.1 L1023.3,1872.0 L1024.2,1870.0 L1025.1,1868.0 L1026.0,1866.2 L1027.0,1864.4 L1027.9,1862.7 L1028.8,1861.1 L1029.7,1859.6 L1030.7,1858.2 L1031.6,1856.9 L1032.5,1855.6 L1033.4,1854.5 L1034.4,1853.4 L1035.3,1852.4 L1036.2,1851.4 L1037.1,1850.6 L1038.1,1849.8 L1039.0,1849.0 L1039.9,1848.4 L1040.8,1847.7 L1041.8,1847.2 L1042.7,1846.7 L1043.6,1846.3 L1044.5,1845.9 L1045.5,1845.6 L1046.4,1845.4 L1047.3,1845.2 L1048.2,1845.0 L1049.2,1844.9 L1050.1,1844.9 L1051.0,1844.9 L1051.9,1845.0 L1052.8,1845.2 L1053.8,1845.3 L1054.7,1845.6 L1055.6,1845.9 L1056.5,1846.2 L1057.5,1846.6 L1058.4,1847.1 L1059.3,1847.5 L1060.2,1848.1 L1061.2,1848.7 L1062.1,1849.3 L1063.0,1850.0 L1063.9,1850.7 L1064.9,1851.5 L1065.8,1852.3 L1066.7,1853.2 L1067.6,1854.1 L1068.6,1855.1 L1069.5,1856.1 L1070.4,1857.1 L1071.3,1858.2 L1072.3,1859.3 L1073.2,1860.5 L1074.1,1861.8 L1075.0,1863.0 L1076.0,1864.3 L1076.9,1865.7 L1077.8,1867.1 L1078.7,1868.5 L1079.7,1870.0 L1080.6,1871.6 L1081.5,1873.1 L1082.4,1874.7 L1083.4,1876.4 L1084.3,1878.1 L1085.2,1879.8 L1086.1,1881.6 L1087.0,1883.5 L1088.0,1885.3 L1088.9,1887.2 L1089.8,1889.2 L1090.7,1891.2 L1091.7,1893.2 L1092.6,1895.2 L1093.5,1897.3 L1094.4,1899.5 L1095.4,1901.7 L1096.3,1903.9 L1097.2,1906.2 L1098.1,1908.5 L1099.1,1910.8 L1100.0,1913.2 L1100.9,1915.6 L1101.8,1918.0 L1102.8,1920.5 L1103.7,1923.0 L1104.6,1925.6 L1105.5,1928.2 L1106.5,1930.8 L1107.4,1933.5 L1108.3,1936.2 L1109.2,1938.9 L1110.2,1941.7 L1111.1,1944.5 L1112.0,1947.4 L1112.9,1950.3 L1113.9,1953.2 L1114.8,1956.2 L1115.7,1959.2 L1116.6,1962.2 L1117.5,1965.3 L1118.5,1968.4 L1119.4,1971.5 L1120.3,1974.7 L1121.2,1977.9 L1122.2,1981.2 L1123.1,1984.4 L1124.0,1987.7 L1124.9,1991.1 L1125.9,1994.5 L1126.8,1997.9 L1127.7,2001.3 L1128.6,2004.8 L1129.6,2008.3 L1130.5,2011.9 L1131.4,2015.4 L1132.3,2019.1 L1133.3,2022.7 L1134.2,2026.4 L1135.1,2030.1 L1136.0,2033.8 L1137.0,2037.6 L1137.9,2041.4 L1138.8,2045.2 L1139.7,2049.1 L1140.7,2053.0 L1141.6,2056.9 L1142.5,2060.9 L1143.4,2064.9 L1144.4,2068.9 L1145.3,2073.0 L1146.2,2077.0 L1147.1,2081.1 L1148.0,2085.3 L1149.0,2089.4 L1149.9,2093.6 L1150.8,2097.9 L1151.7,2102.1 L1152.7,2106.4 L1153.6,2110.7 L1154.5,2115.0 L1155.4,2119.4 L1156.4,2123.8 L1157.3,2128.2 L1158.2,2132.7 L1159.1,2137.1 L1160.1,2141.6 L1161.0,2146.1 L1161.9,2150.7 L1162.8,2155.3 L1163.8,2159.9 L1164.7,2164.5 L1165.6,2169.1 L1166.5,2173.8 L1167.5,2178.5 L1168.4,2183.2 L1169.3,2187.9 L1170.2,2192.7 L1171.2,2197.5 L1172.1,2202.3 L1173.0,2207.1 L1173.9,2211.9 L1174.9,2216.8 L1175.8,2221.7 L1176.7,2226.6 L1177.6,2231.5 L1178.6,2236.5 L1179.5,2241.5 L1180.4,2246.5 L1181.3,2251.5 L1182.2,2256.5 L1183.2,2261.6 L1184.1,2266.7 L1185.0,2271.8 L1185.9,2276.9 L1186.9,2282.0 L1187.8,2287.1 L1188.7,2292.3 L1189.6,2297.4 L1190.6,2302.6 L1191.5,2307.8 L1192.4,2313.0 L1193.3,2318.2 L1194.3,2323.5 L1195.2,2328.7 L1196.1,2334.0 L1197.0,2339.2 L1198.0,2344.5 L1198.9,2349.8 L1199.8,2355.1 L1200.7,2360.4 L1201.7,2365.7 L1202.6,2371.0 L1203.5,2376.3 L1204.4,2381.7 L1205.4,2387.0 L1206.3,2392.2 L1207.2,2397.3 L1208.1,2402.3 L1209.1,2407.2 L1210.0,2412.0 L1210.9,2416.6 L1211.8,2421.1 L1212.7,2425.5 L1213.7,2429.8 L1214.6,2434.0 L1215.5,2438.0 L1216.4,2442.0 L1217.4,2445.8 L1218.3,2449.4 L1219.2,2452.9 L1220.1,2456.3 L1221.1,2459.5 L1222.0,2462.5 L1222.9,2465.4 L1223.8,2468.2 L1224.8,2470.8 L1225.7,2473.3 L1226.6,2475.6 L1227.5,2477.7 L1228.5,2479.8 L1229.4,2481.7 L1230.3,2483.4 L1231.2,2485.0 L1232.2,2486.5 L1233.1,2487.9 L1234.0,2489.2 L1234.9,2490.4 L1235.9,2491.5 L1236.8,2492.5 L1237.7,2493.5 L1238.6,2494.3 L1239.6,2495.1 L1240.5,2495.8 L1241.4,2496.4 L1242.3,2497.0 L1243.3,2497.4 L1244.2,2497.8 L1245.1,2498.2 L1246.0,2498.4 L1246.9,2498.6 L1247.9,2498.7 L1248.8,2498.8 L1249.7,2498.7 L1250.7,2498.6 L1251.6,2498.4 L1252.5,2498.1 L1253.4,2497.7 L1254.4,2497.2 L1255.3,2496.7 L1256.2,2496.0 L1257.1,2495.3 L1258.1,2494.5 L1259.0,2493.6 L1259.9,2492.7 L1260.9,2491.7 L1261.8,2490.6 L1262.7,2489.5 L1263.6,2488.3 L1264.6,2487.0 L1265.5,2485.6 L1266.4,2484.2 L1267.3,2482.7 L1268.3,2481.2 L1269.2,2479.6 L1270.1,2477.9 L1271.1,2476.2 L1272.0,2474.4 L1272.9,2472.6 L1273.8,2470.7 L1274.8,2468.7 L1275.7,2466.7 L1276.6,2464.6 L1277.5,2462.5 L1278.5,2460.3 L1279.4,2458.1 L1280.3,2455.8 L1281.3,2453.4 L1282.2,2451.0 L1283.1,2448.6 L1284.0,2446.1 L1285.0,2443.5 L1285.9,2440.9 L1286.8,2438.2 L1287.7,2435.5 L1288.7,2432.7 L1289.6,2429.8 L1290.5,2426.9 L1291.5,2423.9 L1292.4,2420.9 L1293.3,2417.8 L1294.2,2414.7 L1295.2,2411.5 L1296.1,2408.2 L1297.0,2404.9 L1297.9,2401.6 L1298.9,2398.2 L1299.8,2394.7 L1300.7,2391.2 L1301.7,2387.6 L1302.6,2384.0 L1303.5,2380.4 L1304.4,2376.7 L1305.4,2372.9 L1306.3,2369.1 L1307.2,2365.2 L1308.1,2361.3 L1309.1,2357.4 L1310.0,2353.4 L1310.9,2349.4 L1311.9,2345.3 L1312.8,2341.2 L1313.7,2337.0 L1314.6,2332.8 L1315.6,2328.5 L1316.5,2324.2 L1317.4,2319.8 L1318.3,2315.4 L1319.3,2311.0 L1320.2,2306.5 L1321.1,2302.0 L1322.1,2297.4 L1323.0,2292.8 L1323.9,2288.2 L1324.8,2283.5 L1325.8,2278.7 L1326.7,2273.9 L1327.6,2269.1 L1328.5,2264.2 L1329.5,2259.3 L1330.4,2254.4 L1331.3,2249.4 L1332.3,2244.3 L1333.2,2239.2 L1334.1,2234.1 L1335.0,2228.9 L1336.0,2223.7 L1336.9,2218.4 L1337.8,2213.1 L1338.7,2207.8 L1339.7,2202.4 L1340.6,2196.9 L1341.5,2191.4 L1342.5,2185.9 L1343.4,2180.3 L1344.3,2174.7 L1345.2,2169.1 L1346.2,2163.4 L1347.1,2157.6 L1348.0,2151.9 L1349.0,2146.1 L1349.9,2140.2 L1350.8,2134.3 L1351.7,2128.4 L1352.7,2122.5 L1353.6,2116.5 L1354.5,2110.5 L1355.4,2104.4 L1356.4,2098.3 L1357.3,2092.2 L1358.2,2086.0 L1359.2,2079.8 L1360.1,2073.6 L1361.0,2067.4 L1361.9,2061.1 L1362.9,2054.9 L1363.8,2048.6 L1364.7,2042.2 L1365.6,2035.9 L1366.6,2029.5 L1367.5,2023.1 L1368.4,2016.7 L1369.4,2010.3 L1370.3,2003.9 L1371.2,1997.5 L1372.1,1991.0 L1373.1,1984.6 L1374.0,1978.1 L1374.9,1971.6 L1375.8,1965.2 L1376.8,1958.7 L1377.7,1952.3 L1378.6,1946.0 L1379.6,1939.7 L1380.5,1933.5 L1381.4,1927.4 L1382.3,1921.4 L1383.3,1915.5 L1384.2,1909.8 L1385.1,1904.2 L1386.0,1898.7 L1387.0,1893.4 L1387.9,1888.3 L1388.8,1883.3 L1389.8,1878.4 L1390.7,1873.7 L1391.6,1869.2 L1392.5,1864.9 L1393.5,1860.7 L1394.4,1856.7 L1395.3,1852.9 L1396.2,1849.2 L1397.2,1845.7 L1398.1,1842.2 L1399.0,1838.9 L1400.0,1835.8 L1400.9,1832.7 L1401.8,1829.8 L1402.7,1827.0 L1403.7,1824.3 L1404.6,1821.7 L1405.5,1819.3 L1406.4,1816.9 L1407.4,1814.7 L1408.3,1812.5 L1409.2,1810.5 L1410.2,1808.5 L1411.1,1806.7 L1412.0,1804.9 L1412.9,1803.2 L1413.9,1801.7 L1414.8,1800.2 L1415.7,1798.8 L1416.6,1797.4 L1417.6,1796.2 L1418.5,1795.1 L1419.4,1794.0 L1420.4,1793.0 L1421.3,1792.1 L1422.2,1791.3 L1423.1,1790.5 L1424.1,1789.8 L1425.0,1789.2 L1425.9,1788.6 L1426.8,1788.1 L1427.8,1787.6 L1428.7,1787.3 L1429.6,1786.9 L1430.6,1786.7 L1431.5,1786.5 L1432.4,1786.3 L1433.3,1786.2 L1434.3,1786.2 L1435.2,1786.2 L1436.1,1786.3 L1437.0,1786.4 L1438.0,1786.6 L1438.9,1786.9 L1439.8,1787.2 L1440.8,1787.5 L1441.7,1787.9 L1442.6,1788.4 L1443.5,1788.9 L1444.5,1789.5 L1445.4,1790.1 L1446.3,1790.7 L1447.2,1791.4 L1448.2,1792.2 L1449.1,1793.0 L1450.0,1793.8 L1450.9,1794.7 L1451.9,1795.7 L1452.8,1796.7 L1453.7,1797.7 L1454.7,1798.8 L1455.6,1799.9 L1456.5,1801.1 L1457.4,1802.3 L1458.4,1803.6 L1459.3,1804.9 L1460.2,1806.3 L1461.1,1807.7 L1462.1,1809.1 L1463.0,1810.6 L1463.9,1812.1 L1464.8,1813.7 L1465.8,1815.3 L1466.7,1817.0 L1467.6,1818.7 L1468.5,1820.5 L1469.5,1822.3 L1470.4,1824.1 L1471.3,1826.0 L1472.3,1827.9 L1473.2,1829.9 L1474.1,1831.9 L1475.0,1834.0 L1476.0,1836.0 L1476.9,1838.2 L1477.8,1840.3 L1478.7,1842.6 L1479.7,1844.8 L1480.6,1847.1 L1481.5,1849.4 L1482.4,1851.8 L1483.4,1854.2 L1484.3,1856.7 L1485.2,1859.1 L1486.2,1861.7 L1487.1,1864.2 L1488.0,1866.8 L1488.9,1869.5 L1489.9,1872.2 L1490.8,1874.9 L1491.7,1877.6 L1492.6,1880.4 L1493.6,1883.3 L1494.5,1886.1 L1495.4,1889.0 L1496.3,1892.0 L1497.3,1895.0 L1498.2,1898.0 L1499.1,1901.0 L1500.0,1904.1 L1501.0,1907.3 L1501.9,1910.4 L1502.8,1913.6 L1503.8,1916.9 L1504.7,1920.1 L1505.6,1923.4 L1506.5,1926.8 L1507.5,1930.2 L1508.4,1933.6 L1509.3,1937.0 L1510.2,1940.5 L1511.2,1944.0 L1512.1,1947.6 L1513.0,1951.2 L1513.9,1954.8 L1514.9,1958.4 L1515.8,1962.1 L1516.7,1965.8 L1517.7,1969.6 L1518.6,1973.4 L1519.5,1977.2 L1520.4,1981.1 L1521.4,1985.0 L1522.3,1988.9 L1523.2,1992.8 L1524.1,1996.8 L1525.1,2000.8 L1526.0,2004.9 L1526.9,2009.0 L1527.8,2013.1 L1528.8,2017.2 L1529.7,2021.4 L1530.6,2025.6 L1531.5,2029.8 L1532.5,2034.1 L1533.4,2038.4 L1534.3,2042.7 L1535.3,2047.0 L1536.2,2051.4 L1537.1,2055.8 L1538.0,2060.3 L1539.0,2064.7 L1539.9,2069.2 L1540.8,2073.7 L1541.7,2078.3 L1542.7,2082.8 L1543.6,2087.4 L1544.5,2092.1 L1545.4,2096.7 L1546.4,2101.4 L1547.3,2106.1 L1548.2,2110.8 L1549.2,2115.6 L1550.1,2120.3 L1551.0,2125.1 L1551.9,2130.0 L1552.9,2134.8 L1553.8,2139.7 L1554.7,2144.6 L1555.6,2149.5 L1556.6,2154.4 L1557.5,2159.4 L1558.4,2164.4 L1559.3,2169.4 L1560.3,2174.4 L1561.2,2179.5 L1562.1,2184.5 L1563.0,2189.6 L1564.0,2194.8 L1564.9,2199.9 L1565.8,2205.0 L1566.8,2210.2 L1567.7,2215.4 L1568.6,2220.6 L1569.5,2225.8 L1570.5,2231.1 L1571.4,2236.3 L1572.3,2241.6 L1573.2,2246.9 L1574.2,2252.2 L1575.1,2257.5 L1576.0,2262.8 L1576.9,2268.2 L1577.9,2273.5 L1578.8,2278.9 L1579.7,2284.3 L1580.7,2289.7 L1581.6,2295.0 L1582.5,2300.5 L1583.4,2305.9 L1584.4,2311.3 L1585.3,2316.7 L1586.2,2322.2 L1587.1,2327.6 L1588.1,2333.0 L1589.0,2338.4 L1589.9,2343.6 L1590.8,2348.8 L1591.8,2353.8 L1592.7,2358.7 L1593.6,2363.4 L1594.5,2368.0 L1595.5,2372.5 L1596.4,2376.9 L1597.3,2381.2 L1598.3,2385.4 L1599.2,2389.4 L1600.1,2393.3 L1601.0,2397.1 L1602.0,2400.7 L1602.9,2404.1 L1603.8,2407.4 L1604.7,2410.6 L1605.7,2413.5 L1606.6,2416.4 L1607.5,2419.0 L1608.4,2421.5 L1609.4,2423.9 L1610.3,2426.1 L1611.2,2428.2 L1612.2,2430.2 L1613.1,2431.9 L1614.0,2433.6 L1614.9,2435.1 L1615.9,2436.6 L1616.8,2437.9 L1617.7,2439.1 L1618.6,2440.3 L1619.6,2441.3 L1620.5,2442.3 L1621.4,2443.2 L1622.3,2443.9 L1623.3,2444.7 L1624.2,2445.3 L1625.1,2445.8 L1626.0,2446.3 L1627.0,2446.7 L1627.9,2447.1 L1628.8,2447.4 L1629.8,2447.5 L1630.7,2447.7 L1631.6,2447.7 L1632.5,2447.7 L1633.5,2447.5 L1634.4,2447.3 L1635.3,2447.0 L1636.2,2446.6 L1637.2,2446.1 L1638.1,2445.6 L1639.0,2444.9 L1639.9,2444.2 L1640.9,2443.4 L1641.8,2442.5 L1642.7,2441.6 L1643.6,2440.6 L1644.6,2439.5 L1645.5,2438.4 L1646.4,2437.2 L1647.3,2435.9 L1648.3,2434.5 L1649.2,2433.1 L1650.1,2431.6 L1651.0,2430.1 L1652.0,2428.5 L1652.9,2426.8 L1653.8,2425.1 L1654.7,2423.3 L1655.7,2421.4 L1656.6,2419.5 L1657.5,2417.6 L1658.4,2415.5 L1659.4,2413.5 L1660.3,2411.3 L1661.2,2409.2 L1662.1,2406.9 L1663.1,2404.6 L1664.0,2402.3 L1664.9,2399.9 L1665.9,2397.4 L1666.8,2394.9 L1667.7,2392.3 L1668.6,2389.7 L1669.6,2387.0 L1670.5,2384.3 L1671.4,2381.5 L1672.3,2378.6 L1673.3,2375.7 L1674.2,2372.8 L1675.1,2369.7 L1676.0,2366.6 L1677.0,2363.5 L1677.9,2360.3 L1678.8,2357.0 L1679.7,2353.7 L1680.7,2350.4 L1681.6,2347.0 L1682.5,2343.5 L1683.4,2340.0 L1684.4,2336.4 L1685.3,2332.8 L1686.2,2329.1 L1687.1,2325.4 L1688.1,2321.6 L1689.0,2317.8 L1689.9,2314.0 L1690.8,2310.1 L1691.8,2306.1 L1692.7,2302.1 L1693.6,2298.1 L1694.5,2294.0 L1695.5,2289.8 L1696.4,2285.6 L1697.3,2281.4 L1698.2,2277.1 L1699.2,2272.8 L1700.1,2268.4 L1701.0,2264.0 L1701.9,2259.6 L1702.9,2255.1 L1703.8,2250.5 L1704.7,2246.0 L1705.6,2241.3 L1706.6,2236.7 L1707.5,2232.0 L1708.4,2227.2 L1709.3,2222.4 L1710.3,2217.6 L1711.2,2212.7 L1712.1,2207.8 L1713.1,2202.8 L1714.0,2197.8 L1714.9,2192.7 L1715.8,2187.6 L1716.8,2182.5 L1717.7,2177.3 L1718.6,2172.1 L1719.5,2166.8 L1720.5,2161.5 L1721.4,2156.1 L1722.3,2150.7 L1723.2,2145.2 L1724.2,2139.7 L1725.1,2134.2 L1726.0,2128.6 L1726.9,2123.0 L1727.9,2117.3 L1728.8,2111.6 L1729.7,2105.8 L1730.6,2100.0 L1731.6,2094.2 L1732.5,2088.3 L1733.4,2082.4 L1734.3,2076.5 L1735.3,2070.5 L1736.2,2064.5 L1737.1,2058.4 L1738.0,2052.4 L1739.0,2046.2 L1739.9,2040.1 L1740.8,2033.9 L1741.7,2027.7 L1742.7,2021.4 L1743.6,2015.1 L1744.5,2008.8 L1745.4,2002.5 L1746.4,1996.1 L1747.3,1989.7 L1748.2,1983.3 L1749.1,1976.9 L1750.1,1970.5 L1751.0,1964.0 L1751.9,1957.5 L1752.8,1951.0 L1753.8,1944.5 L1754.7,1938.0 L1755.6,1931.4 L1756.5,1924.9 L1757.5,1918.3 L1758.4,1911.7 L1759.3,1905.1 L1760.3,1898.6 L1761.2,1892.0 L1762.1,1885.5 L1763.0,1879.0 L1764.0,1872.7 L1764.9,1866.5 L1765.8,1860.5 L1766.7,1854.5 L1767.7,1848.8 L1768.6,1843.2 L1769.5,1837.7 L1770.4,1832.5 L1771.4,1827.5 L1772.3,1822.6 L1773.2,1818.0 L1774.1,1813.6 L1775.1,1809.3 L1776.0,1805.3 L1776.9,1801.4 L1777.8,1797.7 L1778.8,1794.1 L1779.7,1790.7 L1780.6,1787.4 L1781.5,1784.2 L1782.5,1781.2 L1783.4,1778.3 L1784.3,1775.6 L1785.2,1772.9 L1786.2,1770.4 L1787.1,1768.0 L1788.0,1765.7 L1788.9,1763.6 L1789.9,1761.5 L1790.8,1759.5 L1791.7,1757.6 L1792.6,1755.8 L1793.6,1754.1 L1794.5,1752.5 L1795.4,1751.0 L1796.3,1749.6 L1797.3,1748.2 L1798.2,1746.9 L1799.1,1745.7 L1800.0,1744.6 L1801.0,1743.6 L1801.9,1742.6 L1802.8,1741.7 L1803.7,1740.8 L1804.7,1740.0 L1805.6,1739.3 L1806.5,1738.6 L1807.5,1738.0 L1808.4,1737.5 L1809.3,1737.0 L1810.2,1736.5 L1811.2,1736.1 L1812.1,1735.8 L1813.0,1735.5 L1813.9,1735.2 L1814.9,1735.0 L1815.8,1734.9 L1816.7,1734.8 L1817.6,1734.8 L1817.7,1734.8 L1817.8,1734.8 L1817.8,1734.8 L1817.9,1734.8 L1818.0,1734.8 L1818.0,1734.8 L1818.1,1734.8 L1818.2,1734.8 L1818.3,1734.8 L1818.3,1734.8 L1818.4,1734.8 L1818.5,1734.8 L1818.5,1734.8 L1818.6,1734.8 L1818.7,1734.8 L1818.7,1734.8 L1818.8,1734.8 L1818.9,1734.8 L1818.9,1734.8 L1819.0,1734.8 L1819.1,1734.8 L1819.2,1734.8 L1819.2,1734.8 L1819.3,1734.8 L1819.4,1734.9 L1819.4,1734.9 L1819.5,1734.9 L1819.6,1734.9 L1819.6,1734.9 L1819.7,1734.9 L1819.8,1734.9 L1819.8,1734.9 L1819.9,1734.9 L1820.0,1734.9 L1820.0,1734.9 L1820.1,1734.9 L1820.2,1734.9 L1820.3,1735.0 L1820.3,1735.0 L1820.4,1735.0 L1820.5,1735.0 L1820.5,1735.0 L1820.6,1735.0 L1820.7,1735.0 L1820.7,1735.0 L1820.8,1735.0 L1820.9,1735.0 L1820.9,1735.1 L1821.0,1735.1 L1821.1,1735.1 L1821.2,1735.1 L1821.2,1735.1 L1821.3,1735.1 L1821.4,1735.1 L1821.4,1735.1 L1821.5,1735.2 L1821.6,1735.2 L1821.6,1735.2 L1821.7,1735.2 L1821.8,1735.2 L1821.8,1735.2 L1821.9,1735.2 L1822.0,1735.3 L1822.0,1735.3 L1822.1,1735.3 L1822.2,1735.3 L1822.3,1735.3 L1822.3,1735.3 L1822.4,1735.4 L1822.5,1735.4 L1822.5,1735.4 L1822.6,1735.4 L1822.7,1735.4 L1822.7,1735.4 L1822.8,1735.5 L1822.9,1735.5 L1822.9,1735.5 L1823.0,1735.5 L1823.1,1735.5 L1823.2,1735.6 L1823.2,1735.6 L1823.3,1735.6 L1823.4,1735.6 L1823.4,1735.6 L1823.5,1735.7 L1823.6,1735.7 L1823.6,1735.7 L1823.7,1735.7 L1823.8,1735.7 L1823.8,1735.8 L1823.9,1735.8 L1824.0,1735.8 L1824.0,1735.8 L1824.1,1735.8 L1824.2,1735.9 L1824.3,1735.9 L1824.3,1735.9 L1824.4,1735.9 L1824.5,1736.0 L1824.5,1736.0 L1824.6,1736.0 L1824.7,1736.0 L1824.7,1736.1 L1824.8,1736.1 L1824.9,1736.1 L1824.9,1736.1 L1825.0,1736.2 L1825.1,1736.2 L1825.2,1736.2 L1825.2,1736.2 L1825.3,1736.3 L1825.4,1736.3 L1825.4,1736.3 L1825.5,1736.4 L1825.6,1736.4 L1825.6,1736.4 L1825.7,1736.4 L1825.8,1736.5 L1825.8,1736.5 L1825.9,1736.5 L1826.0,1736.6 L1826.0,1736.6 L1826.1,1736.6 L1826.2,1736.6 L1826.3,1736.7 L1826.3,1736.7 L1826.4,1736.7 L1826.5,1736.8 L1826.5,1736.8 L1826.6,1736.8 L1826.7,1736.9 L1826.7,1736.9 L1826.8,1736.9 L1826.9,1737.0 L1826.9,1737.0 L1827.0,1737.0 L1827.1,1737.0 L1827.2,1737.1 L1827.2,1737.1 L1827.3,1737.1 L1827.4,1737.2 L1827.4,1737.2 L1827.5,1737.3 L1827.6,1737.3 L1827.6,1737.3 L1827.7,1737.4 L1827.8,1737.4 L1827.8,1737.4 L1827.9,1737.5 L1828.0,1737.5 L1828.1,1737.5 L1828.1,1737.6 L1828.2,1737.6 L1828.3,1737.6 L1828.3,1737.7 L1828.4,1737.7 L1828.5,1737.8 L1828.5,1737.8 L1828.6,1737.8 L1828.7,1737.9 L1828.7,1737.9 L1828.8,1737.9 L1828.9,1738.0 L1828.9,1738.0 L1829.0,1738.1 L1829.1,1738.1 L1829.2,1738.1 L1829.2,1738.2 L1829.3,1738.2 L1829.4,1738.3 L1829.4,1738.3 L1829.5,1738.3 L1829.6,1738.4 L1829.6,1738.4 L1829.7,1738.5 L1829.8,1738.5 L1829.8,1738.6 L1829.9,1738.6 L1830.0,1738.6 L1830.1,1738.7 L1830.1,1738.7 L1830.2,1738.8 L1830.3,1738.8 L1830.3,1738.9 L1830.4,1738.9 L1830.5,1738.9 L1830.5,1739.0 L1830.6,1739.0 L1830.7,1739.1 L1830.7,1739.1 L1830.8,1739.2 L1830.9,1739.2 L1830.9,1739.3 L1831.0,1739.3 L1831.1,1739.4 L1831.2,1739.4 L1831.2,1739.5 L1831.3,1739.5 L1831.4,1739.5 L1831.4,1739.6 L1831.5,1739.6 L1831.6,1739.7 L1831.6,1739.7 L1831.7,1739.8 L1831.8,1739.8 L1831.8,1739.9 L1831.9,1739.9 L1832.0,1740.0 L1832.1,1740.0 L1832.1,1740.1 L1832.2,1740.1 L1832.3,1740.2 L1832.3,1740.2 L1832.4,1740.3 L1832.5,1740.3 L1832.5,1740.4 L1832.6,1740.4 L1832.7,1740.5 L1832.7,1740.5 L1832.8,1740.6 L1832.9,1740.6 L1833.0,1740.7 L1833.0,1740.7 L1833.1,1740.8 L1833.2,1740.9 L1833.2,1740.9 L1833.3,1741.0 L1833.4,1741.0 L1833.4,1741.1 L1833.5,1741.1 L1833.6,1741.2 L1833.6,1741.2 L1833.7,1741.3 L1833.8,1741.3 L1833.8,1741.4 L1833.9,1741.5 L1834.0,1741.5 L1834.1,1741.6 L1834.1,1741.6 L1834.2,1741.7 L1834.3,1741.7 L1834.3,1741.8 L1834.4,1741.9 L1834.5,1741.9 L1834.5,1742.0 L1834.6,1742.0 L1834.7,1742.1 L1834.7,1742.1 L1834.8,1742.2 L1834.9,1742.3 L1835.0,1742.3 L1835.0,1742.4 L1835.1,1742.4 L1835.2,1742.5 L1835.2,1742.6 L1835.3,1742.6 L1835.4,1742.7 L1835.4,1742.7 L1835.5,1742.8 L1835.6,1742.9 L1835.6,1742.9 L1835.7,1743.0 L1835.8,1743.1 L1835.8,1743.1 L1835.9,1743.2 L1836.0,1743.2 L1836.1,1743.3 L1836.1,1743.4 L1836.2,1743.4 L1836.3,1743.5 L1836.3,1743.6 L1836.4,1743.6 L1836.5,1743.7 L1836.5,1743.8 L1836.6,1743.8 L1836.7,1743.9 L1836.7,1743.9 L1836.8,1744.0 L1836.9,1744.1 L1837.0,1744.1 L1837.0,1744.2 L1837.1,1744.3 L1837.2,1744.3 L1837.2,1744.4 L1837.3,1744.5 L1837.4,1744.5 L1837.4,1744.6 L1837.5,1744.7 L1837.6,1744.7 L1837.6,1744.8 L1837.7,1744.9 L1837.8,1745.0 L1837.8,1745.0 L1837.9,1745.1 L1838.0,1745.2 L1838.1,1745.2 L1838.1,1745.3 L1838.2,1745.4 L1838.3,1745.4 L1838.3,1745.5 L1838.4,1745.6 L1838.5,1745.7 L1838.5,1745.7 L1838.6,1745.8 L1838.7,1745.9 L1838.7,1745.9 L1838.8,1746.0 L1838.9,1746.1 L1839.0,1746.2 L1839.0,1746.2 L1839.1,1746.3 L1839.2,1746.4 L1839.2,1746.4 L1839.3,1746.5 L1839.4,1746.6 L1839.4,1746.7 L1839.5,1746.7 L1839.6,1746.8 L1839.6,1746.9 L1839.7,1747.0 L1839.8,1747.0 L1839.8,1747.1 L1839.9,1747.2 L1840.0,1747.3 L1840.1,1747.3 L1840.1,1747.4 L1840.2,1747.5 L1840.3,1747.6 L1840.3,1747.6 L1840.4,1747.7 L1840.5,1747.8 L1840.5,1747.9 L1840.6,1748.0 L1840.7,1748.0 L1840.7,1748.1 L1840.8,1748.2 L1840.9,1748.3 L1841.0,1748.3 L1841.0,1748.4 L1841.1,1748.5 L1841.2,1748.6 L1841.2,1748.7 L1841.3,1748.7 L1841.4,1748.8 L1841.4,1748.9 L1841.5,1749.0 L1841.6,1749.1 L1841.6,1749.1 L1841.7,1749.2 L1841.8,1749.3 L1841.9,1749.4 L1841.9,1749.5 L1842.0,1749.5 L1842.1,1749.6 L1842.1,1749.7 L1842.2,1749.8 L1842.3,1749.9 L1842.3,1750.0 L1842.4,1750.0 L1842.5,1750.1 L1842.5,1750.2 L1842.6,1750.3 L1842.7,1750.4 L1842.7,1750.5 L1842.8,1750.5 L1842.9,1750.6 L1843.0,1750.7 L1843.0,1750.8 L1843.1,1750.9 L1843.2,1751.0 L1843.2,1751.0 L1843.3,1751.1 L1843.4,1751.2 L1843.4,1751.3 L1843.5,1751.4 L1843.6,1751.5 L1843.6,1751.6 L1843.7,1751.6 L1843.8,1751.7 L1843.9,1751.8 L1843.9,1751.9 L1844.0,1752.0 L1844.1,1752.1 L1844.1,1752.2 L1844.2,1752.2 L1844.3,1752.3 L1844.3,1752.4 L1844.4,1752.5 L1844.5,1752.6 L1844.5,1752.7 L1844.6,1752.8 L1844.7,1752.9 L1844.7,1752.9 L1844.8,1753.0 L1844.9,1753.1 L1845.0,1753.2 L1845.0,1753.3 L1845.1,1753.4 L1845.2,1753.5 L1845.2,1753.6 L1845.3,1753.7 L1845.4,1753.8 L1845.4,1753.8 L1845.5,1753.9 L1845.6,1754.0 L1845.6,1754.1 L1845.7,1754.2 L1845.8,1754.3 L1845.9,1754.4 L1845.9,1754.5 L1846.0,1754.6 L1846.1,1754.7 L1846.1,1754.8 L1846.2,1754.9 L1846.3,1754.9 L1846.3,1755.0 L1846.4,1755.1 L1846.5,1755.2 L1846.5,1755.3 L1846.6,1755.4 L1846.7,1755.5 L1846.8,1755.6 L1846.8,1755.7 L1846.9,1755.8 L1847.0,1755.9 L1847.0,1756.0 L1847.1,1756.1 L1847.2,1756.2 L1847.2,1756.3 L1847.3,1756.4 L1847.4,1756.4 L1847.4,1756.5 L1847.5,1756.6 L1847.6,1756.7 L1847.6,1756.8 L1847.7,1756.9 L1847.8,1757.0 L1847.9,1757.1 L1847.9,1757.2 L1848.0,1757.3 L1848.1,1757.4 L1848.1,1757.5 L1848.2,1757.6 L1848.3,1757.7 L1848.3,1757.8 L1848.4,1757.9 L1848.5,1758.0 L1848.5,1758.1 L1848.6,1758.2 L1848.7,1758.3 L1848.8,1758.4 L1848.8,1758.5 L1848.9,1758.6 L1849.0,1758.7 L1849.0,1758.8 L1849.1,1758.9 L1849.2,1759.0 L1849.2,1759.1 L1849.3,1759.2 L1849.4,1759.3 L1849.4,1759.4 L1849.5,1759.5 L1849.6,1759.6 L1849.6,1759.7 L1849.7,1759.8 L1849.8,1759.9 L1849.9,1760.0 L1849.9,1760.1 L1850.0,1760.2 L1850.1,1760.3 L1850.1,1760.4 L1850.2,1760.5 L1850.3,1760.6 L1850.3,1760.7 L1850.4,1760.8 L1850.5,1760.9 L1850.5,1761.0 L1850.6,1761.1 L1850.7,1761.2 L1850.8,1761.3 L1850.8,1761.4 L1850.9,1761.5 L1851.0,1761.6 L1851.0,1761.7 L1851.1,1761.8 L1851.2,1761.9 L1851.2,1762.0 L1851.3,1762.1 L1851.4,1762.2 L1851.4,1762.3 L1851.5,1762.4 L1851.6,1762.6 L1851.6,1762.7 L1851.7,1762.8 L1851.8,1762.9 L1851.9,1763.0 L1851.9,1763.1 L1852.0,1763.2 L1852.1,1763.3 L1852.1,1763.4 L1852.2,1763.5 L1852.3,1763.6 L1852.3,1763.7 L1852.4,1763.8 L1852.5,1763.9 L1852.5,1764.0 L1852.6,1764.1 L1852.7,1764.2 L1852.8,1764.4 L1852.8,1764.5 L1852.9,1764.6 L1853.0,1764.7 L1853.0,1764.8 L1853.1,1764.9 L1853.2,1765.0 L1853.2,1765.1 L1853.3,1765.2 L1853.4,1765.3 L1853.4,1765.4 L1853.5,1765.5 L1853.6,1765.7 L1853.7,1765.8 L1853.7,1765.9 L1853.8,1766.0 L1853.9,1766.1 L1853.9,1766.2 L1854.0,1766.3 L1854.1,1766.4 L1854.1,1766.5 L1854.2,1766.6 L1854.3,1766.8 L1854.3,1766.9 L1854.4,1767.0 L1854.5,1767.1 L1854.5,1767.2 L1854.6,1767.3 L1854.7,1767.4 L1854.8,1767.5 L1854.8,1767.6 L1854.9,1767.8 L1855.0,1767.9 L1855.0,1768.0 L1855.1,1768.1 L1855.2,1768.2 L1855.2,1768.3 L1855.3,1768.4 L1855.4,1768.5 L1855.4,1768.7 L1855.5,1768.8 L1855.6,1768.9 L1855.7,1769.0 L1855.7,1769.1 L1855.8,1769.2 L1855.9,1769.3 L1855.9,1769.5 L1856.0,1769.6 L1856.1,1769.7 L1856.1,1769.8 L1856.2,1769.9 L1856.3,1770.0 L1856.3,1770.1 L1856.4,1770.3 L1856.5,1770.4 L1856.5,1770.5 L1856.6,1770.6 L1856.7,1770.7 L1856.8,1770.8 L1856.8,1770.9 L1856.9,1771.1 L1857.0,1771.2 L1857.0,1771.3 L1857.1,1771.4 L1857.2,1771.5 L1857.2,1771.6 L1857.3,1771.8 L1857.4,1771.9 L1857.4,1772.0 L1857.5,1772.1 L1857.6,1772.2 L1857.7,1772.3 L1857.7,1772.5 L1857.8,1772.6 L1857.9,1772.7 L1857.9,1772.8 L1858.0,1772.9 L1858.1,1773.1 L1858.1,1773.2 L1858.2,1773.3 L1858.3,1773.4 L1858.3,1773.5 L1858.4,1773.7 L1858.5,1773.8 L1858.5,1773.9 L1858.6,1774.0 L1858.7,1774.1 L1858.8,1774.3 L1858.8,1774.4 L1858.9,1774.5 L1859.0,1774.6 L1859.0,1774.7 L1859.1,1774.9 L1859.2,1775.0 L1859.2,1775.1 L1859.3,1775.2 L1859.4,1775.3 L1859.4,1775.5 L1859.5,1775.6 L1859.6,1775.7 L1859.7,1775.8 L1859.7,1775.9 L1859.8,1776.1 L1859.9,1776.2 L1859.9,1776.3 L1860.0,1776.4 L1860.1,1776.6 L1860.1,1776.7 L1860.2,1776.8 L1860.3,1776.9 L1860.3,1777.0 L1860.4,1777.2 L1860.5,1777.3 L1860.5,1777.4 L1860.6,1777.5 L1860.7,1777.7 L1860.8,1777.8 L1860.8,1777.9 L1860.9,1778.0 L1861.0,1778.2 L1861.0,1778.3 L1861.1,1778.4 L1861.2,1778.5 L1861.2,1778.7 L1861.3,1778.8 L1861.4,1778.9 L1861.4,1779.0 L1861.5,1779.2 L1861.6,1779.3 L1861.7,1779.4 L1861.7,1779.5 L1861.8,1779.7 L1861.9,1779.8 L1861.9,1779.9 L1862.0,1780.0 L1862.1,1780.2 L1862.1,1780.3 L1862.2,1780.4 L1862.3,1780.5 L1862.3,1780.7 L1862.4,1780.8 L1862.5,1780.9 L1862.6,1781.1 L1862.6,1781.2 L1862.7,1781.3 L1862.8,1781.4 L1862.8,1781.6 L1862.9,1781.7 L1863.0,1781.8 L1863.0,1782.0 L1863.1,1782.1 L1863.2,1782.2 L1863.2,1782.3 L1863.3,1782.5 L1863.4,1782.6 L1863.4,1782.7 L1863.5,1782.9 L1863.6,1783.0 L1863.7,1783.1 L1863.7,1783.2 L1863.8,1783.4 L1863.9,1783.5 L1863.9,1783.6 L1864.0,1783.8" fill="none" stroke="#0000ff" stroke-width="8" stroke-linejoin="round" shape-rendering="crispEdges" stroke-dasharray="7 4" clip-path="url(#cb)"/>
<path d="M208.0,2311.9 L208.9,2311.8 L209.9,2311.7 L210.8,2311.6 L211.7,2311.4 L212.6,2311.1 L213.6,2310.8 L214.5,2310.4 L215.4,2310.0 L216.4,2309.4 L217.3,2308.8 L218.2,2308.2 L219.2,2307.5 L220.1,2306.7 L221.0,2305.8 L221.9,2304.9 L222.9,2303.8 L223.8,2302.7 L224.7,2301.5 L225.7,2300.2 L226.6,2298.8 L227.5,2297.4 L228.4,2295.9 L229.4,2294.3 L230.3,2292.6 L231.2,2290.9 L232.2,2289.1 L233.1,2287.3 L234.0,2285.4 L235.0,2283.5 L235.9,2281.5 L236.8,2279.5 L237.7,2277.4 L238.7,2275.3 L239.6,2273.1 L240.5,2270.8 L241.5,2268.5 L242.4,2266.2 L243.3,2263.8 L244.2,2261.4 L245.2,2258.9 L246.1,2256.3 L247.0,2253.7 L248.0,2251.1 L248.9,2248.4 L249.8,2245.7 L250.8,2242.9 L251.7,2240.1 L252.6,2237.2 L253.5,2234.3 L254.5,2231.4 L255.4,2228.4 L256.3,2225.3 L257.3,2222.2 L258.2,2219.1 L259.1,2216.0 L260.0,2212.8 L261.0,2209.6 L261.9,2206.3 L262.8,2203.0 L263.8,2199.7 L264.7,2196.4 L265.6,2193.0 L266.6,2189.6 L267.5,2186.1 L268.4,2182.7 L269.3,2179.2 L270.3,2175.7 L271.2,2172.2 L272.1,2168.6 L273.1,2165.1 L274.0,2161.6 L274.9,2158.1 L275.8,2154.7 L276.8,2151.4 L277.7,2148.1 L278.6,2144.9 L279.6,2141.8 L280.5,2138.8 L281.4,2135.8 L282.4,2133.0 L283.3,2130.3 L284.2,2127.8 L285.1,2125.3 L286.1,2123.0 L287.0,2120.8 L287.9,2118.8 L288.9,2116.8 L289.8,2114.9 L290.7,2113.2 L291.6,2111.6 L292.6,2110.0 L293.5,2108.6 L294.4,2107.2 L295.4,2105.9 L296.3,2104.7 L297.2,2103.5 L298.2,2102.4 L299.1,2101.3 L300.0,2100.3 L300.9,2099.4 L301.9,2098.5 L302.8,2097.7 L303.7,2097.0 L304.7,2096.3 L305.6,2095.6 L306.5,2095.0 L307.4,2094.5 L308.4,2094.0 L309.3,2093.6 L310.2,2093.2 L311.2,2092.9 L312.1,2092.6 L313.0,2092.3 L314.0,2092.2 L314.9,2092.0 L315.8,2092.0 L316.7,2091.9 L317.7,2092.0 L318.6,2092.1 L319.5,2092.2 L320.4,2092.5 L321.4,2092.8 L322.3,2093.2 L323.2,2093.6 L324.2,2094.1 L325.1,2094.7 L326.0,2095.3 L326.9,2096.0 L327.9,2096.7 L328.8,2097.5 L329.7,2098.3 L330.6,2099.2 L331.6,2100.1 L332.5,2101.1 L333.4,2102.1 L334.3,2103.2 L335.3,2104.3 L336.2,2105.4 L337.1,2106.6 L338.0,2107.9 L339.0,2109.2 L339.9,2110.5 L340.8,2111.9 L341.7,2113.4 L342.7,2114.8 L343.6,2116.4 L344.5,2117.9 L345.5,2119.5 L346.4,2121.2 L347.3,2122.9 L348.2,2124.6 L349.2,2126.4 L350.1,2128.2 L351.0,2130.1 L351.9,2132.0 L352.9,2133.9 L353.8,2135.9 L354.7,2137.9 L355.6,2140.0 L356.6,2142.1 L357.5,2144.2 L358.4,2146.4 L359.3,2148.6 L360.3,2150.9 L361.2,2153.2 L362.1,2155.5 L363.0,2157.9 L364.0,2160.3 L364.9,2162.7 L365.8,2165.2 L366.7,2167.7 L367.7,2170.3 L368.6,2172.9 L369.5,2175.5 L370.5,2178.1 L371.4,2180.8 L372.3,2183.6 L373.2,2186.3 L374.2,2189.1 L375.1,2192.0 L376.0,2194.9 L376.9,2197.8 L377.9,2200.7 L378.8,2203.7 L379.7,2206.7 L380.6,2209.8 L381.6,2212.8 L382.5,2215.9 L383.4,2219.1 L384.3,2222.3 L385.3,2225.5 L386.2,2228.7 L387.1,2232.0 L388.0,2235.3 L389.0,2238.6 L389.9,2242.0 L390.8,2245.4 L391.8,2248.8 L392.7,2252.3 L393.6,2255.8 L394.5,2259.3 L395.5,2262.8 L396.4,2266.4 L397.3,2270.0 L398.2,2273.6 L399.2,2277.3 L400.1,2280.9 L401.0,2284.6 L401.9,2288.4 L402.9,2292.1 L403.8,2295.9 L404.7,2299.7 L405.6,2303.5 L406.6,2307.4 L407.5,2311.3 L408.4,2315.2 L409.3,2319.1 L410.3,2323.1 L411.2,2327.0 L412.1,2331.0 L413.1,2335.0 L414.0,2339.1 L414.9,2343.1 L415.8,2347.2 L416.8,2351.3 L417.7,2355.4 L418.6,2359.6 L419.5,2363.7 L420.5,2367.9 L421.4,2372.1 L422.3,2376.3 L423.2,2380.5 L424.2,2384.8 L425.1,2389.0 L426.0,2393.3 L426.9,2397.6 L427.9,2401.9 L428.8,2406.2 L429.7,2410.6 L430.6,2414.9 L431.6,2419.3 L432.5,2423.7 L433.4,2428.1 L434.4,2432.5 L435.3,2436.9 L436.2,2441.3 L437.1,2445.8 L438.1,2450.2 L439.0,2454.7 L439.9,2459.2 L440.8,2463.7 L441.8,2468.2 L442.7,2472.7 L443.6,2477.2 L444.5,2481.7 L445.5,2486.2 L446.4,2490.7 L447.3,2495.0 L448.2,2499.2 L449.2,2503.4 L450.1,2507.4 L451.0,2511.2 L451.9,2515.0 L452.9,2518.7 L453.8,2522.3 L454.7,2525.8 L455.6,2529.2 L456.6,2532.5 L457.5,2535.6 L458.4,2538.6 L459.4,2541.4 L460.3,2544.1 L461.2,2546.7 L462.1,2549.2 L463.1,2551.5 L464.0,2553.7 L464.9,2555.7 L465.8,2557.6 L466.8,2559.4 L467.7,2561.0 L468.6,2562.6 L469.5,2564.0 L470.5,2565.3 L471.4,2566.5 L472.3,2567.6 L473.2,2568.6 L474.2,2569.5 L475.1,2570.4 L476.0,2571.2 L476.9,2571.9 L477.9,2572.5 L478.8,2573.1 L479.7,2573.6 L480.7,2574.0 L481.6,2574.4 L482.5,2574.7 L483.4,2574.9 L484.4,2575.1 L485.3,2575.2 L486.2,2575.2 L487.1,2575.2 L488.1,2575.0 L489.0,2574.8 L489.9,2574.5 L490.8,2574.2 L491.8,2573.7 L492.7,2573.2 L493.6,2572.5 L494.6,2571.8 L495.5,2571.1 L496.4,2570.2 L497.3,2569.3 L498.3,2568.3 L499.2,2567.3 L500.1,2566.2 L501.1,2565.0 L502.0,2563.7 L502.9,2562.4 L503.8,2561.0 L504.8,2559.6 L505.7,2558.1 L506.6,2556.6 L507.6,2554.9 L508.5,2553.2 L509.4,2551.5 L510.3,2549.7 L511.3,2547.9 L512.2,2546.0 L513.1,2544.0 L514.1,2542.0 L515.0,2539.9 L515.9,2537.8 L516.8,2535.6 L517.8,2533.4 L518.7,2531.1 L519.6,2528.8 L520.6,2526.4 L521.5,2524.0 L522.4,2521.5 L523.3,2518.9 L524.3,2516.3 L525.2,2513.6 L526.1,2510.9 L527.1,2508.1 L528.0,2505.3 L528.9,2502.4 L529.8,2499.5 L530.8,2496.4 L531.7,2493.4 L532.6,2490.3 L533.6,2487.1 L534.5,2483.9 L535.4,2480.6 L536.3,2477.3 L537.3,2474.0 L538.2,2470.5 L539.1,2467.1 L540.1,2463.6 L541.0,2460.0 L541.9,2456.4 L542.8,2452.8 L543.8,2449.1 L544.7,2445.3 L545.6,2441.6 L546.6,2437.7 L547.5,2433.8 L548.4,2429.9 L549.3,2426.0 L550.3,2421.9 L551.2,2417.9 L552.1,2413.8 L553.1,2409.7 L554.0,2405.5 L554.9,2401.2 L555.8,2397.0 L556.8,2392.7 L557.7,2388.3 L558.6,2383.9 L559.5,2379.5 L560.5,2375.0 L561.4,2370.5 L562.3,2365.9 L563.3,2361.3 L564.2,2356.7 L565.1,2352.0 L566.0,2347.3 L567.0,2342.5 L567.9,2337.7 L568.8,2332.8 L569.8,2327.9 L570.7,2323.0 L571.6,2318.0 L572.5,2313.0 L573.5,2307.9 L574.4,2302.8 L575.3,2297.6 L576.3,2292.4 L577.2,2287.1 L578.1,2281.8 L579.0,2276.5 L580.0,2271.1 L580.9,2265.7 L581.8,2260.3 L582.8,2254.8 L583.7,2249.3 L584.6,2243.7 L585.5,2238.1 L586.5,2232.5 L587.4,2226.8 L588.3,2221.1 L589.3,2215.4 L590.2,2209.6 L591.1,2203.8 L592.0,2198.0 L593.0,2192.1 L593.9,2186.2 L594.8,2180.3 L595.8,2174.3 L596.7,2168.4 L597.6,2162.4 L598.5,2156.4 L599.5,2150.3 L600.4,2144.3 L601.3,2138.2 L602.3,2132.1 L603.2,2126.0 L604.1,2119.8 L605.0,2113.7 L606.0,2107.5 L606.9,2101.4 L607.8,2095.2 L608.8,2089.0 L609.7,2082.8 L610.6,2076.6 L611.5,2070.4 L612.5,2064.3 L613.4,2058.2 L614.3,2052.2 L615.3,2046.2 L616.2,2040.4 L617.1,2034.6 L618.0,2028.9 L619.0,2023.3 L619.9,2017.9 L620.8,2012.6 L621.7,2007.5 L622.7,2002.5 L623.6,1997.7 L624.5,1993.0 L625.5,1988.4 L626.4,1984.0 L627.3,1979.8 L628.2,1975.7 L629.2,1971.8 L630.1,1968.1 L631.0,1964.5 L632.0,1961.0 L632.9,1957.7 L633.8,1954.5 L634.7,1951.4 L635.7,1948.4 L636.6,1945.6 L637.5,1942.8 L638.5,1940.2 L639.4,1937.7 L640.3,1935.3 L641.2,1932.9 L642.2,1930.7 L643.1,1928.6 L644.0,1926.6 L645.0,1924.7 L645.9,1922.9 L646.8,1921.1 L647.7,1919.5 L648.7,1917.9 L649.6,1916.4 L650.5,1915.0 L651.5,1913.7 L652.4,1912.5 L653.3,1911.3 L654.2,1910.2 L655.2,1909.2 L656.1,1908.3 L657.0,1907.5 L658.0,1906.7 L658.9,1905.9 L659.8,1905.3 L660.7,1904.7 L661.7,1904.1 L662.6,1903.7 L663.5,1903.2 L664.5,1902.9 L665.4,1902.6 L666.3,1902.3 L667.2,1902.1 L668.2,1902.0 L669.1,1901.9 L670.0,1901.9 L670.9,1901.9 L671.9,1902.0 L672.8,1902.1 L673.7,1902.3 L674.7,1902.6 L675.6,1902.9 L676.5,1903.2 L677.4,1903.6 L678.4,1904.1 L679.3,1904.5 L680.2,1905.1 L681.1,1905.7 L682.1,1906.3 L683.0,1907.0 L683.9,1907.8 L684.8,1908.5 L685.8,1909.4 L686.7,1910.2 L687.6,1911.2 L688.5,1912.1 L689.5,1913.1 L690.4,1914.2 L691.3,1915.3 L692.2,1916.5 L693.2,1917.6 L694.1,1918.9 L695.0,1920.2 L695.9,1921.5 L696.9,1922.9 L697.8,1924.3 L698.7,1925.7 L699.6,1927.2 L700.6,1928.8 L701.5,1930.4 L702.4,1932.0 L703.4,1933.7 L704.3,1935.4 L705.2,1937.1 L706.1,1938.9 L707.1,1940.8 L708.0,1942.6 L708.9,1944.6 L709.8,1946.5 L710.8,1948.5 L711.7,1950.6 L712.6,1952.6 L713.5,1954.8 L714.5,1956.9 L715.4,1959.1 L716.3,1961.3 L717.2,1963.6 L718.2,1965.9 L719.1,1968.3 L720.0,1970.7 L720.9,1973.1 L721.9,1975.6 L722.8,1978.1 L723.7,1980.6 L724.6,1983.2 L725.6,1985.8 L726.5,1988.4 L727.4,1991.1 L728.3,1993.9 L729.3,1996.6 L730.2,1999.4 L731.1,2002.3 L732.0,2005.1 L733.0,2008.0 L733.9,2011.0 L734.8,2014.0 L735.8,2017.0 L736.7,2020.0 L737.6,2023.1 L738.5,2026.2 L739.5,2029.4 L740.4,2032.6 L741.3,2035.8 L742.2,2039.1 L743.2,2042.4 L744.1,2045.7 L745.0,2049.1 L745.9,2052.5 L746.9,2055.9 L747.8,2059.4 L748.7,2062.9 L749.6,2066.4 L750.6,2070.0 L751.5,2073.6 L752.4,2077.2 L753.3,2080.8 L754.3,2084.5 L755.2,2088.3 L756.1,2092.0 L757.0,2095.8 L758.0,2099.6 L758.9,2103.5 L759.8,2107.4 L760.7,2111.3 L761.7,2115.2 L762.6,2119.2 L763.5,2123.2 L764.4,2127.2 L765.4,2131.3 L766.3,2135.4 L767.2,2139.5 L768.2,2143.7 L769.1,2147.8 L770.0,2152.1 L770.9,2156.3 L771.9,2160.6 L772.8,2164.8 L773.7,2169.2 L774.6,2173.5 L775.6,2177.9 L776.5,2182.3 L777.4,2186.7 L778.3,2191.2 L779.3,2195.6 L780.2,2200.1 L781.1,2204.6 L782.0,2209.2 L783.0,2213.8 L783.9,2218.4 L784.8,2223.0 L785.7,2227.6 L786.7,2232.3 L787.6,2237.0 L788.5,2241.7 L789.4,2246.4 L790.4,2251.2 L791.3,2255.9 L792.2,2260.7 L793.1,2265.6 L794.1,2270.4 L795.0,2275.3 L795.9,2280.2 L796.8,2285.1 L797.8,2290.0 L798.7,2294.9 L799.6,2299.9 L800.6,2304.9 L801.5,2309.9 L802.4,2314.9 L803.3,2319.9 L804.3,2325.0 L805.2,2330.0 L806.1,2335.1 L807.0,2340.2 L808.0,2345.3 L808.9,2350.4 L809.8,2355.5 L810.7,2360.7 L811.7,2365.8 L812.6,2371.0 L813.5,2376.2 L814.4,2381.3 L815.4,2386.5 L816.3,2391.7 L817.2,2396.9 L818.1,2402.2 L819.1,2407.4 L820.0,2412.6 L820.9,2417.8 L821.8,2422.9 L822.8,2428.0 L823.7,2432.9 L824.6,2437.6 L825.5,2442.3 L826.5,2446.8 L827.4,2451.2 L828.3,2455.5 L829.2,2459.7 L830.2,2463.8 L831.1,2467.7 L832.0,2471.6 L833.0,2475.3 L833.9,2478.8 L834.8,2482.2 L835.7,2485.4 L836.7,2488.5 L837.6,2491.5 L838.5,2494.3 L839.4,2496.9 L840.4,2499.4 L841.3,2501.7 L842.2,2503.9 L843.1,2506.0 L844.1,2507.9 L845.0,2509.7 L845.9,2511.3 L846.8,2512.9 L847.8,2514.3 L848.7,2515.6 L849.6,2516.8 L850.5,2517.9 L851.5,2518.9 L852.4,2519.9 L853.3,2520.7 L854.2,2521.5 L855.2,2522.2 L856.1,2522.8 L857.0,2523.4 L857.9,2523.8 L858.9,2524.2 L859.8,2524.6 L860.7,2524.8 L861.6,2525.0 L862.6,2525.1 L863.5,2525.2 L864.4,2525.1 L865.4,2525.0 L866.3,2524.8 L867.2,2524.5 L868.1,2524.1 L869.1,2523.7 L870.0,2523.1 L870.9,2522.5 L871.9,2521.8 L872.8,2521.0 L873.7,2520.2 L874.6,2519.3 L875.6,2518.3 L876.5,2517.2 L877.4,2516.1 L878.4,2514.9 L879.3,2513.7 L880.2,2512.4 L881.1,2511.0 L882.1,2509.6 L883.0,2508.1 L883.9,2506.5 L884.8,2504.9 L885.8,2503.2 L886.7,2501.4 L887.6,2499.6 L888.6,2497.8 L889.5,2495.9 L890.4,2493.9 L891.3,2491.9 L892.3,2489.8 L893.2,2487.7 L894.1,2485.5 L895.1,2483.2 L896.0,2481.0 L896.9,2478.6 L897.8,2476.2 L898.8,2473.8 L899.7,2471.3 L900.6,2468.7 L901.6,2466.1 L902.5,2463.4 L903.4,2460.7 L904.3,2457.9 L905.3,2455.1 L906.2,2452.2 L907.1,2449.2 L908.1,2446.2 L909.0,2443.1 L909.9,2440.0 L910.8,2436.9 L911.8,2433.6 L912.7,2430.3 L913.6,2427.0 L914.6,2423.6 L915.5,2420.2 L916.4,2416.7 L917.3,2413.2 L918.3,2409.6 L919.2,2406.0 L920.1,2402.4 L921.1,2398.6 L922.0,2394.9 L922.9,2391.1 L923.8,2387.2 L924.8,2383.3 L925.7,2379.4 L926.6,2375.4 L927.5,2371.4 L928.5,2367.3 L929.4,2363.2 L930.3,2359.0 L931.3,2354.8 L932.2,2350.6 L933.1,2346.3 L934.0,2341.9 L935.0,2337.6 L935.9,2333.1 L936.8,2328.7 L937.8,2324.2 L938.7,2319.6 L939.6,2315.1 L940.5,2310.4 L941.5,2305.8 L942.4,2301.0 L943.3,2296.3 L944.3,2291.5 L945.2,2286.7 L946.1,2281.8 L947.0,2276.9 L948.0,2271.9 L948.9,2266.9 L949.8,2261.8 L950.8,2256.7 L951.7,2251.6 L952.6,2246.4 L953.5,2241.2 L954.5,2235.9 L955.4,2230.6 L956.3,2225.2 L957.3,2219.8 L958.2,2214.4 L959.1,2208.9 L960.0,2203.4 L961.0,2197.8 L961.9,2192.2 L962.8,2186.6 L963.7,2180.9 L964.7,2175.2 L965.6,2169.5 L966.5,2163.7 L967.5,2157.9 L968.4,2152.1 L969.3,2146.2 L970.2,2140.2 L971.2,2134.3 L972.1,2128.3 L973.0,2122.3 L974.0,2116.3 L974.9,2110.2 L975.8,2104.1 L976.7,2098.0 L977.7,2091.8 L978.6,2085.7 L979.5,2079.5 L980.5,2073.3 L981.4,2067.1 L982.3,2060.8 L983.2,2054.6 L984.2,2048.3 L985.1,2042.0 L986.0,2035.7 L987.0,2029.4 L987.9,2023.1 L988.8,2016.8 L989.7,2010.4 L990.7,2004.1 L991.6,1997.7 L992.5,1991.4 L993.5,1985.2 L994.4,1979.0 L995.3,1972.9 L996.2,1966.8 L997.2,1960.9 L998.1,1955.1 L999.0,1949.3 L1000.0,1943.7 L1000.9,1938.3 L1001.8,1933.0 L1002.7,1927.9 L1003.7,1922.9 L1004.6,1918.0 L1005.5,1913.3 L1006.4,1908.8 L1007.4,1904.4 L1008.3,1900.2 L1009.2,1896.2 L1010.2,1892.3 L1011.1,1888.6 L1012.0,1885.1 L1012.9,1881.6 L1013.9,1878.3 L1014.8,1875.1 L1015.7,1872.1 L1016.7,1869.1 L1017.6,1866.3 L1018.5,1863.5 L1019.4,1860.9 L1020.4,1858.5 L1021.3,1856.1 L1022.2,1853.8 L1023.2,1851.6 L1024.1,1849.6 L1025.0,1847.6 L1025.9,1845.7 L1026.9,1843.9 L1027.8,1842.2 L1028.7,1840.6 L1029.7,1839.0 L1030.6,1837.6 L1031.5,1836.2 L1032.4,1835.0 L1033.4,1833.8 L1034.3,1832.7 L1035.2,1831.6 L1036.2,1830.7 L1037.1,1829.8 L1038.0,1829.0 L1038.9,1828.2 L1039.9,1827.6 L1040.8,1826.9 L1041.7,1826.4 L1042.7,1825.9 L1043.6,1825.5 L1044.5,1825.1 L1045.4,1824.8 L1046.4,1824.5 L1047.3,1824.3 L1048.2,1824.2 L1049.1,1824.1 L1050.1,1824.1 L1051.0,1824.1 L1051.9,1824.2 L1052.9,1824.3 L1053.8,1824.5 L1054.7,1824.7 L1055.6,1825.0 L1056.6,1825.4 L1057.5,1825.8 L1058.4,1826.2 L1059.4,1826.7 L1060.3,1827.2 L1061.2,1827.8 L1062.1,1828.4 L1063.1,1829.1 L1064.0,1829.8 L1064.9,1830.6 L1065.9,1831.4 L1066.8,1832.3 L1067.7,1833.2 L1068.6,1834.1 L1069.6,1835.1 L1070.5,1836.2 L1071.4,1837.3 L1072.4,1838.4 L1073.3,1839.6 L1074.2,1840.8 L1075.1,1842.1 L1076.1,1843.4 L1077.0,1844.7 L1077.9,1846.1 L1078.9,1847.5 L1079.8,1849.0 L1080.7,1850.5 L1081.6,1852.1 L1082.6,1853.7 L1083.5,1855.4 L1084.4,1857.0 L1085.3,1858.8 L1086.3,1860.5 L1087.2,1862.4 L1088.1,1864.2 L1089.1,1866.1 L1090.0,1868.0 L1090.9,1870.0 L1091.8,1872.0 L1092.8,1874.1 L1093.7,1876.2 L1094.6,1878.3 L1095.6,1880.4 L1096.5,1882.7 L1097.4,1884.9 L1098.3,1887.2 L1099.3,1889.5 L1100.2,1891.8 L1101.1,1894.2 L1102.1,1896.7 L1103.0,1899.1 L1103.9,1901.6 L1104.8,1904.2 L1105.8,1906.8 L1106.7,1909.4 L1107.6,1912.0 L1108.6,1914.7 L1109.5,1917.4 L1110.4,1920.2 L1111.3,1923.0 L1112.3,1925.8 L1113.2,1928.7 L1114.1,1931.6 L1115.1,1934.5 L1116.0,1937.5 L1116.9,1940.5 L1117.8,1943.6 L1118.8,1946.7 L1119.7,1949.8 L1120.6,1952.9 L1121.6,1956.1 L1122.5,1959.3 L1123.4,1962.6 L1124.3,1965.9 L1125.3,1969.2 L1126.2,1972.5 L1127.1,1975.9 L1128.0,1979.3 L1129.0,1982.8 L1129.9,1986.3 L1130.8,1989.8 L1131.8,1993.3 L1132.7,1996.9 L1133.6,2000.5 L1134.5,2004.2 L1135.5,2007.9 L1136.4,2011.6 L1137.3,2015.3 L1138.3,2019.1 L1139.2,2022.9 L1140.1,2026.7 L1141.0,2030.6 L1142.0,2034.5 L1142.9,2038.4 L1143.8,2042.4 L1144.8,2046.3 L1145.7,2050.4 L1146.6,2054.4 L1147.5,2058.5 L1148.5,2062.6 L1149.4,2066.7 L1150.3,2070.9 L1151.3,2075.0 L1152.2,2079.3 L1153.1,2083.5 L1154.0,2087.8 L1155.0,2092.1 L1155.9,2096.4 L1156.8,2100.7 L1157.8,2105.1 L1158.7,2109.5 L1159.6,2113.9 L1160.5,2118.4 L1161.5,2122.9 L1162.4,2127.4 L1163.3,2131.9 L1164.3,2136.4 L1165.2,2141.0 L1166.1,2145.6 L1167.0,2150.2 L1168.0,2154.8 L1168.9,2159.5 L1169.8,2164.2 L1170.7,2168.9 L1171.7,2173.6 L1172.6,2178.4 L1173.5,2183.2 L1174.5,2187.9 L1175.4,2192.8 L1176.3,2197.6 L1177.2,2202.5 L1178.2,2207.3 L1179.1,2212.2 L1180.0,2217.2 L1181.0,2222.1 L1181.9,2227.1 L1182.8,2232.0 L1183.7,2237.0 L1184.7,2242.0 L1185.6,2247.1 L1186.5,2252.1 L1187.5,2257.2 L1188.4,2262.2 L1189.3,2267.3 L1190.2,2272.4 L1191.2,2277.5 L1192.1,2282.6 L1193.0,2287.8 L1194.0,2292.9 L1194.9,2298.1 L1195.8,2303.2 L1196.7,2308.4 L1197.7,2313.6 L1198.6,2318.8 L1199.5,2324.0 L1200.5,2329.2 L1201.4,2334.4 L1202.3,2339.6 L1203.2,2344.9 L1204.2,2350.0 L1205.1,2355.1 L1206.0,2360.1 L1206.9,2365.0 L1207.9,2369.7 L1208.8,2374.3 L1209.7,2378.8 L1210.7,2383.2 L1211.6,2387.4 L1212.5,2391.6 L1213.4,2395.6 L1214.4,2399.6 L1215.3,2403.4 L1216.2,2407.0 L1217.2,2410.6 L1218.1,2413.9 L1219.0,2417.1 L1219.9,2420.2 L1220.9,2423.1 L1221.8,2425.8 L1222.7,2428.4 L1223.7,2430.9 L1224.6,2433.2 L1225.5,2435.4 L1226.4,2437.4 L1227.4,2439.3 L1228.3,2441.1 L1229.2,2442.7 L1230.2,2444.2 L1231.1,2445.6 L1232.0,2446.9 L1232.9,2448.1 L1233.9,2449.2 L1234.8,2450.2 L1235.7,2451.1 L1236.7,2452.0 L1237.6,2452.7 L1238.5,2453.4 L1239.4,2454.0 L1240.4,2454.6 L1241.3,2455.1 L1242.2,2455.5 L1243.2,2455.8 L1244.1,2456.0 L1245.0,2456.2 L1245.9,2456.3 L1246.9,2456.4 L1247.8,2456.3 L1248.7,2456.2 L1249.6,2456.0 L1250.6,2455.7 L1251.5,2455.3 L1252.4,2454.9 L1253.4,2454.3 L1254.3,2453.7 L1255.2,2453.0 L1256.1,2452.2 L1257.1,2451.4 L1258.0,2450.4 L1258.9,2449.5 L1259.9,2448.4 L1260.8,2447.3 L1261.7,2446.1 L1262.6,2444.8 L1263.6,2443.5 L1264.5,2442.1 L1265.4,2440.7 L1266.3,2439.2 L1267.3,2437.6 L1268.2,2436.0 L1269.1,2434.3 L1270.1,2432.5 L1271.0,2430.7 L1271.9,2428.8 L1272.8,2426.9 L1273.8,2424.9 L1274.7,2422.9 L1275.6,2420.8 L1276.6,2418.7 L1277.5,2416.5 L1278.4,2414.2 L1279.3,2412.0 L1280.3,2409.6 L1281.2,2407.2 L1282.1,2404.7 L1283.0,2402.2 L1284.0,2399.7 L1284.9,2397.0 L1285.8,2394.4 L1286.8,2391.6 L1287.7,2388.8 L1288.6,2386.0 L1289.5,2383.1 L1290.5,2380.1 L1291.4,2377.1 L1292.3,2374.0 L1293.3,2370.9 L1294.2,2367.7 L1295.1,2364.4 L1296.0,2361.1 L1297.0,2357.8 L1297.9,2354.4 L1298.8,2351.0 L1299.7,2347.5 L1300.7,2343.9 L1301.6,2340.3 L1302.5,2336.7 L1303.5,2333.0 L1304.4,2329.3 L1305.3,2325.5 L1306.2,2321.7 L1307.2,2317.8 L1308.1,2313.9 L1309.0,2310.0 L1310.0,2306.0 L1310.9,2301.9 L1311.8,2297.8 L1312.7,2293.7 L1313.7,2289.5 L1314.6,2285.3 L1315.5,2281.0 L1316.4,2276.7 L1317.4,2272.3 L1318.3,2267.9 L1319.2,2263.5 L1320.2,2259.0 L1321.1,2254.5 L1322.0,2249.9 L1322.9,2245.3 L1323.9,2240.7 L1324.8,2236.0 L1325.7,2231.2 L1326.6,2226.5 L1327.6,2221.6 L1328.5,2216.8 L1329.4,2211.9 L1330.4,2206.9 L1331.3,2201.9 L1332.2,2196.9 L1333.1,2191.8 L1334.1,2186.7 L1335.0,2181.6 L1335.9,2176.3 L1336.9,2171.1 L1337.8,2165.8 L1338.7,2160.5 L1339.6,2155.1 L1340.6,2149.6 L1341.5,2144.2 L1342.4,2138.7 L1343.3,2133.1 L1344.3,2127.5 L1345.2,2121.9 L1346.1,2116.3 L1347.1,2110.6 L1348.0,2104.8 L1348.9,2099.1 L1349.8,2093.3 L1350.8,2087.4 L1351.7,2081.5 L1352.6,2075.6 L1353.6,2069.7 L1354.5,2063.7 L1355.4,2057.7 L1356.3,2051.6 L1357.3,2045.5 L1358.2,2039.4 L1359.1,2033.3 L1360.0,2027.2 L1361.0,2021.0 L1361.9,2014.8 L1362.8,2008.5 L1363.8,2002.3 L1364.7,1996.0 L1365.6,1989.8 L1366.5,1983.5 L1367.5,1977.1 L1368.4,1970.8 L1369.3,1964.5 L1370.3,1958.1 L1371.2,1951.7 L1372.1,1945.4 L1373.0,1939.0 L1374.0,1932.6 L1374.9,1926.2 L1375.8,1919.8 L1376.7,1913.4 L1377.7,1907.2 L1378.6,1900.9 L1379.5,1894.8 L1380.5,1888.7 L1381.4,1882.8 L1382.3,1876.9 L1383.2,1871.1 L1384.2,1865.5 L1385.1,1860.1 L1386.0,1854.8 L1387.0,1849.6 L1387.9,1844.6 L1388.8,1839.7 L1389.7,1835.0 L1390.7,1830.5 L1391.6,1826.1 L1392.5,1821.8 L1393.4,1817.8 L1394.4,1813.9 L1395.3,1810.2 L1396.2,1806.6 L1397.2,1803.2 L1398.1,1799.8 L1399.0,1796.6 L1399.9,1793.5 L1400.9,1790.6 L1401.8,1787.7 L1402.7,1785.0 L1403.7,1782.4 L1404.6,1779.9 L1405.5,1777.5 L1406.4,1775.2 L1407.4,1773.0 L1408.3,1770.9 L1409.2,1768.9 L1410.1,1767.0 L1411.1,1765.2 L1412.0,1763.5 L1412.9,1761.8 L1413.9,1760.3 L1414.8,1758.8 L1415.7,1757.5 L1416.6,1756.2 L1417.6,1755.0 L1418.5,1753.9 L1419.4,1752.8 L1420.4,1751.9 L1421.3,1751.0 L1422.2,1750.2 L1423.1,1749.4 L1424.1,1748.7 L1425.0,1748.1 L1425.9,1747.5 L1426.8,1747.0 L1427.8,1746.6 L1428.7,1746.2 L1429.6,1745.9 L1430.6,1745.7 L1431.5,1745.5 L1432.4,1745.3 L1433.3,1745.2 L1434.3,1745.2 L1435.2,1745.2 L1436.1,1745.3 L1437.1,1745.4 L1438.0,1745.6 L1438.9,1745.9 L1439.8,1746.2 L1440.8,1746.5 L1441.7,1746.9 L1442.6,1747.4 L1443.5,1747.9 L1444.5,1748.4 L1445.4,1749.0 L1446.3,1749.7 L1447.3,1750.4 L1448.2,1751.1 L1449.1,1751.9 L1450.0,1752.7 L1451.0,1753.6 L1451.9,1754.5 L1452.8,1755.5 L1453.7,1756.5 L1454.7,1757.6 L1455.6,1758.7 L1456.5,1759.9 L1457.5,1761.1 L1458.4,1762.3 L1459.3,1763.6 L1460.2,1765.0 L1461.2,1766.3 L1462.1,1767.8 L1463.0,1769.2 L1463.9,1770.7 L1464.9,1772.3 L1465.8,1773.9 L1466.7,1775.5 L1467.7,1777.2 L1468.6,1779.0 L1469.5,1780.7 L1470.4,1782.5 L1471.4,1784.4 L1472.3,1786.3 L1473.2,1788.2 L1474.1,1790.2 L1475.1,1792.2 L1476.0,1794.3 L1476.9,1796.4 L1477.9,1798.5 L1478.8,1800.7 L1479.7,1802.9 L1480.6,1805.2 L1481.6,1807.4 L1482.5,1809.8 L1483.4,1812.1 L1484.3,1814.6 L1485.3,1817.0 L1486.2,1819.5 L1487.1,1822.0 L1488.1,1824.6 L1489.0,1827.2 L1489.9,1829.8 L1490.8,1832.5 L1491.8,1835.2 L1492.7,1837.9 L1493.6,1840.7 L1494.5,1843.5 L1495.5,1846.4 L1496.4,1849.3 L1497.3,1852.2 L1498.3,1855.2 L1499.2,1858.2 L1500.1,1861.3 L1501.0,1864.3 L1502.0,1867.5 L1502.9,1870.6 L1503.8,1873.8 L1504.8,1877.0 L1505.7,1880.3 L1506.6,1883.5 L1507.5,1886.9 L1508.5,1890.2 L1509.4,1893.6 L1510.3,1897.0 L1511.2,1900.5 L1512.2,1904.0 L1513.1,1907.5 L1514.0,1911.1 L1515.0,1914.7 L1515.9,1918.3 L1516.8,1922.0 L1517.7,1925.7 L1518.7,1929.4 L1519.6,1933.2 L1520.5,1936.9 L1521.4,1940.8 L1522.4,1944.6 L1523.3,1948.5 L1524.2,1952.4 L1525.2,1956.4 L1526.1,1960.3 L1527.0,1964.4 L1527.9,1968.4 L1528.9,1972.5 L1529.8,1976.6 L1530.7,1980.7 L1531.6,1984.9 L1532.6,1989.0 L1533.5,1993.3 L1534.4,1997.5 L1535.4,2001.8 L1536.3,2006.1 L1537.2,2010.4 L1538.1,2014.8 L1539.1,2019.2 L1540.0,2023.6 L1540.9,2028.0 L1541.8,2032.5 L1542.8,2037.0 L1543.7,2041.5 L1544.6,2046.0 L1545.6,2050.6 L1546.5,2055.2 L1547.4,2059.8 L1548.3,2064.4 L1549.3,2069.1 L1550.2,2073.8 L1551.1,2078.5 L1552.0,2083.2 L1553.0,2088.0 L1553.9,2092.8 L1554.8,2097.6 L1555.8,2102.4 L1556.7,2107.3 L1557.6,2112.1 L1558.5,2117.0 L1559.5,2121.9 L1560.4,2126.9 L1561.3,2131.8 L1562.3,2136.8 L1563.2,2141.8 L1564.1,2146.8 L1565.0,2151.9 L1566.0,2156.9 L1566.9,2162.0 L1567.8,2167.1 L1568.7,2172.2 L1569.7,2177.3 L1570.6,2182.5 L1571.5,2187.6 L1572.5,2192.8 L1573.4,2198.0 L1574.3,2203.1 L1575.2,2208.3 L1576.2,2213.6 L1577.1,2218.8 L1578.0,2224.0 L1578.9,2229.3 L1579.9,2234.5 L1580.8,2239.8 L1581.7,2245.1 L1582.7,2250.4 L1583.6,2255.7 L1584.5,2261.0 L1585.4,2266.3 L1586.4,2271.6 L1587.3,2276.9 L1588.2,2282.0 L1589.1,2287.1 L1590.1,2292.1 L1591.0,2296.9 L1591.9,2301.5 L1592.9,2306.1 L1593.8,2310.5 L1594.7,2314.9 L1595.6,2319.1 L1596.6,2323.2 L1597.5,2327.2 L1598.4,2331.1 L1599.3,2334.8 L1600.3,2338.3 L1601.2,2341.7 L1602.1,2345.0 L1603.1,2348.1 L1604.0,2351.0 L1604.9,2353.8 L1605.8,2356.5 L1606.8,2359.0 L1607.7,2361.3 L1608.6,2363.5 L1609.5,2365.6 L1610.5,2367.5 L1611.4,2369.3 L1612.3,2370.9 L1613.3,2372.4 L1614.2,2373.8 L1615.1,2375.2 L1616.0,2376.4 L1617.0,2377.5 L1617.9,2378.5 L1618.8,2379.5 L1619.8,2380.3 L1620.7,2381.1 L1621.6,2381.8 L1622.5,2382.4 L1623.5,2383.0 L1624.4,2383.5 L1625.3,2383.9 L1626.2,2384.2 L1627.2,2384.5 L1628.1,2384.7 L1629.0,2384.8 L1630.0,2384.8 L1630.9,2384.8 L1631.8,2384.6 L1632.7,2384.4 L1633.7,2384.1 L1634.6,2383.7 L1635.5,2383.3 L1636.4,2382.7 L1637.4,2382.1 L1638.3,2381.4 L1639.2,2380.6 L1640.2,2379.8 L1641.1,2378.9 L1642.0,2377.9 L1642.9,2376.8 L1643.9,2375.7 L1644.8,2374.5 L1645.7,2373.2 L1646.6,2371.9 L1647.6,2370.5 L1648.5,2369.1 L1649.4,2367.6 L1650.4,2366.0 L1651.3,2364.4 L1652.2,2362.7 L1653.1,2360.9 L1654.1,2359.1 L1655.0,2357.2 L1655.9,2355.3 L1656.8,2353.3 L1657.8,2351.3 L1658.7,2349.2 L1659.6,2347.1 L1660.6,2344.9 L1661.5,2342.6 L1662.4,2340.3 L1663.3,2338.0 L1664.3,2335.6 L1665.2,2333.1 L1666.1,2330.6 L1667.0,2328.0 L1668.0,2325.4 L1668.9,2322.7 L1669.8,2320.0 L1670.8,2317.2 L1671.7,2314.3 L1672.6,2311.4 L1673.5,2308.4 L1674.5,2305.4 L1675.4,2302.3 L1676.3,2299.2 L1677.2,2296.0 L1678.2,2292.8 L1679.1,2289.5 L1680.0,2286.1 L1681.0,2282.7 L1681.9,2279.3 L1682.8,2275.8 L1683.7,2272.2 L1684.7,2268.7 L1685.6,2265.0 L1686.5,2261.3 L1687.4,2257.6 L1688.4,2253.8 L1689.3,2250.0 L1690.2,2246.1 L1691.2,2242.2 L1692.1,2238.2 L1693.0,2234.2 L1693.9,2230.1 L1694.9,2226.0 L1695.8,2221.9 L1696.7,2217.7 L1697.6,2213.5 L1698.6,2209.2 L1699.5,2204.9 L1700.4,2200.5 L1701.4,2196.1 L1702.3,2191.6 L1703.2,2187.1 L1704.1,2182.6 L1705.1,2178.0 L1706.0,2173.4 L1706.9,2168.7 L1707.8,2164.0 L1708.8,2159.3 L1709.7,2154.5 L1710.6,2149.7 L1711.6,2144.8 L1712.5,2139.9 L1713.4,2134.9 L1714.3,2129.9 L1715.3,2124.9 L1716.2,2119.8 L1717.1,2114.7 L1718.0,2109.5 L1719.0,2104.3 L1719.9,2099.0 L1720.8,2093.7 L1721.7,2088.4 L1722.7,2083.0 L1723.6,2077.6 L1724.5,2072.1 L1725.5,2066.6 L1726.4,2061.0 L1727.3,2055.4 L1728.2,2049.8 L1729.2,2044.1 L1730.1,2038.4 L1731.0,2032.6 L1731.9,2026.8 L1732.9,2021.0 L1733.8,2015.1 L1734.7,2009.2 L1735.7,2003.3 L1736.6,1997.3 L1737.5,1991.3 L1738.4,1985.3 L1739.4,1979.2 L1740.3,1973.1 L1741.2,1966.9 L1742.1,1960.8 L1743.1,1954.6 L1744.0,1948.3 L1744.9,1942.1 L1745.9,1935.8 L1746.8,1929.5 L1747.7,1923.2 L1748.6,1916.8 L1749.6,1910.5 L1750.5,1904.1 L1751.4,1897.7 L1752.3,1891.3 L1753.3,1884.8 L1754.2,1878.4 L1755.1,1871.9 L1756.1,1865.5 L1757.0,1859.0 L1757.9,1852.5 L1758.8,1846.0 L1759.8,1839.5 L1760.7,1833.0 L1761.6,1826.5 L1762.5,1820.2 L1763.5,1813.9 L1764.4,1807.7 L1765.3,1801.7 L1766.3,1795.7 L1767.2,1790.0 L1768.1,1784.3 L1769.0,1778.9 L1770.0,1773.6 L1770.9,1768.6 L1771.8,1763.7 L1772.7,1759.0 L1773.7,1754.5 L1774.6,1750.3 L1775.5,1746.2 L1776.5,1742.2 L1777.4,1738.4 L1778.3,1734.8 L1779.2,1731.4 L1780.2,1728.0 L1781.1,1724.8 L1782.0,1721.8 L1782.9,1718.9 L1783.9,1716.1 L1784.8,1713.4 L1785.7,1710.8 L1786.7,1708.4 L1787.6,1706.1 L1788.5,1703.8 L1789.4,1701.7 L1790.4,1699.7 L1791.3,1697.7 L1792.2,1695.9 L1793.1,1694.1 L1794.1,1692.5 L1795.0,1690.9 L1795.9,1689.5 L1796.9,1688.1 L1797.8,1686.7 L1798.7,1685.5 L1799.6,1684.3 L1800.6,1683.3 L1801.5,1682.2 L1802.4,1681.3 L1803.3,1680.4 L1804.3,1679.6 L1805.2,1678.8 L1806.1,1678.1 L1807.1,1677.4 L1808.0,1676.8 L1808.9,1676.3 L1809.8,1675.8 L1810.8,1675.3 L1811.7,1674.9 L1812.6,1674.6 L1813.5,1674.3 L1814.5,1674.1 L1815.4,1673.9 L1816.3,1673.7 L1817.3,1673.7 L1818.2,1673.6 L1818.3,1673.6 L1818.3,1673.6 L1818.4,1673.6 L1818.5,1673.6 L1818.5,1673.6 L1818.6,1673.6 L1818.7,1673.6 L1818.7,1673.6 L1818.8,1673.6 L1818.9,1673.6 L1818.9,1673.6 L1819.0,1673.6 L1819.1,1673.7 L1819.1,1673.7 L1819.2,1673.7 L1819.3,1673.7 L1819.4,1673.7 L1819.4,1673.7 L1819.5,1673.7 L1819.6,1673.7 L1819.6,1673.7 L1819.7,1673.7 L1819.8,1673.7 L1819.8,1673.7 L1819.9,1673.7 L1820.0,1673.7 L1820.0,1673.7 L1820.1,1673.7 L1820.2,1673.7 L1820.3,1673.7 L1820.3,1673.7 L1820.4,1673.8 L1820.5,1673.8 L1820.5,1673.8 L1820.6,1673.8 L1820.7,1673.8 L1820.7,1673.8 L1820.8,1673.8 L1820.9,1673.8 L1820.9,1673.8 L1821.0,1673.8 L1821.1,1673.8 L1821.2,1673.8 L1821.2,1673.9 L1821.3,1673.9 L1821.4,1673.9 L1821.4,1673.9 L1821.5,1673.9 L1821.6,1673.9 L1821.6,1673.9 L1821.7,1673.9 L1821.8,1673.9 L1821.8,1674.0 L1821.9,1674.0 L1822.0,1674.0 L1822.0,1674.0 L1822.1,1674.0 L1822.2,1674.0 L1822.3,1674.0 L1822.3,1674.1 L1822.4,1674.1 L1822.5,1674.1 L1822.5,1674.1 L1822.6,1674.1 L1822.7,1674.1 L1822.7,1674.1 L1822.8,1674.2 L1822.9,1674.2 L1822.9,1674.2 L1823.0,1674.2 L1823.1,1674.2 L1823.2,1674.2 L1823.2,1674.3 L1823.3,1674.3 L1823.4,1674.3 L1823.4,1674.3 L1823.5,1674.3 L1823.6,1674.3 L1823.6,1674.4 L1823.7,1674.4 L1823.8,1674.4 L1823.8,1674.4 L1823.9,1674.4 L1824.0,1674.5 L1824.0,1674.5 L1824.1,1674.5 L1824.2,1674.5 L1824.3,1674.5 L1824.3,1674.6 L1824.4,1674.6 L1824.5,1674.6 L1824.5,1674.6 L1824.6,1674.6 L1824.7,1674.7 L1824.7,1674.7 L1824.8,1674.7 L1824.9,1674.7 L1824.9,1674.8 L1825.0,1674.8 L1825.1,1674.8 L1825.2,1674.8 L1825.2,1674.8 L1825.3,1674.9 L1825.4,1674.9 L1825.4,1674.9 L1825.5,1674.9 L1825.6,1675.0 L1825.6,1675.0 L1825.7,1675.0 L1825.8,1675.0 L1825.8,1675.1 L1825.9,1675.1 L1826.0,1675.1 L1826.0,1675.1 L1826.1,1675.2 L1826.2,1675.2 L1826.3,1675.2 L1826.3,1675.3 L1826.4,1675.3 L1826.5,1675.3 L1826.5,1675.3 L1826.6,1675.4 L1826.7,1675.4 L1826.7,1675.4 L1826.8,1675.5 L1826.9,1675.5 L1826.9,1675.5 L1827.0,1675.5 L1827.1,1675.6 L1827.2,1675.6 L1827.2,1675.6 L1827.3,1675.7 L1827.4,1675.7 L1827.4,1675.7 L1827.5,1675.8 L1827.6,1675.8 L1827.6,1675.8 L1827.7,1675.9 L1827.8,1675.9 L1827.8,1675.9 L1827.9,1675.9 L1828.0,1676.0 L1828.1,1676.0 L1828.1,1676.0 L1828.2,1676.1 L1828.3,1676.1 L1828.3,1676.1 L1828.4,1676.2 L1828.5,1676.2 L1828.5,1676.3 L1828.6,1676.3 L1828.7,1676.3 L1828.7,1676.4 L1828.8,1676.4 L1828.9,1676.4 L1828.9,1676.5 L1829.0,1676.5 L1829.1,1676.5 L1829.2,1676.6 L1829.2,1676.6 L1829.3,1676.6 L1829.4,1676.7 L1829.4,1676.7 L1829.5,1676.8 L1829.6,1676.8 L1829.6,1676.8 L1829.7,1676.9 L1829.8,1676.9 L1829.8,1677.0 L1829.9,1677.0 L1830.0,1677.0 L1830.1,1677.1 L1830.1,1677.1 L1830.2,1677.2 L1830.3,1677.2 L1830.3,1677.2 L1830.4,1677.3 L1830.5,1677.3 L1830.5,1677.4 L1830.6,1677.4 L1830.7,1677.4 L1830.7,1677.5 L1830.8,1677.5 L1830.9,1677.6 L1830.9,1677.6 L1831.0,1677.6 L1831.1,1677.7 L1831.2,1677.7 L1831.2,1677.8 L1831.3,1677.8 L1831.4,1677.9 L1831.4,1677.9 L1831.5,1678.0 L1831.6,1678.0 L1831.6,1678.0 L1831.7,1678.1 L1831.8,1678.1 L1831.8,1678.2 L1831.9,1678.2 L1832.0,1678.3 L1832.1,1678.3 L1832.1,1678.4 L1832.2,1678.4 L1832.3,1678.5 L1832.3,1678.5 L1832.4,1678.5 L1832.5,1678.6 L1832.5,1678.6 L1832.6,1678.7 L1832.7,1678.7 L1832.7,1678.8 L1832.8,1678.8 L1832.9,1678.9 L1832.9,1678.9 L1833.0,1679.0 L1833.1,1679.0 L1833.2,1679.1 L1833.2,1679.1 L1833.3,1679.2 L1833.4,1679.2 L1833.4,1679.3 L1833.5,1679.3 L1833.6,1679.4 L1833.6,1679.4 L1833.7,1679.5 L1833.8,1679.5 L1833.8,1679.6 L1833.9,1679.6 L1834.0,1679.7 L1834.1,1679.7 L1834.1,1679.8 L1834.2,1679.9 L1834.3,1679.9 L1834.3,1680.0 L1834.4,1680.0 L1834.5,1680.1 L1834.5,1680.1 L1834.6,1680.2 L1834.7,1680.2 L1834.7,1680.3 L1834.8,1680.3 L1834.9,1680.4 L1835.0,1680.5 L1835.0,1680.5 L1835.1,1680.6 L1835.2,1680.6 L1835.2,1680.7 L1835.3,1680.7 L1835.4,1680.8 L1835.4,1680.8 L1835.5,1680.9 L1835.6,1681.0 L1835.6,1681.0 L1835.7,1681.1 L1835.8,1681.1 L1835.8,1681.2 L1835.9,1681.2 L1836.0,1681.3 L1836.1,1681.4 L1836.1,1681.4 L1836.2,1681.5 L1836.3,1681.5 L1836.3,1681.6 L1836.4,1681.7 L1836.5,1681.7 L1836.5,1681.8 L1836.6,1681.8 L1836.7,1681.9 L1836.7,1682.0 L1836.8,1682.0 L1836.9,1682.1 L1837.0,1682.2 L1837.0,1682.2 L1837.1,1682.3 L1837.2,1682.3 L1837.2,1682.4 L1837.3,1682.5 L1837.4,1682.5 L1837.4,1682.6 L1837.5,1682.7 L1837.6,1682.7 L1837.6,1682.8 L1837.7,1682.8 L1837.8,1682.9 L1837.8,1683.0 L1837.9,1683.0 L1838.0,1683.1 L1838.1,1683.2 L1838.1,1683.2 L1838.2,1683.3 L1838.3,1683.4 L1838.3,1683.4 L1838.4,1683.5 L1838.5,1683.6 L1838.5,1683.6 L1838.6,1683.7 L1838.7,1683.8 L1838.7,1683.8 L1838.8,1683.9 L1838.9,1684.0 L1839.0,1684.0 L1839.0,1684.1 L1839.1,1684.2 L1839.2,1684.2 L1839.2,1684.3 L1839.3,1684.4 L1839.4,1684.5 L1839.4,1684.5 L1839.5,1684.6 L1839.6,1684.7 L1839.6,1684.7 L1839.7,1684.8 L1839.8,1684.9 L1839.8,1684.9 L1839.9,1685.0 L1840.0,1685.1 L1840.1,1685.2 L1840.1,1685.2 L1840.2,1685.3 L1840.3,1685.4 L1840.3,1685.4 L1840.4,1685.5 L1840.5,1685.6 L1840.5,1685.7 L1840.6,1685.7 L1840.7,1685.8 L1840.7,1685.9 L1840.8,1686.0 L1840.9,1686.0 L1841.0,1686.1 L1841.0,1686.2 L1841.1,1686.3 L1841.2,1686.3 L1841.2,1686.4 L1841.3,1686.5 L1841.4,1686.6 L1841.4,1686.6 L1841.5,1686.7 L1841.6,1686.8 L1841.6,1686.9 L1841.7,1686.9 L1841.8,1687.0 L1841.9,1687.1 L1841.9,1687.2 L1842.0,1687.2 L1842.1,1687.3 L1842.1,1687.4 L1842.2,1687.5 L1842.3,1687.5 L1842.3,1687.6 L1842.4,1687.7 L1842.5,1687.8 L1842.5,1687.9 L1842.6,1687.9 L1842.7,1688.0 L1842.7,1688.1 L1842.8,1688.2 L1842.9,1688.3 L1843.0,1688.3 L1843.0,1688.4 L1843.1,1688.5 L1843.2,1688.6 L1843.2,1688.7 L1843.3,1688.7 L1843.4,1688.8 L1843.4,1688.9 L1843.5,1689.0 L1843.6,1689.1 L1843.6,1689.1 L1843.7,1689.2 L1843.8,1689.3 L1843.9,1689.4 L1843.9,1689.5 L1844.0,1689.5 L1844.1,1689.6 L1844.1,1689.7 L1844.2,1689.8 L1844.3,1689.9 L1844.3,1690.0 L1844.4,1690.0 L1844.5,1690.1 L1844.5,1690.2 L1844.6,1690.3 L1844.7,1690.4 L1844.7,1690.5 L1844.8,1690.5 L1844.9,1690.6 L1845.0,1690.7 L1845.0,1690.8 L1845.1,1690.9 L1845.2,1691.0 L1845.2,1691.1 L1845.3,1691.1 L1845.4,1691.2 L1845.4,1691.3 L1845.5,1691.4 L1845.6,1691.5 L1845.6,1691.6 L1845.7,1691.7 L1845.8,1691.7 L1845.9,1691.8 L1845.9,1691.9 L1846.0,1692.0 L1846.1,1692.1 L1846.1,1692.2 L1846.2,1692.3 L1846.3,1692.4 L1846.3,1692.4 L1846.4,1692.5 L1846.5,1692.6 L1846.5,1692.7 L1846.6,1692.8 L1846.7,1692.9 L1846.7,1693.0 L1846.8,1693.1 L1846.9,1693.2 L1847.0,1693.2 L1847.0,1693.3 L1847.1,1693.4 L1847.2,1693.5 L1847.2,1693.6 L1847.3,1693.7 L1847.4,1693.8 L1847.4,1693.9 L1847.5,1694.0 L1847.6,1694.1 L1847.6,1694.1 L1847.7,1694.2 L1847.8,1694.3 L1847.9,1694.4 L1847.9,1694.5 L1848.0,1694.6 L1848.1,1694.7 L1848.1,1694.8 L1848.2,1694.9 L1848.3,1695.0 L1848.3,1695.1 L1848.4,1695.2 L1848.5,1695.3 L1848.5,1695.3 L1848.6,1695.4 L1848.7,1695.5 L1848.8,1695.6 L1848.8,1695.7 L1848.9,1695.8 L1849.0,1695.9 L1849.0,1696.0 L1849.1,1696.1 L1849.2,1696.2 L1849.2,1696.3 L1849.3,1696.4 L1849.4,1696.5 L1849.4,1696.6 L1849.5,1696.7 L1849.6,1696.8 L1849.6,1696.9 L1849.7,1697.0 L1849.8,1697.0 L1849.9,1697.1 L1849.9,1697.2 L1850.0,1697.3 L1850.1,1697.4 L1850.1,1697.5 L1850.2,1697.6 L1850.3,1697.7 L1850.3,1697.8 L1850.4,1697.9 L1850.5,1698.0 L1850.5,1698.1 L1850.6,1698.2 L1850.7,1698.3 L1850.8,1698.4 L1850.8,1698.5 L1850.9,1698.6 L1851.0,1698.7 L1851.0,1698.8 L1851.1,1698.9 L1851.2,1699.0 L1851.2,1699.1 L1851.3,1699.2 L1851.4,1699.3 L1851.4,1699.4 L1851.5,1699.5 L1851.6,1699.6 L1851.6,1699.7 L1851.7,1699.8 L1851.8,1699.9 L1851.9,1700.0 L1851.9,1700.1 L1852.0,1700.2 L1852.1,1700.3 L1852.1,1700.4 L1852.2,1700.5 L1852.3,1700.6 L1852.3,1700.7 L1852.4,1700.8 L1852.5,1700.9 L1852.5,1701.0 L1852.6,1701.1 L1852.7,1701.2 L1852.8,1701.3 L1852.8,1701.4 L1852.9,1701.5 L1853.0,1701.6 L1853.0,1701.7 L1853.1,1701.8 L1853.2,1701.9 L1853.2,1702.0 L1853.3,1702.1 L1853.4,1702.2 L1853.4,1702.3 L1853.5,1702.4 L1853.6,1702.5 L1853.6,1702.7 L1853.7,1702.8 L1853.8,1702.9 L1853.9,1703.0 L1853.9,1703.1 L1854.0,1703.2 L1854.1,1703.3 L1854.1,1703.4 L1854.2,1703.5 L1854.3,1703.6 L1854.3,1703.7 L1854.4,1703.8 L1854.5,1703.9 L1854.5,1704.0 L1854.6,1704.1 L1854.7,1704.2 L1854.8,1704.3 L1854.8,1704.4 L1854.9,1704.6 L1855.0,1704.7 L1855.0,1704.8 L1855.1,1704.9 L1855.2,1705.0 L1855.2,1705.1 L1855.3,1705.2 L1855.4,1705.3 L1855.4,1705.4 L1855.5,1705.5 L1855.6,1705.6 L1855.7,1705.7 L1855.7,1705.8 L1855.8,1706.0 L1855.9,1706.1 L1855.9,1706.2 L1856.0,1706.3 L1856.1,1706.4 L1856.1,1706.5 L1856.2,1706.6 L1856.3,1706.7 L1856.3,1706.8 L1856.4,1706.9 L1856.5,1707.0 L1856.5,1707.2 L1856.6,1707.3 L1856.7,1707.4 L1856.8,1707.5 L1856.8,1707.6 L1856.9,1707.7 L1857.0,1707.8 L1857.0,1707.9 L1857.1,1708.0 L1857.2,1708.2 L1857.2,1708.3 L1857.3,1708.4 L1857.4,1708.5 L1857.4,1708.6 L1857.5,1708.7 L1857.6,1708.8 L1857.7,1708.9 L1857.7,1709.0 L1857.8,1709.2 L1857.9,1709.3 L1857.9,1709.4 L1858.0,1709.5 L1858.1,1709.6 L1858.1,1709.7 L1858.2,1709.8 L1858.3,1710.0 L1858.3,1710.1 L1858.4,1710.2 L1858.5,1710.3 L1858.5,1710.4 L1858.6,1710.5 L1858.7,1710.6 L1858.8,1710.7 L1858.8,1710.9 L1858.9,1711.0 L1859.0,1711.1 L1859.0,1711.2 L1859.1,1711.3 L1859.2,1711.4 L1859.2,1711.6 L1859.3,1711.7 L1859.4,1711.8 L1859.4,1711.9 L1859.5,1712.0 L1859.6,1712.1 L1859.7,1712.2 L1859.7,1712.4 L1859.8,1712.5 L1859.9,1712.6 L1859.9,1712.7 L1860.0,1712.8 L1860.1,1712.9 L1860.1,1713.1 L1860.2,1713.2 L1860.3,1713.3 L1860.3,1713.4 L1860.4,1713.5 L1860.5,1713.7 L1860.5,1713.8 L1860.6,1713.9 L1860.7,1714.0 L1860.8,1714.1 L1860.8,1714.2 L1860.9,1714.4 L1861.0,1714.5 L1861.0,1714.6 L1861.1,1714.7 L1861.2,1714.8 L1861.2,1715.0 L1861.3,1715.1 L1861.4,1715.2 L1861.4,1715.3 L1861.5,1715.4 L1861.6,1715.6 L1861.7,1715.7 L1861.7,1715.8 L1861.8,1715.9 L1861.9,1716.0 L1861.9,1716.2 L1862.0,1716.3 L1862.1,1716.4 L1862.1,1716.5 L1862.2,1716.6 L1862.3,1716.8 L1862.3,1716.9 L1862.4,1717.0 L1862.5,1717.1 L1862.6,1717.3 L1862.6,1717.4 L1862.7,1717.5 L1862.8,1717.6 L1862.8,1717.7 L1862.9,1717.9 L1863.0,1718.0 L1863.0,1718.1 L1863.1,1718.2 L1863.2,1718.4 L1863.2,1718.5 L1863.3,1718.6 L1863.4,1718.7 L1863.4,1718.8 L1863.5,1719.0 L1863.6,1719.1 L1863.7,1719.2 L1863.7,1719.3 L1863.8,1719.5 L1863.9,1719.6 L1863.9,1719.7 L1864.0,1719.8 L1864.0,1719.8" fill="none" stroke="#ff00ff" stroke-width="8" stroke-linejoin="round" shape-rendering="crispEdges" stroke-dasharray="23 3.8 12.5 3.8" clip-path="url(#cb)"/>
<g stroke="#222222" stroke-width="6" stroke-linecap="butt"><line x1="208.0" y1="1617.0" x2="228.0" y2="1617.0"/><line x1="1864.0" y1="1617.0" x2="1844.0" y2="1617.0"/><line x1="208.0" y1="1790.7" x2="228.0" y2="1790.7"/><line x1="1864.0" y1="1790.7" x2="1844.0" y2="1790.7"/><line x1="208.0" y1="1964.4" x2="228.0" y2="1964.4"/><line x1="1864.0" y1="1964.4" x2="1844.0" y2="1964.4"/><line x1="208.0" y1="2138.1" x2="228.0" y2="2138.1"/><line x1="1864.0" y1="2138.1" x2="1844.0" y2="2138.1"/><line x1="208.0" y1="2311.9" x2="228.0" y2="2311.9"/><line x1="1864.0" y1="2311.9" x2="1844.0" y2="2311.9"/><line x1="208.0" y1="2485.6" x2="228.0" y2="2485.6"/><line x1="1864.0" y1="2485.6" x2="1844.0" y2="2485.6"/><line x1="208.0" y1="2659.3" x2="228.0" y2="2659.3"/><line x1="1864.0" y1="2659.3" x2="1844.0" y2="2659.3"/><line x1="208.0" y1="2833.0" x2="228.0" y2="2833.0"/><line x1="1864.0" y1="2833.0" x2="1844.0" y2="2833.0"/><line x1="208.0" y1="2833.0" x2="208.0" y2="2813.0"/><line x1="208.0" y1="1617.0" x2="208.0" y2="1637.0"/><line x1="484.0" y1="2833.0" x2="484.0" y2="2813.0"/><line x1="484.0" y1="1617.0" x2="484.0" y2="1637.0"/><line x1="760.0" y1="2833.0" x2="760.0" y2="2813.0"/><line x1="760.0" y1="1617.0" x2="760.0" y2="1637.0"/><line x1="1036.0" y1="2833.0" x2="1036.0" y2="2813.0"/><line x1="1036.0" y1="1617.0" x2="1036.0" y2="1637.0"/><line x1="1312.0" y1="2833.0" x2="1312.0" y2="2813.0"/><line x1="1312.0" y1="1617.0" x2="1312.0" y2="1637.0"/><line x1="1588.0" y1="2833.0" x2="1588.0" y2="2813.0"/><line x1="1588.0" y1="1617.0" x2="1588.0" y2="1637.0"/><line x1="1864.0" y1="2833.0" x2="1864.0" y2="2813.0"/><line x1="1864.0" y1="1617.0" x2="1864.0" y2="1637.0"/></g><rect x="208.0" y="1617.0" width="1656.0" height="1216.0" fill="none" stroke="#222222" stroke-width="6"/><g font-family="'Liberation Serif', 'Times New Roman', serif" font-weight="bold" font-size="55" fill="#222222"><text x="188.5" y="1636.8" text-anchor="end">20</text><text x="188.5" y="1810.5" text-anchor="end">15</text><text x="188.5" y="1984.2" text-anchor="end">10</text><text x="188.5" y="2157.9" text-anchor="end">5</text><text x="188.5" y="2331.7" text-anchor="end">0</text><text x="188.5" y="2505.4" text-anchor="end">−5</text><text x="188.5" y="2679.1" text-anchor="end">−10</text><text x="188.5" y="2852.8" text-anchor="end">−15</text><text x="208.0" y="2904.3" text-anchor="middle">0</text><text x="484.0" y="2904.3" text-anchor="middle">100</text><text x="760.0" y="2904.3" text-anchor="middle">200</text><text x="1036.0" y="2904.3" text-anchor="middle">300</text><text x="1312.0" y="2904.3" text-anchor="middle">400</text><text x="1588.0" y="2904.3" text-anchor="middle">500</text><text x="1864.0" y="2904.3" text-anchor="middle">600</text></g>
<line x1="259.0" y1="1686.3" x2="395.0" y2="1686.3" stroke="#000000" stroke-width="8"/><line x1="259.0" y1="1744.3" x2="395.0" y2="1744.3" stroke="#ff0000" stroke-width="8" stroke-dasharray="23 20.5"/><line x1="553.0" y1="1686.3" x2="689.0" y2="1686.3" stroke="#0000ff" stroke-width="8" stroke-dasharray="6.2 4.63"/><line x1="553.0" y1="1744.3" x2="689.0" y2="1744.3" stroke="#ff00ff" stroke-width="8" stroke-dasharray="22.5 4.5 12 4"/><g font-family="'Liberation Serif', 'Times New Roman', serif" font-weight="bold" font-size="49.7" fill="#000"><text x="404.3" y="1703.7">RHM</text><text x="404.6" y="1761.7">GPR</text><text x="698.2" y="1703.7">LGPR</text><text x="698.5" y="1761.7">NN</text></g>
<text x="1040.5" y="1406.8" text-anchor="middle" font-family="'Liberation Serif', 'Times New Roman', serif" font-weight="bold" font-size="71.5" fill="#222222">time(s)</text>
<text x="1035.6" y="2986.4" text-anchor="middle" font-family="'Liberation Serif', 'Times New Roman', serif" font-weight="bold" font-size="71.5" fill="#222222">time(s)</text>
<text transform="translate(78.3,646.2) rotate(-90)" text-anchor="middle" font-family="'Liberation Serif', 'Times New Roman', serif" font-weight="bold" font-size="71" fill="#404040" textLength="471.7" lengthAdjust="spacing">yaw rate(deg/s)</text>
<text transform="translate(78.3,2221.2) rotate(-90)" text-anchor="middle" font-family="'Liberation Serif', 'Times New Roman', serif" font-weight="bold" font-size="71" fill="#404040" textLength="592.6" lengthAdjust="spacing">heading angle(deg)</text>
<text x="908.2" y="1534.4" font-family="'Liberation Serif', 'Times New Roman', serif" font-size="86" fill="#000">(<tspan font-weight="bold">a</tspan>)</text>
<text x="903.1" y="3113.3" font-family="'Liberation Serif', 'Times New Roman', serif" font-size="86" fill="#000">(<tspan font-weight="bold">b</tspan>)</text>
</svg>
</body></html>
